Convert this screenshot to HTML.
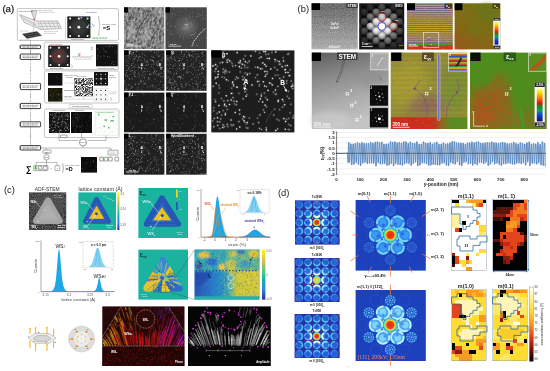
<!DOCTYPE html>
<html lang="en"><head><meta charset="utf-8"><title>Figure: 4D-STEM strain and symmetry mapping</title>
<style>
html,body{margin:0;padding:0;background:#fff;}
#fig{position:relative;width:550px;height:371px;overflow:hidden;background:#fff;}
svg{position:absolute;left:0;top:0;display:block;font-family:"Liberation Sans",sans-serif;filter:blur(0.3px);}
</style></head><body><div id="fig">
<svg width="550" height="371" viewBox="0 0 550 371">
<defs>
<filter id="nzA" x="0" y="0" width="100%" height="100%"><feTurbulence type="fractalNoise" baseFrequency="0.42 0.3" numOctaves="4" seed="3" result="t"/><feColorMatrix in="t" type="matrix" values="0 0 0 0 0  0 0 0 0 0  0 0 0 0 0  1.7 0 0 0 -0.5" result="n"/><feComposite in="SourceGraphic" in2="n" operator="in"/></filter>
<filter id="nzB" x="0" y="0" width="100%" height="100%"><feTurbulence type="fractalNoise" baseFrequency="0.9" numOctaves="2" seed="8" result="t"/><feColorMatrix in="t" type="matrix" values="0 0 0 0 0  0 0 0 0 0  0 0 0 0 0  0 3.4 0 0 -1.2" result="n"/><feComposite in="SourceGraphic" in2="n" operator="in"/></filter>
<filter id="bl1" x="-30%" y="-30%" width="160%" height="160%"><feGaussianBlur stdDeviation="1"/></filter>
<filter id="bl2" x="-30%" y="-30%" width="160%" height="160%"><feGaussianBlur stdDeviation="2.2"/></filter>
<filter id="bl4" x="-40%" y="-40%" width="180%" height="180%"><feGaussianBlur stdDeviation="4"/></filter>
<filter id="bl05" x="-30%" y="-30%" width="160%" height="160%"><feGaussianBlur stdDeviation="0.45"/></filter>
<linearGradient id="rainbow" x1="0" y1="0" x2="0" y2="1"><stop offset="0" stop-color="#fff8a0"/><stop offset="0.12" stop-color="#ffe000"/><stop offset="0.3" stop-color="#ff7000"/><stop offset="0.45" stop-color="#e01010"/><stop offset="0.55" stop-color="#109020"/><stop offset="0.68" stop-color="#10a060"/><stop offset="0.8" stop-color="#1040e0"/><stop offset="1" stop-color="#101060"/></linearGradient>
<linearGradient id="parula" x1="0" y1="0" x2="0" y2="1"><stop offset="0" stop-color="#f9fb0e"/><stop offset="0.25" stop-color="#d1ba58"/><stop offset="0.45" stop-color="#48cb86"/><stop offset="0.6" stop-color="#12b1b4"/><stop offset="0.8" stop-color="#2a88e0"/><stop offset="1" stop-color="#352a87"/></linearGradient>
<linearGradient id="hot" x1="0" y1="0" x2="0" y2="1"><stop offset="0" stop-color="#ffffff"/><stop offset="0.12" stop-color="#fff4a8"/><stop offset="0.3" stop-color="#ffe030"/><stop offset="0.5" stop-color="#f89820"/><stop offset="0.68" stop-color="#e03818"/><stop offset="0.85" stop-color="#701008"/><stop offset="1" stop-color="#000000"/></linearGradient>
<linearGradient id="stemG" x1="0" y1="0" x2="0.25" y2="1"><stop offset="0" stop-color="#5c5c5c"/><stop offset="0.35" stop-color="#8a8a8a"/><stop offset="0.7" stop-color="#adadad"/><stop offset="1" stop-color="#c4c4c4"/></linearGradient>
<linearGradient id="stem1G" x1="0" y1="0" x2="0" y2="1"><stop offset="0" stop-color="#565656"/><stop offset="0.5" stop-color="#868686"/><stop offset="1" stop-color="#b4b4b4"/></linearGradient>
<linearGradient id="map2G" x1="0.7" y1="0" x2="0.2" y2="1"><stop offset="0" stop-color="#737416"/><stop offset="0.5" stop-color="#806c16"/><stop offset="1" stop-color="#905e18"/></linearGradient>
<radialGradient id="dgray" cx="0.5" cy="0.5" r="0.5"><stop offset="0" stop-color="#8a8a8a"/><stop offset="0.35" stop-color="#626262"/><stop offset="1" stop-color="#626262" stop-opacity="0"/></radialGradient>
<radialGradient id="discA" cx="0.5" cy="0.35" r="0.7"><stop offset="0" stop-color="#ffffff"/><stop offset="0.55" stop-color="#b0b0b0"/><stop offset="1" stop-color="#303030"/></radialGradient>
<radialGradient id="ctr" cx="0.5" cy="0.5" r="0.5"><stop offset="0" stop-color="#e8281c"/><stop offset="0.45" stop-color="#f03c18"/><stop offset="0.6" stop-color="#f8d020"/><stop offset="0.74" stop-color="#70e090"/><stop offset="0.86" stop-color="#30c0f0"/><stop offset="1" stop-color="#2060e0" stop-opacity="0"/></radialGradient>
<radialGradient id="ctrY" cx="0.5" cy="0.5" r="0.5"><stop offset="0" stop-color="#d8e860"/><stop offset="0.4" stop-color="#b8e070"/><stop offset="0.6" stop-color="#f8d020"/><stop offset="0.74" stop-color="#70e090"/><stop offset="0.86" stop-color="#30c0f0"/><stop offset="1" stop-color="#2060e0" stop-opacity="0"/></radialGradient>
<radialGradient id="dsk" cx="0.5" cy="0.5" r="0.5"><stop offset="0" stop-color="#2a6cf0"/><stop offset="0.55" stop-color="#38a8f8"/><stop offset="0.85" stop-color="#70e0f0"/><stop offset="1" stop-color="#40b0f0" stop-opacity="0.2"/></radialGradient>
<radialGradient id="glow" cx="0.5" cy="0.5" r="0.5"><stop offset="0" stop-color="#fff" stop-opacity="0.75"/><stop offset="0.55" stop-color="#fff" stop-opacity="0.4"/><stop offset="1" stop-color="#fff" stop-opacity="0"/></radialGradient>
<linearGradient id="rg" x1="0" y1="0" x2="1" y2="0"><stop offset="0" stop-color="#cc281c"/><stop offset="0.55" stop-color="#c8301c"/><stop offset="0.68" stop-color="#8a6a20"/><stop offset="0.78" stop-color="#5c8a22"/><stop offset="1" stop-color="#5a8c22"/></linearGradient>
<linearGradient id="rotG" x1="0" y1="0" x2="1" y2="0"><stop offset="0" stop-color="#2a52b4"/><stop offset="0.25" stop-color="#2a78c8"/><stop offset="0.45" stop-color="#2e98c4"/><stop offset="0.55" stop-color="#58b89a"/><stop offset="0.64" stop-color="#d4c83c"/><stop offset="1" stop-color="#e6cc30"/></linearGradient>
</defs>

<text x="2.4" y="11.6" font-size="9.6" fill="#1a1a1a" font-weight="normal" text-anchor="start" stroke="#1a1a1a" stroke-width="0.25">(a)</text>
<rect x="17.3" y="8.6" width="101.2" height="31.8" rx="1.5" fill="none" stroke="#8a8a8a" stroke-width="0.5"/>
<g stroke="#555" stroke-width="0.35" fill="none">
<path d="M31 10.4 L37 10.4 L34.4 20.6 Z" fill="#ddd"/>
<path d="M19.6 14.6 L37 21 L58 21 L61.4 28.6 L41 29.6 L24 22.4 Z" fill="#ececec"/>
<path d="M37 21 L41 29.6 M34.4 20.6 L33 33 M21 16 L36 24.6 M23 19 L38.6 27 M40 21 L43.6 29.4 M44 21 L47.6 29.2 M48 21 L51.6 29 M52 21 L55.6 28.8 M56 21 L59 28.6 M38 23.4 H59.4 M39.4 26.4 H60.4" stroke="#777" stroke-width="0.3"/>
<path d="M22.4 34 L37 31.4 L41.6 35.6 L27 38.6 Z" fill="#2a2a2a"/>
<path d="M25 35.4 L38 33 M27 37 L40 34.6" stroke="#bbb" stroke-width="0.3"/>
<path d="M38 10.6 L52 10.6 M39 12.4 L55 12.4 M44 31.6 L58 31.6 M44 33.4 L56 33.4 M20 31 H28 M20 40 H30" stroke="#888" stroke-width="0.4" stroke-dasharray="3 0.5 2 0.4"/>
</g>
<circle cx="34.2" cy="19.3" r="0.9" fill="#e55" />
<text x="18.6" y="11.6" font-size="1.9" fill="#444" font-weight="normal" text-anchor="start" >Converging beam</text>
<rect x="67.3" y="16.4" width="23.1" height="21.8" fill="#1c1c1c" />
<circle cx="78.85" cy="27.3" r="9" fill="#555" opacity="0.5" filter="url(#bl2)"/>
<circle cx="70.15" cy="18.6" r="1.06" fill="#fff" opacity="0.95" filter="url(#bl05)"/>
<circle cx="70.15" cy="27.3" r="1.06" fill="#fff" opacity="0.95" filter="url(#bl05)"/>
<circle cx="70.15" cy="36" r="1.06" fill="#fff" opacity="0.95" filter="url(#bl05)"/>
<circle cx="78.85" cy="18.6" r="1.06" fill="#fff" opacity="0.95" filter="url(#bl05)"/>
<circle cx="78.85" cy="27.3" r="1.44" fill="#fff" opacity="0.95" filter="url(#bl05)"/>
<circle cx="78.85" cy="36" r="1.06" fill="#fff" opacity="0.95" filter="url(#bl05)"/>
<circle cx="87.55" cy="18.6" r="1.06" fill="#fff" opacity="0.95" filter="url(#bl05)"/>
<circle cx="87.55" cy="27.3" r="1.06" fill="#fff" opacity="0.95" filter="url(#bl05)"/>
<circle cx="87.55" cy="36" r="1.06" fill="#fff" opacity="0.95" filter="url(#bl05)"/>
<path d="M65.5 18 L67.3 16.4 M65.5 18 L65.5 38.8" stroke="#c55" stroke-width="0.3" fill="none"/>
<g stroke="#2a9a2a" stroke-width="0.45" stroke-dasharray="0.9 0.6" fill="none"><path d="M81 19.5 L90 30"/><path d="M83.5 18 L92 28"/><path d="M86 17 L93.5 26"/><path d="M88 34 L92 37.5 L108 37.5"/></g>
<text x="86" y="12.7" font-size="2" fill="#33d" font-weight="normal" text-anchor="start" >SI collection</text>
<circle cx="81.3" cy="17.8" r="1" fill="#99f" />
<circle cx="88.6" cy="25.3" r="0.9" fill="#99f" />
<text x="92" y="38.9" font-size="1.8" fill="#2a9a2a" font-weight="normal" text-anchor="start" >Intensity reference</text>
<text x="71" y="40" font-size="1.7" fill="#555" font-weight="normal" text-anchor="start" >Diffraction pattern</text>
<path d="M98.5 16 q2.5 10 0 20" stroke="#666" stroke-width="0.4" fill="none"/>
<text x="102" y="24.6" font-size="1.9" fill="#555" font-weight="normal" text-anchor="start" >SI feature vector</text>
<text x="102.8" y="30" font-size="5.8" fill="#000" font-weight="bold" text-anchor="start" >=S</text>
<path d="M92 24 l2.4 1.6 l-1.2 1.8" stroke="#555" stroke-width="0.35" fill="none"/>
<rect x="20.4" y="45.2" width="20.2" height="3.4" rx="0.6" fill="none" stroke="#1a1a1a" stroke-width="0.85"/>
<text x="19.3" y="47.7" font-size="3.4" fill="#444" font-weight="normal" text-anchor="start" >[</text>
<path d="M22.6 46.3 H38.6 M22.6 47.7 H37" stroke="#555" stroke-width="0.55" stroke-dasharray="2.2 0.5 1.4 0.4"/>
<rect x="20.4" y="54" width="20.2" height="5.4" rx="0.6" fill="none" stroke="#1a1a1a" stroke-width="0.85"/>
<text x="19.3" y="57.5" font-size="3.4" fill="#444" font-weight="normal" text-anchor="start" >[</text>
<path d="M22.6 56.1 H38.6 M22.6 57.5 H37" stroke="#555" stroke-width="0.55" stroke-dasharray="2.2 0.5 1.4 0.4"/>
<rect x="20.4" y="83.4" width="20.2" height="6.2" rx="0.6" fill="none" stroke="#1a1a1a" stroke-width="0.85"/>
<text x="19.3" y="87.3" font-size="3.4" fill="#444" font-weight="normal" text-anchor="start" >[</text>
<path d="M22.6 85.9 H38.6 M22.6 87.3 H37" stroke="#555" stroke-width="0.55" stroke-dasharray="2.2 0.5 1.4 0.4"/>
<rect x="20.4" y="103.4" width="20.2" height="5.2" rx="0.6" fill="none" stroke="#1a1a1a" stroke-width="0.85"/>
<text x="19.3" y="106.8" font-size="3.4" fill="#444" font-weight="normal" text-anchor="start" >[</text>
<path d="M22.6 105.4 H38.6 M22.6 106.8 H37" stroke="#555" stroke-width="0.55" stroke-dasharray="2.2 0.5 1.4 0.4"/>
<rect x="20.4" y="121.8" width="20.2" height="5" rx="0.6" fill="none" stroke="#1a1a1a" stroke-width="0.85"/>
<text x="19.3" y="125.1" font-size="3.4" fill="#444" font-weight="normal" text-anchor="start" >[</text>
<path d="M22.6 123.7 H38.6 M22.6 125.1 H37" stroke="#555" stroke-width="0.55" stroke-dasharray="2.2 0.5 1.4 0.4"/>
<rect x="20.4" y="145.6" width="20.2" height="4.4" rx="0.6" fill="none" stroke="#1a1a1a" stroke-width="0.85"/>
<text x="19.3" y="148.6" font-size="3.4" fill="#444" font-weight="normal" text-anchor="start" >[</text>
<path d="M22.6 147.2 H38.6 M22.6 148.6 H37" stroke="#555" stroke-width="0.55" stroke-dasharray="2.2 0.5 1.4 0.4"/>
<line x1="30.5" y1="40.4" x2="30.5" y2="45.2" stroke="#666" stroke-width="0.4" />
<line x1="30.5" y1="48.6" x2="30.5" y2="54" stroke="#666" stroke-width="0.4" />
<line x1="30.5" y1="59.4" x2="30.5" y2="83.4" stroke="#666" stroke-width="0.4" stroke-dasharray="2.2 1.2"/>
<line x1="30.5" y1="89.6" x2="30.5" y2="103.4" stroke="#666" stroke-width="0.4" stroke-dasharray="2.2 1.2"/>
<line x1="30.5" y1="108.6" x2="30.5" y2="121.8" stroke="#666" stroke-width="0.4" stroke-dasharray="2.2 1.2"/>
<line x1="30.5" y1="126.8" x2="30.5" y2="145.6" stroke="#666" stroke-width="0.4" />
<circle cx="30.5" cy="51.3" r="0.45" fill="#444" />
<circle cx="30.5" cy="70" r="0.45" fill="#444" />
<circle cx="30.5" cy="96" r="0.45" fill="#444" />
<circle cx="30.5" cy="115" r="0.45" fill="#444" />
<circle cx="30.5" cy="136" r="0.45" fill="#444" />
<rect x="44.2" y="42.2" width="74.3" height="27.4" rx="1.5" fill="none" stroke="#8a8a8a" stroke-width="0.5"/>
<rect x="48.2" y="45.6" width="21.8" height="21.4" fill="#1c1c1c" />
<circle cx="59.1" cy="56.3" r="9" fill="#555" opacity="0.5" filter="url(#bl2)"/>
<circle cx="50.5" cy="47.7" r="1" fill="#fff" opacity="0.95" filter="url(#bl05)"/>
<circle cx="50.5" cy="56.3" r="1" fill="#fff" opacity="0.95" filter="url(#bl05)"/>
<circle cx="50.5" cy="64.9" r="1" fill="#fff" opacity="0.95" filter="url(#bl05)"/>
<circle cx="59.1" cy="47.7" r="1" fill="#fff" opacity="0.95" filter="url(#bl05)"/>
<circle cx="59.1" cy="56.3" r="1.36" fill="#fff" opacity="0.95" filter="url(#bl05)"/>
<circle cx="59.1" cy="64.9" r="1" fill="#fff" opacity="0.95" filter="url(#bl05)"/>
<circle cx="67.7" cy="47.7" r="1" fill="#fff" opacity="0.95" filter="url(#bl05)"/>
<circle cx="67.7" cy="56.3" r="1" fill="#fff" opacity="0.95" filter="url(#bl05)"/>
<circle cx="67.7" cy="64.9" r="1" fill="#fff" opacity="0.95" filter="url(#bl05)"/>
<circle cx="59.1" cy="56.3" r="2.6" fill="none" stroke="#e03030" stroke-width="0.45" opacity="1"/>
<circle cx="59.1" cy="56.3" r="4.6" fill="none" stroke="#e03030" stroke-width="0.45" opacity="0.85"/>
<circle cx="59.1" cy="56.3" r="6.6" fill="none" stroke="#e03030" stroke-width="0.45" opacity="0.65"/>
<text x="49" y="44.9" font-size="1.9" fill="#e03030" font-weight="normal" text-anchor="start" >Virtual aperture</text>
<text x="50" y="69" font-size="1.7" fill="#555" font-weight="normal" text-anchor="start" >Diffraction pattern</text>
<path d="M72 57.2 l1.5 -0.6 l1 0.9 l1.4 -1.2 l1 1 l1.2 -0.4 l0.8 -3.2 l0.7 3.4 l1.3 0.2 l1.2 -0.8 l1 0.9 l1.4 -0.7 l1.1 0.8 l1.5 -1 l1.1 0.9 l1.4 -0.6 l1.2 0.5 l1.6 -2.4" stroke="#444" stroke-width="0.35" fill="none"/>
<line x1="79.9" y1="52.8" x2="79.9" y2="55.8" stroke="#e03030" stroke-width="0.5" />
<path d="M74 59.2 H92" stroke="#777" stroke-width="0.3"/>
<text x="90.8" y="49.4" font-size="3" fill="#555" font-weight="normal" text-anchor="start" >∑</text>
<path d="M70.5 64.5 l2 1.6 l-1 1.8" stroke="#555" stroke-width="0.35" fill="none"/>
<rect x="96" y="44.3" width="21.8" height="22" fill="#121212" />
<path d="M103.2 48h0M100.3 57h0M116.1 52.3h0" stroke="#fff" stroke-width="0.58" stroke-linecap="round" fill="none" opacity="0.48"/>
<path d="M98 56.1h0M112.7 46.5h0M112.9 62h0M114 64.6h0" stroke="#fff" stroke-width="0.47" stroke-linecap="round" fill="none" opacity="0.82"/>
<path d="M97.7 55.5h0M105.3 62.2h0M108.7 45.8h0" stroke="#fff" stroke-width="0.36" stroke-linecap="round" fill="none" opacity="0.48"/>
<path d="M105.5 46.3h0M109.6 57h0M104.2 56.3h0M104 50h0" stroke="#fff" stroke-width="0.36" stroke-linecap="round" fill="none" opacity="0.82"/>
<path d="M108.1 47.6h0M103.8 55.2h0M111.4 63.4h0" stroke="#fff" stroke-width="0.47" stroke-linecap="round" fill="none" opacity="0.48"/>
<path d="M107.7 56.8h0M97.7 49.1h0M97.3 58.8h0" stroke="#fff" stroke-width="0.58" stroke-linecap="round" fill="none" opacity="0.82"/>
<path d="M105.4 51.4h0M109.2 46.3h0M110.3 46.1h0" stroke="#fff" stroke-width="0.58" stroke-linecap="round" fill="none" opacity="0.65"/>
<path d="M106.8 52h0M99.9 52h0M110 65.7h0" stroke="#fff" stroke-width="0.47" stroke-linecap="round" fill="none" opacity="0.65"/>
<text x="97.5" y="69" font-size="1.7" fill="#555" font-weight="normal" text-anchor="start" >Virtual dark field image</text>
<rect x="44.4" y="71" width="74.6" height="32" rx="1.5" fill="none" stroke="#8a8a8a" stroke-width="0.5"/>
<rect x="48" y="73" width="14.4" height="12.6" fill="#0e0e0e" />
<rect x="48" y="88" width="14.4" height="13.6" fill="#17170c" />
<path d="M55.1 91.2h0M58.4 93.5h0M50.7 93.6h0M54.1 93h0" stroke="#c8c850" stroke-width="0.45" stroke-linecap="round" fill="none" opacity="0.48"/>
<path d="M59.5 99.4h0M52 88.6h0M49.7 89.8h0" stroke="#c8c850" stroke-width="0.45" stroke-linecap="round" fill="none" opacity="0.82"/>
<path d="M50.5 90.7h0M53.4 95.6h0M52 98.9h0M50.5 95.3h0M52.5 96.6h0" stroke="#c8c850" stroke-width="0.35" stroke-linecap="round" fill="none" opacity="0.82"/>
<path d="M51.6 94.6h0M54.4 89.9h0M49.9 95.6h0" stroke="#c8c850" stroke-width="0.55" stroke-linecap="round" fill="none" opacity="0.48"/>
<path d="M60 100.5h0M58.4 94.3h0" stroke="#c8c850" stroke-width="0.55" stroke-linecap="round" fill="none" opacity="0.82"/>
<path d="M53.8 93.5h0M56.6 94.5h0M59.8 95h0" stroke="#c8c850" stroke-width="0.35" stroke-linecap="round" fill="none" opacity="0.65"/>
<path d="M57 89.3h0M61.2 96.2h0" stroke="#c8c850" stroke-width="0.35" stroke-linecap="round" fill="none" opacity="0.48"/>
<path d="M56.7 90.4h0M61.8 94.4h0" stroke="#c8c850" stroke-width="0.45" stroke-linecap="round" fill="none" opacity="0.65"/>
<path d="M48.8 100.5h0M58.8 95.2h0" stroke="#c8c850" stroke-width="0.55" stroke-linecap="round" fill="none" opacity="0.65"/>
<path d="M57 80.6h0M59.5 82.1h0M55.4 77.6h0M61.3 77.7h0" stroke="#ddd" stroke-width="0.28" stroke-linecap="round" fill="none" opacity="0.35"/>
<path d="M59.1 79h0" stroke="#ddd" stroke-width="0.28" stroke-linecap="round" fill="none" opacity="0.55"/>
<path d="M56.6 77.5h0" stroke="#ddd" stroke-width="0.46" stroke-linecap="round" fill="none" opacity="0.45"/>
<path d="M51.5 75.8h0M56.9 83.9h0" stroke="#ddd" stroke-width="0.28" stroke-linecap="round" fill="none" opacity="0.45"/>
<rect x="74.4" y="78" width="18.6" height="18.2" fill="#1a1a1a" />
<g filter="url(#nzB)"><rect x="74.4" y="78" width="18.6" height="18.2" fill="#ffffff"/></g>
<rect x="94" y="72" width="14" height="13.6" fill="#161616" />
<circle cx="96.4" cy="74.2" r="0.55" fill="#fff" />
<circle cx="96.4" cy="78.8" r="0.55" fill="#fff" />
<circle cx="96.4" cy="83.4" r="0.55" fill="#fff" />
<circle cx="101" cy="74.2" r="0.55" fill="#fff" />
<circle cx="101" cy="78.8" r="0.95" fill="#fff" />
<circle cx="101" cy="83.4" r="0.55" fill="#fff" />
<circle cx="105.6" cy="74.2" r="0.55" fill="#fff" />
<circle cx="105.6" cy="78.8" r="0.55" fill="#fff" />
<circle cx="105.6" cy="83.4" r="0.55" fill="#fff" />
<line x1="95" y1="78.8" x2="107" y2="78.8" stroke="#aaa" stroke-width="0.25" />
<line x1="101" y1="73" x2="101" y2="85" stroke="#aaa" stroke-width="0.25" />
<rect x="94" y="88.6" width="14" height="12.4" fill="#fafafa" stroke="#bbb" stroke-width="0.3"/>
<circle cx="96.4" cy="90.4" r="0.6" fill="#111" />
<circle cx="96.4" cy="94.8" r="0.6" fill="#111" />
<circle cx="96.4" cy="99.2" r="0.6" fill="#111" />
<circle cx="101" cy="90.4" r="0.6" fill="#111" />
<circle cx="101" cy="94.8" r="0.6" fill="#111" />
<circle cx="101" cy="99.2" r="0.6" fill="#111" />
<circle cx="105.6" cy="90.4" r="0.6" fill="#111" />
<circle cx="105.6" cy="94.8" r="0.6" fill="#111" />
<circle cx="105.6" cy="99.2" r="0.6" fill="#111" />
<text x="64.5" y="75.5" font-size="1.7" fill="#555" font-weight="normal" text-anchor="start" >Cross-correlation</text>
<text x="66" y="77.5" font-size="1.7" fill="#555" font-weight="normal" text-anchor="start" >template</text>
<text x="77" y="76.6" font-size="1.7" fill="#555" font-weight="normal" text-anchor="start" >Convolution</text>
<text x="109.5" y="76" font-size="1.7" fill="#555" font-weight="normal" text-anchor="start" >Bragg</text>
<text x="109" y="78" font-size="1.7" fill="#555" font-weight="normal" text-anchor="start" >detection</text>
<text x="64.5" y="91" font-size="1.7" fill="#555" font-weight="normal" text-anchor="start" >Noise template</text>
<text x="64.5" y="97" font-size="1.7" fill="#555" font-weight="normal" text-anchor="start" >Edge filter</text>
<path d="M64 83 H73.6" stroke="#777" stroke-width="0.3" stroke-dasharray="1 0.6"/>
<path d="M64 90.5 H73.6" stroke="#777" stroke-width="0.3" stroke-dasharray="1 0.6"/>
<path d="M64 97.5 H73.6" stroke="#777" stroke-width="0.3" stroke-dasharray="1 0.6"/>
<line x1="83.7" y1="96.2" x2="83.7" y2="99.2" stroke="#666" stroke-width="0.35" />
<line x1="64" y1="99.2" x2="93" y2="99.2" stroke="#888" stroke-width="0.3" />
<path d="M110 97.5 l2 1.6 l-1 1.8" stroke="#555" stroke-width="0.35" fill="none"/>
<path d="M109 92 H117 M109 93.6 H116" stroke="#999" stroke-width="0.35"/>
<rect x="69" y="104.4" width="23" height="3.6" rx="0.8" fill="none" stroke="#999" stroke-width="0.4"/>
<text x="80.5" y="107.1" font-size="1.8" fill="#444" font-weight="normal" text-anchor="middle" >FFT dark-field images</text>
<rect x="44.4" y="109" width="74.6" height="28.6" rx="1.5" fill="none" stroke="#8a8a8a" stroke-width="0.5"/>
<rect x="49" y="112" width="21" height="21" fill="#141414" />
<path d="M67.7 119.4h0M61.3 121.8h0M68.2 115.6h0M52.1 115.5h0M67 128h0M67.2 115.8h0M58.1 126.5h0M67.7 127.6h0M66.2 123.7h0M67.5 114.3h0M62.2 116.5h0" stroke="#fff" stroke-width="0.76" stroke-linecap="round" fill="none" opacity="0.58"/>
<path d="M66.2 114.9h0M61.7 124.4h0M67.7 119.6h0M61.2 130.6h0M50.3 114.5h0M60 130h0M58.3 112.9h0M54.7 116.1h0M58.1 122.4h0M52.8 114.2h0M58.4 117.8h0" stroke="#fff" stroke-width="0.6" stroke-linecap="round" fill="none" opacity="0.92"/>
<path d="M64.5 122.1h0M51.6 127.5h0M65 115.5h0M61.9 114.9h0M67.2 113.6h0M50.1 130.4h0M68.9 116.9h0M54.8 113.3h0M65.5 116.2h0M55.7 116.8h0M55.4 121.7h0M50.3 125.2h0M64.4 122h0" stroke="#fff" stroke-width="0.44" stroke-linecap="round" fill="none" opacity="0.75"/>
<path d="M65.3 119.2h0M52.7 121.1h0M63.9 112.9h0M64.6 128.9h0M58.6 119.3h0M59.6 132.1h0M67.4 128.2h0M56.1 125.5h0" stroke="#fff" stroke-width="0.76" stroke-linecap="round" fill="none" opacity="0.75"/>
<path d="M58.8 127.4h0M54.5 118.4h0M65.6 122.7h0M62.9 121.1h0M55.6 114.9h0M69.4 113.2h0M62.9 118.1h0M55.5 125.1h0M68.7 129.6h0M54.2 127.6h0M59.1 126.2h0M59.2 132h0" stroke="#fff" stroke-width="0.44" stroke-linecap="round" fill="none" opacity="0.92"/>
<path d="M52.7 132.4h0M69.2 116.4h0M56 123.4h0M62 122.7h0M69.2 128.3h0M68 117.9h0M60 117.3h0M52.3 132.3h0M59 122.6h0M55.2 124.9h0M68.6 125.4h0" stroke="#fff" stroke-width="0.44" stroke-linecap="round" fill="none" opacity="0.58"/>
<path d="M49.9 128.5h0M56 132h0M53.5 118h0M57.6 123.2h0M54.4 121.4h0M53.5 130.1h0M66 126.8h0M66 124.2h0M49.6 128.5h0M53.9 122.3h0" stroke="#fff" stroke-width="0.76" stroke-linecap="round" fill="none" opacity="0.92"/>
<path d="M63.1 123.1h0M67.4 116.6h0M57.8 120.3h0M62.4 119.8h0M56.3 116.4h0M59.4 119h0M68.3 125.2h0M61.7 116.9h0M59.5 116.1h0M56 113.2h0M56.6 112.5h0M59.6 112.6h0M52.4 124.2h0M64.8 126.9h0M62.5 121.7h0M61.9 115.2h0" stroke="#fff" stroke-width="0.6" stroke-linecap="round" fill="none" opacity="0.58"/>
<path d="M55.6 127.7h0M49.8 125h0M62 126.1h0" stroke="#fff" stroke-width="0.6" stroke-linecap="round" fill="none" opacity="0.75"/>
<rect x="71" y="112" width="21" height="21" fill="#0c0c0c" />
<path d="M77.2 121.8h0M90.3 116.4h0M76.7 123.9h0M77.1 131.9h0M81.2 130.7h0M91 115.3h0M78 120.4h0M82 125.5h0" stroke="#ddd" stroke-width="0.24" stroke-linecap="round" fill="none" opacity="0.63"/>
<path d="M75.5 132.1h0M77.1 114.8h0M81.5 130h0M79 114.9h0M78 119.3h0M86.6 129.6h0M75.3 120h0M81.5 126h0M76.6 125.8h0M80.8 117.8h0M88.3 132.2h0M76.5 125h0M82.4 115.7h0" stroke="#ddd" stroke-width="0.32" stroke-linecap="round" fill="none" opacity="0.37"/>
<path d="M77.3 114h0M83.1 115.3h0M74.7 131.5h0M76.5 117.8h0M75.6 114.1h0M80.5 127.6h0M76.6 127.3h0M81.3 114h0M90.3 126.9h0M81.4 126.4h0M72.7 120.4h0M80.9 118.7h0M86.2 122h0M75.4 113.8h0M75.2 128.6h0M73.4 122.5h0M73.6 124.4h0" stroke="#ddd" stroke-width="0.4" stroke-linecap="round" fill="none" opacity="0.5"/>
<path d="M91.4 120.2h0M74.3 116.3h0M81.6 125.1h0M80.4 131.6h0M90.9 117.5h0M73.2 128h0M84.2 126.5h0M85.6 118.6h0M90.9 118.7h0M90.5 122.4h0M74.4 120.4h0M90.4 113.8h0M73.1 116.4h0M91.3 117.8h0M76.7 121.3h0M72.3 118.4h0M75.9 119.9h0" stroke="#ddd" stroke-width="0.24" stroke-linecap="round" fill="none" opacity="0.37"/>
<path d="M90.6 115.2h0M87.7 125.1h0M88.9 120.2h0M76.2 130.9h0M75.3 125.5h0M77.4 126.9h0M89.3 117.2h0M75.6 117.6h0" stroke="#ddd" stroke-width="0.4" stroke-linecap="round" fill="none" opacity="0.63"/>
<path d="M79.6 127h0M77.3 119.9h0M91.5 124.3h0M74.9 120.8h0M75.9 130.6h0M71.7 118.5h0M79.1 127.9h0M82.3 121.4h0M76.7 126.8h0M81 131.6h0M86.7 128.1h0M89.2 117.1h0" stroke="#ddd" stroke-width="0.32" stroke-linecap="round" fill="none" opacity="0.5"/>
<path d="M72.5 125.7h0M81.2 130.7h0M84.9 114.9h0M74.6 122.9h0M72.9 123h0M79.3 117h0M79.9 130.2h0M78.8 119.2h0M88 128h0M76.2 118.1h0M75.3 132h0M83.6 128h0" stroke="#ddd" stroke-width="0.4" stroke-linecap="round" fill="none" opacity="0.37"/>
<path d="M79.6 117.3h0M73 122.5h0M76.9 117.5h0M72.1 126.7h0M77.6 115.1h0M78.1 118.9h0M79.7 125.5h0M75 115.2h0M77.1 117.9h0" stroke="#ddd" stroke-width="0.32" stroke-linecap="round" fill="none" opacity="0.63"/>
<path d="M78.3 114.3h0M75.7 117.9h0M90.7 125.4h0M82 123.4h0M78.7 120.4h0M86.3 122.6h0M86.2 132.5h0M73.7 114.1h0M73.3 126.6h0M79 121.8h0M89.8 128.8h0M80.8 113.2h0M90.1 119.9h0M84.5 116.6h0" stroke="#ddd" stroke-width="0.24" stroke-linecap="round" fill="none" opacity="0.5"/>
<rect x="95" y="111" width="23.4" height="24.4" fill="#fcfcfc" stroke="#9c9" stroke-width="0.4" stroke-dasharray="0.8 0.5"/>
<rect x="104.5" y="119.5" width="2.6" height="1" fill="#1a9a3a" />
<rect x="110.5" y="120.3" width="3" height="1" fill="#1a9a3a" />
<rect x="112.5" y="116.2" width="1.6" height="1" fill="#1a9a3a" />
<rect x="103.5" y="125.8" width="1.6" height="1" fill="#1a9a3a" />
<rect x="108" y="127.3" width="1.6" height="1" fill="#1a9a3a" />
<rect x="98" y="114.3" width="1.4" height="1" fill="#1a9a3a" />
<path d="M105.1 120.5h0" stroke="#3a3" stroke-width="0.46" stroke-linecap="round" fill="none" opacity="0.7"/>
<path d="M98.1 113.2h0M106.7 121.3h0M96.9 129h0" stroke="#3a3" stroke-width="0.37" stroke-linecap="round" fill="none" opacity="0.83"/>
<path d="M108.1 126.2h0M99.2 113.6h0" stroke="#3a3" stroke-width="0.28" stroke-linecap="round" fill="none" opacity="0.83"/>
<path d="M99.9 127.5h0M112.2 131.5h0" stroke="#3a3" stroke-width="0.37" stroke-linecap="round" fill="none" opacity="0.7"/>
<path d="M110.5 121.5h0" stroke="#3a3" stroke-width="0.28" stroke-linecap="round" fill="none" opacity="0.7"/>
<path d="M100.6 128.2h0M105.6 115.9h0M116 128.4h0" stroke="#3a3" stroke-width="0.28" stroke-linecap="round" fill="none" opacity="0.57"/>
<path d="M105 131.5h0" stroke="#3a3" stroke-width="0.37" stroke-linecap="round" fill="none" opacity="0.57"/>
<path d="M113.4 121h0" stroke="#3a3" stroke-width="0.46" stroke-linecap="round" fill="none" opacity="0.83"/>
<text x="52" y="111.2" font-size="1.6" fill="#555" font-weight="normal" text-anchor="start" >Average dark-field</text>
<text x="75" y="111.2" font-size="1.6" fill="#555" font-weight="normal" text-anchor="start" >Filtered map</text>
<text x="96.5" y="113.2" font-size="1.6" fill="#3a3" font-weight="normal" text-anchor="start" >Precipitate identification</text>
<text x="52" y="130.5" font-size="1.8" fill="#fff" font-weight="normal" text-anchor="start" >β″</text>
<text x="59.5" y="130.5" font-size="1.8" fill="#fff" font-weight="normal" text-anchor="start" >β′</text>
<text x="65" y="130.5" font-size="1.8" fill="#fff" font-weight="normal" text-anchor="start" >Q′</text>
<rect x="60.5" y="135" width="6.5" height="2.6" rx="0.4" fill="#fff" stroke="#3a3a3a" stroke-width="0.45"/>
<path d="M59 133 V140.5 H78.5 M106 135.4 V140.5 H87.5 M81.5 133 V138" stroke="#3a3a3a" stroke-width="0.35" fill="none"/>
<circle cx="83" cy="142.4" r="3.6" fill="#fff" stroke="#2a2a2a" stroke-width="0.45"/>
<text x="83" y="143.1" font-size="1.6" fill="#555" font-weight="normal" text-anchor="middle" >Phase ID</text>
<path d="M83 146 V148 H46 M40 148 H46 V150 M111 148 H83 M111 148 V150" stroke="#3a3a3a" stroke-width="0.35" fill="none"/>
<rect x="43" y="150" width="8" height="3.2" rx="0.5" fill="none" stroke="#2a2a2a" stroke-width="0.4"/>
<text x="47" y="152.5" font-size="1.8" fill="#444" font-weight="normal" text-anchor="middle" >NMF</text>
<circle cx="46.5" cy="157.3" r="2.7" fill="#fff" stroke="#2a2a2a" stroke-width="0.4"/>
<line x1="46.5" y1="153.2" x2="46.5" y2="154.6" stroke="#3a3a3a" stroke-width="0.35" />
<text x="46.5" y="158" font-size="1.5" fill="#555" font-weight="normal" text-anchor="middle" >Comp.</text>
<rect x="108" y="150.2" width="10" height="4.8" rx="0.5" fill="none" stroke="#2a2a2a" stroke-width="0.4"/>
<path d="M109.5 152 H116.5 M109.5 153.4 H115" stroke="#888" stroke-width="0.35"/>
<rect x="99.8" y="157.2" width="3.6" height="3.8" rx="0.3" fill="#e8ffe8" stroke="#2a2a2a" stroke-width="0.45"/>
<rect x="104.2" y="157.2" width="3.6" height="3.8" rx="0.3" fill="#fff" stroke="#2a2a2a" stroke-width="0.45"/>
<rect x="108.6" y="157.2" width="3.6" height="3.8" rx="0.3" fill="#fff" stroke="#2a2a2a" stroke-width="0.45"/>
<rect x="115" y="157.2" width="3.6" height="3.8" rx="0.3" fill="#fff" stroke="#2a2a2a" stroke-width="0.45"/>
<text x="112.5" y="160.3" font-size="2.2" fill="#555" font-weight="normal" text-anchor="start" >···</text>
<path d="M46.5 160 V162.4 H36 V165.6 M46.5 162.4 H57 V165.6 M46.5 162.4 V165.6" stroke="#3a3a3a" stroke-width="0.35" fill="none"/>
<text x="26" y="172" font-size="8" fill="#000" font-weight="bold" text-anchor="start" >∑</text>
<rect x="33.6" y="165.6" width="14.4" height="5" rx="0.5" fill="none" stroke="#3a3a3a" stroke-width="0.4"/>
<rect x="34.3" y="166.3" width="3.1" height="3.6" fill="#9fe89f" />
<text x="35.8" y="169.4" font-size="2.8" fill="#111" font-weight="bold" text-anchor="middle" >1</text>
<rect x="38.4" y="166.3" width="3.6" height="3.6" rx="0.3" fill="none" stroke="#3a3a3a" stroke-width="0.45"/>
<rect x="43.4" y="166.3" width="3.6" height="3.6" rx="0.3" fill="none" stroke="#3a3a3a" stroke-width="0.45"/>
<text x="39" y="169.2" font-size="2" fill="#555" font-weight="normal" text-anchor="start" >▪▪</text>
<text x="50.2" y="169.4" font-size="3" fill="#333" font-weight="normal" text-anchor="start" >–</text>
<rect x="55" y="165.6" width="4.8" height="5" rx="0.5" fill="none" stroke="#3a3a3a" stroke-width="0.4"/>
<text x="57.4" y="169.3" font-size="2.4" fill="#555" font-weight="normal" text-anchor="middle" >n</text>
<path d="M62.6 163.5 q1.6 4.6 0 9.2" stroke="#2a2a2a" stroke-width="0.4" fill="none"/>
<text x="65" y="165.6" font-size="1.7" fill="#555" font-weight="normal" text-anchor="start" >NMF feature vector</text>
<text x="65.6" y="170.8" font-size="5.4" fill="#000" font-weight="bold" text-anchor="start" >=D</text>
<rect x="81" y="157" width="16" height="15.6" fill="#0b0b0b" />
<path d="M86.7 159.9h0M93.7 163.3h0M92.5 169.4h0" stroke="#ccc" stroke-width="0.23" stroke-linecap="round" fill="none" opacity="0.37"/>
<path d="M83.1 164.7h0M82.1 169.7h0M91.2 162h0M93.3 171.1h0M85.6 169.4h0M89.3 167.6h0M83.7 162.3h0M85 166.5h0" stroke="#ccc" stroke-width="0.23" stroke-linecap="round" fill="none" opacity="0.5"/>
<path d="M83.4 171.3h0M84.2 157.6h0M85.4 164.9h0" stroke="#ccc" stroke-width="0.3" stroke-linecap="round" fill="none" opacity="0.5"/>
<path d="M82.3 171h0M85 168.6h0M95.5 167.4h0" stroke="#ccc" stroke-width="0.3" stroke-linecap="round" fill="none" opacity="0.37"/>
<path d="M95.1 166.6h0M94.2 169.6h0M87.3 159.3h0M95.8 159.5h0M96.2 164.7h0M89 170.9h0M82.1 160.2h0" stroke="#ccc" stroke-width="0.23" stroke-linecap="round" fill="none" opacity="0.63"/>
<path d="M93.3 160.7h0M86.9 162.8h0M82.7 168.5h0M90.7 161.2h0M91 162.8h0M96.4 166.7h0M93.5 161.4h0" stroke="#ccc" stroke-width="0.3" stroke-linecap="round" fill="none" opacity="0.63"/>
<path d="M84.8 163.3h0M89.2 158.1h0M93.4 161.4h0M95.4 170.6h0" stroke="#ccc" stroke-width="0.37" stroke-linecap="round" fill="none" opacity="0.37"/>
<path d="M93.7 160.3h0M82.7 168.2h0M93.8 161.2h0" stroke="#ccc" stroke-width="0.37" stroke-linecap="round" fill="none" opacity="0.63"/>
<path d="M90.5 165.5h0M87.3 162.9h0" stroke="#ccc" stroke-width="0.37" stroke-linecap="round" fill="none" opacity="0.5"/>
<circle cx="96.6" cy="157.3" r="0.5" fill="#e33" />
<rect x="124" y="7.3" width="40.2" height="41.7" fill="#a8a8a8" />
<g filter="url(#nzA)"><rect x="124" y="7.3" width="40.2" height="41.7" fill="#3a3a3a"/></g>
<g filter="url(#bl05)" stroke="#444" stroke-width="1.3" fill="none" opacity="0.7"><path d="M149 13.6 L144 20 L141 24 L138 31 L136 37"/><path d="M159 28.5 L155 33 L152.6 37 L150 44 L149.4 47"/><path d="M131.6 13.8 L129.8 20"/><path d="M157 17 L153 22"/></g>
<g filter="url(#bl2)" fill="#d0d0d0" opacity="0.4"><ellipse cx="131" cy="32" rx="4" ry="8"/><ellipse cx="146" cy="36" rx="4" ry="7"/><ellipse cx="160" cy="12" rx="4" ry="4"/></g>
<rect x="124" y="7.3" width="4.2" height="5.3" fill="#000" />
<rect x="126" y="45.6" width="15" height="0.7" fill="#fff" />
<text x="127" y="45" font-size="2" fill="#fff" font-weight="bold" text-anchor="start" >200 nm</text>
<rect x="165.5" y="7.3" width="41.3" height="41.7" fill="#464646" />
<circle cx="186.5" cy="27" r="13" fill="url(#dgray)"/>
<path d="M196.1 16.8h0M192 30.7h0M206.1 37.3h0M187.7 23.1h0M201.9 38.1h0M202.3 28.2h0M172.1 13.8h0M167.4 24h0M166.2 17.7h0M171 25.4h0M185.5 8.6h0M194.4 35.8h0M197.6 16.3h0" stroke="#fff" stroke-width="0.42" stroke-linecap="round" fill="none" opacity="0.72"/>
<path d="M191.2 24.8h0M173.1 48.4h0M201.5 8.4h0M177.9 21.5h0M189.1 38.3h0M179.2 8.2h0M187 24.5h0M206.1 46.9h0M168.3 41.5h0" stroke="#fff" stroke-width="0.42" stroke-linecap="round" fill="none" opacity="0.38"/>
<path d="M171.3 17h0M192.1 24.7h0M186.5 10.4h0M197.8 23.7h0M167.4 42.3h0M170 11.8h0M185.2 19.5h0M197.8 9.1h0M180 11.7h0M175.3 14.5h0M185.8 48.1h0M196.4 38.4h0M183.7 39.3h0M171.1 26.6h0M179.2 15.5h0M170.1 31.2h0M205.9 15.3h0M195.4 32.8h0M178.2 24.1h0M173.8 33.9h0M206.1 38.7h0M187.4 21.8h0M177.8 32.6h0" stroke="#fff" stroke-width="0.54" stroke-linecap="round" fill="none" opacity="0.38"/>
<path d="M166.9 7.9h0M202.9 15.6h0M199.2 33.5h0M191.3 22.3h0M167 16.2h0M202.7 19.2h0M175 47.7h0M194.7 33.4h0M199.5 40.2h0M180.4 34.4h0M202.1 14h0M200.4 15.4h0" stroke="#fff" stroke-width="0.42" stroke-linecap="round" fill="none" opacity="0.55"/>
<path d="M170.3 22.3h0M189.5 31.8h0M203.7 17.7h0M204 18.5h0M170.5 33.1h0M180 21.1h0M192.7 38h0M172.6 34.6h0M194.2 44.2h0M197.4 26.9h0" stroke="#fff" stroke-width="0.3" stroke-linecap="round" fill="none" opacity="0.55"/>
<path d="M191.1 27.1h0M182.2 18.6h0M185.9 14.5h0M168.5 8.8h0M172.4 44.9h0M190.7 34.5h0M205.2 19.8h0M185 29.4h0M188.8 14.8h0M205.4 36.3h0M170.3 16.2h0M174.1 38.8h0M179.2 29.1h0M176.2 23.3h0M193.2 31.4h0" stroke="#fff" stroke-width="0.3" stroke-linecap="round" fill="none" opacity="0.38"/>
<path d="M169.9 33.8h0M202.8 11.1h0M205.6 42h0M183.6 37.3h0M168.7 9.7h0M168.7 43.1h0M205 31.9h0M166.9 18.3h0M197.5 46.1h0M194.9 28.6h0M173.5 7.9h0" stroke="#fff" stroke-width="0.54" stroke-linecap="round" fill="none" opacity="0.55"/>
<path d="M192 25.9h0M182.7 28.9h0M192 12.8h0M191.6 35.4h0M190.2 23.2h0M174 46.7h0M196.6 44.9h0M180 36.5h0M175.4 26.6h0M186.5 18.7h0M192.9 34.4h0M169 45.1h0M198.8 13.8h0" stroke="#fff" stroke-width="0.54" stroke-linecap="round" fill="none" opacity="0.72"/>
<path d="M199.9 16.1h0M171.6 34h0M180.1 45.7h0M174.7 42.9h0M199 14.7h0M189.3 14.3h0M172.2 14.1h0M178 18.9h0M189.5 17.1h0M193.2 45.7h0M167.5 29.9h0M172.6 45.6h0M185.5 33.2h0M192.5 16.3h0" stroke="#fff" stroke-width="0.3" stroke-linecap="round" fill="none" opacity="0.72"/>
<path d="M192 46 L193.6 41.6 L198.6 35 L205.6 28" stroke="#fff" stroke-width="0.8" stroke-dasharray="1.1 1.5" stroke-linecap="round" fill="none" opacity="0.9"/>
<rect x="165.5" y="7.3" width="4.5" height="5.3" fill="#000" />
<rect x="168.5" y="45.8" width="12.5" height="0.6" fill="#fff" />
<text x="170" y="45.1" font-size="1.9" fill="#fff" font-weight="bold" text-anchor="start" >100 nm</text>
<text x="184.5" y="25" font-size="1.8" fill="#ddd" font-weight="normal" text-anchor="start" >[001]</text>
<rect x="124" y="50.4" width="40.4" height="40.4" fill="#222222" />
<path d="M131.1 86h0M132.3 78.2h0M141.6 67.5h0M126.1 75.9h0M155 86.9h0M151.3 74.3h0M139.3 77.9h0M134.9 67.5h0M135.9 56.4h0M155.1 70.6h0M149.7 87.2h0M134.6 73.1h0M133.9 56.5h0M145 68.5h0M144.7 71.8h0M128.6 85.2h0M140.5 56.3h0M157.9 53h0M155.1 87.8h0M147.2 61.7h0M126.7 51.8h0M148.4 64.6h0M129.1 66.6h0M156.9 63.9h0M144.2 76.5h0M149.4 71.5h0M157.7 74h0M129.3 57.1h0M135 54.8h0M126.7 86h0M158.8 64.1h0M133.8 52.3h0M138 57h0M158.9 55.7h0M151.2 66.8h0M159 74h0M132.8 86.9h0M142.3 53h0M134.8 72.4h0M152 56.2h0M147.6 60.4h0M146.9 62.3h0" stroke="#fff" stroke-width="0.65" stroke-linecap="round" fill="none" opacity="0.41"/>
<path d="M150.8 86.1h0M142.9 73.1h0M137.6 89.7h0M138.8 76.3h0M132.9 54.5h0M126.5 72.9h0M161.1 59.6h0M133.2 53.1h0M130 51h0M156.4 64.1h0M147.2 71.5h0M158.4 56.7h0M146.1 65.4h0M161.3 67.3h0M130 58.9h0M128.9 84.5h0M145.2 74.4h0M141.8 75.5h0M138 87.8h0M125.6 53.9h0M133.2 63.1h0M146.6 65.1h0M136.7 56.3h0M144.8 68.4h0" stroke="#fff" stroke-width="0.65" stroke-linecap="round" fill="none" opacity="0.62"/>
<path d="M153.7 68.2h0M152.1 60.6h0M161.2 63.9h0M132.1 79h0M149.9 59.3h0M161.2 60.9h0M143.7 84.2h0M142.2 57.2h0M137 51.1h0M161 66.1h0M157.3 89.5h0M135.4 58h0M154.9 78.9h0M148.6 78.8h0M145 84h0M158.9 61.4h0M157.3 65.4h0M125.3 89h0M156.7 52.1h0M153.9 57.4h0M150.6 51.4h0M131.9 63.7h0M135.3 72.3h0M138.2 57.5h0M147.9 64.7h0M163.7 76h0M156.9 75.1h0M128.1 61.5h0M135.2 74.9h0M161.6 73.1h0M138.6 67.1h0M146.1 80.9h0" stroke="#fff" stroke-width="0.37" stroke-linecap="round" fill="none" opacity="0.84"/>
<path d="M129.2 67.4h0M148.1 79.8h0M132.9 67.3h0M155.2 72.7h0M162.9 76.7h0M162.8 54.4h0M128.5 58h0M152.5 84.9h0M158.8 56h0M151.9 56.6h0M156.3 62.1h0M155.5 79.4h0M132.6 60.9h0M162.5 60.9h0M129.4 69.9h0M143.3 75.7h0M146.3 56.6h0M141 60.6h0M147 62.6h0M139.1 74.3h0M158.7 73.6h0M125.9 89.1h0M162.2 87.7h0M128.5 55.7h0M133.8 52.5h0M142.9 71.9h0M139.6 74h0M137.3 61.5h0M152.4 86.9h0M138.8 65.3h0M126.2 87.6h0M131.2 65.8h0M159.3 84.8h0M141.5 80.7h0M162.9 77.7h0M157.2 62h0M141.4 71.1h0M138.7 59h0M132 72.3h0" stroke="#fff" stroke-width="0.37" stroke-linecap="round" fill="none" opacity="0.62"/>
<path d="M143.9 53.2h0M148.2 63.1h0M145.8 70h0M142.6 54.4h0M158.6 65.5h0M162.2 77.3h0M159.5 56.4h0M127.5 89.2h0M143.8 63.4h0M161 73h0M131.8 68h0M128.1 67h0M162.3 87.2h0M151.9 59.6h0M148.6 69.4h0M142 58.2h0M162.3 58.9h0M151.5 66.2h0M125 81.3h0M138.2 68.6h0M141 60.8h0M145.9 61.6h0M150.4 73.3h0M160.2 54.7h0M157.4 81.5h0M157.2 55.4h0M126.3 69.4h0" stroke="#fff" stroke-width="0.51" stroke-linecap="round" fill="none" opacity="0.41"/>
<path d="M157.6 65.7h0M139 83.3h0M147.3 86.9h0M145.1 83.4h0M149.3 78.8h0M153.2 57.4h0M148.4 77.6h0M133.7 73.7h0M138.8 73.1h0M163.5 85h0M154 74.1h0M125.1 82.7h0M129.3 79.1h0M131.7 54.9h0M126.3 55.7h0M137.8 60.4h0M153.7 62.2h0M130.9 88.4h0M144.9 83.8h0M160.8 90.1h0M144.7 55.3h0M149.3 74.7h0M140.7 81.9h0M163.8 73.5h0M140.1 65.2h0M162.4 67.5h0M144.4 59.9h0M129.7 78.7h0M159.9 74.1h0M138.5 84.2h0M144.1 71.4h0M161.8 67.6h0" stroke="#fff" stroke-width="0.51" stroke-linecap="round" fill="none" opacity="0.84"/>
<path d="M127.5 76h0M125.6 74.9h0M153 85.8h0M132 87.2h0M126.9 70.6h0M139.3 56.7h0M125.8 51.7h0M125.1 51.1h0M152.8 60.4h0M131.9 52.9h0M125.8 53.3h0M126.9 65.4h0M126.9 89.3h0M135.3 84.4h0M128.3 68.5h0M134.7 71.1h0M130.5 71.1h0M127.6 54.3h0M136.6 51.3h0M153.6 61.2h0M139.8 67.5h0M158.6 75.4h0M134 59.6h0M154.6 71.4h0M156.9 71.3h0M158.8 51.1h0M141 81.8h0M160.8 81.4h0M163.8 71.3h0M132.2 70.5h0M135 76.4h0M134.1 66.3h0M131.4 65.3h0M138.3 67.2h0M153.6 72.7h0M140.9 80.2h0M144.3 78h0M154.5 52.6h0M153.9 64h0M160.7 76.3h0" stroke="#fff" stroke-width="0.65" stroke-linecap="round" fill="none" opacity="0.84"/>
<path d="M143.6 80.7h0M126.5 62.7h0M151.7 85.4h0M151.9 66.8h0M143.2 67.1h0M129.3 89h0M141.8 77.6h0M137.6 74.8h0M137.1 70.8h0M145 51.7h0M132.4 58h0M126.8 72.7h0M154.5 69.9h0M142.9 86.9h0M163.5 90.2h0M139.9 67.3h0M144 61.7h0M144.2 61.9h0M156.4 85.7h0M141.7 65.8h0M151.7 80.3h0M144.4 58.3h0M152.7 64.8h0M141.8 75.3h0M125.4 85.1h0M142 83.9h0M134.2 74.9h0M139.9 54.3h0M137.1 77h0M132.1 79.2h0M151.5 64.7h0M145.9 60.7h0M150.9 60.3h0" stroke="#fff" stroke-width="0.37" stroke-linecap="round" fill="none" opacity="0.41"/>
<path d="M128.2 76.9h0M157.1 62.4h0M156.7 54h0M143.3 81.6h0M155.4 73.2h0M158.3 60.6h0M130.7 74.4h0M146.8 61.2h0M133.2 52.4h0M128.7 63.7h0M134.7 58.8h0M158.9 88.5h0M141.7 89.6h0M150.9 59.8h0M129.4 56.1h0M135.8 64.8h0M124.8 80.3h0M125.5 61h0M127.2 59.9h0M159.2 88.9h0M151.7 51.1h0M124.7 85.1h0M134.2 58.4h0M139 59.4h0M149.3 73.8h0M135.9 83.1h0M152.1 60.7h0M150.8 74.5h0M136.5 55.3h0M162.4 57.3h0M134.9 76.3h0" stroke="#fff" stroke-width="0.51" stroke-linecap="round" fill="none" opacity="0.62"/>
<rect x="124" y="50.4" width="4.2" height="4.6" fill="#000" />
<text x="128.8" y="53.8" font-size="2.6" fill="#fff" font-weight="bold" text-anchor="start" >β′</text>
<text x="141.8" y="66" font-size="3.1" fill="#fff" font-weight="bold" text-anchor="middle" >A</text>
<path d="M141.8 66.5 l-0.2 2.6" stroke="#fff" stroke-width="0.55" fill="none"/>
<circle cx="141.6" cy="68.8" r="0.5" fill="#fff" />
<text x="159.8" y="66" font-size="3.1" fill="#fff" font-weight="bold" text-anchor="middle" >B</text>
<path d="M159.8 66.5 l1.4 2.8" stroke="#fff" stroke-width="0.55" fill="none"/>
<circle cx="161.2" cy="69" r="0.5" fill="#fff" />
<rect x="166.2" y="50.4" width="40.4" height="40.4" fill="#222222" />
<path d="M203.5 76.6h0M170.7 79.2h0M186.4 57.1h0M196.2 59.6h0M170.4 71.8h0M186.9 71.6h0M199.6 74.1h0M193.5 62.9h0M194.4 77.4h0M195 51.1h0M191.4 64.1h0M196.8 81.5h0M197.1 89.4h0M174.8 81.5h0M181.5 86.6h0M183.8 56.4h0M176.1 70.6h0M197.9 85.2h0M169.2 89.4h0M169.3 80.7h0M187.2 60.3h0M171.8 88.7h0M169.8 68.5h0M170.9 73.1h0M179 60.9h0M203.4 64.4h0M201.3 53.2h0M167.3 88.1h0M168.7 77h0M201.3 69.6h0" stroke="#fff" stroke-width="0.51" stroke-linecap="round" fill="none" opacity="0.84"/>
<path d="M176.4 56.4h0M199.7 60.9h0M199.4 66.3h0M197.3 53.2h0M186.5 85.3h0M201.9 74.1h0M168 73h0M181 62h0M177.3 78.7h0M200.7 76.4h0M173.6 84.9h0M182.4 87.9h0M175.7 80.7h0M175.1 82h0M167.7 55.3h0M183.7 55h0M205.7 63.4h0M190.8 65.8h0M187.3 69.7h0M187.4 70.3h0M198.9 54.9h0M179.3 58.4h0M200.5 61h0M187 69.2h0M200.9 87.3h0M196.3 70.5h0M172.6 54.6h0M182.6 58.9h0M195.3 72h0M189.2 78h0M166.9 70.2h0" stroke="#fff" stroke-width="0.37" stroke-linecap="round" fill="none" opacity="0.41"/>
<path d="M197.2 84h0M202.4 88.1h0M181.4 73.8h0M187.6 73.2h0M206 80.9h0M173.4 65.1h0M189.4 66.2h0M181.8 53.4h0M173.7 73.8h0M196.9 54.4h0M180.5 78.9h0M175.1 86.8h0M168.6 82h0M182.4 63.4h0M205 66.2h0M178.6 77h0M172.6 77.7h0M173.7 79.2h0M181.5 52.5h0M183.7 74.8h0M178.3 63.9h0M178.8 60.7h0M168.8 72.1h0M168.1 59.6h0M178.5 57.7h0M166.9 76.3h0M197.2 57.8h0M167.1 87.9h0M193.6 88h0M192.8 86.5h0" stroke="#fff" stroke-width="0.51" stroke-linecap="round" fill="none" opacity="0.62"/>
<path d="M174 76h0M189.6 54.1h0M192.9 83.4h0M189 84.5h0M181.4 51.5h0M180.7 63.8h0M167.5 69h0M197.2 75.8h0M204.9 78.1h0M195.6 88.8h0M175.1 63.8h0M180.3 77.7h0M200.4 81.6h0M175.9 82.1h0M166.8 59.7h0M198.4 86.3h0M192.8 54.3h0M173.7 88.2h0M183 87.8h0M186.9 83.4h0M188.9 53.1h0M193.9 67.4h0M206 83.1h0M182.3 85.8h0M199.7 56.6h0M198.1 78.8h0M178.9 61.1h0M178.2 76.7h0M203.1 52.2h0M188.7 54.7h0M169.7 79.6h0M172.7 61.6h0M170 80.8h0M192.3 89.2h0M176.2 74.1h0" stroke="#fff" stroke-width="0.65" stroke-linecap="round" fill="none" opacity="0.41"/>
<path d="M191 65.8h0M179.3 65.4h0M170.9 82.5h0M203.4 85.3h0M172.6 59h0M189.8 56.6h0M176.6 73.4h0M182.4 58.8h0M169.8 82.8h0M192.3 66.9h0M195.9 61.1h0M192.7 51.5h0M174.7 80.8h0M202.6 56.8h0M170.5 57.5h0M204.4 89.1h0M167.1 78h0M188.1 72.5h0M205.4 85.3h0M196.1 84.5h0M198.1 77.1h0M177 84h0M193.2 56.9h0M197.5 87.2h0M187.7 67h0M204.2 67.2h0M192.2 56.1h0M174.7 87.3h0M198.4 70.3h0M204.1 59.9h0" stroke="#fff" stroke-width="0.65" stroke-linecap="round" fill="none" opacity="0.62"/>
<path d="M173.1 68.4h0M205.3 84.4h0M200.4 81.9h0M183.3 64.2h0M171.2 79.6h0M186 83.1h0M184 82.1h0M166.9 73.7h0M201.1 79.1h0M182.7 66.5h0M192 51.5h0M203.2 73.1h0M183.1 78.9h0M192.6 74.6h0M177.7 71.5h0M191.4 59.7h0M197.9 69.7h0M199.1 62h0M193.6 74.4h0M180.9 81.6h0M174.8 57.6h0M179.4 65.2h0M182.9 78.6h0M176.8 61.4h0M181.4 77.1h0M199.8 67.2h0M201.8 68.2h0M205.7 61.7h0M188.6 52.9h0M184.6 87.7h0M194.5 68.3h0M187.4 62.4h0M185.7 63.9h0M197.7 74.4h0M196.3 57h0M186.8 57.5h0M168.2 71.6h0M168.7 65.3h0M172 83.5h0M204 55.5h0" stroke="#fff" stroke-width="0.51" stroke-linecap="round" fill="none" opacity="0.41"/>
<path d="M175.3 65.6h0M180.4 58.6h0M171.2 58h0M186 72.7h0M186.7 83.9h0M202.5 54.4h0M180.7 78.2h0M169.6 61.1h0M182.2 69.6h0M189.1 71.7h0M169.6 58.4h0M202.1 72.4h0M170.4 57.1h0M176.7 72.9h0M198.6 89.4h0M181.1 56.8h0M193.3 64.7h0M178.5 90.1h0M189.5 85.7h0M182.3 64.1h0M168.2 70.8h0M191.6 72.4h0M204.9 84.5h0M177.3 89h0M190 90.1h0M192.7 83.5h0M191.7 79.7h0M180.1 65.9h0M174.6 73.4h0M176.1 84.4h0M195.9 66.7h0M171.4 59.6h0M194.7 69.9h0M171.6 56.3h0M195.7 57.4h0M195.1 80.4h0M173 68.5h0M205.1 63.8h0M177.4 86.1h0M204.8 64.5h0M171 83.7h0M199 83.3h0M180 54.8h0M168 82h0M196.3 76h0" stroke="#fff" stroke-width="0.37" stroke-linecap="round" fill="none" opacity="0.84"/>
<path d="M177.9 77h0M181.6 51.1h0M179.5 69h0M200.8 89.3h0M169.9 82.8h0M179.8 76.8h0M183.3 65.4h0M172.1 85h0M167.8 58.3h0M184.3 54.3h0M189.3 55.4h0M198.2 56.2h0M181.2 84.1h0M173.9 83.1h0M200 66.4h0M191.3 55.7h0M170.3 64.3h0M202.5 52.9h0M179.5 76.4h0M181.1 77h0M174.2 89.2h0M174.6 59.1h0M186.3 51.5h0M171.5 87.3h0M185.8 84.9h0M179.5 60.6h0M189.2 55.7h0M175.3 60.5h0M196.1 83.7h0M173.2 66.1h0M178.5 88.8h0M201.3 73.6h0" stroke="#fff" stroke-width="0.65" stroke-linecap="round" fill="none" opacity="0.84"/>
<path d="M205.7 79.3h0M188.9 81.4h0M184.8 55.6h0M167.2 61h0M168 86.8h0M167.2 64.4h0M169.7 63.9h0M191.6 79.5h0M181 84.5h0M181.2 60.5h0M199.7 63.5h0M177 68h0M185.8 86h0M180.6 70.5h0M169.6 78.6h0M179.1 89.2h0M178.1 68.5h0M192.6 78.9h0M172.7 82.4h0M174.5 56.8h0M179.8 66.7h0M188 54.4h0M168 71.1h0M180.9 77h0M168.4 61h0M183.4 75.5h0M194.6 53.5h0" stroke="#fff" stroke-width="0.37" stroke-linecap="round" fill="none" opacity="0.62"/>
<rect x="166.2" y="50.4" width="4.2" height="4.6" fill="#000" />
<text x="171" y="53.8" font-size="2.6" fill="#fff" font-weight="bold" text-anchor="start" >Q1</text>
<text x="184" y="66" font-size="3.1" fill="#fff" font-weight="bold" text-anchor="middle" >A</text>
<path d="M184 66.5 l-0.2 2.6" stroke="#fff" stroke-width="0.55" fill="none"/>
<circle cx="183.8" cy="68.8" r="0.5" fill="#fff" />
<text x="202" y="66" font-size="3.1" fill="#fff" font-weight="bold" text-anchor="middle" >B</text>
<path d="M202 66.5 l1.4 2.8" stroke="#fff" stroke-width="0.55" fill="none"/>
<circle cx="203.4" cy="69" r="0.5" fill="#fff" />
<rect x="124" y="92.6" width="40.4" height="39.7" fill="#1b1b1b" />
<path d="M136.3 98.7h0M151.7 93.8h0M146.5 110.4h0M131.9 128.6h0M163.1 127.4h0M128.9 105h0M162.6 117.6h0M144.3 126.1h0M148.3 112.8h0" stroke="#fff" stroke-width="0.55" stroke-linecap="round" fill="none" opacity="0.35"/>
<path d="M127.8 108.3h0M132.5 128.3h0M130.5 122.4h0M139.9 120.9h0M154.2 119.3h0M160.1 105.1h0M135.3 95.4h0" stroke="#fff" stroke-width="0.45" stroke-linecap="round" fill="none" opacity="0.55"/>
<path d="M125.8 106.1h0M135.2 130.2h0M158.5 113h0M143.5 93.4h0M139.7 130.4h0M157.5 117.8h0M153.5 109.1h0M132.9 119.5h0" stroke="#fff" stroke-width="0.45" stroke-linecap="round" fill="none" opacity="0.35"/>
<path d="M152.1 110.2h0M156.3 97.8h0M136.7 105.4h0M153.5 119.3h0M162.2 107.1h0M149.4 107.6h0M163.8 99.8h0M150.1 124.2h0M142.2 93.6h0M147.3 108.7h0" stroke="#fff" stroke-width="0.55" stroke-linecap="round" fill="none" opacity="0.55"/>
<path d="M126.1 124.9h0M132 125.2h0M153.2 122.1h0M163.2 117.4h0M146.5 119.1h0M156.5 126h0M146.9 127.5h0M125.4 113.1h0M133.1 110.8h0" stroke="#fff" stroke-width="0.35" stroke-linecap="round" fill="none" opacity="0.45"/>
<path d="M133.3 127.5h0M161.7 110.7h0M161.1 127.7h0M155 94.1h0M139.5 130.4h0M144 95h0M136.6 113.2h0M155 108.4h0M129.7 120.3h0" stroke="#fff" stroke-width="0.55" stroke-linecap="round" fill="none" opacity="0.45"/>
<path d="M145.3 93.1h0M159.7 100.9h0M135.3 125.8h0" stroke="#fff" stroke-width="0.35" stroke-linecap="round" fill="none" opacity="0.35"/>
<path d="M127.5 117.2h0M126.9 118.4h0M160.3 115.8h0M162.4 100.3h0M132.3 105.5h0M128.8 103.2h0M146.8 106.8h0M140.3 112.4h0M162.7 129.1h0" stroke="#fff" stroke-width="0.45" stroke-linecap="round" fill="none" opacity="0.45"/>
<path d="M151.7 103.8h0M158.6 120.7h0M133.3 126h0M129.4 104h0M148.6 103.7h0M146.4 124.3h0" stroke="#fff" stroke-width="0.35" stroke-linecap="round" fill="none" opacity="0.55"/>
<rect x="124" y="92.6" width="4.2" height="4.6" fill="#000" />
<text x="128.8" y="96" font-size="2.6" fill="#fff" font-weight="bold" text-anchor="start" >β′-2</text>
<text x="141.8" y="108.2" font-size="3.1" fill="#fff" font-weight="bold" text-anchor="middle" >A</text>
<path d="M141.8 108.7 l-0.2 2.6" stroke="#fff" stroke-width="0.55" fill="none"/>
<circle cx="141.6" cy="111" r="0.5" fill="#fff" />
<text x="159.8" y="108.2" font-size="3.1" fill="#fff" font-weight="bold" text-anchor="middle" >B</text>
<path d="M159.8 108.7 l1.4 2.8" stroke="#fff" stroke-width="0.55" fill="none"/>
<circle cx="161.2" cy="111.2" r="0.5" fill="#fff" />
<rect x="166.2" y="92.6" width="40.4" height="39.7" fill="#1b1b1b" />
<path d="M199.3 97.4h0M189.1 101.5h0M201.4 117h0M191 97.4h0M195.2 120.9h0M197.1 106.4h0M197.3 111.3h0M197.2 121.2h0M177.1 99h0" stroke="#fff" stroke-width="0.35" stroke-linecap="round" fill="none" opacity="0.45"/>
<path d="M191.5 106.3h0M200.9 131.6h0M185.5 98.3h0M202.7 126.3h0M194.9 111.3h0" stroke="#fff" stroke-width="0.45" stroke-linecap="round" fill="none" opacity="0.55"/>
<path d="M199.8 124.4h0M184 100.8h0M174.5 103.4h0M174.8 93.6h0M185 94.8h0M184 115.2h0M186.5 117.1h0M169.8 95.2h0M184.7 108.9h0M202.7 125.5h0" stroke="#fff" stroke-width="0.55" stroke-linecap="round" fill="none" opacity="0.55"/>
<path d="M167.9 123.2h0M186.9 115.9h0M179.7 131.3h0M199.7 104.6h0M178.7 94.8h0M180.6 118.5h0M172 93.6h0M194.6 110.1h0M182.2 123.6h0M185.1 108.7h0M174.1 124.3h0M178.2 108.5h0M167 96h0" stroke="#fff" stroke-width="0.35" stroke-linecap="round" fill="none" opacity="0.55"/>
<path d="M177.3 107.6h0M196.1 113.9h0M180.7 127.9h0M177.7 124.6h0M172.3 128.3h0M168.4 114.6h0M196.1 94h0M194 116.3h0" stroke="#fff" stroke-width="0.55" stroke-linecap="round" fill="none" opacity="0.45"/>
<path d="M195.2 115.7h0M191.4 115h0M167 101h0" stroke="#fff" stroke-width="0.45" stroke-linecap="round" fill="none" opacity="0.45"/>
<path d="M196.6 96.1h0M188.7 111h0M182.5 119.1h0M196.5 97.1h0M169.5 94.2h0M174.9 120.5h0M193.2 131.2h0M192.3 128.6h0" stroke="#fff" stroke-width="0.55" stroke-linecap="round" fill="none" opacity="0.35"/>
<path d="M198 111.5h0M189.8 107.8h0M201.4 96.9h0M169.2 102.3h0M195.8 118.2h0M202.5 100.8h0M188.2 106.7h0M195.5 126h0" stroke="#fff" stroke-width="0.35" stroke-linecap="round" fill="none" opacity="0.35"/>
<path d="M187.5 102.8h0M195.2 95.2h0M186.9 97.2h0M181.2 104.8h0M186.2 115.4h0M167.9 119.4h0" stroke="#fff" stroke-width="0.45" stroke-linecap="round" fill="none" opacity="0.35"/>
<rect x="166.2" y="92.6" width="4.2" height="4.6" fill="#000" />
<text x="171" y="96" font-size="2.6" fill="#fff" font-weight="bold" text-anchor="start" >Q′</text>
<text x="184" y="108.2" font-size="3.1" fill="#fff" font-weight="bold" text-anchor="middle" >A</text>
<path d="M184 108.7 l-0.2 2.6" stroke="#fff" stroke-width="0.55" fill="none"/>
<circle cx="183.8" cy="111" r="0.5" fill="#fff" />
<text x="202" y="108.2" font-size="3.1" fill="#fff" font-weight="bold" text-anchor="middle" >B</text>
<path d="M202 108.7 l1.4 2.8" stroke="#fff" stroke-width="0.55" fill="none"/>
<circle cx="203.4" cy="111.2" r="0.5" fill="#fff" />
<rect x="124" y="133.8" width="40.4" height="40.9" fill="#202020" />
<path d="M131.6 171.9h0M152.3 144.4h0M154.5 167.7h0M137.9 156h0M135.7 149.9h0M162.7 161.7h0M131.5 138.3h0M159.1 168.7h0M150.1 169.7h0M128.5 153.3h0M127.2 162.4h0M125.5 140.9h0M132.1 153.1h0M156 134.7h0M145.9 148.1h0M137.1 151h0M152.7 172.6h0M150.5 159.2h0M157.9 167h0M136.4 159h0M131.3 140.3h0M144.4 147.3h0M158.8 142.8h0M158.4 159.8h0M140.4 148.4h0M130.2 148.9h0M137.2 153.4h0M125 169.9h0M136.8 143h0" stroke="#fff" stroke-width="0.51" stroke-linecap="round" fill="none" opacity="0.62"/>
<path d="M125.6 149.6h0M124.6 165.1h0M130.2 138.2h0M158.9 170.6h0M135 152h0M146.4 137.2h0M135.7 173.2h0M154 157.6h0M141.7 167h0M150.2 154.8h0M142.8 147.2h0M125.2 146.7h0M128.8 159.6h0M161.3 159h0M127 161.6h0M156.8 148.1h0M130.7 159.7h0M143 138h0M134.2 142.2h0M146.1 150.4h0M146.8 168.5h0" stroke="#fff" stroke-width="0.37" stroke-linecap="round" fill="none" opacity="0.62"/>
<path d="M130.9 172.1h0M157 146.8h0M131.4 149h0M137 142.5h0M156.5 170.3h0M131.7 143.4h0M157.1 134.3h0M133.7 141h0M133.3 140.3h0M133.8 148.9h0M149.1 153.1h0M128 173h0M139 168.2h0M148 150.7h0M130.4 147.7h0M162.9 139.6h0M128.2 160.8h0M142.2 168.3h0M150.4 168.3h0M139.7 166.5h0M160.6 153.9h0M156.1 135.4h0M156.6 162h0M145.9 170.7h0M143 170.2h0M136 154.9h0M133.1 169.5h0M124.9 169.1h0M141 167.8h0M124.8 168.2h0M138.5 159.4h0M145.5 171.4h0M141.6 142h0" stroke="#fff" stroke-width="0.65" stroke-linecap="round" fill="none" opacity="0.62"/>
<path d="M156.2 134.8h0M155.1 159.5h0M147.8 160.5h0M134.5 137.8h0M139.1 140.9h0M151.6 135.6h0M143.9 173.9h0M139.7 144.7h0M156.1 170.2h0M151.2 137.2h0M151.2 162.6h0M140.3 139.6h0M132.5 144.2h0M129.9 142h0M133.8 141.3h0M127.1 166.4h0M158.3 171.9h0M132.5 165.7h0M140.7 159.7h0M147.6 167.4h0M143.6 150.9h0M151.9 139.3h0M128.5 166h0M143.1 145.4h0M143.1 154.6h0M158.9 164.4h0M131.6 158.6h0" stroke="#fff" stroke-width="0.65" stroke-linecap="round" fill="none" opacity="0.41"/>
<path d="M155.8 155.5h0M137.7 159.2h0M147.6 160.7h0M154.5 171.5h0M140.4 153.6h0M141.3 136.7h0M126.9 151.5h0M160 137.6h0M125.4 149.2h0M129.8 147.1h0M162.6 162.7h0M127.3 164.4h0M159 157.8h0M125.6 166.2h0M151.9 134.5h0M134.9 162.7h0M125.4 137.6h0M161.1 156.7h0M126.7 143.4h0M142.4 142h0M143.3 146.7h0M128 171.1h0M128.2 172.7h0M148.3 150.5h0M131.9 151h0M148.7 154.2h0M163.9 156.7h0M134.6 154.9h0M149.5 152.1h0M130.8 161.8h0M132.1 136.7h0M129.3 173.1h0M146.2 171.1h0M163 135.8h0M149.3 138.8h0" stroke="#fff" stroke-width="0.37" stroke-linecap="round" fill="none" opacity="0.41"/>
<path d="M139 155.7h0M127.1 134.9h0M137.2 142.5h0M126.9 146.1h0M134 169.9h0M126.5 160.8h0M135.6 153.2h0M128.8 156.5h0M153.8 156.8h0M145 154.7h0M135.2 173.2h0M151.1 140.7h0M137.6 171.3h0M163.4 174h0M126.1 135.8h0M134.3 138.3h0M160.1 135.3h0M132.9 140.4h0M126.6 172h0M138.5 151.7h0M147.7 139.3h0M133.7 148.3h0M147.7 161.3h0" stroke="#fff" stroke-width="0.51" stroke-linecap="round" fill="none" opacity="0.41"/>
<path d="M132.8 136.4h0M134.2 170.9h0M141.8 161.7h0M134.7 172.8h0M160.2 140.6h0M161.4 148.5h0M134.6 154.6h0M126.1 168.5h0M133.7 153.3h0M140.5 148h0M148.4 153.3h0M155.6 144.4h0M134.1 160.6h0M162.4 164.9h0M144.7 142.7h0M152.8 169h0M129.1 144.7h0M159.1 139.8h0M162.1 146.7h0M153.3 141.8h0M125.4 154.3h0M135.4 151.1h0M158.7 170.1h0M130.5 168.8h0M129.1 144.5h0M156 137h0M129.4 135.2h0" stroke="#fff" stroke-width="0.65" stroke-linecap="round" fill="none" opacity="0.84"/>
<path d="M133.1 164.4h0M134.8 162.9h0M162.3 138h0M151.9 146.4h0M154.9 160.8h0M135.3 150.9h0M144 148.9h0M133 144.9h0M131.4 153.5h0M135 136.8h0M138 153.9h0M128.2 157.7h0M142.3 153h0M136.9 163.1h0M142.7 142.2h0M135.8 164.9h0M128.7 137.1h0M160.1 153.2h0M135.7 171.9h0M156.7 160h0M153.6 148.4h0M142.7 157h0M129.7 174.1h0M125.2 160.2h0M138.8 171.2h0M162.1 154.7h0M160.1 140.9h0M148.3 170.4h0M140.9 147.1h0M162 159h0M150.2 164.1h0M129 170.1h0M158.3 149.7h0" stroke="#fff" stroke-width="0.37" stroke-linecap="round" fill="none" opacity="0.84"/>
<path d="M130.1 138.8h0M140.6 161.8h0M128.7 142.6h0M155.4 139.6h0M138.9 149.8h0M141.1 155.4h0M141.7 157.9h0M139.6 168.6h0M139.1 162.6h0M129.9 150.5h0M127.6 157.5h0M130.9 136.9h0M157.6 151.2h0M144.3 155.1h0M130.7 143.3h0M136.9 146h0M154.9 149.1h0M141.7 137.7h0M138.8 169.9h0M156.4 164.6h0M136.8 163.4h0M147.2 134.7h0M129.8 155.8h0M161.8 153.1h0M132.7 148.8h0M132.4 146.3h0M141.2 158.3h0M152.9 138.7h0M147.9 142.9h0M133 156h0M138.4 161.9h0M138.8 170h0" stroke="#fff" stroke-width="0.51" stroke-linecap="round" fill="none" opacity="0.84"/>
<rect x="124" y="133.8" width="4.2" height="4.6" fill="#000" />
<text x="128.8" y="137.2" font-size="2.6" fill="#fff" font-weight="bold" text-anchor="start" >L</text>
<text x="141.8" y="149.4" font-size="3.1" fill="#fff" font-weight="bold" text-anchor="middle" >A</text>
<path d="M141.8 149.9 l-0.2 2.6" stroke="#fff" stroke-width="0.55" fill="none"/>
<circle cx="141.6" cy="152.2" r="0.5" fill="#fff" />
<text x="159.8" y="149.4" font-size="3.1" fill="#fff" font-weight="bold" text-anchor="middle" >B</text>
<path d="M159.8 149.9 l1.4 2.8" stroke="#fff" stroke-width="0.55" fill="none"/>
<circle cx="161.2" cy="152.4" r="0.5" fill="#fff" />
<rect x="166.2" y="133.8" width="40.4" height="40.9" fill="#202020" />
<path d="M180.9 173.4h0M197.9 157.3h0M187 134.5h0M203.3 158.8h0M189.9 139.6h0M201.2 158.5h0M194 160.1h0M173.1 169.7h0M174.8 139.2h0M180.9 158.4h0M168.6 151.3h0M188.4 148.6h0M199.6 157.8h0M173.3 161h0M182.8 155.7h0M186.5 154.4h0M167.4 156.2h0M202 168.2h0M192.9 152.1h0M171.7 168.3h0M177.6 159.7h0M183.9 134.4h0M175.4 168.9h0M203.4 150h0" stroke="#fff" stroke-width="0.51" stroke-linecap="round" fill="none" opacity="0.62"/>
<path d="M182.1 144.4h0M186 145.3h0M203.4 164.5h0M184.4 149h0M185.6 155.4h0M182.7 141h0M204.5 173.5h0M188.3 146.8h0M193.4 162.8h0M195.9 167h0M184.1 173.9h0M170.6 155.4h0M178.1 155.9h0M204.3 149h0M188.5 158.7h0M195.2 148.4h0M181.5 157.4h0M182.9 154.6h0M173.1 157.7h0M177.1 141.6h0M197.4 174h0M199.9 153.1h0" stroke="#fff" stroke-width="0.37" stroke-linecap="round" fill="none" opacity="0.62"/>
<path d="M205.1 174h0M185.3 139h0M185 153h0M195.4 148h0M181 172.2h0M188.1 168.7h0M204.9 144h0M180.5 162.6h0M204.8 150.5h0M199.4 169.9h0M185.5 136h0M197.4 152.1h0M186.9 171.3h0M174.3 144.8h0M178.1 150.3h0M177.3 153.7h0M183.3 146.8h0M167.5 161.2h0M180.4 149h0M182.5 140.8h0M199.5 149.3h0M172 153.6h0M172 146.6h0M188.2 158.9h0M203.6 137.5h0M179.1 159.6h0M178.2 145.4h0M188.9 170.1h0M172.6 141.6h0M195.3 143.4h0M202.3 174h0M167.2 159.3h0" stroke="#fff" stroke-width="0.65" stroke-linecap="round" fill="none" opacity="0.41"/>
<path d="M173.2 169.9h0M193.5 135.6h0M201.4 158.3h0M194.5 141.8h0M192.8 147.6h0M196.7 157.2h0M203.9 174.1h0M195.7 171.7h0M200.2 168.5h0M170.6 170.8h0M189.6 172.9h0M170.7 171.5h0M201.4 154.9h0M197.2 164.4h0M202.4 160.6h0M201.2 174.1h0M174.4 155h0M189.9 143.2h0M203.2 154.7h0M175.1 152.3h0M178.8 148.6h0M192.5 167.3h0M195.7 144.5h0M183.5 142h0M171.4 170.3h0M192.5 151.2h0M198.2 138.5h0M183.7 154.6h0M167.8 143.1h0M193.2 163.9h0M201 173.8h0M203.7 143.1h0M184 165.9h0M183.9 168.2h0M168.1 164.5h0M192.7 156.6h0" stroke="#fff" stroke-width="0.51" stroke-linecap="round" fill="none" opacity="0.84"/>
<path d="M195.7 136.7h0M172.9 160.1h0M197.8 167.1h0M198.3 147.7h0M192 147h0M198.7 146.1h0M191.5 156.8h0M205.9 173.9h0M186.3 173.8h0M193.7 162.1h0M204.9 160h0M180 149.2h0M199 153.6h0M182.8 151.8h0M180.1 153.1h0M168.1 147.3h0M176.2 159.6h0M180.8 147.7h0M173.6 141.7h0M186.8 146.8h0M190 161.8h0M180.4 153.6h0M197.9 139.8h0M198.8 151.7h0M169.6 172.1h0" stroke="#fff" stroke-width="0.65" stroke-linecap="round" fill="none" opacity="0.84"/>
<path d="M182.3 171.9h0M174.2 173.9h0M201.5 166.6h0M199.6 146.2h0M176.9 165.5h0M204.4 160h0M202.4 158.8h0M187 160.7h0M178.9 156.9h0M186.3 152.8h0M184.5 154.4h0M169.8 164.4h0M173.5 151.5h0M186.7 147.7h0M169.4 137.7h0M172.3 153.6h0M198.3 143.9h0M204.1 145h0M170.3 163.3h0M171.3 166.5h0M197.5 154.9h0M194.8 148.4h0M182.1 141.7h0M184.9 158.2h0M188.9 145.6h0M198.3 155.9h0M172.1 158.8h0M188.4 140.8h0M191.1 143.5h0M191.3 139.1h0M195.5 143.4h0M204.3 154.7h0M185.3 154.5h0M201.7 160.1h0M202.9 143.2h0" stroke="#fff" stroke-width="0.37" stroke-linecap="round" fill="none" opacity="0.84"/>
<path d="M187.1 154.1h0M179.6 159.9h0M169.1 149.6h0M173 161.6h0M185.2 171.5h0M170.6 154.1h0M202 162h0M192.4 140.7h0M196 162.9h0M179.9 144.9h0M175.5 150.3h0M170.6 171.2h0M197.7 168.8h0M192.9 141.7h0M177.6 165h0M198.6 145h0M185.1 134.8h0M182.5 136h0M173 154.1h0M178.2 168.7h0M179.7 138.6h0M184.1 151.7h0" stroke="#fff" stroke-width="0.65" stroke-linecap="round" fill="none" opacity="0.62"/>
<path d="M186.7 162.4h0M168 153.4h0M200.2 169.9h0M176.6 170.7h0M183.3 142.7h0M171 145.7h0M167.2 142.4h0M183.6 169h0M188.1 140.8h0M171 166.1h0M169 151.2h0M176.2 167.2h0M194.3 160.7h0M168.5 162.8h0M205.2 151.8h0M200.3 147.5h0M193.5 159.2h0M178.3 142.3h0M170.2 152.7h0M184.9 142.8h0M172.5 166.5h0M202.4 172.2h0M184.6 143.8h0M171.9 149.2h0M198.1 145.5h0M178.7 136.1h0M204.2 141.8h0M192.1 153.7h0M176.6 166.7h0M199.8 169h0M183 164.4h0M183.8 159.7h0" stroke="#fff" stroke-width="0.37" stroke-linecap="round" fill="none" opacity="0.41"/>
<path d="M174 154.3h0M173.2 171.4h0M181.8 159.2h0M169.4 167.4h0M203.1 142.2h0M192.8 137.9h0M181.8 161.4h0M178.2 171.6h0M199.4 150.5h0M175.4 140.4h0M201.8 168.9h0M195.7 153.8h0M182.4 158.1h0M181.3 164.7h0M185.3 165.1h0M184.1 173.9h0M202.3 138.9h0M199.9 156.2h0M170.4 137.9h0M192.6 155.5h0M179.6 168h0M183.1 172.5h0M175.9 165.8h0M194.3 152.8h0M198.1 162.5h0M172.9 164.8h0M205.3 169.1h0M192.2 149.1h0M205.3 140.6h0M176.5 137.7h0M177.5 167.3h0M169.8 149h0" stroke="#fff" stroke-width="0.51" stroke-linecap="round" fill="none" opacity="0.41"/>
<rect x="166.2" y="133.8" width="4.2" height="4.6" fill="#000" />
<text x="171" y="137.2" font-size="2.6" fill="#fff" font-weight="bold" text-anchor="start" >Hybrid/Disordered</text>
<text x="184" y="149.4" font-size="3.1" fill="#fff" font-weight="bold" text-anchor="middle" >A</text>
<path d="M184 149.9 l-0.2 2.6" stroke="#fff" stroke-width="0.55" fill="none"/>
<circle cx="183.8" cy="152.2" r="0.5" fill="#fff" />
<text x="202" y="149.4" font-size="3.1" fill="#fff" font-weight="bold" text-anchor="middle" >B</text>
<path d="M202 149.9 l1.4 2.8" stroke="#fff" stroke-width="0.55" fill="none"/>
<circle cx="203.4" cy="152.4" r="0.5" fill="#fff" />
<path d="M145 172 L150 164 L156 157" stroke="#ddd" stroke-width="0.5" stroke-dasharray="0.8 1" fill="none" opacity="0.8"/>
<path d="M193 130 L196 124" stroke="#ccc" stroke-width="0.5" stroke-dasharray="0.8 1" fill="none" opacity="0.7"/>
<path d="M189 172 L195 164 L200 158" stroke="#ccc" stroke-width="0.45" stroke-dasharray="0.8 1" fill="none" opacity="0.6"/>
<rect x="126" y="171.6" width="12.6" height="0.7" fill="#fff" />
<text x="132.3" y="170.8" font-size="2.2" fill="#fff" font-weight="bold" text-anchor="middle" >100 nm</text>
<rect x="211.3" y="50.4" width="83.1" height="82" fill="#1d1d1d" />
<path d="M245.1 67.4h0M231 62.1h0M232.7 82h0M269.1 58.6h0M252 85.1h0M260 114.8h0M279 120.3h0M224.6 104.2h0M239.8 127.1h0M267.2 58.4h0M245 73h0M246.8 80.4h0M218.9 92.9h0M261.4 129.5h0M222.8 127.6h0M225.3 114.7h0M287.3 65.6h0M265.9 54.4h0M226.2 106.1h0M218.9 85.4h0M223.9 100.8h0M239 93.3h0M285.3 129.3h0M229.4 72h0M279.2 61.5h0M250.9 55.9h0M282.4 99.4h0M224.5 126.7h0M220.1 62.9h0M292.7 84.2h0M283.7 76.9h0M277 119.1h0M281.9 80.3h0M218.2 74.4h0M279.8 78.4h0M244.7 117.2h0M243.6 116.5h0M219.8 121.8h0M270.8 83.3h0M231 119.7h0M265.3 76.3h0M270.8 68.9h0M267 71.4h0M247.8 128.1h0M246.5 124h0M253.1 124h0M276.2 94.1h0M247.2 74.7h0M279.3 64.2h0M267.3 99.7h0M266.4 86.6h0M239.6 67.2h0M266.4 106.9h0M284.6 104.8h0M233.5 84.7h0M231.1 120.2h0M265.5 51.7h0M255.4 51.5h0M289.3 129.7h0M288 72.5h0M246.1 96.2h0M262.6 101.9h0M274.7 67.4h0M293.4 115.9h0M259.4 128.3h0M236.6 129.1h0M289.2 98.4h0M228 59.4h0M244.6 65.2h0M239 121.6h0M282.7 107h0M246.2 127.7h0M241.5 68h0M258.7 122.6h0M227.2 124.4h0M258.8 101.5h0M266.2 129.8h0M231.7 88.2h0M221.6 115.1h0M239.5 110.1h0M267.5 73.4h0M259.6 84.5h0M223.3 125h0M215.2 78.8h0M257.3 74.8h0M217 113.4h0M277.6 60.8h0M234.4 103.9h0M257.7 67.3h0M226.4 79.7h0M218.9 105.6h0M222.5 62.4h0M219.3 112.1h0M243.1 79.7h0M231.1 100.1h0M225.4 113.3h0M277.9 86.3h0M226.9 60.3h0M264.4 93.1h0M231 124.7h0M275.8 130.6h0M283.2 57.8h0M283.3 118.5h0M242.6 76.5h0M259.7 53h0M223.1 52.3h0M278 75.1h0M215.6 64.5h0M238 78.2h0M277.6 128.9h0M278.3 100.2h0M224.5 105.4h0M272.2 84.9h0M285.4 69.6h0M245.2 55.8h0M264.8 64.5h0M288.8 118.4h0M285.3 65.8h0M217.3 121.8h0M259.3 85.9h0M287.9 54.2h0M288.3 129.5h0M225.7 70.1h0M223 124.8h0M242.3 64.2h0M258.8 68.1h0M247.7 67.5h0M223.2 110.5h0M226.3 106.3h0M265.1 105.2h0M286.7 119.4h0M231.3 93.4h0M269.5 83h0M218.2 71.4h0M239.4 66.5h0M217.3 66.6h0M266.1 66.2h0M233 97.6h0M228.2 80.6h0M240.2 62.8h0M255.4 67.2h0M288.8 53.6h0M223.7 57.7h0M213.8 126.7h0M232.2 63.7h0M214 65.5h0M240.2 71.9h0M264.6 86.1h0M291.2 81h0M257.6 81.5h0M285.6 72.4h0M240.3 60.7h0M232 125.8h0M234 101.1h0M283.4 101.1h0M229.5 104.6h0M213.7 110.9h0M275.3 61.2h0M235.2 112.6h0M273.5 92.2h0M261.4 94.2h0M286.6 83.3h0M217.8 125.4h0M272.5 78.5h0M282.2 66.8h0M265.6 97.7h0M222.1 77h0M266.5 130.9h0M293.2 117.8h0M227.2 62.2h0M235.6 65.6h0M220.8 118.8h0M243.6 59.1h0M289.2 75.7h0M225.1 73.3h0M215.1 99.8h0M232.6 82.7h0M260.8 68.8h0M237.2 87.2h0M232.8 66.1h0M224.4 77.7h0M277.3 69.8h0M261.1 57h0M247.6 63h0M239.7 114.2h0M259.4 58h0M219.5 88h0M212.7 120.9h0M275.3 75.3h0M224.2 72h0M226.3 95.8h0M227.7 100.7h0M214.3 118.4h0M245.1 91.7h0M264.9 71.4h0M262.3 68.9h0M215.8 77.4h0M288.8 124.5h0M278.1 101.6h0M246.7 89.5h0M261.3 96h0M237.2 52.7h0M240.2 61.7h0M217.8 77h0M257.6 118.1h0M275 59.4h0M236.3 104.8h0M215.6 101.7h0M244 120.8h0M243.1 98.8h0M233.3 124.9h0M223.2 72.3h0M286.8 80.8h0M260.4 98.9h0M266.2 74.5h0M245.4 61.7h0M284.2 118.7h0M291 104.3h0M256.8 94.2h0M232.3 93.3h0M233.8 86.1h0M219.8 128.6h0M285 69.7h0M217.7 121.8h0M275.5 130.5h0M287.2 96.3h0M290.6 125.6h0M275.2 94.2h0M217.5 117.7h0M271.9 52.6h0M264.5 112.4h0M263.8 51.6h0M215.9 69h0M247.3 122.5h0M249.4 118.1h0M274.8 109.2h0M236.8 101.4h0M232.5 82.9h0M288.4 91.3h0M235.4 79.3h0M268.4 54h0M259 81.2h0M266.3 127.9h0M226.7 71.7h0M243.9 84.4h0M290 75.7h0M214.8 71.4h0M285.6 121.6h0M280.5 64.2h0M236.6 77.1h0M244.8 122.1h0M275.8 51.9h0M249.9 73.6h0M263.4 109.9h0M238.9 62.7h0M216.2 83.3h0M259.9 115h0M229.5 60.8h0M244.5 77.8h0M255.4 77.7h0M269.4 58.6h0M273.8 115h0M225 71h0M290.1 69.8h0M227.3 109.4h0M263.4 81.8h0M291.4 86.4h0M212.9 66h0M292.8 85.7h0M247.5 73.6h0M262.8 62.9h0M242.7 118.8h0M292.7 88.5h0M268 90.4h0M236.6 87.1h0M275.5 90.1h0M249.2 61.1h0M213.2 86.3h0M279.5 109.7h0M283.5 61.1h0M247.1 94.7h0M221.5 98.5h0M223.2 69.1h0M213.9 107.8h0M290 112.8h0M227.9 126.6h0" stroke="#aaa" stroke-width="2.7" stroke-linecap="round" fill="none" opacity="0.24"/>
<path d="M245.1 67.4h0M231 62.1h0M279 120.3h0M245 73h0M218.9 92.9h0M265.9 54.4h0M218.9 85.4h0M239 93.3h0M224.5 126.7h0M220.1 62.9h0M292.7 84.2h0M277 119.1h0M231 119.7h0M246.5 124h0M239.6 67.2h0M266.4 106.9h0M289.3 129.7h0M274.7 67.4h0M293.4 115.9h0M246.2 127.7h0M231.7 88.2h0M221.6 115.1h0M267.5 73.4h0M259.6 84.5h0M215.2 78.8h0M217 113.4h0M277.6 60.8h0M234.4 103.9h0M264.4 93.1h0M231 124.7h0M283.2 57.8h0M242.6 76.5h0M259.7 53h0M278 75.1h0M245.2 55.8h0M288.8 118.4h0M217.3 121.8h0M259.3 85.9h0M288.3 129.5h0M223 124.8h0M258.8 68.1h0M247.7 67.5h0M223.2 110.5h0M226.3 106.3h0M286.7 119.4h0M217.3 66.6h0M228.2 80.6h0M255.4 67.2h0M288.8 53.6h0M232.2 63.7h0M214 65.5h0M240.2 71.9h0M232 125.8h0M283.4 101.1h0M213.7 110.9h0M275.3 61.2h0M273.5 92.2h0M261.4 94.2h0M286.6 83.3h0M265.6 97.7h0M222.1 77h0M266.5 130.9h0M225.1 73.3h0M215.1 99.8h0M224.4 77.7h0M247.6 63h0M219.5 88h0M212.7 120.9h0M275.3 75.3h0M262.3 68.9h0M288.8 124.5h0M246.7 89.5h0M240.2 61.7h0M257.6 118.1h0M223.2 72.3h0M291 104.3h0M256.8 94.2h0M232.3 93.3h0M219.8 128.6h0M217.7 121.8h0M275.5 130.5h0M287.2 96.3h0M275.2 94.2h0M271.9 52.6h0M249.4 118.1h0M274.8 109.2h0M288.4 91.3h0M235.4 79.3h0M259 81.2h0M226.7 71.7h0M290 75.7h0M214.8 71.4h0M280.5 64.2h0M263.4 109.9h0M255.4 77.7h0M290.1 69.8h0M227.3 109.4h0M247.5 73.6h0M279.5 109.7h0M247.1 94.7h0M221.5 98.5h0M213.9 107.8h0M290 112.8h0M227.9 126.6h0" stroke="#fff" stroke-width="1.0" stroke-linecap="round" fill="none" opacity="0.45"/>
<path d="M260 114.8h0M267.2 58.4h0M261.4 129.5h0M226.2 106.1h0M223.9 100.8h0M229.4 72h0M283.7 76.9h0M279.8 78.4h0M244.7 117.2h0M219.8 121.8h0M270.8 83.3h0M267 71.4h0M247.8 128.1h0M253.1 124h0M276.2 94.1h0M279.3 64.2h0M266.4 86.6h0M231.1 120.2h0M255.4 51.5h0M259.4 128.3h0M289.2 98.4h0M228 59.4h0M244.6 65.2h0M239 121.6h0M282.7 107h0M241.5 68h0M258.7 122.6h0M227.2 124.4h0M258.8 101.5h0M223.3 125h0M257.3 74.8h0M225.4 113.3h0M277.9 86.3h0M226.9 60.3h0M283.3 118.5h0M223.1 52.3h0M238 78.2h0M277.6 128.9h0M224.5 105.4h0M285.3 65.8h0M287.9 54.2h0M225.7 70.1h0M233 97.6h0M240.2 62.8h0M223.7 57.7h0M213.8 126.7h0M291.2 81h0M234 101.1h0M217.8 125.4h0M293.2 117.8h0M235.6 65.6h0M220.8 118.8h0M243.6 59.1h0M232.6 82.7h0M232.8 66.1h0M277.3 69.8h0M239.7 114.2h0M259.4 58h0M224.2 72h0M227.7 100.7h0M214.3 118.4h0M245.1 91.7h0M236.3 104.8h0M215.6 101.7h0M243.1 98.8h0M233.3 124.9h0M286.8 80.8h0M266.2 74.5h0M284.2 118.7h0M233.8 86.1h0M290.6 125.6h0M264.5 112.4h0M232.5 82.9h0M268.4 54h0M266.3 127.9h0M243.9 84.4h0M236.6 77.1h0M244.8 122.1h0M249.9 73.6h0M259.9 115h0M244.5 77.8h0M273.8 115h0M225 71h0M242.7 118.8h0M292.7 88.5h0M236.6 87.1h0M249.2 61.1h0M213.2 86.3h0M223.2 69.1h0" stroke="#fff" stroke-width="1.2" stroke-linecap="round" fill="none" opacity="0.65"/>
<path d="M232.7 82h0M269.1 58.6h0M252 85.1h0M224.6 104.2h0M239.8 127.1h0M246.8 80.4h0M222.8 127.6h0M225.3 114.7h0M287.3 65.6h0M285.3 129.3h0M279.2 61.5h0M250.9 55.9h0M282.4 99.4h0M281.9 80.3h0M218.2 74.4h0M243.6 116.5h0M265.3 76.3h0M270.8 68.9h0M247.2 74.7h0M267.3 99.7h0M284.6 104.8h0M233.5 84.7h0M265.5 51.7h0M288 72.5h0M246.1 96.2h0M262.6 101.9h0M236.6 129.1h0M266.2 129.8h0M239.5 110.1h0M257.7 67.3h0M226.4 79.7h0M218.9 105.6h0M222.5 62.4h0M219.3 112.1h0M243.1 79.7h0M231.1 100.1h0M275.8 130.6h0M215.6 64.5h0M278.3 100.2h0M272.2 84.9h0M285.4 69.6h0M264.8 64.5h0M242.3 64.2h0M265.1 105.2h0M231.3 93.4h0M269.5 83h0M218.2 71.4h0M239.4 66.5h0M266.1 66.2h0M264.6 86.1h0M257.6 81.5h0M285.6 72.4h0M240.3 60.7h0M229.5 104.6h0M235.2 112.6h0M272.5 78.5h0M282.2 66.8h0M227.2 62.2h0M289.2 75.7h0M260.8 68.8h0M237.2 87.2h0M261.1 57h0M226.3 95.8h0M264.9 71.4h0M215.8 77.4h0M278.1 101.6h0M261.3 96h0M237.2 52.7h0M217.8 77h0M275 59.4h0M244 120.8h0M260.4 98.9h0M245.4 61.7h0M285 69.7h0M217.5 117.7h0M263.8 51.6h0M215.9 69h0M247.3 122.5h0M236.8 101.4h0M285.6 121.6h0M275.8 51.9h0M238.9 62.7h0M216.2 83.3h0M229.5 60.8h0M269.4 58.6h0M263.4 81.8h0M291.4 86.4h0M212.9 66h0M292.8 85.7h0M262.8 62.9h0M268 90.4h0M275.5 90.1h0M283.5 61.1h0" stroke="#fff" stroke-width="1.5" stroke-linecap="round" fill="none" opacity="0.85"/>
<rect x="211.3" y="50.4" width="10" height="7.2" fill="#000" />
<text x="222" y="56.8" font-size="5.6" fill="#fff" font-weight="bold" text-anchor="start" >β″</text>
<text x="245.8" y="84" font-size="6.6" fill="#fff" font-weight="bold" text-anchor="middle" >A</text>
<path d="M245.6 84.6 l-1 4.2" stroke="#fff" stroke-width="0.8"/><path d="M243 87.6 l1.5 2.6 l1.9 -2.2z" fill="#fff"/>
<text x="282.6" y="85" font-size="6.6" fill="#fff" font-weight="bold" text-anchor="middle" >B</text>
<path d="M283.6 85.6 l2.4 5" stroke="#fff" stroke-width="0.8"/><path d="M284.3 90.3 l2.6 1.6 l0 -3z" fill="#fff"/>
<path d="M266 122 L270 115 L273 110" stroke="#bbb" stroke-width="0.6" stroke-dasharray="1 1" fill="none" opacity="0.7"/>
<text x="297.6" y="12" font-size="9.4" fill="#222" font-weight="normal" text-anchor="start" >(b)</text>
<rect x="311.6" y="3.3" width="46" height="46.1" fill="url(#stem1G)" />
<g opacity="0.3">
<line x1="311.6" y1="4" x2="357.6" y2="4" stroke="#1a1a1a" stroke-width="0.55" />
<line x1="311.6" y1="4.58" x2="357.6" y2="4.58" stroke="#e8e8e8" stroke-width="0.4" />
<line x1="311.6" y1="5.16" x2="357.6" y2="5.16" stroke="#1a1a1a" stroke-width="0.55" />
<line x1="311.6" y1="5.74" x2="357.6" y2="5.74" stroke="#e8e8e8" stroke-width="0.4" />
<line x1="311.6" y1="6.32" x2="357.6" y2="6.32" stroke="#1a1a1a" stroke-width="0.55" />
<line x1="311.6" y1="6.9" x2="357.6" y2="6.9" stroke="#e8e8e8" stroke-width="0.4" />
<line x1="311.6" y1="7.48" x2="357.6" y2="7.48" stroke="#1a1a1a" stroke-width="0.55" />
<line x1="311.6" y1="8.06" x2="357.6" y2="8.06" stroke="#e8e8e8" stroke-width="0.4" />
<line x1="311.6" y1="8.64" x2="357.6" y2="8.64" stroke="#1a1a1a" stroke-width="0.55" />
<line x1="311.6" y1="9.22" x2="357.6" y2="9.22" stroke="#e8e8e8" stroke-width="0.4" />
<line x1="311.6" y1="9.8" x2="357.6" y2="9.8" stroke="#1a1a1a" stroke-width="0.55" />
<line x1="311.6" y1="10.38" x2="357.6" y2="10.38" stroke="#e8e8e8" stroke-width="0.4" />
<line x1="311.6" y1="10.96" x2="357.6" y2="10.96" stroke="#1a1a1a" stroke-width="0.55" />
<line x1="311.6" y1="11.54" x2="357.6" y2="11.54" stroke="#e8e8e8" stroke-width="0.4" />
<line x1="311.6" y1="12.12" x2="357.6" y2="12.12" stroke="#1a1a1a" stroke-width="0.55" />
<line x1="311.6" y1="12.7" x2="357.6" y2="12.7" stroke="#e8e8e8" stroke-width="0.4" />
<line x1="311.6" y1="13.28" x2="357.6" y2="13.28" stroke="#1a1a1a" stroke-width="0.55" />
<line x1="311.6" y1="13.86" x2="357.6" y2="13.86" stroke="#e8e8e8" stroke-width="0.4" />
<line x1="311.6" y1="14.44" x2="357.6" y2="14.44" stroke="#1a1a1a" stroke-width="0.55" />
<line x1="311.6" y1="15.02" x2="357.6" y2="15.02" stroke="#e8e8e8" stroke-width="0.4" />
<line x1="311.6" y1="15.6" x2="357.6" y2="15.6" stroke="#1a1a1a" stroke-width="0.55" />
<line x1="311.6" y1="16.18" x2="357.6" y2="16.18" stroke="#e8e8e8" stroke-width="0.4" />
<line x1="311.6" y1="16.76" x2="357.6" y2="16.76" stroke="#1a1a1a" stroke-width="0.55" />
<line x1="311.6" y1="17.34" x2="357.6" y2="17.34" stroke="#e8e8e8" stroke-width="0.4" />
<line x1="311.6" y1="17.92" x2="357.6" y2="17.92" stroke="#1a1a1a" stroke-width="0.55" />
<line x1="311.6" y1="18.5" x2="357.6" y2="18.5" stroke="#e8e8e8" stroke-width="0.4" />
<line x1="311.6" y1="19.08" x2="357.6" y2="19.08" stroke="#1a1a1a" stroke-width="0.55" />
<line x1="311.6" y1="19.66" x2="357.6" y2="19.66" stroke="#e8e8e8" stroke-width="0.4" />
<line x1="311.6" y1="20.24" x2="357.6" y2="20.24" stroke="#1a1a1a" stroke-width="0.55" />
<line x1="311.6" y1="20.82" x2="357.6" y2="20.82" stroke="#e8e8e8" stroke-width="0.4" />
<line x1="311.6" y1="21.4" x2="357.6" y2="21.4" stroke="#1a1a1a" stroke-width="0.55" />
<line x1="311.6" y1="21.98" x2="357.6" y2="21.98" stroke="#e8e8e8" stroke-width="0.4" />
<line x1="311.6" y1="22.56" x2="357.6" y2="22.56" stroke="#1a1a1a" stroke-width="0.55" />
<line x1="311.6" y1="23.14" x2="357.6" y2="23.14" stroke="#e8e8e8" stroke-width="0.4" />
<line x1="311.6" y1="23.72" x2="357.6" y2="23.72" stroke="#1a1a1a" stroke-width="0.55" />
<line x1="311.6" y1="24.3" x2="357.6" y2="24.3" stroke="#e8e8e8" stroke-width="0.4" />
<line x1="311.6" y1="24.88" x2="357.6" y2="24.88" stroke="#1a1a1a" stroke-width="0.55" />
<line x1="311.6" y1="25.46" x2="357.6" y2="25.46" stroke="#e8e8e8" stroke-width="0.4" />
<line x1="311.6" y1="26.04" x2="357.6" y2="26.04" stroke="#1a1a1a" stroke-width="0.55" />
<line x1="311.6" y1="26.62" x2="357.6" y2="26.62" stroke="#e8e8e8" stroke-width="0.4" />
<line x1="311.6" y1="27.2" x2="357.6" y2="27.2" stroke="#1a1a1a" stroke-width="0.55" />
<line x1="311.6" y1="27.78" x2="357.6" y2="27.78" stroke="#e8e8e8" stroke-width="0.4" />
<line x1="311.6" y1="28.36" x2="357.6" y2="28.36" stroke="#1a1a1a" stroke-width="0.55" />
<line x1="311.6" y1="28.94" x2="357.6" y2="28.94" stroke="#e8e8e8" stroke-width="0.4" />
<line x1="311.6" y1="29.52" x2="357.6" y2="29.52" stroke="#1a1a1a" stroke-width="0.55" />
<line x1="311.6" y1="30.1" x2="357.6" y2="30.1" stroke="#e8e8e8" stroke-width="0.4" />
<line x1="311.6" y1="30.68" x2="357.6" y2="30.68" stroke="#1a1a1a" stroke-width="0.55" />
<line x1="311.6" y1="31.26" x2="357.6" y2="31.26" stroke="#e8e8e8" stroke-width="0.4" />
<line x1="311.6" y1="31.84" x2="357.6" y2="31.84" stroke="#1a1a1a" stroke-width="0.55" />
<line x1="311.6" y1="32.42" x2="357.6" y2="32.42" stroke="#e8e8e8" stroke-width="0.4" />
<line x1="311.6" y1="33" x2="357.6" y2="33" stroke="#1a1a1a" stroke-width="0.55" />
<line x1="311.6" y1="33.58" x2="357.6" y2="33.58" stroke="#e8e8e8" stroke-width="0.4" />
<line x1="311.6" y1="34.16" x2="357.6" y2="34.16" stroke="#1a1a1a" stroke-width="0.55" />
<line x1="311.6" y1="34.74" x2="357.6" y2="34.74" stroke="#e8e8e8" stroke-width="0.4" />
<line x1="311.6" y1="35.32" x2="357.6" y2="35.32" stroke="#1a1a1a" stroke-width="0.55" />
<line x1="311.6" y1="35.9" x2="357.6" y2="35.9" stroke="#e8e8e8" stroke-width="0.4" />
<line x1="311.6" y1="36.48" x2="357.6" y2="36.48" stroke="#1a1a1a" stroke-width="0.55" />
<line x1="311.6" y1="37.06" x2="357.6" y2="37.06" stroke="#e8e8e8" stroke-width="0.4" />
<line x1="311.6" y1="37.64" x2="357.6" y2="37.64" stroke="#1a1a1a" stroke-width="0.55" />
<line x1="311.6" y1="38.22" x2="357.6" y2="38.22" stroke="#e8e8e8" stroke-width="0.4" />
<line x1="311.6" y1="38.8" x2="357.6" y2="38.8" stroke="#1a1a1a" stroke-width="0.55" />
<line x1="311.6" y1="39.38" x2="357.6" y2="39.38" stroke="#e8e8e8" stroke-width="0.4" />
<line x1="311.6" y1="39.96" x2="357.6" y2="39.96" stroke="#1a1a1a" stroke-width="0.55" />
<line x1="311.6" y1="40.54" x2="357.6" y2="40.54" stroke="#e8e8e8" stroke-width="0.4" />
<line x1="311.6" y1="41.12" x2="357.6" y2="41.12" stroke="#1a1a1a" stroke-width="0.55" />
<line x1="311.6" y1="41.7" x2="357.6" y2="41.7" stroke="#e8e8e8" stroke-width="0.4" />
<line x1="311.6" y1="42.28" x2="357.6" y2="42.28" stroke="#1a1a1a" stroke-width="0.55" />
<line x1="311.6" y1="42.86" x2="357.6" y2="42.86" stroke="#e8e8e8" stroke-width="0.4" />
<line x1="311.6" y1="43.44" x2="357.6" y2="43.44" stroke="#1a1a1a" stroke-width="0.55" />
<line x1="311.6" y1="44.02" x2="357.6" y2="44.02" stroke="#e8e8e8" stroke-width="0.4" />
<line x1="311.6" y1="44.6" x2="357.6" y2="44.6" stroke="#1a1a1a" stroke-width="0.55" />
<line x1="311.6" y1="45.18" x2="357.6" y2="45.18" stroke="#e8e8e8" stroke-width="0.4" />
<line x1="311.6" y1="45.76" x2="357.6" y2="45.76" stroke="#1a1a1a" stroke-width="0.55" />
<line x1="311.6" y1="46.34" x2="357.6" y2="46.34" stroke="#e8e8e8" stroke-width="0.4" />
<line x1="311.6" y1="46.92" x2="357.6" y2="46.92" stroke="#1a1a1a" stroke-width="0.55" />
<line x1="311.6" y1="47.5" x2="357.6" y2="47.5" stroke="#e8e8e8" stroke-width="0.4" />
<line x1="311.6" y1="48.08" x2="357.6" y2="48.08" stroke="#1a1a1a" stroke-width="0.55" />
<line x1="311.6" y1="48.66" x2="357.6" y2="48.66" stroke="#e8e8e8" stroke-width="0.4" />
</g>
<g filter="url(#nzB)" opacity="0.18"><rect x="311.6" y="3.3" width="46" height="46.1" fill="#fff"/></g>
<rect x="311.6" y="3.3" width="8.4" height="6.7" fill="#000" />
<rect x="346.4" y="3.3" width="11.2" height="4.6" fill="#333" />
<text x="352" y="7" font-size="3.2" fill="#fff" font-weight="bold" text-anchor="middle" >STEM</text>
<text x="334.6" y="25" font-size="2.7" fill="#eee" font-weight="bold" text-anchor="middle" >GaPα/</text>
<text x="334.6" y="28.6" font-size="2.7" fill="#eee" font-weight="bold" text-anchor="middle" >GaAsP</text>
<text x="334.6" y="47.6" font-size="2.7" fill="#eee" font-weight="bold" text-anchor="middle" >AlGaAsP</text>
<rect x="359.2" y="3.3" width="45" height="46.1" fill="#0a0a0a" />
<clipPath id="cpN"><rect x="359.2" y="3.3" width="45" height="46.1"/></clipPath><g clip-path="url(#cpN)">
<circle cx="405.3" cy="54.9" r="3.75" fill="url(#discA)" opacity="0.08"/>
<circle cx="358.5" cy="54.9" r="3.75" fill="url(#discA)" opacity="0.08"/>
<circle cx="393.6" cy="54.9" r="3.75" fill="url(#discA)" opacity="0.08"/>
<circle cx="370.2" cy="54.9" r="3.75" fill="url(#discA)" opacity="0.08"/>
<circle cx="405.3" cy="45.4" r="3.75" fill="url(#discA)" opacity="0.08"/>
<circle cx="405.3" cy="7.4" r="3.75" fill="url(#discA)" opacity="0.08"/>
<circle cx="358.5" cy="45.4" r="3.75" fill="url(#discA)" opacity="0.08"/>
<circle cx="358.5" cy="7.4" r="3.75" fill="url(#discA)" opacity="0.08"/>
<circle cx="399.45" cy="50.15" r="3.75" fill="url(#discA)" opacity="0.08"/>
<circle cx="399.45" cy="2.65" r="3.75" fill="url(#discA)" opacity="0.08"/>
<circle cx="364.35" cy="50.15" r="3.75" fill="url(#discA)" opacity="0.08"/>
<circle cx="364.35" cy="2.65" r="3.75" fill="url(#discA)" opacity="0.08"/>
<circle cx="381.9" cy="54.9" r="3.75" fill="url(#discA)" opacity="0.08"/>
<circle cx="405.3" cy="35.9" r="3.75" fill="url(#discA)" opacity="0.08"/>
<circle cx="405.3" cy="16.9" r="3.75" fill="url(#discA)" opacity="0.08"/>
<circle cx="358.5" cy="35.9" r="3.75" fill="url(#discA)" opacity="0.08"/>
<circle cx="358.5" cy="16.9" r="3.75" fill="url(#discA)" opacity="0.08"/>
<circle cx="387.75" cy="50.15" r="3.75" fill="url(#discA)" opacity="0.08"/>
<circle cx="387.75" cy="2.65" r="3.75" fill="url(#discA)" opacity="0.08"/>
<circle cx="376.05" cy="50.15" r="3.75" fill="url(#discA)" opacity="0.08"/>
<circle cx="376.05" cy="2.65" r="3.75" fill="url(#discA)" opacity="0.08"/>
<circle cx="405.3" cy="26.4" r="3.75" fill="url(#discA)" opacity="0.16"/>
<circle cx="358.5" cy="26.4" r="3.75" fill="url(#discA)" opacity="0.16"/>
<circle cx="399.45" cy="40.65" r="3.75" fill="url(#discA)" opacity="0.16"/>
<circle cx="399.45" cy="12.15" r="3.75" fill="url(#discA)" opacity="0.16"/>
<circle cx="364.35" cy="40.65" r="3.75" fill="url(#discA)" opacity="0.16"/>
<circle cx="364.35" cy="12.15" r="3.75" fill="url(#discA)" opacity="0.16"/>
<circle cx="393.6" cy="45.4" r="3.75" fill="url(#discA)" opacity="0.16"/>
<circle cx="393.6" cy="7.4" r="3.75" fill="url(#discA)" opacity="0.16"/>
<circle cx="370.2" cy="45.4" r="3.75" fill="url(#discA)" opacity="0.16"/>
<circle cx="370.2" cy="7.4" r="3.75" fill="url(#discA)" opacity="0.16"/>
<circle cx="381.9" cy="45.4" r="3.75" fill="url(#discA)" opacity="0.3"/>
<circle cx="381.9" cy="7.4" r="3.75" fill="url(#discA)" opacity="0.3"/>
<circle cx="399.45" cy="31.15" r="3.75" fill="url(#discA)" opacity="0.3"/>
<circle cx="399.45" cy="21.65" r="3.75" fill="url(#discA)" opacity="0.3"/>
<circle cx="364.35" cy="31.15" r="3.75" fill="url(#discA)" opacity="0.3"/>
<circle cx="364.35" cy="21.65" r="3.75" fill="url(#discA)" opacity="0.3"/>
<circle cx="387.75" cy="40.65" r="3.75" fill="url(#discA)" opacity="0.5"/>
<circle cx="387.75" cy="12.15" r="3.75" fill="url(#discA)" opacity="0.5"/>
<circle cx="376.05" cy="40.65" r="3.75" fill="url(#discA)" opacity="0.5"/>
<circle cx="376.05" cy="12.15" r="3.75" fill="url(#discA)" opacity="0.5"/>
<circle cx="393.6" cy="35.9" r="3.75" fill="url(#discA)" opacity="0.5"/>
<circle cx="393.6" cy="16.9" r="3.75" fill="url(#discA)" opacity="0.5"/>
<circle cx="370.2" cy="35.9" r="3.75" fill="url(#discA)" opacity="0.5"/>
<circle cx="370.2" cy="16.9" r="3.75" fill="url(#discA)" opacity="0.5"/>
<circle cx="393.6" cy="26.4" r="3.75" fill="url(#discA)" opacity="0.85"/>
<circle cx="370.2" cy="26.4" r="3.75" fill="url(#discA)" opacity="0.85"/>
<circle cx="381.9" cy="35.9" r="3.75" fill="url(#discA)" opacity="0.85"/>
<circle cx="381.9" cy="16.9" r="3.75" fill="url(#discA)" opacity="0.85"/>
<circle cx="387.75" cy="31.15" r="3.75" fill="url(#discA)" opacity="0.97"/>
<circle cx="387.75" cy="21.65" r="3.75" fill="url(#discA)" opacity="0.97"/>
<circle cx="376.05" cy="31.15" r="3.75" fill="url(#discA)" opacity="0.97"/>
<circle cx="376.05" cy="21.65" r="3.75" fill="url(#discA)" opacity="0.97"/>
<circle cx="381.9" cy="26.4" r="14" fill="url(#glow)"/>
<circle cx="381.9" cy="26.4" r="3.9" fill="#fff" stroke="#2a2ae0" stroke-width="0.8"/>
<circle cx="381.9" cy="16.9" r="4.3" fill="none" stroke="#e02020" stroke-width="0.7"/>
<circle cx="393.6" cy="26.4" r="4.2" fill="none" stroke="#e02020" stroke-width="0.7"/>
</g>
<text x="399" y="7" font-size="2.6" fill="#eee" font-weight="bold" text-anchor="middle" >NBED</text>
<text x="382.4" y="12.2" font-size="2.3" fill="#eee" font-weight="bold" text-anchor="middle" >(400)</text>
<text x="396.6" y="20.6" font-size="2.3" fill="#eee" font-weight="bold" text-anchor="middle" >220</text>
<rect x="361.5" y="46.3" width="11" height="0.7" fill="#fff" />
<text x="362" y="45.3" font-size="2.6" fill="#fff" font-weight="bold" text-anchor="start" >5 nm⁻¹</text>
<rect x="398" y="42.5" width="6" height="4" fill="#222" />
<text x="401" y="45.6" font-size="1.8" fill="#ddd" font-weight="normal" text-anchor="middle" >[001]</text>
<rect x="407" y="3.3" width="45.6" height="46.1" fill="#a07850" />
<g>
<rect x="407" y="3.3" width="45.6" height="1.08" fill="#c4a82c" />
<rect x="407" y="4.38" width="45.6" height="0.82" fill="#6c54a0" />
<rect x="407" y="5.2" width="45.6" height="1.08" fill="#c4a82c" />
<rect x="407" y="6.28" width="45.6" height="0.82" fill="#6c54a0" />
<rect x="407" y="7.1" width="45.6" height="1.08" fill="#c4a82c" />
<rect x="407" y="8.18" width="45.6" height="0.82" fill="#6c54a0" />
<rect x="407" y="9" width="45.6" height="1.08" fill="#c4a82c" />
<rect x="407" y="10.08" width="45.6" height="0.82" fill="#6c54a0" />
<rect x="407" y="10.9" width="45.6" height="1.08" fill="#c4a82c" />
<rect x="407" y="11.98" width="45.6" height="0.82" fill="#6c54a0" />
<rect x="407" y="12.8" width="45.6" height="1.08" fill="#c4a82c" />
<rect x="407" y="13.88" width="45.6" height="0.82" fill="#6c54a0" />
<rect x="407" y="14.7" width="45.6" height="1.08" fill="#c4a82c" />
<rect x="407" y="15.78" width="45.6" height="0.82" fill="#6c54a0" />
<rect x="407" y="16.6" width="45.6" height="1.08" fill="#c4a82c" />
<rect x="407" y="17.68" width="45.6" height="0.82" fill="#6c54a0" />
<rect x="407" y="18.5" width="45.6" height="1.08" fill="#c4a82c" />
<rect x="407" y="19.58" width="45.6" height="0.82" fill="#6c54a0" />
<rect x="407" y="20.4" width="45.6" height="1.08" fill="#c4a82c" />
<rect x="407" y="21.48" width="45.6" height="0.82" fill="#6c54a0" />
<rect x="407" y="22.3" width="45.6" height="1.08" fill="#c4a82c" />
<rect x="407" y="23.38" width="45.6" height="0.82" fill="#6c54a0" />
<rect x="407" y="24.2" width="45.6" height="1.08" fill="#c4a82c" />
<rect x="407" y="25.28" width="45.6" height="0.82" fill="#6c54a0" />
<rect x="407" y="26.1" width="45.6" height="1.08" fill="#c4a82c" />
<rect x="407" y="27.18" width="45.6" height="0.82" fill="#6c54a0" />
<rect x="407" y="28" width="45.6" height="1.08" fill="#c4a82c" />
<rect x="407" y="29.08" width="45.6" height="0.82" fill="#6c54a0" />
<rect x="407" y="29.9" width="45.6" height="1.08" fill="#c4a82c" />
<rect x="407" y="30.98" width="45.6" height="0.82" fill="#6c54a0" />
<rect x="407" y="31.8" width="45.6" height="1.08" fill="#c4a82c" />
<rect x="407" y="32.88" width="45.6" height="0.82" fill="#6c54a0" />
<rect x="407" y="33.7" width="45.6" height="1.08" fill="#c4a82c" />
<rect x="407" y="34.78" width="45.6" height="0.82" fill="#6c54a0" />
<rect x="407" y="35.6" width="45.6" height="1.08" fill="#c4a82c" />
<rect x="407" y="36.68" width="45.6" height="0.82" fill="#6c54a0" />
<rect x="407" y="37.5" width="45.6" height="1.08" fill="#c4a82c" />
<rect x="407" y="38.58" width="45.6" height="0.82" fill="#6c54a0" />
<rect x="407" y="39.4" width="45.6" height="1.08" fill="#c4a82c" />
<rect x="407" y="40.48" width="45.6" height="0.82" fill="#6c54a0" />
<rect x="407" y="41.3" width="45.6" height="1.08" fill="#c4a82c" />
<rect x="407" y="42.38" width="45.6" height="0.82" fill="#6c54a0" />
<rect x="407" y="43.2" width="45.6" height="0.1" fill="#c4a82c" />
</g>
<path d="M436.2 29.2h0M435 28.4h0M440.6 7.6h0M444.9 37.2h0M427.9 16.4h0M430.2 23.3h0M424.2 19.8h0M450.2 19h0M450.5 33.9h0M424.4 4.3h0M408.4 31.3h0M432.8 16.4h0M419.7 20.4h0M427.5 21.9h0M416.8 11.9h0M415.9 16.7h0M425.5 7.8h0M434.5 20.1h0M421.2 12.9h0M433.4 9.5h0M443.3 10.6h0M448.6 15.9h0M438 36.6h0M411.9 14.7h0M418.3 34.3h0M427.3 11.1h0M438.8 28.6h0M427.4 21.9h0M451.7 4.8h0M447.2 40.4h0M414.3 24.2h0M416 41.5h0M423.1 33.2h0M431.8 18.8h0M437.3 11.8h0M441.6 30.1h0" stroke="#c8b030" stroke-width="1.27" stroke-linecap="round" fill="none" opacity="0.42"/>
<path d="M408.5 20.9h0M427.3 39.2h0M437 7.8h0M430.1 5.3h0M440.7 40.3h0M408.3 22.4h0M433.6 13h0M445.1 36.8h0M424.4 16h0M439.5 41.7h0M446.7 36.8h0M447.6 10.8h0M427.7 5.8h0M436.1 37.6h0M441.1 21.9h0M418 34h0M423.6 9.3h0M422 37.1h0M415.8 10.8h0M407.9 30.5h0M426 14.8h0M414.1 7.5h0" stroke="#c8b030" stroke-width="1" stroke-linecap="round" fill="none" opacity="0.54"/>
<path d="M434.1 16.8h0M443 30.4h0M409.4 21.2h0M449.4 38.5h0M427.1 33.3h0M423.7 34.7h0M421.1 6.1h0M436.5 30.4h0M428.1 17.2h0M448.5 30.5h0M429 5.6h0M450.1 19.8h0M417.4 42h0M439.2 30.9h0M433.7 40.7h0M441 22.7h0M413.5 37.1h0M438.5 4.6h0M411.6 19.4h0M416.7 39.9h0M448 19.3h0M421 27.9h0M432.6 11.8h0M410 15.3h0M448.3 11.3h0" stroke="#c8b030" stroke-width="0.73" stroke-linecap="round" fill="none" opacity="0.31"/>
<path d="M437.4 14.9h0M447.4 8.4h0M428.9 31.4h0M427.1 33.3h0M410.6 15h0M446.7 14.2h0M449.2 4.5h0M442.2 33.5h0M446.6 6.4h0M420.5 8.3h0M427.6 25.7h0M416 4h0M421.2 23.7h0M430.6 26.4h0M451.7 16.6h0M425.3 4.7h0M425.9 28.7h0" stroke="#c8b030" stroke-width="1" stroke-linecap="round" fill="none" opacity="0.42"/>
<path d="M411.6 28.7h0M414.3 23.9h0M425.3 19.1h0M416.7 39.4h0M415.3 6.7h0M407.9 5.2h0M431.7 18.3h0M434.2 37.5h0M437.3 3.9h0M448.1 10.2h0M427.1 38.1h0M422.1 6.6h0M447.1 9.8h0M447.7 5.9h0M430.8 35h0M443.5 24.7h0M427.6 5h0M422.4 12.7h0M443.9 41.9h0M441.9 12.2h0" stroke="#c8b030" stroke-width="1" stroke-linecap="round" fill="none" opacity="0.31"/>
<path d="M442.3 39.3h0M408.7 23.3h0M449.6 13.8h0M408.2 13.8h0M439.2 26.3h0M418.6 30.3h0M448.2 25.7h0M444.8 30.2h0M419.8 13.5h0M442.5 24.4h0M440.5 39.5h0M416.3 34.8h0M437 25.9h0M425.8 6.8h0M439.4 35.2h0M438.5 15.1h0" stroke="#c8b030" stroke-width="1.27" stroke-linecap="round" fill="none" opacity="0.31"/>
<path d="M429.2 21h0M448.8 18.5h0M425.6 23.4h0M420.4 26h0M429.6 12.7h0M434 27h0M423.6 30.5h0M428.1 31.4h0M410.9 25.4h0M414.4 31.5h0M450.8 15h0M442.6 7.4h0M418.8 4.7h0M418.5 14.9h0M422.5 20.6h0M419.2 27.8h0M423.2 21.9h0M435.5 27.1h0M420.4 29.6h0M409.8 8.5h0M434.8 27.8h0M424.2 35.9h0M411.5 41.6h0M423.8 8h0M452.1 32.1h0M415.2 11.8h0M426.6 8.6h0M439.9 18.2h0M434.2 11.9h0M434.2 32h0" stroke="#c8b030" stroke-width="0.73" stroke-linecap="round" fill="none" opacity="0.42"/>
<path d="M430.7 25.3h0M432.5 19.9h0M418.7 13.1h0M426.6 25.9h0M436 23.5h0M413.5 25h0M422.3 27.1h0M437.4 10.4h0M431.1 22.3h0M433.1 5h0M432 35.3h0M429.5 18.3h0M443.2 26.9h0M421.1 38.7h0M449 24.8h0M429.6 19.1h0M447.7 33.2h0M431.2 28.5h0M439.6 15.5h0M451.5 4.2h0" stroke="#c8b030" stroke-width="0.73" stroke-linecap="round" fill="none" opacity="0.54"/>
<path d="M443.9 25.2h0M416.2 29.6h0M451 14.9h0M409.1 7h0M411.5 41.9h0M429.4 19.1h0M426.7 38h0M440.2 36.2h0M424.3 8.6h0M424.2 19.8h0M418.2 28.1h0M438.9 15.4h0M429.7 20.6h0M435.9 21h0" stroke="#c8b030" stroke-width="1.27" stroke-linecap="round" fill="none" opacity="0.54"/>
<path d="M418.9 40.5h0M431 33.8h0M437.2 11.2h0M412.8 9.6h0M445.4 33.8h0M411.2 31h0M450 36.4h0M432.6 39.4h0M426.5 18.2h0M433.4 34.3h0M418.6 39.7h0M447.3 7.3h0M440 23.8h0M440.7 25.7h0M421.1 35.5h0M422.2 39.9h0M446.2 25.8h0M414 33.3h0M415.6 39.2h0M413.4 13.4h0M443.4 24.3h0" stroke="#50a050" stroke-width="1.1" stroke-linecap="round" fill="none" opacity="0.25"/>
<path d="M417.4 12.7h0M433.5 16.7h0M413.4 19.8h0M426.2 6h0M409.4 25.3h0M451.1 8.4h0M441.3 26h0M427.2 16.3h0M429.6 10.6h0M427.3 8.3h0M442.5 39.2h0M422.1 27.3h0M422.8 5.1h0M445.5 41.8h0M441.1 17h0M418.9 36.6h0M447.4 21.9h0M424.1 17.1h0M439.8 33h0M432.1 25.1h0" stroke="#50a050" stroke-width="0.7" stroke-linecap="round" fill="none" opacity="0.35"/>
<path d="M419.2 17h0M438.7 13h0M450 28.2h0M432.9 38.2h0M448.6 22.5h0M436.4 34h0M412.6 26.8h0M425.8 27.9h0M446.1 6.8h0M439.1 32.7h0M414.8 28.2h0M415.3 13.2h0M441.6 24.5h0M446.9 17.5h0M425.5 37.1h0M443.6 24.3h0M450 20.9h0M438 21.2h0" stroke="#50a050" stroke-width="1.1" stroke-linecap="round" fill="none" opacity="0.45"/>
<path d="M421.3 4.3h0M412.8 10.8h0M414.1 18.4h0M422.6 19.2h0M431.1 14.3h0M425.6 9.1h0M446.6 20.1h0M408.2 16.5h0M437.9 21.7h0M426.5 20.1h0M432.5 17.8h0M407.6 31.3h0M444.6 4.5h0M414.4 29.3h0M413.5 10.2h0M414.3 16.5h0M443 37.9h0M448.7 5.1h0M432.8 4.9h0" stroke="#50a050" stroke-width="0.9" stroke-linecap="round" fill="none" opacity="0.25"/>
<path d="M417 8.3h0M433.3 21.1h0M444.7 17.4h0M439.2 5.4h0M409.4 39.9h0M434.5 4.4h0M449.5 29.4h0M446.6 12h0M411.9 26.6h0M418.9 26.5h0M422.3 19.1h0M418.6 15.1h0M439.2 16.3h0M428 35.2h0M428.8 35.8h0" stroke="#50a050" stroke-width="0.9" stroke-linecap="round" fill="none" opacity="0.35"/>
<path d="M422.8 39.3h0M428.5 35.2h0M436.8 26.6h0M449.4 14.9h0M440.1 6.5h0M432.5 10.4h0M442.4 9.8h0M415.4 39.3h0M444.2 25.1h0M446.1 11.3h0M430.1 9.9h0" stroke="#50a050" stroke-width="0.9" stroke-linecap="round" fill="none" opacity="0.45"/>
<path d="M415.6 23.1h0M447 27.3h0M448.8 38.1h0M426.5 41.8h0M450.6 38.3h0M434.3 7.7h0M444.6 11.1h0M440.5 11.9h0M430.4 42.1h0M413 20h0M409.1 25.7h0M416.7 41.8h0M430.4 26.9h0M410.6 13.9h0M434.7 12.9h0M408.6 6.1h0M433.8 21.2h0M416.2 41.1h0M407.6 13h0M450.7 35.1h0" stroke="#50a050" stroke-width="0.7" stroke-linecap="round" fill="none" opacity="0.25"/>
<path d="M431.8 40.2h0M423.6 6.8h0M415.9 31.9h0M414 23.6h0M441 28.3h0M421.9 6.1h0M433.7 20.8h0M427.1 38.9h0M416.1 8.9h0M437.7 30.8h0M434.8 17.3h0M426.9 39.8h0M430.3 10.8h0M432.1 19.4h0M443.2 15.6h0M431.2 33.6h0" stroke="#50a050" stroke-width="0.7" stroke-linecap="round" fill="none" opacity="0.45"/>
<path d="M416 25.4h0M416.6 17.1h0M448.4 19.7h0M447.5 29.5h0M418.2 21.6h0M412.3 31.8h0M418.3 13.7h0M435.1 38.7h0M447.8 20.3h0M447 17.7h0M436.2 41.9h0M433 4.7h0M436.6 17.6h0M428.7 25.2h0M413.2 18.7h0M431.5 7.7h0M421.8 23.7h0M445.8 33.2h0M437.8 15.6h0M439.2 41.3h0" stroke="#50a050" stroke-width="1.1" stroke-linecap="round" fill="none" opacity="0.35"/>
<rect x="407" y="43.2" width="45.6" height="2.2" fill="#3f9a2c" />
<rect x="407" y="45.2" width="45.6" height="4.2" fill="#d2301e" />
<path d="M448.3 46.1h0M444.3 44.1h0M415.8 48.2h0M438.6 47h0M423.9 46.7h0M439.1 47.1h0M423 44.4h0M426.6 43.7h0M445.9 48.3h0" stroke="#90a020" stroke-width="0.7" stroke-linecap="round" fill="none" opacity="0.55"/>
<path d="M425.4 44.9h0M442.6 45.7h0M409.3 46.1h0M431.4 44.1h0M448.5 44.1h0M415.8 45.8h0M407.7 47.6h0M437.8 44.2h0M412.2 47.6h0M445.5 44.1h0" stroke="#90a020" stroke-width="1.1" stroke-linecap="round" fill="none" opacity="0.45"/>
<path d="M436.4 46h0M449.1 46.7h0M441.4 46.7h0M442.9 48.7h0M445.8 43.8h0M420.3 44.2h0M414.6 45.6h0" stroke="#90a020" stroke-width="1.1" stroke-linecap="round" fill="none" opacity="0.55"/>
<path d="M431.6 46.2h0M419.6 47.5h0M415.3 48.7h0M417.8 44.2h0M424.5 46h0M428.6 46.2h0" stroke="#90a020" stroke-width="1.1" stroke-linecap="round" fill="none" opacity="0.35"/>
<path d="M422.9 44.4h0M410 46.4h0M432.3 47.4h0M443.6 48.6h0M431.8 44.4h0M443.8 44.9h0" stroke="#90a020" stroke-width="0.9" stroke-linecap="round" fill="none" opacity="0.55"/>
<path d="M444.7 48.7h0M443.9 46.2h0M435.1 46.7h0M449.1 47h0" stroke="#90a020" stroke-width="0.7" stroke-linecap="round" fill="none" opacity="0.35"/>
<path d="M417.4 43.8h0M415.1 46.1h0M422.2 46.7h0M434.2 44.3h0M452 46.5h0M452 47.9h0M428.7 47.8h0M410.1 47.8h0" stroke="#90a020" stroke-width="0.9" stroke-linecap="round" fill="none" opacity="0.45"/>
<path d="M448 45.4h0M428.1 48.8h0M449.3 44.2h0M426.1 48.6h0M421.8 44h0M418.3 44.3h0M422 45.3h0" stroke="#90a020" stroke-width="0.9" stroke-linecap="round" fill="none" opacity="0.35"/>
<path d="M419 48h0M443 46.1h0M434.7 45.9h0" stroke="#90a020" stroke-width="0.7" stroke-linecap="round" fill="none" opacity="0.45"/>
<rect x="407" y="3.3" width="8" height="6.7" fill="#000" />
<rect x="444.4" y="3.6" width="7.8" height="5" fill="#4a3a28" />
<text x="448.2" y="7.4" font-size="3.6" fill="#fff" font-weight="bold" text-anchor="middle" >ε<tspan font-size="2" dy="0.6">yy</tspan></text>
<rect x="423.6" y="32.4" width="15.2" height="15.2" fill="none" stroke="#f4f4f4" stroke-width="0.55"/>
<rect x="428" y="37.6" width="2.4" height="0.8" fill="#fff" />
<rect x="428" y="38.6" width="2.4" height="0.8" fill="#22c" />
<rect x="408.6" y="45.6" width="9.4" height="0.8" fill="#fff" />
<text x="409" y="44.8" font-size="2.5" fill="#fff" font-weight="bold" text-anchor="start" >50 nm</text>
<text x="424.5" y="47" font-size="2.2" fill="#fff" font-weight="bold" text-anchor="start" >1</text>
<text x="430.4" y="45" font-size="2.2" fill="#fff" font-weight="bold" text-anchor="start" >2</text>
<rect x="454.6" y="3.3" width="45.7" height="46.1" fill="url(#map2G)" />
<g filter="url(#bl2)" opacity="0.5"><ellipse cx="461" cy="41" rx="8" ry="9" fill="#a0521a" opacity="0.6"/><ellipse cx="487" cy="12" rx="12" ry="9" fill="#62781a"/><ellipse cx="476" cy="30" rx="8" ry="6" fill="#6a7a18"/></g>
<path d="M491.6 42.5h0M475.8 47.4h0M498.6 41.5h0M478.5 42.4h0M470.6 33.8h0M470.1 22.4h0M461.7 42.8h0M483.6 30.2h0M477.7 17.7h0M458.2 4.5h0M477 23.1h0M456.3 25h0M473 21.2h0M499.8 29.3h0M455.5 13.2h0M497.8 22h0M477.8 25.2h0M488.2 16.8h0M471.6 23.4h0M487 4.7h0M471.4 39.3h0M496.2 24.9h0M498.5 15.8h0M457.2 35.5h0M497.5 33.4h0M463.5 36.3h0M497.4 36.1h0" stroke="#b04818" stroke-width="1.1" stroke-linecap="round" fill="none" opacity="0.33"/>
<path d="M474.6 33.2h0M463.7 45.8h0M478.2 14.4h0M498.2 7.5h0M464 17.5h0M473.3 29.4h0M484.5 9.7h0M466.9 18.5h0M459.6 39.7h0M477.2 46.8h0M498.5 38.1h0M468.5 25.9h0M476.9 48h0M490.1 35.9h0M465.1 43.4h0M480.7 13.2h0M473.9 26.7h0M459.6 11.8h0M499.2 32.6h0M458.3 32.3h0M455.2 19.8h0M476.6 28.1h0" stroke="#b04818" stroke-width="0.7" stroke-linecap="round" fill="none" opacity="0.24"/>
<path d="M465.3 41.4h0M476 16.8h0M458.1 47.9h0M462.9 48.8h0M486.5 43.8h0M475.5 13.1h0M488.8 8.5h0M461.8 47.4h0M495.1 13.8h0M489.3 8.3h0M466.6 10.6h0M459.3 37.6h0M458.9 21.9h0M490.5 38.2h0M495.8 7h0M481.1 18.3h0M479.4 46h0M474.6 26.8h0M487.7 30h0M478.3 9.7h0" stroke="#b04818" stroke-width="0.9" stroke-linecap="round" fill="none" opacity="0.24"/>
<path d="M458.3 9.1h0M455.2 7h0M457.7 33.8h0M471 41.6h0M488 35.4h0M492 31.7h0M475.9 42.4h0M460.8 8.8h0M479.2 41.7h0M481.2 27.2h0M485.9 36.3h0M457.3 11.2h0M487.4 36.6h0M498.2 27.3h0M486.3 40.8h0M498.4 42.8h0M481.9 9.1h0M492.1 12h0M479.5 19.9h0M459.2 9h0M481.3 8.5h0M457.1 9.4h0M495.5 38.4h0M463.3 35.2h0M474.7 8.9h0M457.5 7.1h0M457.9 34.1h0M459.8 20h0M497.8 42.4h0M492.9 42.4h0" stroke="#b04818" stroke-width="0.7" stroke-linecap="round" fill="none" opacity="0.41"/>
<path d="M474.4 5h0M469.6 13.2h0M497.2 46.9h0M456.7 41.3h0M455.7 8h0M485.8 31.2h0M473.7 38.6h0M462.5 27.7h0M457.3 36.1h0M465.3 17.4h0M484.1 36.9h0M455.3 12.1h0M461.2 16.3h0M456.3 8h0M495.9 32.9h0M460.9 31.3h0M490.5 44.2h0M466.6 5.2h0M480.7 45.5h0M485.2 12h0M471.2 9.1h0M474.8 46.2h0M469.5 44.7h0M467.4 22.8h0M476.7 33.8h0M469 42.2h0M457.8 4.8h0M469.7 4.2h0M499.7 4.4h0M464.4 18.2h0M491.9 40.2h0" stroke="#b04818" stroke-width="1.1" stroke-linecap="round" fill="none" opacity="0.41"/>
<path d="M460.7 37.9h0M480.3 21.6h0M477.2 4.1h0M470.6 12.8h0M485.2 14.3h0M463.4 21.4h0M496.9 22.8h0M494.5 23.6h0M498.5 16.5h0M471.8 32.8h0M476.2 44h0M467 4.1h0M499.1 6.9h0M456.4 42.9h0M467.7 24.7h0M483 26.8h0M467.1 47.1h0M495.4 26h0M465.3 10.9h0M484.5 6.8h0M489.2 29.6h0M497.6 32.9h0" stroke="#b04818" stroke-width="0.9" stroke-linecap="round" fill="none" opacity="0.33"/>
<path d="M486.7 46.7h0M491.3 39.4h0M459.4 17.8h0M472.2 13.1h0M485.7 42.4h0M484.7 33.1h0M458.5 38.5h0M480.5 23.6h0M481.6 41.5h0M477.3 31h0M493 16.6h0M496 46.8h0M468.9 41.4h0M461.3 26.6h0M472 12h0M457.2 7.7h0M455.6 4.2h0M465.8 18.7h0M495.4 46.1h0M474.8 34.6h0M496.5 38.2h0M484.3 26.4h0M469.8 37.8h0M459.8 8.1h0M492.4 24.8h0M484.3 10.9h0M492.4 41.9h0M477.5 47h0M480 42.9h0M476.6 37.3h0" stroke="#b04818" stroke-width="0.7" stroke-linecap="round" fill="none" opacity="0.33"/>
<path d="M483.3 17.9h0M496.8 11.6h0M463.6 31h0M497.4 21.6h0M487.5 48.4h0M466.9 34h0M497.1 24h0M477.5 27.7h0M496.1 20.4h0M476.1 42.8h0M462.6 18h0M492.5 8h0M469.1 30.8h0M493.4 34.4h0M484.7 35.8h0M499.1 33.3h0M469 20.5h0" stroke="#b04818" stroke-width="0.9" stroke-linecap="round" fill="none" opacity="0.41"/>
<path d="M493 37h0M482.6 13.1h0M460.6 26.4h0M496.9 15.5h0M483.6 27.5h0M486.1 18.2h0M498.8 6.7h0M479.2 36.1h0M490 13.8h0M461.1 4.6h0M469.4 22.4h0M481.7 6.1h0M475.2 15.4h0M465.6 30.6h0M456.5 35.4h0M475.3 41.5h0M489.8 12.5h0M486.9 44.2h0M472.2 15.4h0M455.6 20.5h0M498.5 16.3h0" stroke="#b04818" stroke-width="1.1" stroke-linecap="round" fill="none" opacity="0.24"/>
<path d="M475.8 36.7h0M457.8 27h0M497.4 20.6h0M462.1 45.9h0M496.7 6.2h0M462.9 34.9h0M479.2 43.5h0M475 28.6h0M463.8 15.7h0M483.3 28.4h0M488.6 7.1h0M492.3 39.3h0M480 9.1h0M467.7 44.4h0" stroke="#58801a" stroke-width="1.1" stroke-linecap="round" fill="none" opacity="0.24"/>
<path d="M471.1 21.3h0M457 22.2h0M490 45.4h0M488.9 7.6h0M467.5 41.3h0M465.5 32.4h0M479.2 9.9h0M458.8 9.3h0M470.9 8.2h0M465.5 30.8h0M478.3 33h0M477.2 6.7h0M477.8 32.3h0M485.5 8.8h0M466.9 8.6h0M497.9 34.4h0M486.9 41.4h0" stroke="#58801a" stroke-width="0.7" stroke-linecap="round" fill="none" opacity="0.41"/>
<path d="M464.5 43.8h0M487 18.5h0M498.7 43.2h0M457 43.6h0M457.1 46.2h0M481.1 13.7h0M463.3 35.9h0M496.6 38.1h0M480.1 37.4h0M487.7 36.4h0M464.6 18h0M497.2 30.5h0M464.3 14.2h0M475.2 46.7h0M486.6 4.5h0M464.8 48.3h0" stroke="#58801a" stroke-width="1.1" stroke-linecap="round" fill="none" opacity="0.33"/>
<path d="M491.7 28.7h0M475.8 35.4h0M477.1 42.9h0M464.5 9.6h0M460.5 43.1h0M494.3 17.1h0M480 22.8h0M484.3 31.4h0M485.6 21.7h0M490.7 33.3h0M456.3 20h0M486.7 20.1h0M479.9 4.2h0M485.1 16.8h0M467.4 7.3h0M488.3 42.3h0M473.9 18h0M460.5 34.8h0" stroke="#58801a" stroke-width="1.1" stroke-linecap="round" fill="none" opacity="0.41"/>
<path d="M486 48.9h0M495.7 14.4h0M492.6 4.9h0M462.1 38.5h0M471.9 26.9h0M477.7 21.3h0M494.2 5.2h0M475.9 8.2h0M456.7 30.4h0M490.3 16.8h0M496.5 7.9h0M463.4 35.5h0M458.5 35.7h0M495.9 29.1h0M458.4 35.2h0M490 26.9h0M461.4 17.4h0M458.2 41.5h0M458.6 15.3h0M491.1 23.6h0M459.2 45.1h0M479.2 5.1h0M499.5 17.5h0M492.7 29.3h0M477.8 45.4h0" stroke="#58801a" stroke-width="0.7" stroke-linecap="round" fill="none" opacity="0.24"/>
<path d="M478.8 7.6h0M477.6 8.7h0M477.1 32.5h0M474.8 7.9h0M459.1 38.7h0M458.8 35.7h0M474.6 11.8h0M486.9 46.7h0M489.2 30.9h0M491 24.3h0M473.6 41.2h0M455.7 21.8h0M477.2 4.3h0M458.2 40.2h0M497 20.1h0M466.7 30.4h0M488.5 4h0M492.5 35.5h0M490.9 34.8h0M463.2 27.2h0M479.1 30.3h0" stroke="#58801a" stroke-width="0.9" stroke-linecap="round" fill="none" opacity="0.33"/>
<path d="M457.1 33.1h0M494 48.1h0M495.7 47.5h0M460 22.6h0M471.3 24.9h0M461.6 25h0M482.4 48h0M495.8 31.2h0M476.4 39.9h0M460.9 23.8h0M484.9 10.9h0M477.4 26.7h0M486 19.1h0M477.7 42.1h0" stroke="#58801a" stroke-width="0.7" stroke-linecap="round" fill="none" opacity="0.33"/>
<path d="M470.6 19.4h0M496.5 17.3h0M482.6 47.7h0M468.3 25.5h0M482.5 43.8h0M471.7 26.9h0M465.7 20.7h0M461.6 28.5h0M496.7 7.9h0M484.9 45.2h0M475 11.5h0M468.7 35.9h0M498.4 13.1h0M468.4 30.7h0M482.3 21.7h0" stroke="#58801a" stroke-width="0.9" stroke-linecap="round" fill="none" opacity="0.24"/>
<path d="M469.3 27.9h0M465.1 30.1h0M482.8 23.5h0M460.1 25.1h0M478.8 4.5h0M471.8 38.2h0M484.8 12.3h0M478.8 5.5h0M460.6 36.3h0M456.2 6.9h0M469.8 25.3h0M495.4 40h0M462.6 27.5h0M477.2 10.9h0M466.6 45.8h0M467 37.6h0M499.4 31.6h0M498.7 15.5h0M481.8 39.2h0M489.5 8.6h0" stroke="#58801a" stroke-width="0.9" stroke-linecap="round" fill="none" opacity="0.41"/>
<rect x="454.6" y="3.3" width="7.8" height="6.9" fill="#000" />
<rect x="492.6" y="3.6" width="7.4" height="5" fill="#4a4018" />
<text x="496.2" y="7.4" font-size="3.6" fill="#fff" font-weight="bold" text-anchor="middle" >ε<tspan font-size="2" dy="0.6">xx</tspan></text>
<rect x="493.2" y="17.6" width="7.1" height="31.2" fill="#f4f4f4" />
<rect x="494.6" y="21.6" width="3.8" height="23" fill="url(#rainbow)" />
<rect x="493.2" y="17.6" width="7.1" height="3" fill="#333" />
<text x="496.8" y="20" font-size="1.9" fill="#fff" font-weight="bold" text-anchor="middle" >2.5%</text>
<rect x="493.2" y="45.6" width="7.1" height="3.2" fill="#333" />
<text x="496.8" y="48" font-size="1.9" fill="#fff" font-weight="bold" text-anchor="middle" >-2.5%</text>
<rect x="311.8" y="52.6" width="76.8" height="76.4" fill="url(#stemG)" />
<g filter="url(#bl2)" opacity="0.5"><ellipse cx="330" cy="120" rx="20" ry="9" fill="#d0d0d0"/><ellipse cx="372" cy="78" rx="12" ry="10" fill="#909090"/></g>
<rect x="311.8" y="52.6" width="9.2" height="8.4" fill="#000" />
<rect x="337" y="52.6" width="20.6" height="7.4" fill="#3a3a3a" />
<text x="347.3" y="58.8" font-size="6.4" fill="#fff" font-weight="bold" text-anchor="middle" >STEM</text>
<path d="M343.5 60 Q341 72 336.5 81.5 M345 60 Q343 71 339 79" stroke="#3c3c3c" stroke-width="0.4" fill="none"/>
<path d="M336 82.5 l1.6 -2 l0.6 1.6z" fill="#7a2a2a"/>
<path d="M379 77 l2 1.5 l0.5 2" stroke="#555" stroke-width="0.5" fill="none"/>
<rect x="370.6" y="53" width="17.6" height="17" fill="#b8b8b8" stroke="#eee" stroke-width="0.5"/>
<line x1="371" y1="54" x2="388" y2="54" stroke="#8a8a8a" stroke-width="0.4" />
<line x1="371" y1="55.3" x2="388" y2="55.3" stroke="#8a8a8a" stroke-width="0.4" />
<line x1="371" y1="56.6" x2="388" y2="56.6" stroke="#8a8a8a" stroke-width="0.4" />
<line x1="371" y1="57.9" x2="388" y2="57.9" stroke="#8a8a8a" stroke-width="0.4" />
<line x1="371" y1="59.2" x2="388" y2="59.2" stroke="#8a8a8a" stroke-width="0.4" />
<line x1="371" y1="60.5" x2="388" y2="60.5" stroke="#8a8a8a" stroke-width="0.4" />
<line x1="371" y1="61.8" x2="388" y2="61.8" stroke="#8a8a8a" stroke-width="0.4" />
<line x1="371" y1="63.1" x2="388" y2="63.1" stroke="#8a8a8a" stroke-width="0.4" />
<line x1="371" y1="64.4" x2="388" y2="64.4" stroke="#8a8a8a" stroke-width="0.4" />
<line x1="371" y1="65.7" x2="388" y2="65.7" stroke="#8a8a8a" stroke-width="0.4" />
<line x1="371" y1="67" x2="388" y2="67" stroke="#8a8a8a" stroke-width="0.4" />
<line x1="371" y1="68.3" x2="388" y2="68.3" stroke="#8a8a8a" stroke-width="0.4" />
<path d="M377 66 L383 57" stroke="#e8e8e8" stroke-width="0.8"/>
<text x="371.6" y="56.6" font-size="2.8" fill="#fff" font-weight="bold" text-anchor="start" >3</text>
<rect x="369.6" y="85" width="18.6" height="21" fill="#0c0c0c" stroke="#ddd" stroke-width="0.5"/>
<circle cx="379.4" cy="96.5" r="1" fill="#fff" />
<g filter="url(#bl05)">
<circle cx="383.03" cy="97.62" r="0.6" fill="#eee" opacity="0.85"/>
<circle cx="384.28" cy="101.52" r="0.4" fill="#ccc" opacity="0.5"/>
<circle cx="380.24" cy="100.21" r="0.6" fill="#eee" opacity="0.85"/>
<circle cx="377.49" cy="103.23" r="0.4" fill="#ccc" opacity="0.5"/>
<circle cx="376.61" cy="99.08" r="0.6" fill="#eee" opacity="0.85"/>
<circle cx="372.61" cy="98.21" r="0.4" fill="#ccc" opacity="0.5"/>
<circle cx="375.77" cy="95.38" r="0.6" fill="#eee" opacity="0.85"/>
<circle cx="374.52" cy="91.48" r="0.4" fill="#ccc" opacity="0.5"/>
<circle cx="378.56" cy="92.79" r="0.6" fill="#eee" opacity="0.85"/>
<circle cx="381.31" cy="89.77" r="0.4" fill="#ccc" opacity="0.5"/>
<circle cx="382.19" cy="93.92" r="0.6" fill="#eee" opacity="0.85"/>
<circle cx="386.19" cy="94.79" r="0.4" fill="#ccc" opacity="0.5"/>
</g>
<text x="370.6" y="88.6" font-size="2.8" fill="#fff" font-weight="bold" text-anchor="start" >2</text>
<rect x="369.6" y="107.8" width="18.6" height="20" fill="#0c0c0c" stroke="#ddd" stroke-width="0.5"/>
<circle cx="379.4" cy="118.8" r="1.5" fill="#fff" />
<g filter="url(#bl05)">
<circle cx="383.03" cy="119.92" r="0.6" fill="#eee" opacity="0.85"/>
<circle cx="384.28" cy="123.82" r="0.4" fill="#ccc" opacity="0.5"/>
<circle cx="380.24" cy="122.51" r="0.6" fill="#eee" opacity="0.85"/>
<circle cx="377.49" cy="125.53" r="0.4" fill="#ccc" opacity="0.5"/>
<circle cx="376.61" cy="121.38" r="0.6" fill="#eee" opacity="0.85"/>
<circle cx="372.61" cy="120.51" r="0.4" fill="#ccc" opacity="0.5"/>
<circle cx="375.77" cy="117.68" r="0.6" fill="#eee" opacity="0.85"/>
<circle cx="374.52" cy="113.78" r="0.4" fill="#ccc" opacity="0.5"/>
<circle cx="378.56" cy="115.09" r="0.6" fill="#eee" opacity="0.85"/>
<circle cx="381.31" cy="112.07" r="0.4" fill="#ccc" opacity="0.5"/>
<circle cx="382.19" cy="116.22" r="0.6" fill="#eee" opacity="0.85"/>
<circle cx="386.19" cy="117.09" r="0.4" fill="#ccc" opacity="0.5"/>
</g>
<text x="370.6" y="111.4" font-size="2.8" fill="#fff" font-weight="bold" text-anchor="start" >1</text>
<rect x="345.7" y="92.1" width="1.4" height="1.4" fill="#fff" opacity="0.92"/>
<rect x="345.7" y="94.1" width="1.4" height="1.4" fill="#fff" opacity="0.92"/>
<rect x="347.7" y="92.1" width="1.4" height="1.4" fill="#fff" opacity="0.92"/>
<rect x="347.7" y="94.1" width="1.4" height="1.4" fill="#fff" opacity="0.92"/>
<text x="350.2" y="92.4" font-size="3.6" fill="#fff" font-weight="bold" text-anchor="start" >3</text>
<rect x="350.1" y="103.7" width="1.4" height="1.4" fill="#fff" opacity="0.92"/>
<rect x="350.1" y="105.7" width="1.4" height="1.4" fill="#fff" opacity="0.92"/>
<rect x="352.1" y="103.7" width="1.4" height="1.4" fill="#fff" opacity="0.92"/>
<rect x="352.1" y="105.7" width="1.4" height="1.4" fill="#fff" opacity="0.92"/>
<text x="354.6" y="104" font-size="3.6" fill="#fff" font-weight="bold" text-anchor="start" >2</text>
<rect x="355.3" y="118.1" width="1.4" height="1.4" fill="#fff" opacity="0.92"/>
<rect x="355.3" y="120.1" width="1.4" height="1.4" fill="#fff" opacity="0.92"/>
<rect x="357.3" y="118.1" width="1.4" height="1.4" fill="#fff" opacity="0.92"/>
<rect x="357.3" y="120.1" width="1.4" height="1.4" fill="#fff" opacity="0.92"/>
<text x="359.8" y="118.4" font-size="3.6" fill="#fff" font-weight="bold" text-anchor="start" >1</text>
<rect x="313.4" y="126.6" width="17.6" height="0.9" fill="#f0f0f0" />
<text x="313.4" y="125.6" font-size="4.8" fill="#f2f2f2" font-weight="bold" text-anchor="start" >200 nm</text>
<rect x="390.8" y="52.6" width="76.6" height="76.4" fill="#93922e" />
<clipPath id="cpY"><rect x="390.8" y="52.6" width="76.6" height="76.4"/></clipPath><g clip-path="url(#cpY)">
<g filter="url(#bl4)">
<ellipse cx="406" cy="82" rx="20" ry="24" fill="#a8a42a" opacity="0.9"/>
<ellipse cx="455" cy="85" rx="14" ry="28" fill="#6f9428" opacity="0.9"/>
<ellipse cx="428" cy="105" rx="18" ry="11" fill="#865468" opacity="0.72"/>
<ellipse cx="412" cy="111" rx="10" ry="6" fill="#8c6450" opacity="0.5"/>
<ellipse cx="441" cy="74" rx="8" ry="8" fill="#90784a" opacity="0.45"/>
<ellipse cx="398" cy="60" rx="10" ry="8" fill="#8a7a3a" opacity="0.5"/>
</g>
<g opacity="0.42">
<line x1="390.8" y1="53.2" x2="467.4" y2="53.2" stroke="#5a3a7a" stroke-width="0.55" />
<line x1="390.8" y1="53.82" x2="467.4" y2="53.82" stroke="#d8d428" stroke-width="0.5" />
<line x1="390.8" y1="54.45" x2="467.4" y2="54.45" stroke="#5a3a7a" stroke-width="0.55" />
<line x1="390.8" y1="55.07" x2="467.4" y2="55.07" stroke="#d8d428" stroke-width="0.5" />
<line x1="390.8" y1="55.7" x2="467.4" y2="55.7" stroke="#5a3a7a" stroke-width="0.55" />
<line x1="390.8" y1="56.32" x2="467.4" y2="56.32" stroke="#d8d428" stroke-width="0.5" />
<line x1="390.8" y1="56.95" x2="467.4" y2="56.95" stroke="#5a3a7a" stroke-width="0.55" />
<line x1="390.8" y1="57.57" x2="467.4" y2="57.57" stroke="#d8d428" stroke-width="0.5" />
<line x1="390.8" y1="58.2" x2="467.4" y2="58.2" stroke="#5a3a7a" stroke-width="0.55" />
<line x1="390.8" y1="58.82" x2="467.4" y2="58.82" stroke="#d8d428" stroke-width="0.5" />
<line x1="390.8" y1="59.45" x2="467.4" y2="59.45" stroke="#5a3a7a" stroke-width="0.55" />
<line x1="390.8" y1="60.07" x2="467.4" y2="60.07" stroke="#d8d428" stroke-width="0.5" />
<line x1="390.8" y1="60.7" x2="467.4" y2="60.7" stroke="#5a3a7a" stroke-width="0.55" />
<line x1="390.8" y1="61.32" x2="467.4" y2="61.32" stroke="#d8d428" stroke-width="0.5" />
<line x1="390.8" y1="61.95" x2="467.4" y2="61.95" stroke="#5a3a7a" stroke-width="0.55" />
<line x1="390.8" y1="62.57" x2="467.4" y2="62.57" stroke="#d8d428" stroke-width="0.5" />
<line x1="390.8" y1="63.2" x2="467.4" y2="63.2" stroke="#5a3a7a" stroke-width="0.55" />
<line x1="390.8" y1="63.82" x2="467.4" y2="63.82" stroke="#d8d428" stroke-width="0.5" />
<line x1="390.8" y1="64.45" x2="467.4" y2="64.45" stroke="#5a3a7a" stroke-width="0.55" />
<line x1="390.8" y1="65.07" x2="467.4" y2="65.07" stroke="#d8d428" stroke-width="0.5" />
<line x1="390.8" y1="65.7" x2="467.4" y2="65.7" stroke="#5a3a7a" stroke-width="0.55" />
<line x1="390.8" y1="66.32" x2="467.4" y2="66.32" stroke="#d8d428" stroke-width="0.5" />
<line x1="390.8" y1="66.95" x2="467.4" y2="66.95" stroke="#5a3a7a" stroke-width="0.55" />
<line x1="390.8" y1="67.57" x2="467.4" y2="67.57" stroke="#d8d428" stroke-width="0.5" />
<line x1="390.8" y1="68.2" x2="467.4" y2="68.2" stroke="#5a3a7a" stroke-width="0.55" />
<line x1="390.8" y1="68.82" x2="467.4" y2="68.82" stroke="#d8d428" stroke-width="0.5" />
<line x1="390.8" y1="69.45" x2="467.4" y2="69.45" stroke="#5a3a7a" stroke-width="0.55" />
<line x1="390.8" y1="70.07" x2="467.4" y2="70.07" stroke="#d8d428" stroke-width="0.5" />
<line x1="390.8" y1="70.7" x2="467.4" y2="70.7" stroke="#5a3a7a" stroke-width="0.55" />
<line x1="390.8" y1="71.32" x2="467.4" y2="71.32" stroke="#d8d428" stroke-width="0.5" />
<line x1="390.8" y1="71.95" x2="467.4" y2="71.95" stroke="#5a3a7a" stroke-width="0.55" />
<line x1="390.8" y1="72.57" x2="467.4" y2="72.57" stroke="#d8d428" stroke-width="0.5" />
<line x1="390.8" y1="73.2" x2="467.4" y2="73.2" stroke="#5a3a7a" stroke-width="0.55" />
<line x1="390.8" y1="73.82" x2="467.4" y2="73.82" stroke="#d8d428" stroke-width="0.5" />
<line x1="390.8" y1="74.45" x2="467.4" y2="74.45" stroke="#5a3a7a" stroke-width="0.55" />
<line x1="390.8" y1="75.07" x2="467.4" y2="75.07" stroke="#d8d428" stroke-width="0.5" />
<line x1="390.8" y1="75.7" x2="467.4" y2="75.7" stroke="#5a3a7a" stroke-width="0.55" />
<line x1="390.8" y1="76.32" x2="467.4" y2="76.32" stroke="#d8d428" stroke-width="0.5" />
<line x1="390.8" y1="76.95" x2="467.4" y2="76.95" stroke="#5a3a7a" stroke-width="0.55" />
<line x1="390.8" y1="77.57" x2="467.4" y2="77.57" stroke="#d8d428" stroke-width="0.5" />
<line x1="390.8" y1="78.2" x2="467.4" y2="78.2" stroke="#5a3a7a" stroke-width="0.55" />
<line x1="390.8" y1="78.82" x2="467.4" y2="78.82" stroke="#d8d428" stroke-width="0.5" />
<line x1="390.8" y1="79.45" x2="467.4" y2="79.45" stroke="#5a3a7a" stroke-width="0.55" />
<line x1="390.8" y1="80.07" x2="467.4" y2="80.07" stroke="#d8d428" stroke-width="0.5" />
<line x1="390.8" y1="80.7" x2="467.4" y2="80.7" stroke="#5a3a7a" stroke-width="0.55" />
<line x1="390.8" y1="81.32" x2="467.4" y2="81.32" stroke="#d8d428" stroke-width="0.5" />
<line x1="390.8" y1="81.95" x2="467.4" y2="81.95" stroke="#5a3a7a" stroke-width="0.55" />
<line x1="390.8" y1="82.57" x2="467.4" y2="82.57" stroke="#d8d428" stroke-width="0.5" />
<line x1="390.8" y1="83.2" x2="467.4" y2="83.2" stroke="#5a3a7a" stroke-width="0.55" />
<line x1="390.8" y1="83.82" x2="467.4" y2="83.82" stroke="#d8d428" stroke-width="0.5" />
<line x1="390.8" y1="84.45" x2="467.4" y2="84.45" stroke="#5a3a7a" stroke-width="0.55" />
<line x1="390.8" y1="85.07" x2="467.4" y2="85.07" stroke="#d8d428" stroke-width="0.5" />
<line x1="390.8" y1="85.7" x2="467.4" y2="85.7" stroke="#5a3a7a" stroke-width="0.55" />
<line x1="390.8" y1="86.32" x2="467.4" y2="86.32" stroke="#d8d428" stroke-width="0.5" />
<line x1="390.8" y1="86.95" x2="467.4" y2="86.95" stroke="#5a3a7a" stroke-width="0.55" />
<line x1="390.8" y1="87.57" x2="467.4" y2="87.57" stroke="#d8d428" stroke-width="0.5" />
<line x1="390.8" y1="88.2" x2="467.4" y2="88.2" stroke="#5a3a7a" stroke-width="0.55" />
<line x1="390.8" y1="88.82" x2="467.4" y2="88.82" stroke="#d8d428" stroke-width="0.5" />
<line x1="390.8" y1="89.45" x2="467.4" y2="89.45" stroke="#5a3a7a" stroke-width="0.55" />
<line x1="390.8" y1="90.07" x2="467.4" y2="90.07" stroke="#d8d428" stroke-width="0.5" />
<line x1="390.8" y1="90.7" x2="467.4" y2="90.7" stroke="#5a3a7a" stroke-width="0.55" />
<line x1="390.8" y1="91.32" x2="467.4" y2="91.32" stroke="#d8d428" stroke-width="0.5" />
<line x1="390.8" y1="91.95" x2="467.4" y2="91.95" stroke="#5a3a7a" stroke-width="0.55" />
<line x1="390.8" y1="92.57" x2="467.4" y2="92.57" stroke="#d8d428" stroke-width="0.5" />
<line x1="390.8" y1="93.2" x2="467.4" y2="93.2" stroke="#5a3a7a" stroke-width="0.55" />
<line x1="390.8" y1="93.82" x2="467.4" y2="93.82" stroke="#d8d428" stroke-width="0.5" />
<line x1="390.8" y1="94.45" x2="467.4" y2="94.45" stroke="#5a3a7a" stroke-width="0.55" />
<line x1="390.8" y1="95.07" x2="467.4" y2="95.07" stroke="#d8d428" stroke-width="0.5" />
<line x1="390.8" y1="95.7" x2="467.4" y2="95.7" stroke="#5a3a7a" stroke-width="0.55" />
<line x1="390.8" y1="96.32" x2="467.4" y2="96.32" stroke="#d8d428" stroke-width="0.5" />
<line x1="390.8" y1="96.95" x2="467.4" y2="96.95" stroke="#5a3a7a" stroke-width="0.55" />
<line x1="390.8" y1="97.57" x2="467.4" y2="97.57" stroke="#d8d428" stroke-width="0.5" />
<line x1="390.8" y1="98.2" x2="467.4" y2="98.2" stroke="#5a3a7a" stroke-width="0.55" />
<line x1="390.8" y1="98.82" x2="467.4" y2="98.82" stroke="#d8d428" stroke-width="0.5" />
<line x1="390.8" y1="99.45" x2="467.4" y2="99.45" stroke="#5a3a7a" stroke-width="0.55" />
<line x1="390.8" y1="100.07" x2="467.4" y2="100.07" stroke="#d8d428" stroke-width="0.5" />
<line x1="390.8" y1="100.7" x2="467.4" y2="100.7" stroke="#5a3a7a" stroke-width="0.55" />
<line x1="390.8" y1="101.32" x2="467.4" y2="101.32" stroke="#d8d428" stroke-width="0.5" />
<line x1="390.8" y1="101.95" x2="467.4" y2="101.95" stroke="#5a3a7a" stroke-width="0.55" />
<line x1="390.8" y1="102.57" x2="467.4" y2="102.57" stroke="#d8d428" stroke-width="0.5" />
<line x1="390.8" y1="103.2" x2="467.4" y2="103.2" stroke="#5a3a7a" stroke-width="0.55" />
<line x1="390.8" y1="103.82" x2="467.4" y2="103.82" stroke="#d8d428" stroke-width="0.5" />
<line x1="390.8" y1="104.45" x2="467.4" y2="104.45" stroke="#5a3a7a" stroke-width="0.55" />
<line x1="390.8" y1="105.07" x2="467.4" y2="105.07" stroke="#d8d428" stroke-width="0.5" />
<line x1="390.8" y1="105.7" x2="467.4" y2="105.7" stroke="#5a3a7a" stroke-width="0.55" />
<line x1="390.8" y1="106.32" x2="467.4" y2="106.32" stroke="#d8d428" stroke-width="0.5" />
<line x1="390.8" y1="106.95" x2="467.4" y2="106.95" stroke="#5a3a7a" stroke-width="0.55" />
<line x1="390.8" y1="107.57" x2="467.4" y2="107.57" stroke="#d8d428" stroke-width="0.5" />
<line x1="390.8" y1="108.2" x2="467.4" y2="108.2" stroke="#5a3a7a" stroke-width="0.55" />
<line x1="390.8" y1="108.82" x2="467.4" y2="108.82" stroke="#d8d428" stroke-width="0.5" />
<line x1="390.8" y1="109.45" x2="467.4" y2="109.45" stroke="#5a3a7a" stroke-width="0.55" />
<line x1="390.8" y1="110.07" x2="467.4" y2="110.07" stroke="#d8d428" stroke-width="0.5" />
<line x1="390.8" y1="110.7" x2="467.4" y2="110.7" stroke="#5a3a7a" stroke-width="0.55" />
<line x1="390.8" y1="111.32" x2="467.4" y2="111.32" stroke="#d8d428" stroke-width="0.5" />
<line x1="390.8" y1="111.95" x2="467.4" y2="111.95" stroke="#5a3a7a" stroke-width="0.55" />
<line x1="390.8" y1="112.57" x2="467.4" y2="112.57" stroke="#d8d428" stroke-width="0.5" />
<line x1="390.8" y1="113.2" x2="467.4" y2="113.2" stroke="#5a3a7a" stroke-width="0.55" />
<line x1="390.8" y1="113.82" x2="467.4" y2="113.82" stroke="#d8d428" stroke-width="0.5" />
<line x1="390.8" y1="114.45" x2="467.4" y2="114.45" stroke="#5a3a7a" stroke-width="0.55" />
<line x1="390.8" y1="115.07" x2="467.4" y2="115.07" stroke="#d8d428" stroke-width="0.5" />
<line x1="390.8" y1="115.7" x2="467.4" y2="115.7" stroke="#5a3a7a" stroke-width="0.55" />
<line x1="390.8" y1="116.32" x2="467.4" y2="116.32" stroke="#d8d428" stroke-width="0.5" />
<line x1="390.8" y1="116.95" x2="467.4" y2="116.95" stroke="#5a3a7a" stroke-width="0.55" />
<line x1="390.8" y1="117.57" x2="467.4" y2="117.57" stroke="#d8d428" stroke-width="0.5" />
</g>
<g filter="url(#bl05)" fill="none" stroke="#7a4a7a" stroke-width="0.8" opacity="0.8"><path d="M420 80 Q416 86 414.5 88.5 Q419 91 423 96 Q428 104 427 116"/><path d="M456 79 Q461 86 457.5 92 Q450 99 447 108 Q446 113 447 117"/></g>
<circle cx="414.6" cy="88.6" r="1.2" fill="#703a80" opacity="0.9"/>
<circle cx="457" cy="92.4" r="1.2" fill="#703a80" opacity="0.8"/>
<rect x="390.8" y="117.2" width="76.6" height="11.8" fill="url(#rg)"/>
</g>
<path d="M429.2 127.1h0M398.2 126.5h0M439.3 126.2h0M391.6 123.5h0M429 119.5h0M393.6 119h0M398.1 123.4h0M392 124.6h0" stroke="#e06030" stroke-width="1.1" stroke-linecap="round" fill="none" opacity="0.37"/>
<path d="M423.7 123.2h0M423 122.5h0M406.3 126.7h0M426.2 126.1h0M397.5 119.3h0M403 125.1h0M433.6 122.1h0M440 124.2h0" stroke="#e06030" stroke-width="0.7" stroke-linecap="round" fill="none" opacity="0.63"/>
<path d="M424.4 119.2h0M416.9 119.3h0M420.3 123.3h0M439.8 127.6h0M438.9 121.1h0M441.2 126.3h0M441.6 118.3h0M417 121.8h0M431.6 122.8h0M424.3 124.9h0M413 128.1h0" stroke="#e06030" stroke-width="0.9" stroke-linecap="round" fill="none" opacity="0.37"/>
<path d="M407.3 123.1h0M428.2 119.3h0M408.3 121.7h0M416.4 120.6h0M399.1 126.5h0M421 118.5h0" stroke="#e06030" stroke-width="0.9" stroke-linecap="round" fill="none" opacity="0.5"/>
<path d="M443.6 122.1h0M423.3 123.2h0M402.6 123.3h0M422.7 122.8h0M425.6 125.7h0M404.8 118.8h0M406.4 120.2h0M416.6 120.7h0M399.2 123.8h0M398.6 128.5h0M429.5 125.6h0" stroke="#e06030" stroke-width="1.1" stroke-linecap="round" fill="none" opacity="0.63"/>
<path d="M428.8 124.5h0M405.7 120.3h0M403.5 121.3h0M418.8 126h0M401.5 123.2h0M423.7 120h0M402.6 119.5h0" stroke="#e06030" stroke-width="0.7" stroke-linecap="round" fill="none" opacity="0.5"/>
<path d="M416.1 118.1h0M440 119.5h0M434 128.3h0M395.7 120h0M443.9 119.7h0M412 126.5h0M406.6 125.6h0" stroke="#e06030" stroke-width="0.7" stroke-linecap="round" fill="none" opacity="0.37"/>
<path d="M433 121.1h0M438.9 126.4h0M420.8 126.4h0M439 119.4h0M435 118.3h0M392.9 119.9h0M405.1 123.1h0M439.7 127.9h0" stroke="#e06030" stroke-width="0.9" stroke-linecap="round" fill="none" opacity="0.63"/>
<path d="M410.3 122.9h0M408.5 127.6h0M418 125.5h0M400.2 126.4h0" stroke="#e06030" stroke-width="1.1" stroke-linecap="round" fill="none" opacity="0.5"/>
<path d="M402.1 75.6h0M463.4 80.4h0M463.1 113.3h0M453.3 69.7h0M463 91.8h0M429.7 87.4h0M448.4 78.1h0M409.9 74.7h0M454.8 90.3h0M426.3 98.1h0M460.6 63.1h0M436.1 83.1h0M448.8 83.6h0M461.5 57.5h0M466.7 99h0M455.9 108.8h0M391.7 109.9h0M440 65.9h0M436.4 54.1h0M394.6 90h0M396.3 111.8h0M405.5 94.2h0M436.5 56.6h0M457.7 58.1h0M415.2 74.9h0M430.2 116.1h0M461 85.2h0M438.9 72.2h0M393.1 95.4h0M463.3 88.1h0M399.4 93.3h0M464.7 111.4h0M459.6 73.3h0M398.8 105.6h0M421.8 79.7h0M394 61h0M463.6 65.7h0M446.6 60h0M406.5 59h0M453.6 89.2h0M394.5 71.7h0" stroke="#b8a030" stroke-width="1.1" stroke-linecap="round" fill="none" opacity="0.24"/>
<path d="M397.3 57.3h0M421.1 105.5h0M400.3 108.8h0M462.4 81.7h0M463.1 92.8h0M405.9 83.6h0M436.6 74.2h0M414.7 106.9h0M442.2 109.4h0M448.8 80h0M395.1 112.5h0M447.5 81.9h0M449.3 95.6h0M392.6 61.6h0M442.8 111.2h0M435.7 82.4h0M414.7 102.4h0M448.2 80h0M409.3 98.8h0M403.4 79.3h0M416.7 108.3h0M432.5 107.8h0M431 110.3h0M433.3 91.1h0M433.9 100.5h0M402.2 57.5h0M431.6 56.9h0M424.7 105.8h0M464.9 60.2h0M450 83.7h0M439.1 80.2h0M412.1 100.4h0M462.2 86.1h0" stroke="#b8a030" stroke-width="0.7" stroke-linecap="round" fill="none" opacity="0.24"/>
<path d="M461.9 65.3h0M409.5 86h0M405.9 64.5h0M439.4 74.9h0M416.5 97.5h0M428.3 65.6h0M460.2 80.9h0M427.2 84.2h0M453.5 73.6h0M434.2 98.7h0M404.5 84.1h0M439.9 54.8h0M463.8 64.9h0M452.1 84.6h0M416.6 102.4h0M452.1 80.5h0M406 106.2h0M428.2 78.1h0M455.7 94h0M449.8 60.8h0M433.3 60.8h0M403.3 54.3h0M441.1 65.9h0M443 87.3h0M440.6 85.4h0M416.5 56h0M446.8 63h0M401.2 65h0M399.5 62.8h0M429.4 57h0M394.9 107h0M448.3 78h0M465.6 53.7h0M432.2 57.7h0M443.1 60.6h0M416.6 82.9h0M416.1 54.5h0M419.2 66.5h0M427.1 115h0M459 56.5h0M441.7 56.9h0" stroke="#b8a030" stroke-width="0.9" stroke-linecap="round" fill="none" opacity="0.41"/>
<path d="M431.1 86.6h0M413.9 88.3h0M406.4 92.4h0M437.1 96.8h0M456.8 84.5h0M423 86.8h0M443.8 88.1h0M409 74h0M401.2 71.5h0M464 115.1h0M436.3 86.2h0M404.7 55h0M399.1 111.6h0M436.4 67.5h0M433.2 86.5h0M417.2 68h0M414.5 112.2h0M417 104h0M455.4 57.3h0M444.5 71.2h0M465.9 112.9h0M457.1 108.8h0M418.1 103.2h0M421.1 82.3h0M430.9 90h0M428.6 76.3h0M457.2 112.1h0M452.8 59.2h0M436.8 60.8h0M448.5 59.8h0M466.8 104.3h0M461.2 113.6h0M454.6 96.2h0M407.1 94.9h0M440.2 104.1h0M441.7 59.5h0M434.3 113.1h0M397.1 85.4h0M461.3 91.8h0M459.5 56.4h0M428.2 78.2h0M419.1 90.5h0M427.9 109.8h0M453.1 67.9h0M396.3 110.6h0M426.6 103.1h0M456.2 112.8h0M440.3 72.6h0M427.1 89.6h0M392.6 97.9h0M456.3 87.7h0" stroke="#b8a030" stroke-width="0.7" stroke-linecap="round" fill="none" opacity="0.41"/>
<path d="M399.7 96.1h0M398.3 83.7h0M433 55.2h0M445.3 107.3h0M408.3 54.3h0M461.3 101h0M424.3 81.9h0M442.8 110.4h0M421.1 92.4h0M439.4 105h0M435.7 99h0M435.8 63.4h0M437.5 109.2h0M439.9 116.3h0M419 75.1h0M459.6 103.1h0M455.1 73.1h0M460.8 96.7h0M456.3 101.1h0M453.4 53.8h0M395.1 59.8h0M436.3 71.4h0M460.1 106.8h0M407.3 102.2h0M456.4 109.7h0M422.1 91h0M421.8 84.6h0M458.7 78.5h0M395.5 116.2h0M443 58.9h0M449.8 88.4h0M463.2 74.7h0M443.5 89.3h0M447.7 106.9h0M442.5 91.2h0M440.1 93.8h0M443 87.2h0M429.4 55.7h0M398.4 67.9h0" stroke="#b8a030" stroke-width="0.9" stroke-linecap="round" fill="none" opacity="0.24"/>
<path d="M436.9 58.4h0M447 77.5h0M432.9 84h0M424.8 79.9h0M458.1 60.2h0M461.1 112.3h0M457.5 92.5h0M419.9 86.8h0M413.6 57.3h0M458.3 57.9h0M450.5 57.2h0M438.4 58.8h0M391.5 99.7h0M444.6 105.6h0M418.5 102.9h0M442.2 77.3h0M449.6 77.5h0M440.5 74.1h0M395.2 98.9h0M433 90h0M425.6 73.4h0M427.4 71.4h0M410.4 85.3h0M405.1 80.4h0M461.2 71h0M399.7 62.3h0M417.6 116.5h0M406 73.8h0M451.3 90.7h0M422.7 63.1h0M421.2 103.8h0M412.3 74.2h0M455.2 59.7h0M412.8 75.9h0M409.2 80.5h0M406.4 108.8h0M421.5 95.8h0M428.5 80h0M421.9 73h0M456.8 76.6h0M401.9 105.9h0M444.8 76.8h0" stroke="#b8a030" stroke-width="1.1" stroke-linecap="round" fill="none" opacity="0.41"/>
<path d="M393.2 83h0M402.6 58.7h0M432.3 115.4h0M448.9 111.6h0M425.6 113.7h0M433.3 58h0M410.5 65.6h0M410.4 65.8h0M426.1 57.4h0M408.7 97.1h0M395.4 70.5h0M418.9 77.3h0M448.9 57.7h0M418.9 67.4h0M427.9 99.9h0M458.8 89.4h0M440.1 105.8h0M442.3 80.2h0M413.2 77h0M401.4 56.5h0M431.2 101.7h0M439.3 78.6h0M465.6 59.9h0M397.7 86.1h0M398.2 110.2h0M414.3 109.7h0M440.5 60.9h0M401.1 58.4h0M406.3 93h0M420.7 107.7h0M438.1 102.7h0M416.7 76.7h0M461 115.5h0M415.3 101.1h0M464.8 109.2h0M392.3 104.1h0M399.5 54.1h0M465.6 63h0M399.2 109.4h0M398.9 89.7h0M456 70h0M417.3 111.8h0M438 72.2h0M408.9 105.9h0M449.2 61.8h0" stroke="#b8a030" stroke-width="1.1" stroke-linecap="round" fill="none" opacity="0.33"/>
<path d="M421.5 85.4h0M405.6 94.5h0M463.9 95.9h0M434.4 102.7h0M454.8 76.1h0M445.4 90.2h0M455.2 104.6h0M451.1 102.7h0M465 104.1h0M433.6 70.2h0M418.3 102.6h0M445.5 97.3h0M437.1 99.9h0M431.1 84h0M402.8 112.7h0M427.9 101.3h0M442.5 54.7h0M393 99.9h0M411.2 98.8h0M450.1 77.5h0M437.2 82.6h0M462.4 68.9h0M394.1 60.2h0M462.1 115.9h0M433.9 87.2h0M427.8 88.8h0M447.6 70.1h0M464 113.7h0M445.8 110.6h0M432.4 60.2h0M445.7 106.8h0M437.8 65.2h0M451 62.4h0M410.9 74.3h0M464.3 78.6h0M437.9 114.2h0M407.5 110.2h0M421.5 83.7h0M442 81.1h0M412.6 76.5h0M418.4 105h0M417.4 88.3h0M404.7 87.7h0M429.8 63.9h0M454.5 83h0M466.7 100.3h0M431.6 75.7h0M440.7 54.2h0" stroke="#b8a030" stroke-width="0.9" stroke-linecap="round" fill="none" opacity="0.33"/>
<path d="M417.7 67.1h0M458.9 66.4h0M426 57.4h0M418.6 115h0M430.5 64.1h0M404.5 70.9h0M440.4 99h0M415.7 73.6h0M437.7 84.8h0M427.2 57.9h0M427.9 62.4h0M423.1 94h0M413.6 90.5h0M465.6 83.1h0M429.7 88.5h0M439.7 65.2h0M437.9 79.2h0M422.5 89.7h0M431.3 112.7h0M418 95.7h0M426.1 113.4h0M406.9 107.7h0M435.4 54.5h0M445.4 90.8h0M393.8 84.3h0M430.1 112.6h0M412.7 101.2h0M465.7 88.7h0M405.9 59.5h0M454.5 92.4h0M450.4 97.3h0M451.4 69.6h0M456.2 116.2h0M458.1 73.6h0M446.9 83.4h0M442.8 75.1h0M400.5 102.3h0M422.3 60.7h0M393.6 60h0M436.5 110.5h0" stroke="#b8a030" stroke-width="0.7" stroke-linecap="round" fill="none" opacity="0.33"/>
<path d="M426.6 98.6h0M465.8 81h0M461.2 63.5h0M448.1 73.4h0M426.7 113.8h0M444.6 57.7h0M426.2 98.9h0M424.7 71.6h0M419.2 98.4h0M437.3 79.8h0M449.9 65.1h0M424.3 82.1h0M433.6 70.6h0M394.3 96.4h0M451.5 79.3h0M445.9 65.5h0M434.4 72.5h0M445.4 75.7h0M396.7 57h0M418.4 94.5h0M395.6 64.2h0M429.3 54.8h0M417.3 56.2h0M419.7 65.1h0M410.6 65.7h0M464.8 99.5h0M444.3 107.5h0M413.9 100.2h0M449.8 68h0M423.6 78.3h0M429.4 69.9h0M399.6 104.5h0" stroke="#a04848" stroke-width="0.7" stroke-linecap="round" fill="none" opacity="0.41"/>
<path d="M459 74.4h0M443.8 101.5h0M417.4 114.6h0M410.2 114.6h0M431.3 101.2h0M461 95.6h0M460.5 68h0M436.1 70.9h0M412.9 60.2h0M428.5 82.3h0M432.4 79.6h0M405.3 66.9h0M451.1 88.9h0M466.5 103.1h0M409.4 70h0M413.9 83.1h0M418.5 97h0M461.8 102.6h0M428.2 106h0M415.4 67.9h0M400.5 79.7h0M450.3 114.5h0M418.6 82.8h0M421.5 80.9h0" stroke="#a04848" stroke-width="0.7" stroke-linecap="round" fill="none" opacity="0.24"/>
<path d="M411.4 102.7h0M401.9 70.3h0M449.4 86.6h0M423.1 86.9h0M405.2 85.4h0M446.7 92.2h0M401.8 97.4h0M458.1 79.5h0M454.3 73h0M400.2 105.7h0M415.9 54.4h0M461.8 114.7h0M442.7 96h0M430.8 85.8h0M412.8 56.1h0M438.3 109.2h0M441.6 57.1h0M428.3 95.1h0M401.3 108.8h0M435.9 89.2h0M428.7 110.1h0M437.5 79h0M433.1 78.3h0" stroke="#a04848" stroke-width="0.9" stroke-linecap="round" fill="none" opacity="0.24"/>
<path d="M405.7 60.5h0M413.3 57.4h0M424.6 100.1h0M433.4 99.3h0M440.9 86.4h0M443.7 101.4h0M401.1 94.5h0M450.1 55.5h0M412.8 110.3h0M409.8 54.8h0M423.1 61.7h0M413.6 60.1h0M418.9 60.9h0M416.8 88.2h0M459.6 53.9h0M422.8 114.9h0M435.9 104.4h0M462.7 62.2h0M410.9 61.8h0M397.3 78h0M440.4 106.8h0M396.4 108h0M417.9 113.6h0M409.7 100.2h0M462.5 82h0M436.4 69.2h0M466.2 60.5h0M397.3 95.6h0" stroke="#a04848" stroke-width="1.1" stroke-linecap="round" fill="none" opacity="0.41"/>
<path d="M408 61.2h0M453.2 94.8h0M435.9 62.7h0M440.2 68.4h0M401.8 114.7h0M416.4 64.2h0M416 73.5h0M404.9 103.1h0M393.6 81.4h0M391.5 54.1h0M442.9 73.6h0M451.3 97.6h0M391.7 70.5h0M426.1 112h0M403.7 80.4h0M454.6 111.2h0M456.6 94.6h0M457.7 67.5h0M426.2 67.3h0M407.3 92.7h0M392.2 78.4h0M407.2 100.4h0" stroke="#a04848" stroke-width="1.1" stroke-linecap="round" fill="none" opacity="0.24"/>
<path d="M448.1 96.6h0M412.8 105.8h0M430.4 101.4h0M464.2 115.3h0M444 78.1h0M418.8 74h0M423.7 73.4h0M442.4 109.1h0M428.5 87h0M444.2 80.7h0M427.8 62.5h0M421.5 67.4h0M402.8 108.5h0M449.7 68.2h0M410.2 90.9h0M401.4 92.3h0M405.1 79.9h0M466.2 74.7h0M398.9 88.4h0M447.7 76.8h0M393.9 115.6h0M424 96.4h0M415.4 58.8h0M455.7 103.6h0M461.4 64.4h0M449.1 78.2h0M412.2 98.1h0M435.3 79.7h0M438.9 68.2h0M430.6 61.5h0M414.4 103.8h0M412.5 93.2h0M407 60.6h0M426.4 71.6h0M421.9 77.6h0M396.3 75h0" stroke="#a04848" stroke-width="0.7" stroke-linecap="round" fill="none" opacity="0.33"/>
<path d="M450.6 115.2h0M426.8 69h0M423.9 67.9h0M430.8 55.7h0M418.7 76h0M399.4 68h0M408.6 63.4h0M432.8 81h0M414.3 102.7h0M392.7 80.3h0M417.4 103.1h0M419.1 110.8h0M411.2 65.6h0M437.2 113.5h0M416.9 94.5h0M434.6 60.7h0M437.4 99.9h0M424.1 74.8h0M462.6 72.2h0M425.1 89.5h0M411.9 104.5h0M437 101.8h0M447.5 101.3h0M408.8 91.7h0M410.4 78.6h0M423.4 95.2h0M466.3 83.6h0M445.7 114.2h0" stroke="#a04848" stroke-width="1.1" stroke-linecap="round" fill="none" opacity="0.33"/>
<path d="M428.6 84.4h0M446.1 70.8h0M421.7 57.6h0M404.6 106.4h0M407.8 114.3h0M465.9 78.9h0M419 72.1h0M452 97.1h0M433.8 76.7h0M401.9 80.1h0M410.4 57h0M445.5 115.6h0M435.9 112.8h0M435.1 90.6h0M460.5 84.4h0M397.9 67.6h0M464.8 99h0M426.1 103.3h0M417.1 70.5h0M441.6 77.8h0M458.9 59.8h0M435.6 95.5h0M408.6 78.9h0M420.2 85.5h0M404.3 93.6h0M408 55.9h0M446.6 74.8h0M465.8 97.3h0M432.5 102.6h0M441.2 80.9h0M436.1 79.2h0M441.9 113.8h0M431.9 92.9h0M460.1 110.4h0" stroke="#a04848" stroke-width="0.9" stroke-linecap="round" fill="none" opacity="0.33"/>
<path d="M466 96.5h0M401.4 76h0M445.5 56.1h0M462.9 68.1h0M440.9 108.5h0M430.9 68.9h0M398 72.1h0M403.6 101.5h0M432.9 66.8h0M446 111.3h0M435.6 67.4h0M455.5 98.7h0M460.1 71.9h0M461.6 90.8h0M399.6 111.9h0M430.5 113h0M409.9 101h0M391.4 56.4h0M412.5 112.5h0M415.1 67.1h0M436.6 106.4h0M412.6 72.2h0M433.9 54.2h0M413.3 54.9h0M458.5 90.5h0M391.5 71.6h0M461.2 98h0M460.8 103.7h0M460 116.3h0M424.2 102h0M443.2 85.3h0M439.2 108.6h0M429.6 59.7h0" stroke="#a04848" stroke-width="0.9" stroke-linecap="round" fill="none" opacity="0.41"/>
<rect x="391.2" y="52.6" width="10.2" height="8.4" fill="#000" />
<rect x="422" y="52.6" width="11.8" height="8.6" fill="#5a4a24" />
<text x="427.6" y="59" font-size="7" fill="#fff" font-weight="bold" text-anchor="middle" >ε<tspan font-size="3.8" dy="1.2">yy</tspan></text>
<rect x="437.6" y="54" width="2.6" height="66.4" fill="#e8e8f8" />
<rect x="438.2" y="54.2" width="1.4" height="66" fill="#5050c8" />
<clipPath id="cpI"><rect x="448.4" y="53" width="18.8" height="18"/></clipPath><g clip-path="url(#cpI)">
<rect x="448.4" y="53" width="18.8" height="1.37" fill="#e8c020" />
<rect x="448.4" y="54.32" width="18.8" height="1.37" fill="#e05020" />
<rect x="448.4" y="55.64" width="18.8" height="1.37" fill="#3050c0" />
<rect x="448.4" y="56.96" width="18.8" height="1.37" fill="#30a040" />
<rect x="448.4" y="58.28" width="18.8" height="1.37" fill="#e8c020" />
<rect x="448.4" y="59.6" width="18.8" height="1.37" fill="#d03030" />
<rect x="448.4" y="60.92" width="18.8" height="1.37" fill="#3058c8" />
<rect x="448.4" y="62.24" width="18.8" height="1.37" fill="#e0b020" />
<rect x="448.4" y="63.56" width="18.8" height="1.37" fill="#e04820" />
<rect x="448.4" y="64.88" width="18.8" height="1.37" fill="#2848b8" />
<rect x="448.4" y="66.2" width="18.8" height="1.37" fill="#38a848" />
<rect x="448.4" y="67.52" width="18.8" height="1.37" fill="#e8c828" />
<rect x="448.4" y="68.84" width="18.8" height="1.37" fill="#d83828" />
<rect x="448.4" y="70.16" width="18.8" height="1.37" fill="#3050c0" />
<path d="M461 56.5 L457.5 63 L455 66.5 L458 66 L462 59Z" fill="#23233a"/>
</g>
<rect x="448.4" y="53" width="18.8" height="18" fill="none" stroke="#f0f0f0" stroke-width="0.6"/>
<text x="449.2" y="56.4" font-size="2.6" fill="#fff" font-weight="bold" text-anchor="start" >3</text>
<text x="429.4" y="89.6" font-size="3.6" fill="#fff" font-weight="bold" text-anchor="start" >3</text>
<rect x="424.9" y="91.9" width="1.4" height="1.4" fill="#fff" opacity="0.92"/>
<rect x="424.9" y="93.9" width="1.4" height="1.4" fill="#fff" opacity="0.92"/>
<rect x="426.9" y="91.9" width="1.4" height="1.4" fill="#fff" opacity="0.92"/>
<rect x="426.9" y="93.9" width="1.4" height="1.4" fill="#fff" opacity="0.92"/>
<rect x="392.8" y="126.8" width="16.8" height="0.9" fill="#f6e0e0" />
<text x="392.4" y="125.9" font-size="4.5" fill="#fff" font-weight="bold" text-anchor="start" >200 nm</text>
<rect x="470" y="52.6" width="76.6" height="76.4" fill="#4e8c1e" />
<clipPath id="cpX"><rect x="470" y="52.6" width="76.6" height="76.4"/></clipPath><g clip-path="url(#cpX)">
<g filter="url(#bl4)">
<path d="M470 92 L500 82 L512 100 L506 129 L470 129Z" fill="#a2581e" opacity="0.7"/>
<ellipse cx="482" cy="118" rx="13" ry="10" fill="#a85a1e" opacity="0.7"/>
<ellipse cx="500" cy="84" rx="9" ry="12" fill="#8a6a20" opacity="0.7"/>
<ellipse cx="530" cy="120" rx="22" ry="10" fill="#7a7420" opacity="0.85"/>
<ellipse cx="508" cy="120" rx="16" ry="8" fill="#80701e" opacity="0.8"/>
<ellipse cx="540" cy="96" rx="8" ry="14" fill="#6a7e20" opacity="0.6"/>
</g>
<path d="M521 108 Q524 114 523.4 120 L525.6 129 H521.6 L521 121 Q519.6 114 520 108Z" fill="#3c9c22" opacity="0.9"/>
<path d="M497 78 L494.4 84.4 L492 87.4" stroke="#c83a1c" stroke-width="0.7" fill="none" opacity="0.85"/>
</g>
<path d="M476.2 89.8h0M506.3 91h0M481.2 107.3h0M505.8 85.6h0M498.7 102.8h0M491 128.2h0M489.6 121.8h0M499.2 95.7h0M490.8 116.7h0M475.9 93.4h0M501.1 95.5h0M505.2 113.4h0M480.3 121.6h0M471.6 124.7h0M511 105.7h0M477.8 85.4h0M478.4 110.4h0M473.5 85.5h0M500.9 122.7h0M504.1 97.8h0M495.3 95.9h0M509.7 117.1h0M492.2 109.4h0M503.4 115.8h0M502.3 99.6h0M493.8 128.2h0M486 126.1h0M500.8 115.9h0M470.7 100.1h0M491.9 89.2h0M503.6 89.4h0M483.6 105.5h0M482.4 114.7h0M503.8 120.1h0M501.8 115.5h0M498.9 89.5h0M478.9 112.5h0M508.7 124.9h0M486.1 122.1h0" stroke="#d8401c" stroke-width="0.7" stroke-linecap="round" fill="none" opacity="0.57"/>
<path d="M491.9 118.1h0M484.9 125.5h0M482.4 120.4h0M498.8 126.7h0M490.6 85.2h0M495.9 100.5h0M475 106.3h0M479.1 103.9h0M502.9 118h0M501.9 93.1h0M501.2 96.3h0M502.9 118.8h0M499.2 101.7h0M506 125.4h0M481.7 98.8h0M475.9 107.2h0M508 107.9h0M470.7 84.9h0M471.8 117.9h0M477.3 92.1h0M508.8 125.4h0M489 114.5h0M490.5 118.7h0M476.9 105.6h0M476.4 93.6h0M500.9 118.8h0M495 125.7h0M509.8 94.9h0M509 100h0M491.8 120.1h0M494.5 111.5h0M470.9 87.3h0M490.5 100.9h0M493.2 91.8h0M494.6 126.2h0M476.5 95.6h0M486.1 92.7h0M495.9 105h0M474.3 110.3h0M497 111.7h0M484.2 128.4h0M479 86.2h0M481.4 115.5h0M508.5 112.3h0M493.6 118.2h0M504.1 114.4h0M503 101.4h0M488.7 91.6h0M496.5 127.6h0M511.1 102.9h0" stroke="#d8401c" stroke-width="0.9" stroke-linecap="round" fill="none" opacity="0.57"/>
<path d="M486 109.2h0M484 121h0M484.5 120.1h0M488 92h0M483.5 115.5h0M498.1 90h0M497.7 91.7h0M498 126.6h0M484.1 92h0M506.3 124.5h0M499.1 121.4h0M508.9 125.4h0M502.2 94.8h0M490.8 100.5h0M506.9 87.7h0M499.4 124.5h0M492.6 120.2h0M505 111.8h0M471.1 99h0M509.3 85.8h0M488.7 84.6h0M481 123.9h0M495 128.1h0M483.2 93.3h0M487.9 126.6h0M485.6 114.3h0M503.8 101.3h0M481.8 123.9h0M501 109.4h0M472.4 104.5h0M510.2 113.1h0M477.8 124.8h0M480.6 101.5h0M499.6 101.6h0M509.9 89.6h0M473.7 124.7h0M494.3 105h0M510.1 127.4h0M497.1 111h0M507.4 85.4h0M497.9 91.2h0M505.9 100h0M508.2 113.4h0M501 94.6h0" stroke="#d8401c" stroke-width="1.1" stroke-linecap="round" fill="none" opacity="0.73"/>
<path d="M476.9 126.4h0M511.1 113.7h0M482.4 104.3h0M473.2 100.9h0M510.4 104.5h0M484.9 97.2h0M510.4 86.9h0M501 104.7h0M492 99.9h0M507 98.6h0M487.4 110.5h0M501.5 87.5h0M471.7 124.1h0M507.6 117.2h0M493.7 124.6h0M498.4 122.5h0M493.5 109.5h0M504.5 96.3h0M484.7 125.3h0M504.2 109.8h0M508.9 93.3h0M486.9 115.3h0M479 125.5h0M481.2 101.1h0M500.1 107.5h0M506 120.6h0M479.2 86.4h0M504.3 119.9h0M491.3 124.9h0M474.9 90.7h0M508.8 110.5h0M482.3 114.5h0M498.7 125.3h0M493.3 123h0M508 86.3h0M471.1 106.4h0M495.1 123.6h0M490.6 119.1h0M480.3 99.5h0M497.9 92.1h0M475.1 106.2h0M507.9 128.2h0" stroke="#d8401c" stroke-width="1.1" stroke-linecap="round" fill="none" opacity="0.57"/>
<path d="M471.8 101.1h0M510.7 99.6h0M476.3 86.4h0M479 103.2h0M472.7 110.7h0M493.3 114.4h0M511.2 84.9h0M485.7 123.2h0M504.6 108.3h0M505 119.6h0M474.9 100.1h0M487.4 100.1h0M501.1 88.4h0M471.3 98.2h0M476.7 117.3h0M482 122.8h0M491.6 104h0M479.1 126.5h0M472.5 126.2h0M484.1 127.7h0M479.2 103.9h0M504.9 110.7h0M483.8 111h0M488.6 125.8h0M474.7 126.8h0M508.1 123.4h0M497.2 87h0M479 108.1h0M501.5 117.2h0M470.8 104.4h0M471.1 113.3h0M500.7 88.8h0M472 99.9h0M470.6 117.2h0M484.8 89.1h0M479.5 107.9h0M498.8 121.4h0M498.3 122.7h0M506.6 86.6h0M483.7 110.3h0M487.2 84.6h0M507 86h0M478.1 101.4h0M495 119.3h0M508.3 87.1h0M483.7 89.6h0M497.2 122.5h0M511.2 103.2h0M471.7 126.4h0M500.3 104.8h0" stroke="#d8401c" stroke-width="1.1" stroke-linecap="round" fill="none" opacity="0.42"/>
<path d="M492.8 126.2h0M482.2 92h0M488.9 84.7h0M502.6 87h0M500 105.1h0M480.9 99.6h0M503.3 110h0M505.4 116.1h0M481.1 107.7h0M480.2 101.5h0M501.1 112.4h0M494.1 127.2h0M505.9 97h0M492.3 92.7h0M502.6 124.7h0M502.6 111.1h0M498.1 116.1h0M502.6 90.7h0M511 95.3h0M479.8 116.8h0M496.4 92h0M496.7 107.1h0M488.4 102.7h0M504.2 98.5h0M502.2 88.3h0M498.5 119.4h0M477.2 112.7h0M511.4 108h0M498.9 107.8h0M492.8 112.4h0M483.7 86.9h0M474.7 111.6h0M485.6 97.3h0M505.2 121.7h0M479.8 123.5h0M501.5 97.4h0M472.5 86h0M474.5 104h0M499.3 119.4h0M488 93.4h0M506.7 91h0M477.3 113.9h0M487 98.6h0M493.4 106.9h0M476.1 116.5h0M499.6 118.3h0M504.5 85.8h0M505 128.1h0M487.4 127.5h0M476 123.3h0M492.8 101.6h0" stroke="#d8401c" stroke-width="0.7" stroke-linecap="round" fill="none" opacity="0.42"/>
<path d="M502.8 94.3h0M502.1 107.8h0M486.3 113.8h0M508.3 94.6h0M499.8 92.2h0M503 117.7h0M494.9 97.5h0M476.2 93.6h0M509.7 88h0M483 105.4h0M488.1 92.1h0M509.4 93h0M477.2 124.7h0M509.5 101.7h0M504.4 92.8h0M502 127.7h0M477.2 111.7h0M475.2 104.3h0M495.2 127.3h0M485 113.6h0M482 107.6h0M508.3 113.3h0M473.2 94.2h0M501.6 88h0M475.3 102.9h0M489.1 107.4h0M509.7 92h0M470.5 120.9h0M474.3 123.4h0M502.6 111.2h0M503.2 110.8h0M495.6 122.9h0M481.6 99.8h0M472 119.1h0M480.4 89.7h0M483.2 125.3h0M485 120.7h0M473.2 93.6h0M491.3 128.1h0M482.3 104.5h0M481.7 104.9h0M483.2 126.4h0M486.9 121.5h0M494.2 96.2h0M490.3 99.7h0M488.1 107.6h0M497.9 108.5h0M483.9 120.1h0M489.3 100.3h0M479.5 92.7h0M472.7 117.7h0M475.1 107h0" stroke="#d8401c" stroke-width="0.7" stroke-linecap="round" fill="none" opacity="0.73"/>
<path d="M483.1 126h0M500 106.3h0M507.9 88.8h0M495.4 109.3h0M508 120.5h0M488 114.5h0M499 105.5h0M498.8 111h0M491.9 112.9h0M474.2 108.7h0M485.1 110.3h0M511.1 122.3h0M507.3 117.7h0M477.9 112.7h0M509.3 86.4h0M475.6 110.1h0M478.1 123.8h0M471.6 93.9h0M505.4 108.4h0M479.6 113.7h0M474.2 86.2h0M479.7 107.6h0M479.7 106.6h0M507 103h0M505.2 85.3h0M480.7 89.9h0M490.6 87h0M505.8 105.3h0M487.6 101.4h0M485.4 119.2h0M506.9 96.5h0M507.1 107.8h0M479.5 99.8h0M490 93.8h0M477.9 123.7h0M482 114.9h0M480.4 105h0M484.5 126.1h0M473.7 127.6h0M493.1 111.1h0M499.6 107.2h0M493.2 118h0M493.4 115.3h0M471 104.8h0M482.9 86.9h0M500.3 100.5h0M479.7 114.9h0M503.5 95.7h0M491.6 87.8h0M497 102.1h0M491.9 106.3h0M488.5 126.6h0M495.8 88.9h0M483.5 114.1h0M471.5 85.1h0" stroke="#d8401c" stroke-width="0.9" stroke-linecap="round" fill="none" opacity="0.42"/>
<path d="M505.9 109.5h0M503.4 122.6h0M483.7 110.8h0M507.7 88.1h0M509.3 89.1h0M492.6 127.1h0M474 106.6h0M473.9 125h0M473.2 89.2h0M472.7 104.3h0M505.3 97.1h0M481 127.3h0M470.8 85.6h0M490.6 106.6h0M482.8 105.8h0M488.4 119.4h0M488.6 114.4h0M510.7 108.4h0M507.5 86.1h0M483.1 102.2h0M491.4 115h0M503 120h0M498.8 114.9h0M493 94.6h0M471.1 126.3h0M480.4 122.3h0M477.3 101.3h0M509.6 90.5h0M479.2 91.6h0M502.9 102.5h0M509.1 119.7h0M471.4 121.7h0M475.6 122.6h0M489.6 104.2h0M507.7 104.1h0M509.1 115.4h0M498.1 100.8h0" stroke="#d8401c" stroke-width="0.9" stroke-linecap="round" fill="none" opacity="0.73"/>
<path d="M474.8 113.1h0M485.2 114.9h0M484.5 92.8h0M480.3 116.8h0M494 114h0M492.3 107.3h0M487.3 110h0M479.6 105h0M494.7 99.3h0M480.2 104.4h0M475 106.3h0M479.5 107h0M492.3 93.5h0M490.4 117.3h0M482.1 105.2h0M499.4 113.1h0M481.9 115.4h0M494 99h0M478.8 94.4h0M479.4 107.9h0M477.1 103.4h0M475.5 103.6h0M480.2 110.5h0M483.3 114.2h0M475.4 96.9h0M486.3 98.3h0" stroke="#d8401c" stroke-width="0.9" stroke-linecap="round" fill="none" opacity="0.73"/>
<path d="M489.4 95h0M492.2 102.6h0M487.8 109.7h0M496.7 95.1h0M494.7 111.8h0M498.9 108.3h0M480.9 114.1h0M493.7 104h0M474.9 118h0M499.2 97.2h0M483.7 114.5h0M492.9 115h0M496.2 103.1h0M497.7 118.1h0M481 93.1h0M497.8 108.5h0M492.9 95.1h0M474.9 93h0M491.6 113.6h0M487.3 97.5h0M492 116h0M477.3 110.5h0M479.3 107.6h0" stroke="#d8401c" stroke-width="1.1" stroke-linecap="round" fill="none" opacity="0.73"/>
<path d="M485.1 107.3h0M496.7 113.6h0M487.1 99.5h0M478.4 105.7h0M491.6 93.2h0M484.3 112.8h0M495.6 100.2h0M487.3 105.9h0M491.7 101.1h0M478.5 119.3h0M487 106h0M495.7 94h0M492 107.1h0M486.5 96h0M491.9 102.5h0M488.2 106.8h0M497.8 104h0M486.8 94h0M482 100.7h0M490.4 101.1h0M485.7 96.3h0M485.3 105.1h0M495.5 104.1h0" stroke="#d8401c" stroke-width="0.7" stroke-linecap="round" fill="none" opacity="0.6"/>
<path d="M480.6 108.3h0M481.4 100.6h0M497.4 95.6h0M477.8 93.9h0M496.5 97.8h0M478.9 97.5h0M498.9 103.3h0M478.6 94.7h0M478.3 102.3h0M493.8 112.1h0M499.2 96.5h0M492.2 118.7h0M497.6 98.6h0M477 98.4h0M482.6 111.7h0M498.3 98.7h0M488.7 106.8h0M479.2 100.4h0M478.5 117.6h0M475.3 108.2h0M495.1 111.7h0M493.3 101.9h0M493.6 111.8h0M482.2 96.2h0M489.4 119.1h0" stroke="#d8401c" stroke-width="1.1" stroke-linecap="round" fill="none" opacity="0.6"/>
<path d="M493 101.4h0M497.2 100h0M487.5 109.5h0M490.8 102h0M486.9 99.5h0M493.6 97.8h0M478.4 101.1h0M494.7 97.9h0M478.6 117.9h0M483.7 113.2h0M485.6 118.2h0M479.9 112.6h0M479.5 111.2h0M485 109.5h0M494.7 117.4h0M479.7 105.6h0M477.3 97.9h0M483.6 104.5h0M478.5 100.3h0M490.8 103.8h0M486.2 99.8h0" stroke="#d8401c" stroke-width="1.1" stroke-linecap="round" fill="none" opacity="0.47"/>
<path d="M485.1 107.9h0M494.8 104h0M480.8 96.1h0M474.7 108.1h0M495.2 111.8h0M478.1 110.3h0M487.3 112.7h0M479 103.2h0M476.1 115.1h0M488.5 119.2h0M485.4 93h0M477.2 101.7h0M482.1 118.2h0M486.6 107.3h0M482.5 94h0M487.6 110.9h0M493.2 96.4h0M478.9 108.9h0M499.4 96.4h0M489.4 102.8h0M497.9 116.7h0M487.7 112.2h0" stroke="#d8401c" stroke-width="0.7" stroke-linecap="round" fill="none" opacity="0.73"/>
<path d="M496 103.8h0M493.3 103.6h0M496.5 98.5h0M492.1 95.8h0M497.1 117h0M486.9 101.6h0M487.7 111.7h0M497.5 96.5h0M486.4 100.6h0M486.7 99.8h0M495 110.7h0M480.7 109.4h0M488.2 113.4h0M475.7 103.5h0M485.3 118.8h0M480.5 108.3h0M489.9 109.9h0M486.5 111.9h0M481 110.8h0" stroke="#d8401c" stroke-width="0.9" stroke-linecap="round" fill="none" opacity="0.47"/>
<path d="M492.1 117.6h0M479.1 99.7h0M476.7 116h0M486 98h0M486.2 107.3h0M492.8 117.2h0M496.2 101.9h0M492.7 111.8h0M482.6 108.2h0M488.4 107.3h0M498.1 118.6h0M481.2 101.9h0M481.9 115.8h0M490.2 110.9h0M484.6 93.4h0M479.4 95h0" stroke="#d8401c" stroke-width="0.9" stroke-linecap="round" fill="none" opacity="0.6"/>
<path d="M491.1 105.4h0M483 99.3h0M479.5 99.7h0M479.3 98h0M474.9 114.6h0M474.6 96.6h0M491.3 116.6h0M486.1 117.8h0M493 107.4h0M477.4 116.3h0M492.4 95.1h0M494.8 113.5h0M487.9 105h0M495.1 108.4h0M479.1 109h0M480.6 115.8h0M497.2 92.9h0M483.6 111.7h0M499.3 104.8h0M492.2 110.9h0M492.7 95.4h0M486.2 112.6h0M479.2 102.9h0M494.4 94.1h0M497.4 105.6h0" stroke="#d8401c" stroke-width="0.7" stroke-linecap="round" fill="none" opacity="0.47"/>
<path d="M482.4 79h0M497.8 67.6h0M506.9 56.9h0M528.8 60.7h0M537.9 67.7h0M488.1 126.9h0M539.2 117.2h0M523.8 81h0M505.6 119.1h0M519.2 57.7h0M497 92.2h0M515.3 74.2h0M483.1 71.3h0M485.7 115.4h0M507.2 106.9h0M508.8 127.7h0M541.7 100.7h0M497.7 69.9h0M491.9 118.1h0M526.5 53.9h0M475.3 67.1h0M529.8 81.2h0M514.2 124.8h0M476.6 113.3h0M536.9 58.9h0M532.2 86.1h0M474.6 71.9h0M536.6 73h0M501.3 106.5h0M482 78.3h0M534.9 74.6h0M531.4 89.2h0M501.2 123.6h0M525.6 93.7h0M503.6 84.3h0M472.8 54h0M487.5 74.8h0M499.7 118.9h0M528.7 71.7h0" stroke="#5a9a20" stroke-width="0.9" stroke-linecap="round" fill="none" opacity="0.24"/>
<path d="M537.8 123.8h0M479.4 84.9h0M518.1 68.4h0M500.1 125.2h0M538 54.5h0M523 125.7h0M522.5 68.7h0M494.7 109.1h0M538.6 87.7h0M472.4 71.7h0M498.2 62.9h0M495.9 88.4h0M480.1 93.1h0M483.8 105.5h0M528.8 86h0M517.6 83.5h0M526.2 84h0M501.2 80.7h0M511.3 103.5h0M476.2 116.7h0M523.9 102.4h0M477.2 83.5h0M500.6 113.6h0M520 104.3h0M507.1 115h0M494.6 125.1h0M538.6 83.6h0" stroke="#5a9a20" stroke-width="0.7" stroke-linecap="round" fill="none" opacity="0.41"/>
<path d="M515.5 124.9h0M530.1 105h0M474.6 85.6h0M536.8 86.4h0M477.2 92.8h0M513.4 71h0M531.7 66.7h0M509.7 66.7h0M522.8 102.1h0M505 85.6h0M505 127.4h0M508.7 85.6h0M475.4 88h0M521.1 70.1h0M519.1 99.7h0M474 107.6h0M544 66.5h0M495.6 108.5h0M499.9 120.4h0M486.8 104h0M477 127.1h0M483.5 58.4h0M528.8 126.1h0M517.1 120.1h0M484 92.6h0M480.5 93.9h0M489.9 87.4h0M499.7 105.9h0M497.8 66.7h0M529 60.1h0M544.1 88.1h0M471.9 77.8h0M496.4 86.3h0" stroke="#5a9a20" stroke-width="0.9" stroke-linecap="round" fill="none" opacity="0.33"/>
<path d="M513.6 115.5h0M514 116.1h0M527.1 55.4h0M498.6 102h0M500.9 118.7h0M475.5 98.3h0M494.3 126.5h0M510.1 91h0M471.6 93.7h0M532.1 67h0M484.2 98.1h0M532.6 78.5h0M539.1 67h0M519.8 100.7h0M491.3 125.1h0M507.5 111.9h0M505.4 80.1h0M488.2 123.7h0M493.2 63.2h0M493.8 92.9h0M540.4 57.3h0M513.4 116.7h0M536.4 65.1h0M528.4 69h0M506.8 127.7h0M516 55.2h0M521.9 58.4h0M516.5 82.4h0M470.5 70.4h0M535.7 93.9h0M518.2 66.4h0M524.1 73.2h0M487 84.5h0M477.6 99.7h0" stroke="#5a9a20" stroke-width="1.1" stroke-linecap="round" fill="none" opacity="0.24"/>
<path d="M516.5 92.3h0M533.3 126h0M520.8 71.7h0M537.9 76h0M499 107.6h0M540.9 96.2h0M544.4 70.9h0M471 118h0M506.2 81.5h0M504.5 66.4h0M479.1 105.3h0M489.4 97.4h0M518.1 86.9h0M529.4 123.3h0M524.4 124.5h0M539.4 107.2h0M472.5 82.9h0M487.2 81.1h0M483.8 65.2h0M477.2 106.1h0M512 85.7h0M489.9 60.2h0M523.1 105.7h0M511.4 66h0M486.1 90.6h0M514.3 120.3h0M524.7 102.3h0M499.3 87.4h0M519.6 111.7h0M485.2 82h0M513.5 120h0M480 65.4h0M492.7 63.6h0M506.9 93.8h0M544 109.7h0M491.7 65.1h0M536.5 126.6h0" stroke="#5a9a20" stroke-width="0.7" stroke-linecap="round" fill="none" opacity="0.33"/>
<path d="M472.4 72.6h0M492.7 109.8h0M541.3 82.2h0M471.8 102.8h0M530.2 61.1h0M522.1 100h0M493 85.7h0M476.6 84.9h0M516.6 119.8h0M530.7 76.1h0M487.2 126.3h0M471.9 67.6h0M542 82.1h0M476.9 117.8h0M476.9 60.4h0M531.7 99.7h0M487.4 82.8h0M474.8 65.9h0M477.9 92.5h0M505.2 79.9h0M528.9 83.3h0M502.5 59.6h0M516.9 114.4h0M472.4 74.3h0M476 57.2h0M522.4 82.3h0M515.6 103.9h0M501.5 97.2h0M505.8 118.9h0M536.9 110.5h0M474.9 75.3h0" stroke="#5a9a20" stroke-width="1.1" stroke-linecap="round" fill="none" opacity="0.41"/>
<path d="M516.6 76h0M533.7 126.3h0M470.6 65.4h0M544.5 91.9h0M500.5 124.3h0M515.7 99.3h0M522 127.5h0M484.9 104.9h0M513.7 75.9h0M493.5 101h0M496 89.1h0M527 112.9h0M485.6 99.3h0M508 98.1h0M478.7 97.2h0M493.2 56.9h0M484.5 64.1h0M520.6 82.4h0M543.2 87.2h0M539.6 71.2h0M471.2 92h0M484.7 114.6h0M509.7 96.6h0M501.4 107.1h0M493.6 97.1h0M478.8 83.6h0M478.2 84.9h0M477.3 83.5h0M519 81.2h0M495.2 81.4h0" stroke="#5a9a20" stroke-width="0.7" stroke-linecap="round" fill="none" opacity="0.24"/>
<path d="M529.2 111.8h0M530.5 101.9h0M484.8 95.1h0M485.1 112.6h0M474.1 65.6h0M494.6 77.5h0M474.9 71h0M513.1 125h0M530.2 90h0M506.5 104h0M523.4 116.1h0M534.3 81.5h0M529.8 105.7h0M503.8 86.4h0M482.2 113.2h0M497.6 64.8h0M527.7 69.9h0M474.1 70.8h0M521.8 64.1h0M493 121.8h0M472.7 83h0M530.5 68.5h0M542.6 65.7h0M473 70.2h0M540.1 118.4h0M493.2 127.1h0M539.6 109.8h0M511.8 59.4h0M507.8 69.2h0M535.5 70.1h0M478.8 101h0M528.6 54.7h0M487.2 96.2h0M525.9 83.4h0M527.6 105.7h0" stroke="#5a9a20" stroke-width="0.9" stroke-linecap="round" fill="none" opacity="0.41"/>
<path d="M522.6 86.9h0M545 85.2h0M537 93.6h0M530.5 88.4h0M495.2 114.2h0M472 86.7h0M484.9 74.9h0M493.5 103.4h0M485.1 121.7h0M514.8 113.1h0M521.9 113.2h0M532 78.8h0M523.2 85.7h0M491.9 60h0M539.1 99.7h0M499.5 108.3h0M510.6 56h0M480.6 77.8h0M502.5 69.1h0M533.4 94.7h0M483.8 67.9h0M544.9 114.3h0M500.9 100h0M531.5 105.6h0M492.1 96.1h0M502.1 58.1h0M514.1 84.1h0M500.8 81.6h0M505.9 114.1h0M471.6 57.4h0M512.7 126.9h0M541.2 93.5h0M522 59h0M505.3 107.1h0" stroke="#5a9a20" stroke-width="1.1" stroke-linecap="round" fill="none" opacity="0.33"/>
<rect x="470.4" y="52.6" width="10.2" height="8.4" fill="#061004" />
<rect x="503.6" y="52.6" width="12.4" height="8.6" fill="#2c5a18" />
<text x="509.8" y="59" font-size="7" fill="#fff" font-weight="bold" text-anchor="middle" >ε<tspan font-size="3.8" dy="1.2">xx</tspan></text>
<rect x="528.4" y="53" width="18" height="18.2" fill="#5a9020" stroke="#f0f0f0" stroke-width="0.6"/>
<path d="M529 70.6 L546 53.6 L546 60 L535 70.6Z" fill="#c0501c" opacity="0.8" filter="url(#bl05)"/>
<text x="529.2" y="56.4" font-size="2.6" fill="#fff" font-weight="bold" text-anchor="start" >3</text>
<text x="509.6" y="90" font-size="3.6" fill="#fff" font-weight="bold" text-anchor="start" >3</text>
<rect x="504.9" y="92.3" width="1.4" height="1.4" fill="#fff" opacity="0.92"/>
<rect x="504.9" y="94.3" width="1.4" height="1.4" fill="#fff" opacity="0.92"/>
<rect x="506.9" y="92.3" width="1.4" height="1.4" fill="#fff" opacity="0.92"/>
<rect x="506.9" y="94.3" width="1.4" height="1.4" fill="#fff" opacity="0.92"/>
<path d="M473.6 113.6 V126.2 H485" stroke="#f4f4f4" stroke-width="0.7" fill="none"/>
<text x="472.6" y="112.8" font-size="3.2" fill="#fff" font-weight="bold" text-anchor="start" >y</text>
<text x="486" y="127.4" font-size="3.2" fill="#fff" font-weight="bold" text-anchor="start" >x</text>
<rect x="534.6" y="82.4" width="10.2" height="44.4" fill="#f6f6f6" />
<rect x="536.8" y="88.4" width="5.8" height="33" fill="url(#rainbow)" />
<rect x="534.6" y="82.4" width="10.2" height="4.6" fill="#2a2a2a" />
<text x="539.7" y="86.1" font-size="3.1" fill="#fff" font-weight="bold" text-anchor="middle" >2.5%</text>
<rect x="534.6" y="122.4" width="10.2" height="4.4" fill="#2a2a2a" />
<text x="539.7" y="126.1" font-size="3.1" fill="#fff" font-weight="bold" text-anchor="middle" >-2.5%</text>
<line x1="336.6" y1="174.2" x2="546" y2="174.2" stroke="#d4d4d4" stroke-width="0.35" />
<line x1="336.6" y1="168.98" x2="546" y2="168.98" stroke="#d4d4d4" stroke-width="0.35" />
<line x1="336.6" y1="163.75" x2="546" y2="163.75" stroke="#d4d4d4" stroke-width="0.35" />
<line x1="336.6" y1="158.53" x2="546" y2="158.53" stroke="#d4d4d4" stroke-width="0.35" />
<line x1="336.6" y1="148.08" x2="546" y2="148.08" stroke="#d4d4d4" stroke-width="0.35" />
<line x1="336.6" y1="142.85" x2="546" y2="142.85" stroke="#d4d4d4" stroke-width="0.35" />
<line x1="336.6" y1="137.62" x2="546" y2="137.62" stroke="#d4d4d4" stroke-width="0.35" />
<line x1="336.6" y1="132.4" x2="546" y2="132.4" stroke="#d4d4d4" stroke-width="0.35" />
<line x1="336.6" y1="131.6" x2="336.6" y2="175" stroke="#222" stroke-width="0.6" />
<line x1="335.6" y1="132.4" x2="336.6" y2="132.4" stroke="#222" stroke-width="0.4" />
<text x="334.6" y="134" font-size="4.4" fill="#222" font-weight="bold" text-anchor="end" >2</text>
<line x1="335.6" y1="137.62" x2="336.6" y2="137.62" stroke="#222" stroke-width="0.4" />
<text x="334.6" y="139.22" font-size="4.4" fill="#222" font-weight="bold" text-anchor="end" >1.5</text>
<line x1="335.6" y1="142.85" x2="336.6" y2="142.85" stroke="#222" stroke-width="0.4" />
<text x="334.6" y="144.45" font-size="4.4" fill="#222" font-weight="bold" text-anchor="end" >1</text>
<line x1="335.6" y1="148.08" x2="336.6" y2="148.08" stroke="#222" stroke-width="0.4" />
<text x="334.6" y="149.68" font-size="4.4" fill="#222" font-weight="bold" text-anchor="end" >0.5</text>
<line x1="335.6" y1="153.3" x2="336.6" y2="153.3" stroke="#222" stroke-width="0.4" />
<text x="334.6" y="154.9" font-size="4.4" fill="#222" font-weight="bold" text-anchor="end" >0</text>
<line x1="335.6" y1="158.53" x2="336.6" y2="158.53" stroke="#222" stroke-width="0.4" />
<text x="334.6" y="160.12" font-size="4.4" fill="#222" font-weight="bold" text-anchor="end" >-0.5</text>
<line x1="335.6" y1="163.75" x2="336.6" y2="163.75" stroke="#222" stroke-width="0.4" />
<text x="334.6" y="165.35" font-size="4.4" fill="#222" font-weight="bold" text-anchor="end" >-1</text>
<line x1="335.6" y1="168.98" x2="336.6" y2="168.98" stroke="#222" stroke-width="0.4" />
<text x="334.6" y="170.58" font-size="4.4" fill="#222" font-weight="bold" text-anchor="end" >-1.5</text>
<line x1="335.6" y1="174.2" x2="336.6" y2="174.2" stroke="#222" stroke-width="0.4" />
<text x="334.6" y="175.8" font-size="4.4" fill="#222" font-weight="bold" text-anchor="end" >-2</text>
<text x="0" y="0" font-size="5" fill="#222" font-weight="bold" text-anchor="middle" transform="translate(323.6 153.5) rotate(-90)">ε<tspan font-size="3" dy="0.8">yy</tspan><tspan dy="-0.8">(%)</tspan></text>
<polyline points="336.6,153.45 345.5,153.4 346.6,152.8 347.6,153 348.1,162.71 348.5,142.66 349.1,142.77 349.4,162.59 349.8,161.64 350.7,143.61 351.3,144.15 351.6,164.92 352,163.92 352.9,143.78 353.5,144.09 353.8,164.62 354.2,163.98 355.1,143.28 355.7,143.75 356,162.75 356.4,162.03 357.3,142.16 357.9,142.73 358.2,164.52 358.6,163.67 359.5,143.35 360.1,143.6 360.4,165.88 360.8,165.51 361.7,142.41 362.3,142.47 362.6,163.23 363,162.33 363.9,143.16 364.5,143.4 364.8,162.59 365.2,161.71 366.1,143.46 366.7,143.58 367,163.6 367.4,163.58 368.3,143.36 368.9,143.64 369.2,163.34 369.6,163.05 370.5,142.05 371.1,142.54 371.4,163.25 371.8,162.87 372.7,142.89 373.3,143.45 373.6,163.48 374,163.25 374.9,141.86 375.5,142.44 375.8,166.09 376.2,166.02 377.1,141.73 377.7,141.88 378,162.89 378.4,162.64 379.3,142.27 379.9,142.86 380.2,164.26 380.6,164.06 381.5,141.99 382.1,141.99 382.4,164.11 382.8,163.51 383.7,144.04 384.3,144.21 384.6,163.68 385,163.48 385.9,143.76 386.5,144.25 386.8,165.68 387.2,165.47 388.1,143.75 388.7,143.78 389,165.24 389.4,164.76 390.3,141.62 390.9,141.83 391.2,163.67 391.6,163.22 392.5,142.04 393.1,142.6 393.4,166.22 393.8,165.63 394.7,141.4 395.3,141.93 395.6,163.7 396,162.99 396.9,142.7 397.5,142.9 397.8,164.73 398.2,164.01 399.1,142.13 399.7,142.45 400,164.99 400.4,164.3 401.3,143.05 401.9,143.11 402.2,165.61 402.6,165.54 403.5,141.6 404.1,141.61 404.4,163.89 404.8,163.66 405.7,141.42 406.3,142.01 406.6,163.22 407,162.68 407.9,143.29 408.5,143.57 408.8,163.72 409.2,163.37 410.1,141.6 410.7,142.05 411,165.72 411.4,165.49 412.3,143.11 412.9,143.31 413.2,163.6 413.6,162.94 414.5,143.27 415.1,143.33 415.4,162.37 415.8,161.85 416.7,141.46 417.3,142.03 417.6,166.04 418,165.27 418.9,144.01 419.5,144.23 419.8,165.42 420.2,164.88 421.1,143.91 421.7,144 422,163.2 422.4,162.44 423.3,141.56 423.9,141.91 424.2,163.25 424.6,162.41 425.5,143.07 426.1,143.33 426.4,164 426.8,163.7 427.7,143.11 428.3,143.19 428.6,165.67 429,165.04 429.9,142.24 430.5,142.73 430.8,165.43 431.2,164.43 432.1,143.86 432.7,144.01 433,164.65 433.4,164.23 434.3,142.83 434.9,143.04 435.2,164.89 435.6,164.03 436.5,141.83 437.1,142.3 437.4,165.35 437.8,164.62 438.7,143.85 439.3,144.33 439.6,165.28 440,164.37 440.9,143.96 441.5,144.36 441.8,163.37 442.2,163 443.1,142.72 443.7,142.96 444,163.31 444.4,162.94 445.3,143.83 445.9,144.1 446.2,165.5 446.6,165.05 447.5,143.29 448.1,143.86 448.4,165.88 448.8,165.76 449.7,142.64 450.3,142.88 450.6,162.75 451,162.37 451.9,141.4 452.5,141.64 452.8,163.8 453.2,163.39 454.1,141.56 454.7,141.56 455,164.42 455.4,163.81 456.3,142.57 456.9,143.07 457.2,162.26 457.6,161.43 458.5,142.79 459.1,143.31 459.4,165.35 459.8,164.7 460.7,142.7 461.3,143.28 461.6,165.94 462,165.9 462.9,142.92 463.5,143.25 463.8,162.7 464.2,161.87 465.1,144.02 465.7,144.15 466,162.28 466.4,161.48 467.3,142.59 467.9,143.06 468.2,164.23 468.6,163.8 469.5,142.83 470.1,143.15 470.4,163.49 470.8,163.45 471.7,141.58 472.3,142.17 472.6,165.55 473,164.88 473.9,142.65 474.5,142.83 474.8,163.97 475.2,163.44 476.1,141.95 476.7,141.96 477,165.2 477.4,164.69 478.3,141.75 478.9,142.07 479.2,162.75 479.6,162.18 480.5,143.01 481.1,143.42 481.4,162.91 481.8,162.22 482.7,143.16 483.3,143.25 483.6,163.97 484,163.02 484.9,142.68 485.5,142.99 485.8,162.58 486.2,161.88 487.1,142.36 487.7,142.47 488,165.73 488.4,165.62 489.3,142.62 489.9,143.05 490.2,164.49 490.6,163.7 491.5,141.65 492.1,142.16 492.4,162.27 492.8,161.4 493.7,142.62 494.3,142.79 494.6,164.15 495,163.82 495.9,142.54 496.5,143.12 496.8,163.34 497.2,162.79 498.1,143.14 498.7,143.43 499,164.58 499.4,164.41 500.3,142.6 500.9,142.63 501.2,165.67 501.6,165.46 502.5,142.08 503.1,142.56 503.4,163.85 503.8,163.81 504.7,142.51 505.3,142.88 505.6,163.77 506,163.68 506.9,143.43 507.5,143.68 507.8,163.25 508.2,162.61 509.1,143.6 509.7,143.63 510,163.32 510.4,163.19 511.3,143.18 511.9,143.58 512.2,164.37 512.6,164.12 513.5,142 514.1,142.54 514.4,164.38 514.8,164.18 515.7,143.38 516.3,143.41 516.6,163.34 517,162.9 517.9,143.89 518.5,144.09 518.8,163.15 519.2,162.95 520.1,142.55 520.7,142.76 521,163.87 521.4,163.87 522.3,143.2 522.9,143.72 523.2,162.99 523.6,162.29 524.5,144.01 525.1,144.15 525.4,165.42 525.8,165.07 526.7,142.63 527.3,142.93 527.6,162.21 528,161.56 528.9,141.64 529.5,142 529.8,165.99 530.2,165.3 531.1,144.07 531.7,144.12 532,163.4 532.4,163.21 533.3,143.53 533.9,143.59 534.2,163.3 534.6,162.66 535.5,143.92 536.1,144.42 536.4,164.4 536.8,164.03 537.7,142.34 538.3,142.72 538.6,163.18 539,162.43 539.9,144.01 540.5,144.37 540.8,165.09 541.2,164.69 542.1,141.46 542.7,141.99 543,165.76 543.4,164.82 544.3,143 544.9,143.59 545.2,166.22 545.6,166.12" fill="none" stroke="#4a7cba" stroke-width="0.85" stroke-linejoin="round"/>
<line x1="336.6" y1="153.3" x2="546" y2="153.3" stroke="#333" stroke-width="0.55" />
<line x1="336.6" y1="152.5" x2="336.6" y2="154.1" stroke="#333" stroke-width="0.4" />
<text x="336.6" y="180.6" font-size="4.4" fill="#222" font-weight="bold" text-anchor="middle" >0</text>
<line x1="360.05" y1="152.5" x2="360.05" y2="154.1" stroke="#333" stroke-width="0.4" />
<text x="360.05" y="180.6" font-size="4.4" fill="#222" font-weight="bold" text-anchor="middle" >100</text>
<line x1="383.5" y1="152.5" x2="383.5" y2="154.1" stroke="#333" stroke-width="0.4" />
<text x="383.5" y="180.6" font-size="4.4" fill="#222" font-weight="bold" text-anchor="middle" >200</text>
<line x1="406.95" y1="152.5" x2="406.95" y2="154.1" stroke="#333" stroke-width="0.4" />
<text x="406.95" y="180.6" font-size="4.4" fill="#222" font-weight="bold" text-anchor="middle" >300</text>
<line x1="430.4" y1="152.5" x2="430.4" y2="154.1" stroke="#333" stroke-width="0.4" />
<text x="430.4" y="180.6" font-size="4.4" fill="#222" font-weight="bold" text-anchor="middle" >400</text>
<line x1="453.85" y1="152.5" x2="453.85" y2="154.1" stroke="#333" stroke-width="0.4" />
<text x="453.85" y="180.6" font-size="4.4" fill="#222" font-weight="bold" text-anchor="middle" >500</text>
<line x1="477.3" y1="152.5" x2="477.3" y2="154.1" stroke="#333" stroke-width="0.4" />
<text x="477.3" y="180.6" font-size="4.4" fill="#222" font-weight="bold" text-anchor="middle" >600</text>
<line x1="500.75" y1="152.5" x2="500.75" y2="154.1" stroke="#333" stroke-width="0.4" />
<text x="500.75" y="180.6" font-size="4.4" fill="#222" font-weight="bold" text-anchor="middle" >700</text>
<line x1="524.2" y1="152.5" x2="524.2" y2="154.1" stroke="#333" stroke-width="0.4" />
<text x="524.2" y="180.6" font-size="4.4" fill="#222" font-weight="bold" text-anchor="middle" >800</text>
<text x="441" y="186.3" font-size="4.8" fill="#222" font-weight="bold" text-anchor="middle" >y-position (nm)</text>
<text x="4" y="192.8" font-size="9.4" fill="#222" font-weight="normal" text-anchor="start" >(c)</text>
<text x="47.2" y="190.5" font-size="4.9" fill="#333" font-weight="normal" text-anchor="middle" >ADF-STEM</text>
<text x="78.6" y="190.5" font-size="5.3" fill="#333" font-weight="normal" text-anchor="start" >lattice constant (Å)</text>
<rect x="29" y="192.4" width="37.2" height="37.6" fill="#2e2e2e" />
<g filter="url(#nzB)" opacity="0.25"><rect x="29" y="192.4" width="37.2" height="37.6" fill="#fff"/></g>
<ellipse cx="48" cy="203" rx="17" ry="9" fill="#555" opacity="0.6" filter="url(#bl2)"/>
<path d="M48 200.6 L59.6 220.8 L36.2 220.8Z" fill="#a4a4a4" stroke="#a4a4a4" stroke-width="6.4" stroke-linejoin="round"/>
<path d="M48 203 L58.4 220.6 L37.4 220.6Z" fill="#b4b4b4" opacity="0.7" filter="url(#bl1)"/>
<circle cx="44.4" cy="209.8" r="0.5" fill="#fff" />
<circle cx="38" cy="221.4" r="0.6" fill="#fff" />
<text x="30.6" y="203.4" font-size="2.8" fill="#fff" font-weight="bold" text-anchor="start" >WSe<tspan font-size="1.6" dy="0.5">2</tspan></text>
<line x1="37" y1="203.6" x2="40.6" y2="207.4" stroke="#fff" stroke-width="0.35" />
<text x="31.6" y="228.4" font-size="2.8" fill="#fff" font-weight="bold" text-anchor="start" >WS<tspan font-size="1.6" dy="0.5">2</tspan></text>
<text x="54" y="195.6" font-size="1.9" fill="#ccc" font-weight="normal" text-anchor="start" >20 mrad</text>
<text x="54" y="198" font-size="1.9" fill="#ccc" font-weight="normal" text-anchor="start" >ADF-STEM</text>
<text x="57.4" y="226.2" font-size="2.4" fill="#fff" font-weight="bold" text-anchor="start" >200 nm</text>
<rect x="57.4" y="227" width="7.4" height="0.6" fill="#fff" />
<rect x="78.4" y="192.4" width="37.6" height="37.6" fill="#19b3a0" />
<path d="M96.6 199.6 L108.4 221.2 L85.6 221.2Z" fill="#2a56b4" stroke="#2a56b4" stroke-width="5" stroke-linejoin="round"/>
<path d="M96.6 202.4 L105.8 219.8 L87.4 219.8Z" fill="#2d62be" stroke="#2d62be" stroke-width="0.8" stroke-linejoin="round"/>
<path d="M96.6 206.2 L103.6 218.4 L89.6 218.4Z" fill="#e9c122" stroke="#e9c122" stroke-width="0.8" stroke-linejoin="round"/>
<circle cx="96.4" cy="213.8" r="1.4" fill="#1f4aa8" />
<circle cx="95" cy="215.8" r="0.55" fill="#fff" />
<circle cx="87.2" cy="221.6" r="0.6" fill="#fff" />
<path d="M86 221.4 H108" stroke="#5aa0d8" stroke-width="0.5" stroke-dasharray="0.7 0.9" opacity="0.8"/>
<text x="80.6" y="203.6" font-size="3" fill="#fff" font-weight="normal" text-anchor="start" >WSe<tspan font-size="1.7" dy="0.5">2</tspan></text>
<line x1="88" y1="204" x2="93.6" y2="210.6" stroke="#fff" stroke-width="0.4" />
<text x="83" y="228" font-size="3" fill="#fff" font-weight="normal" text-anchor="start" >WS<tspan font-size="1.7" dy="0.5">2</tspan></text>
<line x1="88" y1="225.4" x2="95" y2="216" stroke="#fff" stroke-width="0.4" />
<path d="M103 196.4 q2 -1.2 3 0.6 q1 2.4 3 1.8 q2.4 -0.4 3 1.8 l2.6 0.4" stroke="#e8f8f4" stroke-width="0.4" fill="none"/>
<text x="106.2" y="225.6" font-size="2" fill="#e8fff8" font-weight="bold" text-anchor="start" >500 nm</text>
<text x="107" y="227.8" font-size="1.7" fill="#d0f4ec" font-weight="normal" text-anchor="start" >lattice</text>
<rect x="117.4" y="192.4" width="2" height="37.6" fill="url(#parula)" />
<text x="120.2" y="194.6" font-size="2.9" fill="#666" font-weight="normal" text-anchor="start" >3.3</text>
<text x="120.2" y="210" font-size="2.9" fill="#666" font-weight="normal" text-anchor="start" >3.24</text>
<text x="120.2" y="226.4" font-size="2.9" fill="#666" font-weight="normal" text-anchor="start" >3.18</text>
<rect x="138.4" y="188" width="49.6" height="50" fill="#19b3a0" />
<path d="M162 198 L178.4 224 L146.4 224Z" fill="#2757b5" stroke="#2757b5" stroke-width="5.4" stroke-linejoin="round"/>
<path d="M162 203.4 L173 221.6 L151.4 221.6Z" fill="#2e6ac4" stroke="#2e6ac4" stroke-width="0.8" stroke-linejoin="round"/>
<path d="M162 207.8 L170.6 220 L153.6 220Z" fill="#e9c122" stroke="#e9c122" stroke-width="0.8" stroke-linejoin="round"/>
<path d="M148 224.8 H177" stroke="#5aa0d8" stroke-width="0.6" stroke-dasharray="0.8 1" opacity="0.8"/>
<circle cx="162.2" cy="215.6" r="1.5" fill="#1f4aa8" />
<circle cx="160.6" cy="217.2" r="0.6" fill="#fff" />
<circle cx="150.8" cy="226.4" r="0.7" fill="#fff" />
<text x="139.6" y="195.2" font-size="7" fill="#111" font-weight="normal" text-anchor="start" >ε<tspan font-size="3.2" dy="1">xx</tspan></text>
<text x="142.6" y="203.2" font-size="4" fill="#fff" font-weight="normal" text-anchor="start" >WSe<tspan font-size="2.2" dy="0.6">2</tspan></text>
<line x1="151.6" y1="204.4" x2="159.6" y2="213.6" stroke="#fff" stroke-width="0.45" />
<text x="147.6" y="235" font-size="4" fill="#fff" font-weight="normal" text-anchor="start" >WS<tspan font-size="2.2" dy="0.6">2</tspan></text>
<line x1="152" y1="230.6" x2="160" y2="218.4" stroke="#fff" stroke-width="0.45" />
<rect x="176" y="189.6" width="1.8" height="8.2" fill="#f0d020" />
<rect x="176" y="197.8" width="1.8" height="4.2" fill="#2ab0a0" />
<rect x="176" y="202" width="1.8" height="8" fill="#2a5cc0" />
<text x="179" y="191.6" font-size="1.9" fill="#d8f4ee" font-weight="normal" text-anchor="start" >2%</text>
<text x="179" y="200.2" font-size="1.9" fill="#d8f4ee" font-weight="normal" text-anchor="start" >0</text>
<text x="179" y="209.6" font-size="1.9" fill="#d8f4ee" font-weight="normal" text-anchor="start" >-2%</text>
<text x="176.6" y="233" font-size="1.9" fill="#d8f8f0" font-weight="normal" text-anchor="start" >500 nm</text>
<text x="178" y="235" font-size="1.7" fill="#d0f4ec" font-weight="normal" text-anchor="start" >strain</text>
<path d="M207 237.2L207 237.19L207.5 237.19L208 237.17L208.5 237.15L209 237.11L209.5 237.04L210 236.91L210.5 236.68L211 236.29L211.5 235.64L212 234.58L212.5 232.96L213 230.6L213.5 227.36L214 223.21L214.5 218.27L215 212.86L215.5 207.44L216 202.61L216.5 198.92L217 196.76L217.5 196.28L218 197.35L218.5 199.65L219 202.72L219.5 206.16L220 209.64L220.5 212.97L221 216.06L221.5 218.93L222 221.58L222.5 224.03L223 226.3L223.5 228.35L224 230.18L224.5 231.76L225 233.09L225.5 234.17L226 235.02L226.5 235.68L227 236.16L227.5 236.51L228 236.75L228.5 236.92L229 237.03L229.5 237.1L230 237.14L230.5 237.17L231 237.18L231.5 237.19L232 237.19L232.5 237.2L233 237.2L233 237.2Z" fill="#1fa8e6" />
<path d="M239 237.2L239 237.16L239.78 237.13L240.57 237.09L241.35 237.03L242.14 236.94L242.93 236.81L243.71 236.64L244.5 236.41L245.28 236.11L246.06 235.74L246.85 235.29L247.63 234.77L248.42 234.17L249.2 233.52L249.99 232.84L250.77 232.16L251.56 231.52L252.34 230.95L253.13 230.49L253.91 230.17L254.7 230.01L255.48 230.03L256.27 230.23L257.06 230.58L257.84 231.07L258.62 231.66L259.41 232.32L260.19 233L260.98 233.68L261.76 234.32L262.55 234.9L263.33 235.41L264.12 235.84L264.9 236.19L265.69 236.47L266.47 236.68L267.26 236.84L268.04 236.96L268.83 237.04L269.61 237.1L270.4 237.14L270.4 237.2Z" fill="#1fa8e6" />
<path d="M207 237.2L207.5 237.2L208 237.2L208.5 237.2L209 237.19L209.5 237.17L210 237.12L210.5 237L211 236.74L211.5 236.21L212 235.23L212.5 233.57L213 231.02L213.5 227.46L214 222.99L214.5 217.99L215 213.18L215.5 209.38L216 207.38L216.5 207.61L217 210.02L217.5 214.09L218 219L218.5 223.94L219 228.25L219.5 231.61L220 233.97L220.5 235.47L221 236.34L221.5 236.81L222 237.03L222.5 237.13L223 237.18L223.5 237.19L224 237.2L224.5 237.2L225 237.2L225.5 237.2L226 237.2L226.5 237.2L227 237.2" fill="none" stroke="#e8742a" stroke-width="0.55"/>
<path d="M208 237.18L208.62 237.16L209.25 237.11L209.88 237.03L210.5 236.89L211.12 236.65L211.75 236.27L212.38 235.68L213 234.82L213.62 233.61L214.25 232.01L214.88 230L215.5 227.61L216.12 224.93L216.75 222.13L217.38 219.42L218 217.07L218.62 215.31L219.25 214.35L219.88 214.29L220.5 215.15L221.12 216.82L221.75 219.12L222.38 221.79L223 224.6L223.62 227.3L224.25 229.73L224.88 231.79L225.5 233.44L226.12 234.69L226.75 235.59L227.38 236.21L228 236.61L228.62 236.87L229.25 237.02L229.88 237.11L230.5 237.15L231.12 237.18L231.75 237.19L232.38 237.2L233 237.2" fill="none" stroke="#f0a030" stroke-width="0.55"/>
<path d="M239 237.16L239.78 237.13L240.57 237.09L241.35 237.03L242.14 236.94L242.93 236.81L243.71 236.64L244.5 236.41L245.28 236.11L246.06 235.74L246.85 235.29L247.63 234.77L248.42 234.17L249.2 233.52L249.99 232.84L250.77 232.16L251.56 231.52L252.34 230.95L253.13 230.49L253.91 230.17L254.7 230.01L255.48 230.03L256.27 230.23L257.06 230.58L257.84 231.07L258.62 231.66L259.41 232.32L260.19 233L260.98 233.68L261.76 234.32L262.55 234.9L263.33 235.41L264.12 235.84L264.9 236.19L265.69 236.47L266.47 236.68L267.26 236.84L268.04 236.96L268.83 237.04L269.61 237.1L270.4 237.14" fill="none" stroke="#3a3ab0" stroke-width="0.45"/>
<path d="M201 189 V237.2 H270.4" stroke="#444" stroke-width="0.45" fill="none"/>
<line x1="201" y1="237.2" x2="270.4" y2="237.2" stroke="#e8742a" stroke-width="0.4" />
<text x="199.6" y="190.6" font-size="1.9" fill="#555" font-weight="normal" text-anchor="end" >400</text>
<text x="199.6" y="238" font-size="1.9" fill="#555" font-weight="normal" text-anchor="end" >0</text>
<text x="0" y="0" font-size="4.3" fill="#444" font-weight="normal" text-anchor="middle" transform="translate(198.6 214) rotate(-90)">Counts</text>
<text x="204.4" y="241.2" font-size="3.3" fill="#555" font-weight="normal" text-anchor="middle" >-1</text>
<text x="215" y="241.2" font-size="3.3" fill="#555" font-weight="normal" text-anchor="middle" >0</text>
<text x="225.6" y="241.2" font-size="3.3" fill="#555" font-weight="normal" text-anchor="middle" >1</text>
<text x="236.2" y="241.2" font-size="3.3" fill="#555" font-weight="normal" text-anchor="middle" >2</text>
<text x="246.8" y="241.2" font-size="3.3" fill="#555" font-weight="normal" text-anchor="middle" >3</text>
<text x="237" y="245.6" font-size="4.2" fill="#444" font-weight="normal" text-anchor="middle" >strain (%)</text>
<text x="204.6" y="204.8" font-size="3.5" fill="#e85a20" font-weight="bold" text-anchor="start" >WS<tspan font-size="1.8" dy="0.5">2</tspan></text>
<line x1="211" y1="205.6" x2="214.6" y2="210.4" stroke="#e85a20" stroke-width="0.4" />
<text x="220.4" y="206.2" font-size="3" fill="#f08a20" font-weight="bold" text-anchor="start" >strained WS<tspan font-size="1.6" dy="0.5">2</tspan></text>
<line x1="226" y1="207.4" x2="221.6" y2="214.6" stroke="#f08a20" stroke-width="0.4" />
<text x="244.4" y="222.2" font-size="3" fill="#3a3ab0" font-weight="bold" text-anchor="start" >strained WSe<tspan font-size="1.6" dy="0.5">2</tspan></text>
<circle cx="254.2" cy="227.2" r="0.6" fill="#22227a" />
<rect x="240" y="189.6" width="29.2" height="23.4" fill="#fff" stroke="#888" stroke-width="0.35" stroke-dasharray="0.8 0.6"/>
<path d="M242 212.4L242 212.38L242.62 212.36L243.25 212.32L243.88 212.26L244.5 212.15L245.12 211.97L245.75 211.7L246.38 211.29L247 210.71L247.62 209.92L248.25 208.89L248.88 207.61L249.5 206.09L250.12 204.37L250.75 202.55L251.38 200.74L252 199.08L252.62 197.73L253.25 196.81L253.88 196.41L254.5 196.58L255.12 197.3L255.75 198.5L256.38 200.05L257 201.82L257.62 203.65L258.25 205.42L258.88 207.03L259.5 208.41L260.12 209.54L260.75 210.42L261.38 211.08L262 211.55L262.62 211.87L263.25 212.09L263.88 212.22L264.5 212.3L265.12 212.35L265.75 212.37L266.38 212.39L267 212.39L267 212.4Z" fill="#86d2f2" />
<path d="M251 211.7L251.16 211.43L251.32 211.08L251.48 210.64L251.64 210.09L251.8 209.42L251.96 208.63L252.12 207.71L252.28 206.67L252.44 205.53L252.6 204.3L252.76 203.02L252.92 201.73L253.08 200.47L253.24 199.31L253.4 198.28L253.56 197.44L253.72 196.83L253.88 196.48L254.04 196.41L254.2 196.62L254.36 197.1L254.52 197.83L254.68 198.77L254.84 199.88L255 201.09L255.16 202.37L255.32 203.66L255.48 204.92L255.64 206.11L255.8 207.21L255.96 208.18L256.12 209.04L256.28 209.77L256.44 210.38L256.6 210.87L256.76 211.26L256.92 211.57L257.08 211.81L257.24 211.98L257.4 212.11" fill="none" stroke="#4ab8ea" stroke-width="0.8"/>
<text x="254.6" y="194" font-size="3.2" fill="#222" font-weight="bold" text-anchor="middle" >σ= 0.18%</text>
<text x="239.4" y="191.4" font-size="1.6" fill="#666" font-weight="normal" text-anchor="end" >100</text>
<text x="242" y="215.4" font-size="1.7" fill="#666" font-weight="normal" text-anchor="start" >1.4</text>
<text x="264" y="215.4" font-size="1.7" fill="#666" font-weight="normal" text-anchor="start" >2</text>
<path d="M50 291.6L50 291.46L50.4 291.39L50.79 291.31L51.19 291.19L51.58 291.03L51.98 290.82L52.38 290.56L52.77 290.21L53.17 289.77L53.56 289.19L53.96 288.44L54.35 287.44L54.75 286.1L55.15 284.29L55.54 281.9L55.94 278.81L56.33 274.98L56.73 270.45L57.12 265.45L57.52 260.35L57.92 255.65L58.31 251.9L58.71 249.6L59.1 249.06L59.5 250.37L59.9 253.31L60.29 257.47L60.69 262.32L61.08 267.32L61.48 272.04L61.88 276.19L62.27 279.63L62.67 282.36L63.06 284.48L63.46 286.09L63.85 287.32L64.25 288.26L64.65 289L65.04 289.58L65.44 290.04L65.83 290.41L66.23 290.71L66.62 290.94L67.02 291.12L67.42 291.25L67.81 291.36L68.21 291.43L68.6 291.48L69 291.52L69 291.6Z" fill="#1fa8e6" />
<path d="M92 291.6L92 291.51L92.38 291.47L92.75 291.42L93.12 291.34L93.5 291.24L93.88 291.11L94.25 290.94L94.62 290.73L95 290.46L95.38 290.12L95.75 289.66L96.12 289.03L96.5 288.16L96.88 286.98L97.25 285.46L97.62 283.66L98 281.73L98.38 279.95L98.75 278.62L99.12 278.02L99.5 278.28L99.88 279.34L100.25 280.99L100.62 282.89L101 284.77L101.38 286.41L101.75 287.73L102.12 288.71L102.5 289.43L102.88 289.95L103.25 290.34L103.62 290.63L104 290.86L104.38 291.04L104.75 291.19L105.12 291.3L105.5 291.39L105.88 291.45L106.25 291.5L106.62 291.53L107 291.56L107 291.6Z" fill="#1fa8e6" />
<path d="M41 240.4 V291.6 H114.4" stroke="#444" stroke-width="0.45" fill="none"/>
<line x1="41" y1="291.6" x2="114.4" y2="291.6" stroke="#6a6ad0" stroke-width="0.5" />
<text x="39.6" y="242" font-size="1.9" fill="#555" font-weight="normal" text-anchor="end" >8000</text>
<text x="39.6" y="292.6" font-size="1.9" fill="#555" font-weight="normal" text-anchor="end" >0</text>
<text x="0" y="0" font-size="4.3" fill="#444" font-weight="normal" text-anchor="middle" transform="translate(37 266) rotate(-90)">Counts</text>
<text x="45.6" y="296" font-size="3.2" fill="#555" font-weight="normal" text-anchor="middle" >3.15</text>
<text x="69" y="296" font-size="3.2" fill="#555" font-weight="normal" text-anchor="middle" >3.2</text>
<text x="90" y="296" font-size="3.2" fill="#555" font-weight="normal" text-anchor="middle" >3.25</text>
<text x="107.6" y="296" font-size="3.2" fill="#555" font-weight="normal" text-anchor="middle" >3.3</text>
<text x="78.4" y="300.6" font-size="4.1" fill="#444" font-weight="normal" text-anchor="middle" >lattice constant (Å)</text>
<text x="55.4" y="247.6" font-size="5" fill="#222" font-weight="normal" text-anchor="start" >WS<tspan font-size="2.6" dy="0.8">2</tspan></text>
<text x="93.6" y="277.6" font-size="5" fill="#222" font-weight="normal" text-anchor="start" >WSe<tspan font-size="2.6" dy="0.8">2</tspan></text>
<rect x="83" y="241.6" width="30.2" height="26" fill="#fff" stroke="#888" stroke-width="0.35" stroke-dasharray="0.8 0.6"/>
<path d="M85 267L85 267L85.65 266.99L86.3 266.98L86.95 266.95L87.6 266.9L88.25 266.8L88.9 266.63L89.55 266.35L90.2 265.9L90.85 265.22L91.5 264.26L92.15 262.95L92.8 261.27L93.45 259.24L94.1 256.95L94.75 254.55L95.4 252.23L96.05 250.23L96.7 248.78L97.35 248.06L98 248.16L98.65 249.06L99.3 250.65L99.95 252.74L100.6 255.1L101.25 257.5L101.9 259.74L102.55 261.69L103.2 263.28L103.85 264.51L104.5 265.4L105.15 266.02L105.8 266.43L106.45 266.68L107.1 266.83L107.75 266.91L108.4 266.96L109.05 266.98L109.7 266.99L110.35 267L111 267L111 267Z" fill="#86d2f2" />
<path d="M95 265.84L95.14 265.46L95.27 264.98L95.41 264.41L95.54 263.71L95.67 262.89L95.81 261.94L95.95 260.87L96.08 259.69L96.22 258.4L96.35 257.04L96.48 255.63L96.62 254.22L96.75 252.85L96.89 251.57L97.03 250.43L97.16 249.46L97.3 248.72L97.43 248.23L97.56 248.01L97.7 248.08L97.84 248.43L97.97 249.04L98.11 249.9L98.24 250.96L98.38 252.18L98.51 253.51L98.65 254.9L98.78 256.31L98.92 257.7L99.05 259.03L99.19 260.27L99.32 261.4L99.45 262.42L99.59 263.3L99.73 264.06L99.86 264.7L100 265.22L100.13 265.65L100.27 265.99L100.4 266.26" fill="none" stroke="#5ac0ee" stroke-width="0.8"/>
<text x="98.6" y="245.8" font-size="3.1" fill="#222" font-weight="bold" text-anchor="middle" >σ = 0.3 pm</text>
<text x="82.4" y="243.2" font-size="1.5" fill="#666" font-weight="normal" text-anchor="end" >1000</text>
<text x="83.4" y="269.8" font-size="1.6" fill="#666" font-weight="normal" text-anchor="start" >3.17</text>
<text x="110.6" y="269.8" font-size="1.6" fill="#666" font-weight="normal" text-anchor="start" >3.2</text>
<rect x="138.4" y="249.6" width="49.6" height="50" fill="#19b3a0" />
<clipPath id="cpR"><path d="M160.6 257.2 Q162.6 255.8 164.6 257.2 L183 286.6 Q184 290.6 180.4 292 L146 292 Q142 290.6 143.2 286.6Z"/></clipPath>
<g clip-path="url(#cpR)"><rect x="140" y="255" width="46" height="40" fill="#2a9fc0"/>
<g filter="url(#bl05)">
<path d="M162.6 278L157.4 248.5L161.6 248L165.7 248.2L169.9 248.9L173.8 250.2L177.6 252Z" fill="#e8c628"/>
<path d="M162.6 278L177.6 252L181.1 254.4L184.2 257.2L186.9 260.4L189.1 263.9L190.8 267.7Z" fill="#ecc828"/>
<path d="M162.6 278L190.8 267.7L192 272.3L192.6 277L192.4 281.7L191.4 286.3L189.8 290.7Z" fill="#3a8ad8"/>
<path d="M162.6 278L189.8 290.7L188 293.9L185.9 296.9L183.4 299.6L180.7 302L177.6 304Z" fill="#2f6cc8"/>
<path d="M162.6 278L177.6 304L174.3 305.6L170.9 306.8L167.3 307.6L163.6 308L160 307.9Z" fill="#e8c628"/>
<path d="M162.6 278L160 307.9L156.4 307.3L152.8 306.4L149.4 305L146.3 303.2L143.3 301Z" fill="#2a62c0"/>
<path d="M162.6 278L143.3 301L140.7 298.5L138.3 295.6L136.4 292.5L134.8 289.2L133.6 285.8Z" fill="#e8c030"/>
<path d="M162.6 278L133.6 285.8L132.7 280.6L132.7 275.4L133.6 270.2L135.4 265.3L138 260.8Z" fill="#e0a828"/>
<path d="M162.6 278L138 260.8L141 257.2L144.5 254L148.5 251.5L152.8 249.6L157.4 248.5Z" fill="#2f9cc4"/>
<path d="M162.6 278L157.4 248.5L161.6 248L165.7 248.2L169.9 248.9L173.8 250.2L177.6 252Z" fill="#3a86d4"/>
<path d="M164.4 272.3L166.2 266.7" stroke="#e8c628" stroke-width="0.9" opacity="0.8"/>
<path d="M154.7 279.2L145.9 280.5" stroke="#2a62c0" stroke-width="1.3" opacity="0.8"/>
<path d="M157.5 272.5L150.1 264.6" stroke="#e8c628" stroke-width="0.9" opacity="0.8"/>
<path d="M167.4 287.1L171.2 294.3" stroke="#f0d030" stroke-width="0.6" opacity="0.8"/>
<path d="M160.6 281.5L156.5 288.9" stroke="#2f9cc4" stroke-width="1.3" opacity="0.8"/>
<path d="M157.7 279L153.2 279.8" stroke="#2a62c0" stroke-width="1.3" opacity="0.8"/>
<path d="M156.2 275.4L147.2 271.9" stroke="#e8c628" stroke-width="0.6" opacity="0.8"/>
<path d="M168.9 268L174.2 259.6" stroke="#8cc080" stroke-width="0.9" opacity="0.8"/>
<path d="M164.9 274.9L169.4 268.6" stroke="#e8c628" stroke-width="1.3" opacity="0.8"/>
<path d="M168 277.1L176.9 275.6" stroke="#3a8ad8" stroke-width="0.6" opacity="0.8"/>
<path d="M158 284.2L151.7 292.8" stroke="#f0d030" stroke-width="1.3" opacity="0.8"/>
<path d="M169.9 275.4L175.4 273.5" stroke="#f0d030" stroke-width="0.9" opacity="0.8"/>
<path d="M161.9 268.1L161.3 261.1" stroke="#e8c628" stroke-width="0.6" opacity="0.8"/>
<path d="M159.2 278.1L152.4 278.3" stroke="#f0d030" stroke-width="0.6" opacity="0.8"/>
<path d="M162.3 285.5L162 294" stroke="#f0d030" stroke-width="0.6" opacity="0.8"/>
<path d="M156.5 269.6L151.1 262.1" stroke="#2a62c0" stroke-width="0.9" opacity="0.8"/>
<path d="M159.5 277.4L151.8 275.9" stroke="#2f9cc4" stroke-width="0.9" opacity="0.8"/>
<path d="M159.4 276.4L152.5 272.8" stroke="#e8c628" stroke-width="1.3" opacity="0.8"/>
<path d="M166.4 278.2L177.8 278.8" stroke="#e8c628" stroke-width="0.9" opacity="0.8"/>
<path d="M166.5 277.4L177.2 275.6" stroke="#2a62c0" stroke-width="0.9" opacity="0.8"/>
<path d="M165.2 288.2L166.5 293.3" stroke="#2a62c0" stroke-width="0.6" opacity="0.8"/>
<path d="M172.9 281.4L181.8 284.3" stroke="#f0d030" stroke-width="1.3" opacity="0.8"/>
<path d="M160.6 269.8L158.7 262.1" stroke="#2f9cc4" stroke-width="1.3" opacity="0.8"/>
<path d="M164.7 274.7L169.5 267.1" stroke="#2f9cc4" stroke-width="1.3" opacity="0.8"/>
<path d="M161.4 285L160.5 290.4" stroke="#3a8ad8" stroke-width="0.9" opacity="0.8"/>
<path d="M165.5 279.4L170.1 281.6" stroke="#e8c628" stroke-width="1.3" opacity="0.8"/>
<path d="M168.1 272.7L174.9 266.2" stroke="#f0d030" stroke-width="0.6" opacity="0.8"/>
<path d="M169.6 283.7L174.4 287.6" stroke="#f0d030" stroke-width="1.3" opacity="0.8"/>
<path d="M159.3 268.7L157.4 263.4" stroke="#8cc080" stroke-width="0.9" opacity="0.8"/>
<path d="M165.7 273.4L172.1 264.2" stroke="#e8c628" stroke-width="1.3" opacity="0.8"/>
<path d="M157.6 288L153.1 297.2" stroke="#2f9cc4" stroke-width="1.3" opacity="0.8"/>
<path d="M169.9 278L179.9 278" stroke="#8cc080" stroke-width="1.3" opacity="0.8"/>
<path d="M156.5 282.8L147.2 290.1" stroke="#2f9cc4" stroke-width="0.9" opacity="0.8"/>
<path d="M173.3 276L183.9 274" stroke="#8cc080" stroke-width="0.9" opacity="0.8"/>
<path d="M167.5 275.5L171.8 273.3" stroke="#2a62c0" stroke-width="0.9" opacity="0.8"/>
<path d="M171 274L176.1 271.6" stroke="#3a8ad8" stroke-width="1.3" opacity="0.8"/>
<path d="M154.2 274.6L150 272.9" stroke="#e8c628" stroke-width="1.3" opacity="0.8"/>
<path d="M166.6 277L175.8 274.7" stroke="#2a62c0" stroke-width="0.9" opacity="0.8"/>
<path d="M165 269.5L166.9 263" stroke="#8cc080" stroke-width="1.3" opacity="0.8"/>
<path d="M161.7 269.8L160.9 262.8" stroke="#8cc080" stroke-width="0.9" opacity="0.8"/>
<circle cx="165" cy="279.29" r="1.94" fill="#e8c628" />
<circle cx="166.9" cy="279.31" r="1.38" fill="#9cc078" />
<circle cx="163.36" cy="274.89" r="2.18" fill="#9cc078" />
<circle cx="162.79" cy="278.01" r="2.14" fill="#e8c628" />
<circle cx="165.96" cy="276.18" r="1.51" fill="#44b0a8" />
<circle cx="159.28" cy="274.32" r="1.85" fill="#e8c628" />
<circle cx="165.59" cy="279.4" r="2.39" fill="#9cc078" />
<circle cx="162.17" cy="277.97" r="2.09" fill="#2a62c0" />
<circle cx="158.14" cy="276.81" r="1.59" fill="#9cc078" />
</g></g>
<path d="M160.6 257.2 Q162.6 255.8 164.6 257.2 L183 286.6 Q184 290.6 180.4 292 L146 292 Q142 290.6 143.2 286.6Z" fill="none" stroke="#19b3a0" stroke-width="0.8"/>
<path d="M161.4 275.4h0M164.1 287.4h0M155.2 279.4h0M154.6 275.6h0M172.4 272.7h0" stroke="#1b3a90" stroke-width="0.58" stroke-linecap="round" fill="none" opacity="0.7"/>
<path d="M159.3 270.6h0M172.6 286.4h0M174.9 284h0M175.4 285.9h0M166.3 285.6h0M157.4 276.7h0" stroke="#1b3a90" stroke-width="0.58" stroke-linecap="round" fill="none" opacity="0.83"/>
<path d="M174.2 273.6h0M172.4 286.4h0M174.9 277.8h0" stroke="#1b3a90" stroke-width="0.92" stroke-linecap="round" fill="none" opacity="0.57"/>
<path d="M172.6 270.5h0M168.4 273.6h0M174.6 281.7h0M157.6 275h0M153.7 291.2h0M165.7 282.2h0" stroke="#1b3a90" stroke-width="0.58" stroke-linecap="round" fill="none" opacity="0.57"/>
<path d="M158.2 278.6h0M165.7 287.4h0M171.1 276.9h0M170 280.6h0" stroke="#1b3a90" stroke-width="0.75" stroke-linecap="round" fill="none" opacity="0.7"/>
<path d="M162.5 273.4h0M156.7 275.2h0" stroke="#1b3a90" stroke-width="0.75" stroke-linecap="round" fill="none" opacity="0.57"/>
<path d="M157.6 287.5h0M165.1 273.6h0M158.9 271.1h0M169.7 272.2h0M168.8 288.4h0" stroke="#1b3a90" stroke-width="0.92" stroke-linecap="round" fill="none" opacity="0.83"/>
<path d="M160.6 290.8h0M159.7 274.9h0M165 285.2h0M154.6 291.4h0" stroke="#1b3a90" stroke-width="0.75" stroke-linecap="round" fill="none" opacity="0.83"/>
<path d="M170.5 271.4h0M166.1 282.3h0M170.2 280.4h0M159.4 271.6h0M170.2 273.2h0" stroke="#1b3a90" stroke-width="0.92" stroke-linecap="round" fill="none" opacity="0.7"/>
<text x="139.8" y="256.8" font-size="7" fill="#111" font-weight="normal" text-anchor="start" >ε<tspan font-size="3.2" dy="1">rot</tspan></text>
<rect x="153.4" y="285" width="17.2" height="7.4" fill="none" stroke="#555" stroke-width="0.4"/>
<path d="M170.6 285 L194.4 249.8 M170.6 292.4 L194.4 299.4" stroke="#444" stroke-width="0.35" fill="none"/>
<text x="140.6" y="294.6" font-size="1.9" fill="#d8f8f0" font-weight="normal" text-anchor="start" >500 nm</text>
<text x="142" y="296.8" font-size="1.7" fill="#d0f4ec" font-weight="normal" text-anchor="start" >rotation</text>
<rect x="194.6" y="249.6" width="64.8" height="50" fill="#2b93c4" />
<clipPath id="cpZ"><rect x="194.6" y="249.6" width="64.8" height="50"/></clipPath><g clip-path="url(#cpZ)">
<g filter="url(#bl1)">
<rect x="194" y="249" width="66" height="22" fill="#32a8b4"/><rect x="226" y="249" width="34" height="22" fill="#7cbc78" opacity="0.6"/>
<rect x="194" y="271" width="66" height="26" fill="url(#rotG)"/>
<path d="M194 272 H212 Q210 280 200 286 L194 288Z" fill="#2848ac" opacity="0.8"/>
<path d="M226 262 Q232 258 236 262 L234 274 H229Z" fill="#c8c44a"/>
<ellipse cx="204" cy="255" rx="6" ry="3" fill="#e8c628"/><ellipse cx="222" cy="267" rx="3.2" ry="3" fill="#f0cc20"/><ellipse cx="254" cy="254" rx="5" ry="4" fill="#e8c628"/><ellipse cx="241" cy="252" rx="4" ry="2" fill="#2a62c0"/><ellipse cx="212" cy="262" rx="6" ry="4" fill="#2a6cc8"/><ellipse cx="246" cy="264" rx="7" ry="4" fill="#3a9ac0"/><ellipse cx="199" cy="266" rx="4" ry="3.4" fill="#2a58b4"/><ellipse cx="233" cy="254" rx="3" ry="2.4" fill="#e0c430"/>
</g>
<rect x="194" y="296.4" width="66" height="4" fill="#27b0a4"/>
<path d="M196 270.6 H258" stroke="#20389a" stroke-width="1.3" stroke-dasharray="1.2 2.1"/>
<path d="M197.6 270.8 H258" stroke="#f0d020" stroke-width="1.1" stroke-dasharray="0.9 5.7"/>
</g>
<path d="M210.1 265.6h0M249.3 255.9h0M234.1 263h0M215.3 255.7h0M254.9 253.5h0M200.5 262.4h0M208.7 266.5h0M227.8 267.8h0M201 255.5h0M228.7 252.4h0M200.5 258h0M241.5 251.9h0M225.3 263.7h0M236.8 251.2h0M212.4 250.6h0M231.5 260h0M215.2 262.6h0M217.3 266.1h0M255.9 255.8h0M239.9 268.5h0M195.7 268.6h0M251.4 261.9h0" stroke="#e8d040" stroke-width="0.8" stroke-linecap="round" fill="none" opacity="0.5"/>
<path d="M211.8 265.2h0M196.4 263.6h0M207.8 261.4h0M231.6 254.2h0M250.7 268.1h0M226 262.8h0M258 251.9h0M220.7 252.7h0M227.5 261.5h0M229.9 265.7h0M246.9 267.6h0M219.9 259.9h0M252.1 269.5h0M221.8 269h0M220.9 253.2h0M256 256.8h0M245 269.2h0M202.5 264.4h0M209.3 265.5h0M228.1 259.7h0" stroke="#e8d040" stroke-width="0.6" stroke-linecap="round" fill="none" opacity="0.37"/>
<path d="M226.6 250.8h0M241.6 254.4h0M253.6 264.1h0M199.2 262.2h0M206.9 254.7h0M233 255.9h0M210.9 268.1h0M196.1 258.8h0M246.6 268.8h0M208.4 269h0M244.2 257.1h0M249.7 256.8h0M215.6 268h0M256.1 261.1h0M202.8 268.4h0M257.2 257.1h0M239.2 253.6h0M200.8 267.9h0M197.3 253.2h0M202.8 255.7h0M235.1 256.9h0M205.1 255.7h0" stroke="#e8d040" stroke-width="0.6" stroke-linecap="round" fill="none" opacity="0.63"/>
<path d="M227 265.6h0M203.1 261.8h0M222.7 253.8h0M196.3 266.5h0M243 258.7h0M230.8 254.4h0M222 251.2h0M240.3 257.2h0M202.4 252.9h0M242.9 268.8h0M252.6 268.1h0M221.9 258.9h0M204.2 253.1h0M215.8 251.4h0M198.1 264.2h0M226.4 261.9h0M247.1 260.1h0M238 255.4h0M218.3 266.9h0M209.9 257.6h0M251.3 267.5h0M195.4 258.9h0M225.9 261h0M224.9 251.8h0" stroke="#e8d040" stroke-width="0.6" stroke-linecap="round" fill="none" opacity="0.5"/>
<path d="M258.8 259.5h0M256.2 264.5h0M198.2 264.1h0M235.4 264.3h0M223 264.5h0M253.5 258.5h0M241.4 264.5h0M221.7 261.1h0M239.7 260h0M235.6 265.4h0M195.2 258.9h0M203.8 261.5h0M205.6 266.9h0M252.5 262h0M242.4 257.4h0M214.7 258h0M231 269.4h0M239.1 260.8h0M246.8 263h0M217.2 256.3h0M216.2 262.8h0M218.2 265.2h0M256.7 254h0M247.5 265h0M229.4 256.1h0M251.4 252.8h0M202.5 252.3h0M246 254.5h0M253.6 262.6h0" stroke="#e8d040" stroke-width="1" stroke-linecap="round" fill="none" opacity="0.5"/>
<path d="M208.1 253.9h0M219.8 254.8h0M207.9 256.6h0M217.7 262.5h0M202.1 252.5h0M251 269h0M215.5 260h0M202.5 267.4h0M205 250.6h0M235.2 251.1h0M231.4 256.6h0M207.8 257.4h0M258.9 252.5h0M220.3 250.6h0M240 254.1h0M218.2 256.9h0M251 258h0M241.2 257.5h0M225.5 260.3h0M230.6 255.7h0M204.1 258h0M223.6 265.9h0" stroke="#e8d040" stroke-width="0.8" stroke-linecap="round" fill="none" opacity="0.63"/>
<path d="M208.9 257.4h0M251.8 254.3h0M241.5 259.5h0M214.7 257.6h0M219 258.8h0M217.9 260.2h0M222.9 262.6h0M209.6 251.1h0M217.7 262.8h0M247.4 258.8h0M243.5 267h0M207.3 265.2h0M232.8 265h0M206.9 267h0M237.2 254.7h0M208.7 262.4h0M200.3 260h0M242 260.3h0M230.1 265.9h0M227.2 266.3h0M246.3 251.4h0M196.5 264.1h0M252.5 251.7h0" stroke="#e8d040" stroke-width="1" stroke-linecap="round" fill="none" opacity="0.63"/>
<path d="M199.9 257.6h0M206.7 263.4h0M221.6 256.5h0M240.5 257.6h0M221.1 257h0M206 254h0M227.9 257.7h0M211.8 261.9h0M218.8 260.2h0M231.2 268.1h0M257.2 251.8h0M236.3 261.6h0M199 263.4h0M219.4 264.1h0" stroke="#e8d040" stroke-width="0.8" stroke-linecap="round" fill="none" opacity="0.37"/>
<path d="M252.2 251h0M211.2 258.2h0M238.8 253.9h0M212.1 251.9h0M206.2 256.1h0M243 255.2h0M251.4 263h0M211.8 260.9h0M234 253.9h0M198.7 266.6h0M219.1 257.5h0M248.4 265.2h0M218.6 266.2h0M216.1 262.6h0M228.2 255.8h0M237.6 257.2h0M221 267.6h0M233.8 255.5h0M243.1 264.2h0M247.4 261.2h0M258.2 258.4h0M249.5 251.8h0M221.8 268.5h0M210.8 253.4h0" stroke="#e8d040" stroke-width="1" stroke-linecap="round" fill="none" opacity="0.37"/>
<path d="M231.5 258.6h0M258.3 263.8h0M227.6 252.1h0M232 263.4h0M246.7 261.4h0M228.9 264h0M253.1 269.1h0M251.1 256.2h0M228.2 260.2h0M257.8 258.9h0M233.4 250.9h0M243.5 256.5h0M235.1 258.3h0M234.6 254.3h0" stroke="#c8cc50" stroke-width="0.6" stroke-linecap="round" fill="none" opacity="0.37"/>
<path d="M242.3 256.1h0M247.6 250.6h0M258.1 254.4h0M237.5 257h0M255.8 254.4h0M239.2 264.5h0M247.9 258.3h0M243.8 261h0M242.6 261.5h0M243.2 250.6h0" stroke="#c8cc50" stroke-width="0.8" stroke-linecap="round" fill="none" opacity="0.37"/>
<path d="M235.3 257.1h0M241 261.7h0M231.6 257.2h0M247.3 264.5h0M239.6 254.4h0M255.7 251.3h0M239.9 260h0M255.7 254.1h0M228.7 267.3h0M230.3 254.9h0M246.2 266.6h0M248.5 262.3h0M252.8 263.8h0" stroke="#c8cc50" stroke-width="0.8" stroke-linecap="round" fill="none" opacity="0.63"/>
<path d="M231 260.6h0M247.8 257h0M235.3 260.1h0M253.3 268.5h0M242.2 255.1h0M230.9 259.8h0M236.8 268.6h0M256 265.2h0M256.2 256.7h0M233.9 263h0M244.9 258.4h0M252.1 268h0M227.8 260.7h0M250.7 265.5h0M244.8 265.4h0M258.7 269.2h0M245 258.2h0M236.7 253.1h0M230.6 252.6h0M231 266.8h0M240.6 268.2h0M244.1 259.5h0M240.1 268.4h0M257.3 257.8h0M248.9 261.3h0" stroke="#c8cc50" stroke-width="1" stroke-linecap="round" fill="none" opacity="0.63"/>
<path d="M235.4 253.1h0M253.9 261.8h0M232.9 251h0M240.8 257.6h0M255.2 259.1h0M230.3 266.2h0M244.2 254h0M253.8 267.5h0M257.8 259.5h0M237.2 256.2h0M237.4 252.7h0M252.4 253.6h0M230.9 261.9h0M248.8 269.3h0M248.9 261.7h0" stroke="#c8cc50" stroke-width="1" stroke-linecap="round" fill="none" opacity="0.5"/>
<path d="M237.4 268.2h0M253.5 259.2h0M257.7 251.9h0M231.8 262.5h0M246.6 259.2h0M253.8 258.8h0M239.5 256.4h0M241.1 264.6h0M251.9 268.2h0M235.2 253h0M248.4 253.4h0M247 251.9h0M249.3 250.6h0M227.4 260.6h0" stroke="#c8cc50" stroke-width="1" stroke-linecap="round" fill="none" opacity="0.37"/>
<path d="M251.7 255.2h0M248.7 258.9h0M248.3 257.3h0M236.4 255.2h0M232.5 268.7h0M227.4 261.4h0M258.2 266.2h0M229.7 266.2h0M256 251.4h0M253.8 268.4h0M255.8 267.3h0M230 259.5h0M245.1 253.3h0M243.2 258.4h0M251.4 256.6h0M248 265.9h0M256.4 255.9h0M240.7 252.2h0M244.5 257.9h0" stroke="#c8cc50" stroke-width="0.6" stroke-linecap="round" fill="none" opacity="0.63"/>
<path d="M226.7 268.2h0M256.1 265.8h0M248.7 253h0M240.3 262.5h0M245 260h0M230.4 257.8h0M240.8 265.6h0M236.5 258.7h0M238.5 266.5h0M250.2 264.6h0M250 253.6h0M256.6 258h0M241.3 266.5h0M231 264.6h0M234.1 262.2h0" stroke="#c8cc50" stroke-width="0.6" stroke-linecap="round" fill="none" opacity="0.5"/>
<path d="M234.1 252.9h0M248 263.9h0M250.5 255.8h0M250.5 254.6h0M229.9 267.2h0M244.6 256.6h0M245.4 266.5h0M242.5 263.8h0M250.6 254.4h0M254.9 255.5h0M248.4 251h0M248.4 260h0M253.5 254.8h0M245.5 254.5h0M241.5 258.7h0" stroke="#c8cc50" stroke-width="0.8" stroke-linecap="round" fill="none" opacity="0.5"/>
<path d="M233.6 294.1h0M230.9 286.2h0M233.6 274.6h0M222.9 270.8h0M223.9 294.9h0" stroke="#d8cc40" stroke-width="0.92" stroke-linecap="round" fill="none" opacity="0.35"/>
<path d="M231.7 279.6h0M228.1 275.4h0M224.1 290.7h0M228.7 293.5h0M235.1 285.9h0M228 282.7h0M234.3 278.7h0M223.2 292.9h0" stroke="#d8cc40" stroke-width="0.75" stroke-linecap="round" fill="none" opacity="0.45"/>
<path d="M232.2 294h0M231.6 276.8h0M223.9 278.4h0M228.9 283.9h0M228.9 292.8h0M225.4 293.4h0M233.6 276.8h0M225 275h0" stroke="#d8cc40" stroke-width="0.58" stroke-linecap="round" fill="none" opacity="0.55"/>
<path d="M227.9 293.4h0M230.1 275.4h0M224.1 279.8h0M224.5 294.7h0M235.1 282.2h0M224.5 284.9h0M227.8 284.8h0" stroke="#d8cc40" stroke-width="0.75" stroke-linecap="round" fill="none" opacity="0.55"/>
<path d="M231.2 287.4h0M229.6 283.3h0M230.5 288.8h0M223.2 294.3h0M224.7 277.4h0M232.6 285.1h0M224.8 282h0" stroke="#d8cc40" stroke-width="0.92" stroke-linecap="round" fill="none" opacity="0.45"/>
<path d="M224.4 275.7h0M225 286.3h0M233.2 278.3h0M233.7 290.9h0M228.3 283.7h0" stroke="#d8cc40" stroke-width="0.75" stroke-linecap="round" fill="none" opacity="0.35"/>
<path d="M224.5 294h0M225.1 291.5h0M222.8 282.3h0M234.2 277.8h0M224.5 285.1h0M233.3 271.8h0M232 285.2h0M224.5 270.9h0" stroke="#d8cc40" stroke-width="0.92" stroke-linecap="round" fill="none" opacity="0.55"/>
<path d="M224.1 284.2h0M234.3 287.9h0M227.6 285.6h0M227.1 292.4h0" stroke="#d8cc40" stroke-width="0.58" stroke-linecap="round" fill="none" opacity="0.45"/>
<path d="M231.3 288.7h0M228.9 294h0M231.7 290.9h0M235.3 280.2h0M223 281.3h0M235 287.1h0M224.2 273.1h0M234.7 286.3h0" stroke="#d8cc40" stroke-width="0.58" stroke-linecap="round" fill="none" opacity="0.35"/>
<path d="M214 269.2h0M237.6 286.2h0M205.2 257.3h0M196.8 261.2h0M235.8 294.6h0M195.8 293.2h0M244 250.8h0M198.5 271.8h0M215.8 292.4h0M245.4 272.9h0M224.7 290.8h0M247.6 277.3h0M253.9 279.1h0M247.5 264.2h0M249.2 270.9h0M247.3 290.1h0M217.4 269.2h0M234.6 294h0M214.1 280.3h0M253.2 273.6h0M235.8 274.2h0M229.1 279.6h0M213.7 260.1h0M206.1 264.5h0M237.4 256.6h0M209.5 273.9h0M198.8 270.9h0M223.4 261.4h0M252.7 293.5h0M225.1 254.1h0M256 254.5h0M219.6 278.4h0M229.9 278.4h0M251.8 281.1h0M210.2 260h0M227 253.9h0M206.7 271.2h0M195.4 271.3h0M221.9 256.5h0M222.6 289.5h0M242.2 285.1h0M215.1 269.8h0M237 271.5h0M230.3 270.6h0M222.2 275.1h0M224.9 268.5h0M258.8 260.2h0M221.5 265.5h0M207.1 272.2h0M253.1 292.5h0M212.9 268.4h0" stroke="#2a50b0" stroke-width="0.6" stroke-linecap="round" fill="none" opacity="0.5"/>
<path d="M220.5 290.1h0M221.5 263.9h0M205.2 266.5h0M215.5 260.3h0M229.7 292.2h0M205.9 267.2h0M250.3 280.4h0M209.6 257.1h0M208.8 281.6h0M245.9 281.2h0M243.1 264.3h0M197.9 275.3h0M249.1 270.5h0M222.1 275.4h0M198.2 268.5h0M239.5 254.3h0M203 278.9h0M242.7 294h0M219 266.3h0M196.8 287.4h0M231.4 251.9h0M222.5 286.2h0M230.9 266.1h0M223.3 252.9h0M250.4 277h0M226.8 266.9h0" stroke="#2a50b0" stroke-width="0.8" stroke-linecap="round" fill="none" opacity="0.37"/>
<path d="M250.8 263h0M219.5 293.6h0M232.8 291.1h0M252.5 256h0M231.3 253.1h0M217.7 277.2h0M230.8 290.3h0M205.7 258.3h0M214.3 260.8h0M216.1 258.3h0M257 273.2h0M248.7 290.8h0M232.4 262.3h0M199.9 283.9h0M235.6 290.2h0M232.8 286.6h0M227.4 291.4h0M209 292.8h0M254.2 253.3h0M227.6 268.9h0M213 253.4h0M210.1 273.8h0M201.2 252.3h0M206.1 264.9h0M225.3 252.2h0M224.5 256h0M215.3 261.2h0M239.3 283.9h0M211 289.6h0M255.7 287.9h0M234.7 263.9h0M205.9 266.1h0M206.1 269.1h0M195.8 291.3h0M245.4 290h0M256.5 275.1h0M240.6 283.4h0M208.7 286.7h0M236.8 264.3h0M215.5 260.5h0M237.3 266.1h0M257.3 259.1h0" stroke="#2a50b0" stroke-width="0.8" stroke-linecap="round" fill="none" opacity="0.63"/>
<path d="M228.6 285h0M211.2 261.1h0M236.1 272.6h0M200.4 291.9h0M227.7 294.8h0M232.1 272h0M235 280.3h0M217.9 264.8h0M257.2 270.4h0M250.9 274.5h0M204.3 285.4h0M232.7 264.7h0M236.6 271.2h0M220.6 285.1h0M254.3 290.5h0M202.5 263.9h0M253.4 254.9h0M209.4 292.9h0M224.4 265.6h0M222.5 270.5h0M255.3 270.4h0M251.2 256.3h0M222 291.1h0M221 270.7h0M214.2 286.2h0M204.2 258.4h0M256.8 256h0M213 276.8h0M213.5 250.8h0M229.7 275.9h0M254.4 260.4h0M203.3 278.3h0M251.3 258.1h0M213.3 253h0M216.7 257h0" stroke="#2a50b0" stroke-width="1" stroke-linecap="round" fill="none" opacity="0.37"/>
<path d="M230.2 280.5h0M233.7 276h0M217.4 295.2h0M255.4 265.9h0M215.9 291.2h0M250.5 294.9h0M222.9 277.2h0M244.4 265.3h0M258.3 258.8h0M209.1 273.4h0M221.7 292h0M217.8 268.1h0M242.3 269.3h0M221.2 258.1h0M247.9 286.2h0M253.4 266.2h0M247.3 290h0M255.8 257.5h0M206.8 254.1h0M197.3 287.7h0M228.6 287.2h0M216.5 270.7h0M201.6 262.1h0M241.9 272.5h0M235.3 286.9h0M256.1 268.7h0M240.8 266.7h0M254.2 292h0M247.8 261.9h0M217.5 284.4h0M243.2 286h0M203.9 259.8h0M255.8 287.4h0M209.4 274.2h0M234.9 275.2h0M198 276.4h0M229.3 294.1h0M244.4 260.3h0M230.6 274.3h0M198.4 252.5h0M201.9 269.7h0M207.4 289.6h0M240.7 258.1h0M206.5 287.7h0M200 260.2h0M195.9 290.7h0M246.2 253.9h0M241.6 283.7h0M211.9 271.2h0M200.1 263.8h0M216.8 263.3h0M220 263.2h0M222.2 254.3h0M248.7 258.2h0M213.3 262.8h0M256.8 266.2h0M234 288.6h0M236.7 271.2h0M247.4 275.5h0M195.8 272.2h0M210.8 277.7h0M209.1 285h0" stroke="#2a50b0" stroke-width="1" stroke-linecap="round" fill="none" opacity="0.5"/>
<path d="M258 285.1h0M231.5 290.4h0M236.3 278.9h0M244.3 281h0M211.5 274.3h0M216.4 265.1h0M238 276.9h0M245.7 281.8h0M233.1 293h0M252.9 276.8h0M225.6 292.5h0M199.8 288.8h0M197.1 271.8h0M228.1 280.5h0M196.6 292.7h0M213.4 267.9h0M245.8 288.9h0M246.7 283.3h0M216.5 285.7h0M246.4 280.8h0M244.6 268.9h0M215.1 258.4h0M245.9 294.4h0M213.7 251h0M231.7 254.7h0M216.2 275.4h0M253 268.3h0M232.4 283.1h0M198.9 260.6h0M206 256.2h0M219.8 283.5h0M214 279.9h0M241.1 270.8h0M228.1 274.5h0M241.4 261.6h0M254.3 287.1h0M248.3 255.8h0M238 250.9h0M255.1 277.7h0M205.7 290.9h0M201.6 284.9h0M253.8 285h0M235.9 266.3h0M248.2 293.6h0M221 286.3h0M258.8 268.9h0M236.5 263.9h0" stroke="#2a50b0" stroke-width="0.6" stroke-linecap="round" fill="none" opacity="0.37"/>
<path d="M256.4 283.5h0M198.1 291.3h0M215.4 257.3h0M212.1 253.9h0M254.1 254h0M232.9 289.3h0M231.6 263.3h0M209 271.8h0M255 295h0M219.6 294h0M239.3 286h0M203.7 284.2h0M212 271.6h0M245.5 262.5h0M239.9 294h0M209.7 254.3h0M201 285.9h0M219.7 273.1h0M251.2 284.2h0M204.8 287.4h0M229.6 275.1h0M205.9 289.7h0M225.6 280.8h0M217.4 271h0M201.1 288.1h0M207.5 268.2h0M205.1 289.7h0M238 273.2h0M214.8 269.3h0M227.6 293h0M201.5 267.9h0M220.9 280.4h0M226.5 274.2h0M198.2 280.4h0M239.4 258.9h0M209.8 254.6h0M227.7 260.3h0M231.7 278.1h0M232.9 282.5h0M237.4 283.3h0" stroke="#2a50b0" stroke-width="1" stroke-linecap="round" fill="none" opacity="0.63"/>
<path d="M247.7 275.6h0M197.1 263.7h0M223.6 287.5h0M195.9 284.7h0M226.2 274.4h0M221.2 287.1h0M237.4 284.4h0M204 291.3h0M197.1 263h0M228.6 272.5h0M239.6 286h0M229.1 274.5h0M247.8 270h0M239.1 254.7h0M212.6 271.8h0M223 286.2h0M200.5 275.2h0M218.2 257.6h0M257.8 261.1h0M232.7 274.9h0M247.7 277.7h0M197.4 259.4h0M226.9 283.2h0M211.6 283.2h0M255.9 282.8h0M234.4 275.5h0M246.1 274.9h0M195.7 271.4h0M209.2 292.5h0M247 284.5h0M250.7 286.2h0M254.4 269.8h0M208.4 277.9h0M205.2 262.8h0M204.3 291h0M205.7 253.7h0M199.8 259.6h0M208.5 258.7h0M238.5 259.2h0M223 288.4h0" stroke="#2a50b0" stroke-width="0.6" stroke-linecap="round" fill="none" opacity="0.63"/>
<path d="M199.1 261.7h0M205 260.6h0M207.2 281.8h0M257.8 251.7h0M222.6 255.1h0M239.9 289.3h0M258.9 283h0M230.6 289.8h0M247 264.7h0M230.4 265h0M201.2 285.3h0M211.9 260h0M208.6 263.4h0M250.1 263h0M198.9 266.8h0M237.4 265.7h0M216.9 285.3h0M211.7 254h0M254.5 259h0M224.7 258.3h0M202 251.4h0M252.3 280.7h0M237.5 289.6h0M200.6 272.1h0M249.7 265.8h0M215.3 281.6h0M195.7 267.2h0M253.5 254.8h0M242.2 288.4h0M213 255.3h0M218.1 274.1h0M236.2 260.6h0M198.2 277.7h0M205.4 262.4h0M211.4 287.7h0M234.8 271.7h0M201 289.6h0" stroke="#2a50b0" stroke-width="0.8" stroke-linecap="round" fill="none" opacity="0.5"/>
<path d="M253.1 291.5h0M248.8 292.3h0M239.9 294.1h0M244.3 282.2h0M251.2 280h0M257.9 280.3h0M256.7 288.5h0M250.7 276.6h0M251.6 275.2h0M242.9 285.3h0M246.7 282.6h0M247.1 293.2h0M242.6 283h0M253.6 285.8h0M243.7 274.1h0M258.1 275.9h0" stroke="#40b0a0" stroke-width="0.92" stroke-linecap="round" fill="none" opacity="0.63"/>
<path d="M235.4 275.5h0M232.8 276h0M241.9 275.9h0M255.1 276.2h0M241.7 288.3h0M243.3 285.1h0M256.8 291.8h0M237.9 286.2h0M258.4 275.5h0M248.6 291.5h0M236.1 291.7h0M245.8 288.1h0M245.9 285.8h0M232.7 286.8h0M242.7 289.3h0M250.7 288.9h0" stroke="#40b0a0" stroke-width="0.58" stroke-linecap="round" fill="none" opacity="0.63"/>
<path d="M233.1 285.9h0M244.4 275.1h0M232.9 277.3h0M251.9 276.8h0M255.1 280.2h0M245.7 282.4h0M241.2 276.7h0M253 294.9h0M239.9 294h0M233.5 292.8h0M234.9 279.1h0M254.3 280.4h0M236.2 274h0M244 273.6h0" stroke="#40b0a0" stroke-width="0.92" stroke-linecap="round" fill="none" opacity="0.5"/>
<path d="M254.2 288.9h0M234.4 288.1h0M257.1 280.5h0M248.7 285.9h0M248.9 291.8h0M235.1 282.6h0M245.2 295.5h0M257.8 293.7h0M252.1 276.5h0M249.2 289.2h0M258.7 294.3h0M237.1 284.6h0M252.5 278.5h0M255.6 287.1h0M242.8 273.4h0M246.6 277.5h0M234.6 294.2h0M234.2 274.2h0M237.2 286.7h0M236.5 282.1h0M233.7 294.3h0M235.1 292.1h0M250.9 279.6h0M257 283.9h0M255 293.6h0M253.7 280.6h0M244.3 286.4h0" stroke="#40b0a0" stroke-width="0.92" stroke-linecap="round" fill="none" opacity="0.37"/>
<path d="M242 293.8h0M238.9 283.6h0M234.6 278.2h0M250.2 273.9h0M250.9 280.4h0M237.4 292.8h0M254.6 287.4h0M245.4 278.1h0M256.4 293.9h0M243.3 287.6h0M256 287.5h0M256.7 287.5h0M246.8 293.9h0M258.8 276.2h0M249.1 272.6h0M252.6 290h0M249.5 288.6h0M245.3 292.9h0M236.6 284.8h0" stroke="#40b0a0" stroke-width="0.75" stroke-linecap="round" fill="none" opacity="0.63"/>
<path d="M250.6 284.4h0M242.2 273.6h0M251.2 281.9h0M252.7 275.7h0M255.9 293.8h0M256.4 282.4h0M243.4 276.6h0M247.9 293.7h0M237.2 283.6h0M249.4 275h0M247.1 284.9h0M237.8 278.1h0M251.7 288h0M244.1 288.1h0M237.3 272.5h0" stroke="#40b0a0" stroke-width="0.75" stroke-linecap="round" fill="none" opacity="0.37"/>
<path d="M258.6 277h0M254 278.6h0M246.5 283.2h0M245.7 292.4h0M256.2 285.1h0M241.8 285h0M254.5 294.9h0M244.5 291h0M233.3 273.2h0M234 294.9h0M251.4 284.7h0M258.4 289h0" stroke="#40b0a0" stroke-width="0.75" stroke-linecap="round" fill="none" opacity="0.5"/>
<path d="M243.1 279.4h0M257.1 290.8h0M252.9 280h0M239.9 279.6h0M242.8 281.5h0M256.3 274.3h0M245.7 281.4h0M243.7 294.9h0M237.1 281.2h0M251.5 286.7h0M251.8 288.3h0" stroke="#40b0a0" stroke-width="0.58" stroke-linecap="round" fill="none" opacity="0.37"/>
<path d="M240.9 277h0M251.1 285.3h0M233.1 289.1h0M256.8 275.2h0M233.2 282.3h0M240.6 286.7h0M249.9 293.8h0M236.8 284.8h0M238.4 279.4h0M257.9 276.4h0M232.9 290.9h0M245.2 285.2h0M252.9 287.7h0M235.4 280.9h0M257.1 279h0M250 288h0M254.5 292.4h0M250.9 279.9h0M252.6 282.4h0M236.4 282h0" stroke="#40b0a0" stroke-width="0.58" stroke-linecap="round" fill="none" opacity="0.5"/>
<path d="M211.8 286.3h0M222 275.6h0M219.2 275.5h0M215.9 276.7h0M200.8 283.8h0M226 279.1h0M201.5 293.1h0M228.7 294.3h0M222 288.2h0M197.8 281.8h0M226.2 291.8h0M223.9 294.7h0M228.6 275.2h0M212.5 290.2h0" stroke="#2a60c0" stroke-width="0.75" stroke-linecap="round" fill="none" opacity="0.63"/>
<path d="M226.8 292.7h0M221.5 288.3h0M228.8 294.9h0M225 277.4h0M217.1 279.7h0M222.9 288.8h0M215.3 278.4h0M210.9 286.1h0M214.3 278.2h0M207.3 287.2h0M226.3 289.3h0M224.4 277.9h0M212.3 295.4h0M207.7 283.4h0M226.6 280h0M225 276.6h0M224.2 281.9h0M216.1 275.4h0" stroke="#2a60c0" stroke-width="0.92" stroke-linecap="round" fill="none" opacity="0.63"/>
<path d="M216.3 290.2h0M210.8 274.3h0M200.2 281.9h0M208.9 294.9h0M201 277h0M208.6 292.1h0M208.2 275.3h0M200.6 289.4h0M197.7 291.5h0M209.7 292.6h0M223.4 283.5h0M215.5 282.9h0M214.1 295.3h0" stroke="#2a60c0" stroke-width="0.58" stroke-linecap="round" fill="none" opacity="0.63"/>
<path d="M196 292h0M205.7 288.1h0M211.3 273h0M228.2 281.7h0M198.6 283.2h0M202.2 283h0M216.1 274.9h0M198 279.1h0M201.3 289.8h0M203.7 276.4h0M199.5 289h0M205.2 287.4h0M222.5 288.6h0M209.1 279.1h0M207.5 291.8h0M219.7 293.5h0" stroke="#2a60c0" stroke-width="0.92" stroke-linecap="round" fill="none" opacity="0.37"/>
<path d="M223 281.5h0M208.6 278.5h0M215.5 276.1h0M210.4 281.9h0M220.6 287h0M226.7 284.9h0M199.7 283.8h0M212.9 277.3h0M204.8 281.6h0M208 295.2h0M199.7 282.4h0M219.3 275.2h0M202.1 276.9h0M229 282.4h0" stroke="#2a60c0" stroke-width="0.58" stroke-linecap="round" fill="none" opacity="0.37"/>
<path d="M220.2 281.2h0M206.3 273.7h0M210.7 291.2h0M224 292.4h0M213.7 287.6h0M226.4 293.7h0M218.2 283.8h0M211.1 276.7h0M227.5 272.8h0M195.3 288.8h0M201.4 283.3h0M220.4 294.5h0M202.3 285.8h0M196.8 284.5h0M221.3 292.6h0M198.9 286h0" stroke="#2a60c0" stroke-width="0.92" stroke-linecap="round" fill="none" opacity="0.5"/>
<path d="M198.5 294.1h0M216.2 284.9h0M228.7 280.4h0M206.6 277.6h0M224 273.4h0M211.6 281.5h0M225.5 278h0M226.2 293.1h0M205.7 293.4h0M218.4 289.8h0M211.5 281.9h0M226.9 286.7h0M200.7 279h0M223.3 278.4h0M208.2 283.2h0M202.1 276.2h0M219.2 288.6h0M223.9 282.3h0M210.5 285.7h0" stroke="#2a60c0" stroke-width="0.75" stroke-linecap="round" fill="none" opacity="0.5"/>
<path d="M213.3 280.7h0M227.3 289.7h0M211.3 286.6h0M216.3 292.2h0M219.1 275h0M216.1 293.2h0M223.1 284.4h0M202.4 290.3h0M221.7 292.4h0M208.3 294.4h0M199.6 288.3h0" stroke="#2a60c0" stroke-width="0.75" stroke-linecap="round" fill="none" opacity="0.37"/>
<path d="M200.8 284h0M214.8 288.4h0M221.6 285.9h0M217.9 278.9h0M220.9 294.8h0M203 295.3h0M228.4 276.9h0M221.1 294.2h0M196.9 280.5h0" stroke="#2a60c0" stroke-width="0.58" stroke-linecap="round" fill="none" opacity="0.5"/>
<circle cx="231" cy="277.6" r="3" fill="none" stroke="#f4f4f4" stroke-width="0.55"/><circle cx="231" cy="285.6" r="3" fill="none" stroke="#f4f4f4" stroke-width="0.55"/>
<path d="M200 263 l-2 -2.4 M209.6 277 l-1.6 -2.6 M251 259.6 l2.2 -2.4" stroke="#111" stroke-width="0.7"/>
<circle cx="200.4" cy="263.4" r="0.7" fill="#111" />
<circle cx="210" cy="277.4" r="0.7" fill="#111" />
<circle cx="250.6" cy="260" r="0.7" fill="#111" />
<rect x="262" y="249.6" width="3.4" height="50" fill="url(#parula)" />
<text x="266.4" y="252" font-size="2.7" fill="#666" font-weight="normal" text-anchor="start" >0.01</text>
<text x="266.4" y="275.6" font-size="2.7" fill="#666" font-weight="normal" text-anchor="start" >0</text>
<text x="266.2" y="299.8" font-size="2.7" fill="#666" font-weight="normal" text-anchor="start" >-0.01</text>
<path d="M28 338 L35 333.4 L49 333.4 L56 338 L49 343.4 L35 343.4Z" fill="#ececec" stroke="#999" stroke-width="0.45"/>
<path d="M33 338.6 L37 335.6 L47 335.6 L51 338.6 L47 341.4 L37 341.4Z" fill="#d6d6d6" stroke="#888" stroke-width="0.4"/>
<line x1="30" y1="328" x2="30" y2="334" stroke="#f8a400" stroke-width="0.9" />
<path d="M29.1 329.2 L30 327.4 L30.9 329.2Z" fill="#f8c000"/>
<line x1="35.6" y1="327" x2="35.6" y2="334" stroke="#f8a400" stroke-width="0.9" />
<path d="M34.7 328.2 L35.6 326.4 L36.5 328.2Z" fill="#f8c000"/>
<line x1="47" y1="327" x2="47" y2="334" stroke="#f8a400" stroke-width="0.9" />
<path d="M46.1 328.2 L47 326.4 L47.9 328.2Z" fill="#f8c000"/>
<line x1="53.6" y1="329" x2="53.6" y2="336" stroke="#f8a400" stroke-width="0.9" />
<path d="M52.7 330.2 L53.6 328.4 L54.5 330.2Z" fill="#f8c000"/>
<line x1="30" y1="341" x2="30" y2="348" stroke="#f8a400" stroke-width="0.9" />
<path d="M29.1 342.2 L30 340.4 L30.9 342.2Z" fill="#f8c000"/>
<line x1="35.6" y1="344" x2="35.6" y2="351" stroke="#f8a400" stroke-width="0.9" />
<path d="M34.7 345.2 L35.6 343.4 L36.5 345.2Z" fill="#f8c000"/>
<line x1="47" y1="344" x2="47" y2="351" stroke="#f8a400" stroke-width="0.9" />
<path d="M46.1 345.2 L47 343.4 L47.9 345.2Z" fill="#f8c000"/>
<line x1="53.6" y1="341" x2="53.6" y2="348" stroke="#f8a400" stroke-width="0.9" />
<path d="M52.7 342.2 L53.6 340.4 L54.5 342.2Z" fill="#f8c000"/>
<text x="27.6" y="337" font-size="2" fill="#444" font-weight="bold" text-anchor="start" >A</text>
<text x="33.6" y="342" font-size="2" fill="#444" font-weight="bold" text-anchor="start" >C</text>
<text x="45.6" y="343.4" font-size="2" fill="#444" font-weight="bold" text-anchor="start" >C</text>
<text x="54.6" y="342.6" font-size="2" fill="#444" font-weight="bold" text-anchor="start" >B</text>
<text x="38" y="333.4" font-size="2" fill="#444" font-weight="bold" text-anchor="start" >B</text>
<circle cx="81.6" cy="339" r="13" fill="#dedede" stroke="#c4c4c4" stroke-width="0.5"/>
<circle cx="81.6" cy="339" r="8.2" fill="#ebebeb" stroke="#d2d2d2" stroke-width="0.4"/>
<circle cx="81.6" cy="339" r="4" fill="#f2f2f2" stroke="#dcdcdc" stroke-width="0.4"/>
<ellipse cx="91.2" cy="339" rx="1.3" ry="0.95" fill="#f88a10"/>
<circle cx="85.41" cy="341.2" r="0.7" fill="#f8cc10" />
<text x="93.1" y="339.7" font-size="1.9" fill="#444" font-weight="bold" text-anchor="start" >A</text>
<ellipse cx="86.4" cy="346.27" rx="1.3" ry="0.95" fill="#f88a10"/>
<circle cx="81.6" cy="343.4" r="0.7" fill="#f8cc10" />
<text x="87" y="349.23" font-size="1.9" fill="#444" font-weight="bold" text-anchor="start" >B</text>
<ellipse cx="76.8" cy="346.27" rx="1.3" ry="0.95" fill="#f88a10"/>
<circle cx="77.79" cy="341.2" r="0.7" fill="#f8cc10" />
<text x="74.8" y="349.23" font-size="1.9" fill="#444" font-weight="bold" text-anchor="start" >C</text>
<ellipse cx="72" cy="339" rx="1.3" ry="0.95" fill="#f88a10"/>
<circle cx="77.79" cy="336.8" r="0.7" fill="#f8cc10" />
<text x="68.7" y="339.7" font-size="1.9" fill="#444" font-weight="bold" text-anchor="start" >A</text>
<ellipse cx="76.8" cy="331.73" rx="1.3" ry="0.95" fill="#f88a10"/>
<circle cx="81.6" cy="334.6" r="0.7" fill="#f8cc10" />
<text x="74.8" y="330.17" font-size="1.9" fill="#444" font-weight="bold" text-anchor="start" >B</text>
<ellipse cx="86.4" cy="331.73" rx="1.3" ry="0.95" fill="#f88a10"/>
<circle cx="85.41" cy="336.8" r="0.7" fill="#f8cc10" />
<text x="87" y="330.17" font-size="1.9" fill="#444" font-weight="bold" text-anchor="start" >C</text>
<circle cx="81.6" cy="339" r="0.6" fill="#f8cc10" />
<rect x="102.3" y="306.4" width="82.2" height="59.6" fill="#260707" />
<clipPath id="cpP"><rect x="102.3" y="306.4" width="82.2" height="59.6"/></clipPath><g clip-path="url(#cpP)">
<path d="M105.5 350.8h0M125.7 335.2h0M123.7 336.5h0M114.9 323.7h0M142 351.6h0M155.4 315h0M182.5 344.9h0M144.9 348.9h0M160.5 311.2h0M161.5 338.2h0M132.9 351.6h0M154.8 323.7h0M103 319.5h0M129.3 327.3h0M123.4 342.7h0M156.2 317.3h0M114.4 365h0M144.6 341.4h0M105.7 323.2h0M157.8 307h0M133.7 308.7h0M131.8 312.8h0M126.3 309.5h0M125.7 346.7h0M141.7 352.2h0M109.6 364.7h0M163.4 364.3h0M105 351.9h0M164.5 359.1h0M128.3 334.3h0M130.2 341.1h0M112.8 315.4h0M164.8 338.1h0M160.1 332.6h0M103 345.6h0M125.1 310.1h0M121.4 336.6h0M119.2 317.4h0M166.8 317.9h0M120.9 308.7h0M128.9 330.8h0M148.8 330.8h0M128 323.5h0M141.7 340h0M127 334.8h0M106.4 362.1h0M165.3 319.9h0M181.2 360.1h0M136.1 316.7h0M148.9 353.7h0M144.4 314.6h0M115.3 321h0M136.7 345h0M126.3 308.5h0" stroke="#c01818" stroke-width="0.92" stroke-linecap="round" fill="none" opacity="0.38"/>
<path d="M162.2 365.4h0M183.1 359.5h0M130.4 333.5h0M122.5 333.9h0M111.7 343.8h0M133.2 346.5h0M182.4 315.1h0M175.4 347h0M164.8 346.9h0M114.8 339.7h0M120 355.9h0M126.9 329.4h0M143.1 309.2h0M180.2 308.5h0M145.1 352h0M152.4 351.5h0M175.5 315.4h0M129.1 346h0M112.2 340.4h0M145.5 362.8h0M143.6 362.2h0M162.1 349.2h0M136.2 312.3h0M179.6 322.9h0M181.8 313.5h0M141.6 326.7h0M155.8 352.8h0M112.1 324.9h0M165.3 307.6h0M169.5 335.6h0M139.1 363.5h0M149.9 316.2h0M103.3 362.9h0M105.8 312.8h0M140 329h0M168.6 363.7h0M169.9 321.4h0M181.5 340.2h0M157.5 336.2h0M157.9 350.7h0M107.9 353.4h0M116.5 319.6h0" stroke="#c01818" stroke-width="0.92" stroke-linecap="round" fill="none" opacity="0.55"/>
<path d="M120.1 309.3h0M159.5 326.5h0M148.1 347.9h0M178.1 314.9h0M123.8 345.4h0M137.4 341.7h0M166.8 311.2h0M133.7 312.1h0M173.9 329.6h0M113.7 349.6h0M144.5 359.3h0M135 358h0M142.9 362.2h0M120.2 325.4h0M142.6 346h0M109.6 353.3h0M142.7 307.9h0M172.4 328.1h0M168.3 340.6h0M152 349.6h0M173.7 356h0M105.9 348.2h0M130.9 333.8h0M103.1 356.3h0M138.9 326.9h0M132.6 364.4h0M157.7 357h0M180.8 346.5h0M150.5 313.1h0M166.8 341h0M176 315h0M117.5 354.9h0M169.5 365.1h0M123 307.4h0M166.2 308h0M148.2 310.8h0M182.8 342.6h0M129.7 363.9h0M122.1 337.9h0M117.4 330.6h0M133.4 324.3h0M106 343.2h0M139.4 352h0M147.5 309.1h0M172.6 312.2h0M178.3 360h0M127.3 322.5h0M127.1 323.2h0M162.2 359.2h0M106.9 355.2h0M139.8 335h0M146.5 318.7h0M183.8 359.2h0" stroke="#c01818" stroke-width="0.58" stroke-linecap="round" fill="none" opacity="0.55"/>
<path d="M123.9 352.3h0M119.5 356h0M174.7 329h0M128 331.1h0M160.7 312.2h0M144.4 325.7h0M112.7 344h0M177.6 344.8h0M172.7 346.9h0M147.9 343.4h0M125.7 352.2h0M169.2 360.5h0M124.8 339.6h0M128.9 317.8h0M181.3 360.8h0M162.3 357.5h0M152 307.7h0M118.4 345.2h0M172 329.8h0M120.4 329.4h0M142.1 357.3h0M117 309.1h0M170.1 364.6h0M151.2 364.6h0M159.2 358.3h0M182 320.5h0M126.2 363.7h0M133.2 306.9h0M115.1 329.5h0M149.1 344.6h0M136.8 313.8h0M123.6 314h0M105.9 357.6h0M178 309.9h0M136.7 347.8h0M139.7 317.6h0M165.9 332.5h0M176.6 364.6h0M175 328.3h0M159.8 347.5h0M169.1 365.5h0M144.3 360.1h0" stroke="#c01818" stroke-width="0.58" stroke-linecap="round" fill="none" opacity="0.38"/>
<path d="M104.1 345.9h0M150.4 359.3h0M164.5 328.1h0M178.7 336.2h0M130.1 349.4h0M115.2 360.3h0M139.9 347.1h0M166.2 350.9h0M163.2 327.9h0M153.5 318.4h0M147.4 360.3h0M176.6 333.4h0M121 357.6h0M166.3 344.4h0M139.9 335.3h0M135.6 340.7h0M118.8 343.9h0M167.8 356.3h0M151.4 325h0M171 341.5h0M163.6 315.9h0M135.6 326.8h0M168.5 362.6h0M134.3 347h0M131.7 313.4h0M146.8 337.1h0M166.9 324.3h0M131.3 312h0M172.2 328.3h0M143.7 317.8h0M120.9 323.9h0M126.6 309.8h0M177.1 365.3h0M172.5 351.9h0M165.8 326.1h0M173.9 362.5h0M136.7 331.9h0M156.8 363.1h0M152.5 320.1h0M177.9 360.8h0M157.1 312h0M114.9 332.9h0M143.3 321.3h0M128.4 359.7h0M183.6 356.6h0M149.5 308.3h0M131.2 363.5h0M165.2 327h0" stroke="#c01818" stroke-width="0.92" stroke-linecap="round" fill="none" opacity="0.72"/>
<path d="M139.2 313.4h0M174.2 319.9h0M154 340.5h0M113.7 349.3h0M130.9 351.7h0M111.5 310.8h0M171.8 327.4h0M114.6 332.8h0M132.5 319.8h0M147.7 327.9h0M161.7 332.8h0M119.1 343.1h0M125.3 332.5h0M155.5 311.9h0M113.4 329h0M171.1 326.5h0M158.5 327h0M150.9 328h0M121.3 354h0M139.8 362.3h0M125.8 343.8h0M144.2 310.1h0M174.7 342.7h0M128.8 329.5h0M157 346.1h0M171.3 330.9h0M119.1 334.6h0M152.3 325.8h0M126.1 313.1h0M143.8 319.9h0M142.8 352.7h0M113.7 307.8h0M149.9 344.6h0M145.1 324.2h0M138 341.5h0M160.5 348.5h0M114.9 337.6h0M141.5 311.2h0M163.9 348.7h0M172.4 317h0M110.2 337.1h0M162.5 334.9h0M150.8 333.9h0" stroke="#c01818" stroke-width="0.75" stroke-linecap="round" fill="none" opacity="0.72"/>
<path d="M118 319.4h0M150.8 315.9h0M127.6 331.7h0M120 331h0M147.9 333.9h0M134 326.1h0M161.6 325.3h0M155 310.6h0M144.9 365.5h0M153.1 355h0M180.9 362.1h0M134.7 332.2h0M117.9 333.3h0M125.4 349.7h0M183.2 335h0M182.4 351.2h0M136.7 308.8h0M156.4 320.1h0M181.2 311.7h0M153.7 350.5h0M183.6 342.2h0M115.5 324.9h0M139.9 350h0M167.8 321h0M169.3 354h0M154.7 364.4h0M108.3 345.1h0M158.9 339.4h0M148.8 338.4h0M138.7 319.2h0M157.1 316.6h0M178.9 339.3h0M158.3 330.1h0M177.8 317.7h0M145.1 322.8h0M149.8 321.2h0M113.7 360h0M182.8 334h0M147.9 340.3h0M169.7 345.1h0M116.6 339.1h0M166 358.4h0M112.7 343.5h0M158.3 314.1h0M109.6 347.2h0M177.4 323.4h0M177.9 339h0M162.4 319.8h0M144.2 358h0M117.2 361.7h0M147.5 334.5h0M177.8 321.3h0M161.3 341.7h0M157.6 318.1h0M153.6 323.2h0M165.8 332.5h0M160.4 335.7h0" stroke="#c01818" stroke-width="0.58" stroke-linecap="round" fill="none" opacity="0.72"/>
<path d="M108.8 333.7h0M165.5 309.9h0M120.8 310.4h0M160.7 356.9h0M169.2 346.2h0M132 313.1h0M177.9 347.6h0M112.3 344h0M103.1 364.7h0M144.8 353.2h0M182.5 322.5h0M173 343.8h0M114.3 365.3h0M170.7 312.7h0M142 323.8h0M115.1 316.9h0M140.3 335.3h0M108.7 359.9h0M177.9 311.5h0M163.9 342.6h0M110.5 313.4h0M150.4 328.9h0M179.5 345.9h0M152 321.8h0M125.8 342.2h0M176.6 329.2h0M175.9 348.3h0M130.9 337.4h0M138 337.8h0M161.4 333.3h0M137.7 345.2h0M105.8 336.9h0M121.5 334.2h0M109.2 345h0M110.9 314.5h0M154.6 364.2h0M157.8 358.2h0M180.6 308.7h0M158.1 350.7h0M158.4 341.3h0" stroke="#c01818" stroke-width="0.75" stroke-linecap="round" fill="none" opacity="0.38"/>
<path d="M126.4 309.3h0M145.1 327.7h0M180.7 349.1h0M133 359h0M170.7 349.6h0M173.3 308.7h0M149 342.7h0M181.4 312.7h0M105.3 307.5h0M152.6 323.9h0M128.7 338.3h0M179.2 333h0M137.5 307.9h0M182.2 310.1h0M126.7 316.1h0M148.5 323.5h0M151.4 318.9h0M116.9 359.8h0M159.4 311.9h0M120.9 325.3h0M114.4 363.8h0M114.4 341.3h0M150.4 332.1h0M180 328.8h0M120.4 327.6h0M111.8 307.8h0M118.6 325.8h0M112.9 354.1h0M167.5 336.1h0M136.7 314.9h0M109.1 337.3h0M151.5 307.7h0M105.8 360.4h0M102.8 314.8h0M131.8 315.3h0M142.2 311.3h0M142.6 359.2h0M173 336.8h0M119.7 318.2h0M110.4 346.8h0M102.8 329.4h0" stroke="#c01818" stroke-width="0.75" stroke-linecap="round" fill="none" opacity="0.55"/>
<path d="M153.3 344.1L154.5 335.8M142.7 343.5L142.4 337.1" stroke="#e01818" stroke-width="0.6" opacity="0.7" stroke-linecap="round" fill="none"/>
<path d="M154.5 335.8L155.6 328.9" stroke="#a81010" stroke-width="0.6" opacity="0.7" stroke-linecap="round" fill="none"/>
<path d="M107 345.6L104.8 342.4M115.3 345.6L112.2 339.5" stroke="#f8b818" stroke-width="0.5" opacity="0.6" stroke-linecap="round" fill="none"/>
<path d="M104.8 342.4L103 339.8M112.2 339.5L109.6 334.5" stroke="#f8b020" stroke-width="0.5" opacity="0.6" stroke-linecap="round" fill="none"/>
<path d="M120.4 345.3L116.3 333.6M127 345.1L123.7 335.2" stroke="#e85010" stroke-width="0.4" opacity="0.8" stroke-linecap="round" fill="none"/>
<path d="M116.3 333.6L113 324" stroke="#f08010" stroke-width="0.4" opacity="0.8" stroke-linecap="round" fill="none"/>
<path d="M113.1 346L110.7 341" stroke="#f0a010" stroke-width="0.6" opacity="0.7" stroke-linecap="round" fill="none"/>
<path d="M110.7 341L108.7 337" stroke="#f8b020" stroke-width="0.6" opacity="0.7" stroke-linecap="round" fill="none"/>
<path d="M180.7 344.7L181.8 342.8" stroke="#e82090" stroke-width="0.7" opacity="1.0" stroke-linecap="round" fill="none"/>
<path d="M181.8 342.8L182.7 341.3" stroke="#d010c0" stroke-width="0.7" opacity="1.0" stroke-linecap="round" fill="none"/>
<path d="M123.7 335.2L121 327.2" stroke="#e8a018" stroke-width="0.4" opacity="0.8" stroke-linecap="round" fill="none"/>
<path d="M169.1 344.8L172.4 335.2" stroke="#e02040" stroke-width="0.3" opacity="1.0" stroke-linecap="round" fill="none"/>
<path d="M172.4 335.2L175.2 327.3" stroke="#c010a0" stroke-width="0.3" opacity="1.0" stroke-linecap="round" fill="none"/>
<path d="M166.6 345.1L169.1 337.7" stroke="#e01850" stroke-width="0.4" opacity="1.0" stroke-linecap="round" fill="none"/>
<path d="M169.1 337.7L171.1 331.7" stroke="#9020c0" stroke-width="0.4" opacity="1.0" stroke-linecap="round" fill="none"/>
<path d="M118.7 344.1L114.5 332.8" stroke="#f07010" stroke-width="0.4" opacity="0.8" stroke-linecap="round" fill="none"/>
<path d="M114.5 332.8L111.1 323.6" stroke="#d84010" stroke-width="0.4" opacity="0.8" stroke-linecap="round" fill="none"/>
<path d="M165.6 345.7L170.4 331.9" stroke="#d01080" stroke-width="0.5" opacity="1.0" stroke-linecap="round" fill="none"/>
<path d="M170.4 331.9L174.3 320.7" stroke="#c010a0" stroke-width="0.5" opacity="1.0" stroke-linecap="round" fill="none"/>
<path d="M119.7 344.7L116.8 338.1" stroke="#f07010" stroke-width="0.5" opacity="0.7" stroke-linecap="round" fill="none"/>
<path d="M116.8 338.1L114.4 332.6M116.4 333.9L112.7 324" stroke="#d84010" stroke-width="0.5" opacity="0.7" stroke-linecap="round" fill="none"/>
<path d="M128.5 345.6L125.1 335" stroke="#f02020" stroke-width="0.4" opacity="0.6" stroke-linecap="round" fill="none"/>
<path d="M125.1 335L122.3 326.4M151.3 339.2L151.6 335.4M158.7 337.2L160 331" stroke="#a81010" stroke-width="0.4" opacity="0.6" stroke-linecap="round" fill="none"/>
<path d="M150.9 343.9L151.3 339.2M133.9 343.7L132.8 335" stroke="#e01818" stroke-width="0.4" opacity="0.6" stroke-linecap="round" fill="none"/>
<path d="M182.3 344.6L183.2 343M170.8 343.6L173.7 336.7" stroke="#d020c8" stroke-width="0.4" opacity="0.7" stroke-linecap="round" fill="none"/>
<path d="M183.2 343L183.9 341.7" stroke="#d010c0" stroke-width="0.4" opacity="0.7" stroke-linecap="round" fill="none"/>
<path d="M107.6 344.9L105 341.3" stroke="#e87810" stroke-width="0.7" opacity="0.8" stroke-linecap="round" fill="none"/>
<path d="M105 341.3L102.8 338.3M112.6 338.4L110.6 334.2" stroke="#f8b020" stroke-width="0.7" opacity="0.8" stroke-linecap="round" fill="none"/>
<path d="M142.3 344.2L142.1 340.1" stroke="#c81010" stroke-width="0.5" opacity="1.0" stroke-linecap="round" fill="none"/>
<path d="M142.1 340.1L142 336.8" stroke="#d01414" stroke-width="0.5" opacity="1.0" stroke-linecap="round" fill="none"/>
<path d="M180.5 344.4L181.8 342.2M180.2 344.5L181.8 342.1" stroke="#e010b0" stroke-width="0.4" opacity="0.9" stroke-linecap="round" fill="none"/>
<path d="M181.8 342.2L182.9 340.4M183.1 342.8L183.7 341.9" stroke="#a020e0" stroke-width="0.4" opacity="0.9" stroke-linecap="round" fill="none"/>
<path d="M173.1 345.1L177.2 336.5" stroke="#e82090" stroke-width="0.6" opacity="0.7" stroke-linecap="round" fill="none"/>
<path d="M177.2 336.5L180.6 329.5M180.9 340.6L182.6 337.6" stroke="#d010c0" stroke-width="0.6" opacity="0.7" stroke-linecap="round" fill="none"/>
<path d="M159.9 345.3L161.6 337.3" stroke="#d01080" stroke-width="0.6" opacity="0.8" stroke-linecap="round" fill="none"/>
<path d="M161.6 337.3L163 330.7M164.8 334.5L166.4 326.2" stroke="#e01868" stroke-width="0.6" opacity="0.8" stroke-linecap="round" fill="none"/>
<path d="M140.3 344L139.9 337.7" stroke="#f02020" stroke-width="0.7" opacity="0.7" stroke-linecap="round" fill="none"/>
<path d="M139.9 337.7L139.6 332.5M146.8 341.7L147 338.3" stroke="#e02828" stroke-width="0.7" opacity="0.7" stroke-linecap="round" fill="none"/>
<path d="M177.5 345.6L180.1 341.1" stroke="#d020c8" stroke-width="0.5" opacity="0.8" stroke-linecap="round" fill="none"/>
<path d="M180.1 341.1L182.2 337.4" stroke="#a020e0" stroke-width="0.5" opacity="0.8" stroke-linecap="round" fill="none"/>
<path d="M116.3 343.9L113.3 336.8" stroke="#e87810" stroke-width="0.6" opacity="0.9" stroke-linecap="round" fill="none"/>
<path d="M113.3 336.8L110.9 330.9" stroke="#f8b020" stroke-width="0.6" opacity="0.9" stroke-linecap="round" fill="none"/>
<path d="M116.7 344L113.1 336.1M126.7 344.7L123.9 332.6" stroke="#f07010" stroke-width="0.5" opacity="0.9" stroke-linecap="round" fill="none"/>
<path d="M113.1 336.1L110.2 329.6" stroke="#e8a018" stroke-width="0.5" opacity="0.9" stroke-linecap="round" fill="none"/>
<path d="M154.4 344.2L154.9 337.4" stroke="#c81010" stroke-width="0.6" opacity="0.6" stroke-linecap="round" fill="none"/>
<path d="M154.9 337.4L155.3 331.8" stroke="#d01414" stroke-width="0.6" opacity="0.6" stroke-linecap="round" fill="none"/>
<path d="M161 343.5L163.1 336.4" stroke="#e01850" stroke-width="0.7" opacity="0.8" stroke-linecap="round" fill="none"/>
<path d="M163.1 336.4L164.9 330.6" stroke="#e01868" stroke-width="0.7" opacity="0.8" stroke-linecap="round" fill="none"/>
<path d="M147.2 345L147.2 340.2" stroke="#c81010" stroke-width="0.6" opacity="0.7" stroke-linecap="round" fill="none"/>
<path d="M147.2 340.2L147.3 336.2M142.4 337.1L142.2 331.9M140 340.9L139.8 337.6" stroke="#d01414" stroke-width="0.6" opacity="0.7" stroke-linecap="round" fill="none"/>
<path d="M131.2 343.6L129.8 335.6M151.1 345.4L152 338.7M137 343.6L136.5 336.9" stroke="#f02020" stroke-width="0.5" opacity="0.7" stroke-linecap="round" fill="none"/>
<path d="M129.8 335.6L128.6 329M155.5 337.6L156.1 331.5M142.6 338.5L142.5 332.8M149.7 338L149.9 332.1M136.5 336.9L136.1 331.4" stroke="#d01414" stroke-width="0.5" opacity="0.7" stroke-linecap="round" fill="none"/>
<path d="M123.9 332.6L121.5 322.7M124.1 333.2L121.3 323M118.1 336.3L115.2 329.2" stroke="#f08010" stroke-width="0.5" opacity="0.9" stroke-linecap="round" fill="none"/>
<path d="M154.8 345.1L155.5 337.6M137.1 343.6L136.2 335.1" stroke="#c81010" stroke-width="0.5" opacity="0.7" stroke-linecap="round" fill="none"/>
<path d="M175.2 346L178.3 338.7" stroke="#e82090" stroke-width="0.4" opacity="0.9" stroke-linecap="round" fill="none"/>
<path d="M178.3 338.7L180.8 332.7M181.8 342.1L183 340.2M179.3 339.3L180.9 335.8" stroke="#d010c0" stroke-width="0.4" opacity="0.9" stroke-linecap="round" fill="none"/>
<path d="M148.5 344.9L149 339.6" stroke="#b01010" stroke-width="0.7" opacity="1.0" stroke-linecap="round" fill="none"/>
<path d="M149 339.6L149.5 335.3" stroke="#a81010" stroke-width="0.7" opacity="1.0" stroke-linecap="round" fill="none"/>
<path d="M152 338.7L152.8 333.3M156.3 336.7L157.2 330.1M140.4 340.9L140.4 336.7" stroke="#a81010" stroke-width="0.5" opacity="0.7" stroke-linecap="round" fill="none"/>
<path d="M141.4 345.7L141.2 340.3M148.3 343.6L148.6 340.7" stroke="#c81010" stroke-width="0.3" opacity="0.8" stroke-linecap="round" fill="none"/>
<path d="M141.2 340.3L141 335.9M148.6 340.7L148.8 338.3M130.8 334.6L128.9 326.8" stroke="#a81010" stroke-width="0.3" opacity="0.8" stroke-linecap="round" fill="none"/>
<path d="M125 343.7L122.1 333.5" stroke="#f07010" stroke-width="0.6" opacity="0.7" stroke-linecap="round" fill="none"/>
<path d="M122.1 333.5L119.7 325.1" stroke="#f08010" stroke-width="0.6" opacity="0.7" stroke-linecap="round" fill="none"/>
<path d="M146 345.2L145.9 340" stroke="#f02020" stroke-width="0.6" opacity="0.8" stroke-linecap="round" fill="none"/>
<path d="M145.9 340L145.8 335.7" stroke="#e02828" stroke-width="0.6" opacity="0.8" stroke-linecap="round" fill="none"/>
<path d="M105.8 345.4L104.1 343" stroke="#e87810" stroke-width="0.3" opacity="0.9" stroke-linecap="round" fill="none"/>
<path d="M104.1 343L102.7 341" stroke="#f8b020" stroke-width="0.3" opacity="0.9" stroke-linecap="round" fill="none"/>
<path d="M137.4 344.6L136.8 337.5" stroke="#b01010" stroke-width="0.5" opacity="0.9" stroke-linecap="round" fill="none"/>
<path d="M136.8 337.5L136.2 331.8" stroke="#a81010" stroke-width="0.5" opacity="0.9" stroke-linecap="round" fill="none"/>
<path d="M118.7 345.3L116.3 339" stroke="#e85010" stroke-width="0.6" opacity="0.8" stroke-linecap="round" fill="none"/>
<path d="M116.3 339L114.3 333.8" stroke="#d84010" stroke-width="0.6" opacity="0.8" stroke-linecap="round" fill="none"/>
<path d="M155.3 344.8L156.3 336.7" stroke="#b01010" stroke-width="0.5" opacity="0.7" stroke-linecap="round" fill="none"/>
<path d="M146.7 345.9L146.8 341.7" stroke="#e01818" stroke-width="0.7" opacity="0.7" stroke-linecap="round" fill="none"/>
<path d="M137.6 345.8L136.9 340.8" stroke="#e01818" stroke-width="0.5" opacity="0.9" stroke-linecap="round" fill="none"/>
<path d="M136.9 340.8L136.4 336.7" stroke="#d01414" stroke-width="0.5" opacity="0.9" stroke-linecap="round" fill="none"/>
<path d="M111.8 343.8L109 338.1" stroke="#f8b818" stroke-width="0.4" opacity="0.6" stroke-linecap="round" fill="none"/>
<path d="M109 338.1L106.8 333.4" stroke="#f8b020" stroke-width="0.4" opacity="0.6" stroke-linecap="round" fill="none"/>
<path d="M167.8 345.8L171.3 334.4" stroke="#e02040" stroke-width="0.6" opacity="0.7" stroke-linecap="round" fill="none"/>
<path d="M171.3 334.4L174.2 325" stroke="#e01868" stroke-width="0.6" opacity="0.7" stroke-linecap="round" fill="none"/>
<path d="M149.1 345.7L149.2 341.3M134.3 345.7L132.6 338.3" stroke="#e01818" stroke-width="0.6" opacity="0.8" stroke-linecap="round" fill="none"/>
<path d="M149.2 341.3L149.4 337.6" stroke="#a81010" stroke-width="0.6" opacity="0.8" stroke-linecap="round" fill="none"/>
<path d="M131.4 344.4L130.4 338.4M141.9 344.5L141.5 339.7" stroke="#f02020" stroke-width="0.5" opacity="0.6" stroke-linecap="round" fill="none"/>
<path d="M130.4 338.4L129.6 333.6" stroke="#e02828" stroke-width="0.5" opacity="0.6" stroke-linecap="round" fill="none"/>
<path d="M107.9 345.4L106.1 342.4" stroke="#f0a010" stroke-width="0.6" opacity="0.8" stroke-linecap="round" fill="none"/>
<path d="M106.1 342.4L104.7 339.9" stroke="#f8b020" stroke-width="0.6" opacity="0.8" stroke-linecap="round" fill="none"/>
<path d="M132.6 338.3L131.2 332.3" stroke="#d01414" stroke-width="0.6" opacity="0.8" stroke-linecap="round" fill="none"/>
<path d="M139.5 345L139.1 340.1" stroke="#e01818" stroke-width="0.6" opacity="0.6" stroke-linecap="round" fill="none"/>
<path d="M139.1 340.1L138.7 336" stroke="#e02828" stroke-width="0.6" opacity="0.6" stroke-linecap="round" fill="none"/>
<path d="M115 343.6L112.6 338.4" stroke="#f0a010" stroke-width="0.7" opacity="0.8" stroke-linecap="round" fill="none"/>
<path d="M169.3 345.7L172.7 337" stroke="#e01850" stroke-width="0.4" opacity="0.8" stroke-linecap="round" fill="none"/>
<path d="M172.7 337L175.4 329.9M160.6 332L161.9 327.4M161.9 327.4L162.9 323.6M158.9 332.9L159.6 328.2M159.6 328.2L160.2 324.3M162.6 322.3L163.8 318.2M163.8 318.2L164.8 314.8" stroke="#e01868" stroke-width="0.4" opacity="0.8" stroke-linecap="round" fill="none"/>
<path d="M131 345L129 337.3" stroke="#b01010" stroke-width="0.5" opacity="0.8" stroke-linecap="round" fill="none"/>
<path d="M129 337.3L127.3 331.1M142.2 342.4L141.9 339.6M143.1 341.4L143 337.7" stroke="#a81010" stroke-width="0.5" opacity="0.8" stroke-linecap="round" fill="none"/>
<path d="M149.2 344.1L149.4 341" stroke="#c81010" stroke-width="0.3" opacity="1.0" stroke-linecap="round" fill="none"/>
<path d="M149.4 341L149.5 338.5" stroke="#d01414" stroke-width="0.3" opacity="1.0" stroke-linecap="round" fill="none"/>
<path d="M141.8 344.1L141.1 338.9" stroke="#b01010" stroke-width="0.5" opacity="0.6" stroke-linecap="round" fill="none"/>
<path d="M141.1 338.9L140.6 334.7" stroke="#a81010" stroke-width="0.5" opacity="0.6" stroke-linecap="round" fill="none"/>
<path d="M169.1 344.1L171.6 337.8" stroke="#e01850" stroke-width="0.7" opacity="0.7" stroke-linecap="round" fill="none"/>
<path d="M171.6 337.8L173.6 332.6" stroke="#e01868" stroke-width="0.7" opacity="0.7" stroke-linecap="round" fill="none"/>
<path d="M178.8 344.3L180.9 340.6" stroke="#e010b0" stroke-width="0.6" opacity="0.7" stroke-linecap="round" fill="none"/>
<path d="M139.6 345.4L139.5 342.1M140.5 345.6L140 340.7" stroke="#c81010" stroke-width="0.3" opacity="0.7" stroke-linecap="round" fill="none"/>
<path d="M139.5 342.1L139.4 339.4" stroke="#e02828" stroke-width="0.3" opacity="0.7" stroke-linecap="round" fill="none"/>
<path d="M181.7 345.1L182.7 343.3M178.1 345.4L179.9 341.5" stroke="#d020c8" stroke-width="0.6" opacity="0.9" stroke-linecap="round" fill="none"/>
<path d="M182.7 343.3L183.5 341.9" stroke="#d010c0" stroke-width="0.6" opacity="0.9" stroke-linecap="round" fill="none"/>
<path d="M116 345.4L111.8 336.2" stroke="#e87810" stroke-width="0.6" opacity="0.7" stroke-linecap="round" fill="none"/>
<path d="M111.8 336.2L108.4 328.6" stroke="#f09018" stroke-width="0.6" opacity="0.7" stroke-linecap="round" fill="none"/>
<path d="M140.2 344.9L140 340.9" stroke="#f02020" stroke-width="0.6" opacity="0.7" stroke-linecap="round" fill="none"/>
<path d="M167.9 345.8L171.9 334" stroke="#e02040" stroke-width="0.5" opacity="0.9" stroke-linecap="round" fill="none"/>
<path d="M171.9 334L175.3 324.3" stroke="#c010a0" stroke-width="0.5" opacity="0.9" stroke-linecap="round" fill="none"/>
<path d="M106.7 343.9L104.9 341.3M109.2 344.9L106.7 340.6" stroke="#f0a010" stroke-width="0.4" opacity="0.8" stroke-linecap="round" fill="none"/>
<path d="M104.9 341.3L103.5 339.2M106.7 340.6L104.6 337.1" stroke="#f8b020" stroke-width="0.4" opacity="0.8" stroke-linecap="round" fill="none"/>
<path d="M135.4 344.7L134.4 339.8M153.4 344.9L154.3 336.3M146 345.8L145.9 340.8" stroke="#c81010" stroke-width="0.3" opacity="0.9" stroke-linecap="round" fill="none"/>
<path d="M134.4 339.8L133.5 335.8M154.3 336.3L155 329.3" stroke="#e02828" stroke-width="0.3" opacity="0.9" stroke-linecap="round" fill="none"/>
<path d="M158.6 343.8L159.9 338.8M168.8 344.8L171.3 337.1" stroke="#d01080" stroke-width="0.6" opacity="0.7" stroke-linecap="round" fill="none"/>
<path d="M159.9 338.8L161 334.7M171.3 337.1L173.3 330.9" stroke="#c010a0" stroke-width="0.6" opacity="0.7" stroke-linecap="round" fill="none"/>
<path d="M135.4 345.7L134.2 337.5" stroke="#b01010" stroke-width="0.6" opacity="0.7" stroke-linecap="round" fill="none"/>
<path d="M134.2 337.5L133.2 330.9" stroke="#e02828" stroke-width="0.6" opacity="0.7" stroke-linecap="round" fill="none"/>
<path d="M142.7 345.4L142.6 338.5M140.5 346L140.4 340.9M149.4 345.3L149.7 338" stroke="#e01818" stroke-width="0.5" opacity="0.7" stroke-linecap="round" fill="none"/>
<path d="M163.7 344.6L168.2 331.2M160.6 343.7L163.3 334.4" stroke="#e01850" stroke-width="0.3" opacity="0.6" stroke-linecap="round" fill="none"/>
<path d="M168.2 331.2L171.8 320.3" stroke="#9020c0" stroke-width="0.3" opacity="0.6" stroke-linecap="round" fill="none"/>
<path d="M158.5 344L159.4 337.5" stroke="#e01850" stroke-width="0.5" opacity="0.7" stroke-linecap="round" fill="none"/>
<path d="M159.4 337.5L160.1 332.1" stroke="#e01868" stroke-width="0.5" opacity="0.7" stroke-linecap="round" fill="none"/>
<path d="M127.6 345.7L124.1 333.2M121.5 344.9L118.1 336.3" stroke="#e85010" stroke-width="0.5" opacity="0.9" stroke-linecap="round" fill="none"/>
<path d="M105.1 345.7L103.9 343.8" stroke="#f8b818" stroke-width="0.7" opacity="0.8" stroke-linecap="round" fill="none"/>
<path d="M103.9 343.8L102.9 342.2" stroke="#f09018" stroke-width="0.7" opacity="0.8" stroke-linecap="round" fill="none"/>
<path d="M161.7 345.8L163.6 338.1" stroke="#d01080" stroke-width="0.6" opacity="0.6" stroke-linecap="round" fill="none"/>
<path d="M163.6 338.1L165.2 331.8" stroke="#e01868" stroke-width="0.6" opacity="0.6" stroke-linecap="round" fill="none"/>
<path d="M128.5 343.7L124.8 330.2" stroke="#b01010" stroke-width="0.6" opacity="1.0" stroke-linecap="round" fill="none"/>
<path d="M124.8 330.2L121.9 319.1" stroke="#d01414" stroke-width="0.6" opacity="1.0" stroke-linecap="round" fill="none"/>
<path d="M145.9 343.6L146 340.7" stroke="#b01010" stroke-width="0.3" opacity="1.0" stroke-linecap="round" fill="none"/>
<path d="M146 340.7L146 338.4" stroke="#e02828" stroke-width="0.3" opacity="1.0" stroke-linecap="round" fill="none"/>
<path d="M105.5 344.6L104 342.4" stroke="#f8b818" stroke-width="0.4" opacity="0.7" stroke-linecap="round" fill="none"/>
<path d="M104 342.4L102.8 340.7" stroke="#f09018" stroke-width="0.4" opacity="0.7" stroke-linecap="round" fill="none"/>
<path d="M119.1 344.6L114.8 334.9" stroke="#e85010" stroke-width="0.4" opacity="0.7" stroke-linecap="round" fill="none"/>
<path d="M114.8 334.9L111.3 327M114.2 334.1L110.4 324.4" stroke="#e8a018" stroke-width="0.4" opacity="0.7" stroke-linecap="round" fill="none"/>
<path d="M182.4 343.9L183.1 342.8M177.3 343.7L179.3 339.3" stroke="#d020c8" stroke-width="0.4" opacity="0.9" stroke-linecap="round" fill="none"/>
<path d="M142.5 345.9L142.2 342.4" stroke="#c81010" stroke-width="0.5" opacity="0.8" stroke-linecap="round" fill="none"/>
<path d="M145.9 340.8L145.8 336.7" stroke="#a81010" stroke-width="0.3" opacity="0.9" stroke-linecap="round" fill="none"/>
<path d="M152.2 344.7L152.9 337.8M156.8 345.7L157.4 340.9" stroke="#b01010" stroke-width="0.7" opacity="0.9" stroke-linecap="round" fill="none"/>
<path d="M152.9 337.8L153.5 332.2" stroke="#e02828" stroke-width="0.7" opacity="0.9" stroke-linecap="round" fill="none"/>
<path d="M157.1 344.7L158.7 337.2M133.2 345.1L131.3 335.5M153.7 345.4L154.4 338.6" stroke="#c81010" stroke-width="0.4" opacity="0.6" stroke-linecap="round" fill="none"/>
<path d="M165.5 344.5L170.6 330.2" stroke="#d01080" stroke-width="0.7" opacity="0.6" stroke-linecap="round" fill="none"/>
<path d="M170.6 330.2L174.8 318.4" stroke="#e01868" stroke-width="0.7" opacity="0.6" stroke-linecap="round" fill="none"/>
<path d="M179.9 341.5L181.4 338.3" stroke="#a020e0" stroke-width="0.6" opacity="0.9" stroke-linecap="round" fill="none"/>
<path d="M162.6 344.5L165.9 330" stroke="#e01850" stroke-width="0.4" opacity="0.9" stroke-linecap="round" fill="none"/>
<path d="M165.9 330L168.6 318.2" stroke="#c010a0" stroke-width="0.4" opacity="0.9" stroke-linecap="round" fill="none"/>
<path d="M136.2 335.1L135.4 328.2" stroke="#e02828" stroke-width="0.5" opacity="0.7" stroke-linecap="round" fill="none"/>
<path d="M111.6 344.3L108.6 338.9" stroke="#f8b818" stroke-width="0.7" opacity="0.6" stroke-linecap="round" fill="none"/>
<path d="M108.6 338.9L106.2 334.5" stroke="#f8b020" stroke-width="0.7" opacity="0.6" stroke-linecap="round" fill="none"/>
<path d="M127.6 345.3L122.8 327.4" stroke="#e85010" stroke-width="0.6" opacity="0.9" stroke-linecap="round" fill="none"/>
<path d="M122.8 327.4L119 312.8" stroke="#f08010" stroke-width="0.6" opacity="0.9" stroke-linecap="round" fill="none"/>
<path d="M121 345.8L116.4 333.9" stroke="#e03010" stroke-width="0.5" opacity="0.7" stroke-linecap="round" fill="none"/>
<path d="M141.5 339.7L141.2 335.7" stroke="#d01414" stroke-width="0.5" opacity="0.6" stroke-linecap="round" fill="none"/>
<path d="M126.7 344.6L123.1 331.9" stroke="#f07010" stroke-width="0.3" opacity="0.9" stroke-linecap="round" fill="none"/>
<path d="M123.1 331.9L120.2 321.5" stroke="#d84010" stroke-width="0.3" opacity="0.9" stroke-linecap="round" fill="none"/>
<path d="M129.5 345.8L128.2 338.7" stroke="#e01818" stroke-width="0.4" opacity="0.8" stroke-linecap="round" fill="none"/>
<path d="M128.2 338.7L127.1 332.8" stroke="#a81010" stroke-width="0.4" opacity="0.8" stroke-linecap="round" fill="none"/>
<path d="M132.8 335L131.9 327.9" stroke="#d01414" stroke-width="0.4" opacity="0.6" stroke-linecap="round" fill="none"/>
<path d="M110.3 345.6L108.4 342.3" stroke="#f8b818" stroke-width="0.6" opacity="0.9" stroke-linecap="round" fill="none"/>
<path d="M108.4 342.3L106.9 339.6" stroke="#f09018" stroke-width="0.6" opacity="0.9" stroke-linecap="round" fill="none"/>
<path d="M163.3 334.4L165.5 326.7M167.6 330.9L169 326.9M169 326.9L170.1 323.7" stroke="#e01868" stroke-width="0.3" opacity="0.6" stroke-linecap="round" fill="none"/>
<path d="M119.5 345.1L115.4 335.3" stroke="#e03010" stroke-width="0.4" opacity="1.0" stroke-linecap="round" fill="none"/>
<path d="M115.4 335.3L112 327.3" stroke="#f08010" stroke-width="0.4" opacity="1.0" stroke-linecap="round" fill="none"/>
<path d="M162.9 344.8L167.7 330.2" stroke="#e01850" stroke-width="0.6" opacity="1.0" stroke-linecap="round" fill="none"/>
<path d="M167.7 330.2L171.5 318.3" stroke="#c010a0" stroke-width="0.6" opacity="1.0" stroke-linecap="round" fill="none"/>
<path d="M163.6 345.5L166.3 335.2" stroke="#d01080" stroke-width="0.6" opacity="0.9" stroke-linecap="round" fill="none"/>
<path d="M166.3 335.2L168.5 326.7" stroke="#9020c0" stroke-width="0.6" opacity="0.9" stroke-linecap="round" fill="none"/>
<path d="M156.8 345.8L157.8 338.9" stroke="#c81010" stroke-width="0.6" opacity="0.9" stroke-linecap="round" fill="none"/>
<path d="M157.8 338.9L158.6 333.2" stroke="#e02828" stroke-width="0.6" opacity="0.9" stroke-linecap="round" fill="none"/>
<path d="M122.6 344.9L119.6 337.6" stroke="#e85010" stroke-width="0.6" opacity="0.6" stroke-linecap="round" fill="none"/>
<path d="M119.6 337.6L117.2 331.6" stroke="#e8a018" stroke-width="0.6" opacity="0.6" stroke-linecap="round" fill="none"/>
<path d="M143.3 343.8L143.4 338.4" stroke="#e01818" stroke-width="0.3" opacity="0.9" stroke-linecap="round" fill="none"/>
<path d="M143.4 338.4L143.5 333.9" stroke="#d01414" stroke-width="0.3" opacity="0.9" stroke-linecap="round" fill="none"/>
<path d="M136.3 343.8L135.6 337.4" stroke="#c81010" stroke-width="0.4" opacity="0.9" stroke-linecap="round" fill="none"/>
<path d="M135.6 337.4L135.1 332.1" stroke="#a81010" stroke-width="0.4" opacity="0.9" stroke-linecap="round" fill="none"/>
<path d="M157.4 340.9L157.9 337" stroke="#d01414" stroke-width="0.7" opacity="0.9" stroke-linecap="round" fill="none"/>
<path d="M118.7 346L114.2 334.1" stroke="#e03010" stroke-width="0.4" opacity="0.7" stroke-linecap="round" fill="none"/>
<path d="M133 344.1L130.8 334.6" stroke="#e01818" stroke-width="0.3" opacity="0.8" stroke-linecap="round" fill="none"/>
<path d="M131.3 335.5L129.8 327.7M154.4 338.6L154.9 333.1" stroke="#e02828" stroke-width="0.4" opacity="0.6" stroke-linecap="round" fill="none"/>
<path d="M107.3 346L105.8 343.7" stroke="#e87810" stroke-width="0.6" opacity="0.6" stroke-linecap="round" fill="none"/>
<path d="M105.8 343.7L104.5 341.9" stroke="#f8b020" stroke-width="0.6" opacity="0.6" stroke-linecap="round" fill="none"/>
<path d="M143.3 345.9L143.1 341.4" stroke="#f02020" stroke-width="0.5" opacity="0.8" stroke-linecap="round" fill="none"/>
<path d="M177.7 345.1L180.7 339.5" stroke="#e82090" stroke-width="0.7" opacity="0.7" stroke-linecap="round" fill="none"/>
<path d="M180.7 339.5L183.1 334.9" stroke="#a020e0" stroke-width="0.7" opacity="0.7" stroke-linecap="round" fill="none"/>
<path d="M116.3 343.7L113 337.5" stroke="#e87810" stroke-width="0.5" opacity="0.7" stroke-linecap="round" fill="none"/>
<path d="M113 337.5L110.3 332.5" stroke="#f8b020" stroke-width="0.5" opacity="0.7" stroke-linecap="round" fill="none"/>
<path d="M177.7 345.3L180.9 339.3" stroke="#e010b0" stroke-width="0.4" opacity="0.8" stroke-linecap="round" fill="none"/>
<path d="M180.9 339.3L183.5 334.4M172.8 317.1L173.3 316.2M173.3 316.2L173.6 315.3M177.6 328.7L178.6 326.5M178.6 326.5L179.5 324.6" stroke="#a020e0" stroke-width="0.4" opacity="0.8" stroke-linecap="round" fill="none"/>
<path d="M148.6 345.5L148.8 342.4" stroke="#f02020" stroke-width="0.4" opacity="0.7" stroke-linecap="round" fill="none"/>
<path d="M148.8 342.4L148.9 339.8" stroke="#d01414" stroke-width="0.4" opacity="0.7" stroke-linecap="round" fill="none"/>
<path d="M162.7 344.6L164.8 334.5" stroke="#e02040" stroke-width="0.6" opacity="0.8" stroke-linecap="round" fill="none"/>
<path d="M104.9 345L104 343.8" stroke="#f8b818" stroke-width="0.5" opacity="0.9" stroke-linecap="round" fill="none"/>
<path d="M104 343.8L103.3 342.8" stroke="#f8b020" stroke-width="0.5" opacity="0.9" stroke-linecap="round" fill="none"/>
<path d="M160 344.2L161.5 337.6M158.5 344.9L159.5 339.8" stroke="#d01080" stroke-width="0.5" opacity="0.8" stroke-linecap="round" fill="none"/>
<path d="M161.5 337.6L162.7 332.2M159.5 339.8L160.4 335.6" stroke="#9020c0" stroke-width="0.5" opacity="0.8" stroke-linecap="round" fill="none"/>
<path d="M173.7 336.7L176.1 331" stroke="#a020e0" stroke-width="0.4" opacity="0.7" stroke-linecap="round" fill="none"/>
<path d="M140 340.7L139.5 336.8" stroke="#a81010" stroke-width="0.3" opacity="0.7" stroke-linecap="round" fill="none"/>
<path d="M175.7 344.6L178.6 339.1" stroke="#d020c8" stroke-width="0.4" opacity="0.6" stroke-linecap="round" fill="none"/>
<path d="M178.6 339.1L180.9 334.5" stroke="#a020e0" stroke-width="0.4" opacity="0.6" stroke-linecap="round" fill="none"/>
<path d="M127.9 317.9L127.3 314.9M127.3 314.9L126.7 312.5" stroke="#90c030" stroke-width="0.5" opacity="0.5" stroke-linecap="round" fill="none"/>
<path d="M162.7 317.4L163.5 313.2M163.5 313.2L164.3 309.8" stroke="#5030e0" stroke-width="0.3" opacity="0.8" stroke-linecap="round" fill="none"/>
<path d="M136.4 324.9L136.2 322.7M136.2 322.7L136 320.9" stroke="#901010" stroke-width="0.5" opacity="0.8" stroke-linecap="round" fill="none"/>
<path d="M131.5 316.3L130.3 311.2M130.3 311.2L129.3 307.1M131.8 313.9L130.8 310.1M130.8 310.1L130 307.1" stroke="#e08018" stroke-width="0.3" opacity="0.6" stroke-linecap="round" fill="none"/>
<path d="M122.5 332.6L121 327.7M121 327.7L119.7 323.7" stroke="#e07010" stroke-width="0.4" opacity="0.6" stroke-linecap="round" fill="none"/>
<path d="M115.2 319.5L114.7 318.5M114.7 318.5L114.4 317.7" stroke="#e07010" stroke-width="0.3" opacity="0.7" stroke-linecap="round" fill="none"/>
<path d="M173.8 332.6L174.8 330.3M174.8 330.3L175.6 328.4" stroke="#a020e0" stroke-width="0.3" opacity="0.7" stroke-linecap="round" fill="none"/>
<path d="M116 333.7L114.4 330.4M114.4 330.4L113.2 327.7M124.2 314.9L122.6 310.8M122.6 310.8L121.3 307.5" stroke="#f0a018" stroke-width="0.4" opacity="0.6" stroke-linecap="round" fill="none"/>
<path d="M166.1 310L166.7 308.4M166.7 308.4L167.2 307.2" stroke="#5030e0" stroke-width="0.4" opacity="0.7" stroke-linecap="round" fill="none"/>
<path d="M121.6 324.7L120.3 321.4M120.3 321.4L119.3 318.7M118.7 322L117 318.5M117 318.5L115.6 315.7M123.5 313.8L122.2 310.2M122.2 310.2L121.1 307.3" stroke="#e07010" stroke-width="0.4" opacity="0.5" stroke-linecap="round" fill="none"/>
<path d="M124.1 326.4L123.3 323.9M123.3 323.9L122.7 322" stroke="#e8c020" stroke-width="0.3" opacity="0.5" stroke-linecap="round" fill="none"/>
<path d="M116.4 320.2L115.6 318.4M115.6 318.4L115 317" stroke="#e8c020" stroke-width="0.5" opacity="0.6" stroke-linecap="round" fill="none"/>
<path d="M130.6 331.1L129.6 326.7M129.6 326.7L128.8 323.1M131.1 323.2L130.1 318.8M130.1 318.8L129.4 315.2" stroke="#e05010" stroke-width="0.3" opacity="0.5" stroke-linecap="round" fill="none"/>
<path d="M135.5 328.3L135 325.5M135 325.5L134.6 323.2" stroke="#e05010" stroke-width="0.3" opacity="0.8" stroke-linecap="round" fill="none"/>
<path d="M131.5 330.3L130.9 326.8M130.9 326.8L130.3 323.9M135.3 324.4L134.7 320M134.7 320L134.2 316.5" stroke="#e88018" stroke-width="0.4" opacity="0.7" stroke-linecap="round" fill="none"/>
<path d="M152.1 328.9L152.2 327.5M152.2 327.5L152.2 326.4" stroke="#c01414" stroke-width="0.4" opacity="0.6" stroke-linecap="round" fill="none"/>
<path d="M125.8 309.1L125.5 308M125.5 308L125.3 307.1" stroke="#e0c020" stroke-width="0.5" opacity="0.8" stroke-linecap="round" fill="none"/>
<path d="M126.5 329.7L125.6 326.4M125.6 326.4L124.8 323.6" stroke="#e05010" stroke-width="0.4" opacity="0.8" stroke-linecap="round" fill="none"/>
<path d="M160.3 318.3L161.4 313.7M161.4 313.7L162.3 310" stroke="#8028d8" stroke-width="0.5" opacity="0.7" stroke-linecap="round" fill="none"/>
<path d="M170.9 322.3L172.1 318.8M172.1 318.8L173 316.1" stroke="#e01868" stroke-width="0.3" opacity="0.8" stroke-linecap="round" fill="none"/>
<path d="M117.5 320.5L116.4 318M116.4 318L115.4 315.9" stroke="#f0a018" stroke-width="0.4" opacity="0.5" stroke-linecap="round" fill="none"/>
<path d="M162.6 326.5L163.6 322.9M163.6 322.9L164.4 319.9" stroke="#c010a0" stroke-width="0.3" opacity="0.8" stroke-linecap="round" fill="none"/>
<path d="M130.7 327.2L130.1 324.5M130.1 324.5L129.5 322.4" stroke="#e05010" stroke-width="0.5" opacity="0.7" stroke-linecap="round" fill="none"/>
<path d="M125.1 319.1L124 315.7M124 315.7L123 312.9M131.1 315.4L130.3 311.3M130.3 311.3L129.6 308" stroke="#90c030" stroke-width="0.4" opacity="0.7" stroke-linecap="round" fill="none"/>
<path d="M124 326.2L123.1 323.2M123.1 323.2L122.4 320.8" stroke="#e8c020" stroke-width="0.5" opacity="0.8" stroke-linecap="round" fill="none"/>
<path d="M164.2 319.4L165.5 315.2M165.5 315.2L166.6 311.8" stroke="#8028d8" stroke-width="0.4" opacity="0.5" stroke-linecap="round" fill="none"/>
<path d="M121.3 324.8L120 321.4M120 321.4L119 318.6M121.2 324.6L119.1 319.6M119.1 319.6L117.5 315.4" stroke="#e8c020" stroke-width="0.4" opacity="0.5" stroke-linecap="round" fill="none"/>
<path d="M174.8 327.6L176.4 324.4M176.4 324.4L177.7 321.8M172.8 324.2L173.9 321.7M173.9 321.7L174.8 319.6M178.1 330.2L179.3 327.8M179.3 327.8L180.2 325.7" stroke="#d010c0" stroke-width="0.4" opacity="0.8" stroke-linecap="round" fill="none"/>
<path d="M177.5 327.1L178.4 325.4M178.4 325.4L179.1 323.9" stroke="#d010c0" stroke-width="0.5" opacity="0.6" stroke-linecap="round" fill="none"/>
<path d="M117.7 321.9L116.4 318.5M116.4 318.5L115.3 315.8M116.7 327.3L115.3 324.3M115.3 324.3L114.1 321.9" stroke="#e8c020" stroke-width="0.4" opacity="0.7" stroke-linecap="round" fill="none"/>
<path d="M129.2 320.2L127.9 316M127.9 316L126.8 312.5" stroke="#e05010" stroke-width="0.5" opacity="0.8" stroke-linecap="round" fill="none"/>
<path d="M132.4 329.8L131.9 327.5M131.9 327.5L131.6 325.6" stroke="#e88018" stroke-width="0.4" opacity="0.8" stroke-linecap="round" fill="none"/>
<path d="M150.8 331.2L150.9 329M150.9 329L151 327.2" stroke="#d82020" stroke-width="0.4" opacity="0.7" stroke-linecap="round" fill="none"/>
<path d="M116.7 321.8L115.6 319.2M115.6 319.2L114.8 317.1" stroke="#e8c020" stroke-width="0.4" opacity="0.6" stroke-linecap="round" fill="none"/>
<path d="M140.2 331L139.9 328.8M139.9 328.8L139.7 327" stroke="#d82020" stroke-width="0.5" opacity="0.5" stroke-linecap="round" fill="none"/>
<path d="M154.9 309.9L155.1 308.5M155.1 308.5L155.3 307.4" stroke="#901010" stroke-width="0.4" opacity="0.8" stroke-linecap="round" fill="none"/>
<path d="M174.4 332.5L176.5 327.9M176.5 327.9L178.2 324.2" stroke="#d010c0" stroke-width="0.3" opacity="0.7" stroke-linecap="round" fill="none"/>
<path d="M159.8 320.4L160.3 317.7M160.3 317.7L160.7 315.5" stroke="#8028d8" stroke-width="0.3" opacity="0.7" stroke-linecap="round" fill="none"/>
<path d="M118 322.9L116.5 319.9M116.5 319.9L115.3 317.5" stroke="#f0a018" stroke-width="0.3" opacity="0.8" stroke-linecap="round" fill="none"/>
<path d="M117.7 326.3L115.6 322.2M115.6 322.2L113.9 318.8" stroke="#e07010" stroke-width="0.3" opacity="0.8" stroke-linecap="round" fill="none"/>
<path d="M131.1 318.8L129.8 313.6M129.8 313.6L128.7 309.3" stroke="#90c030" stroke-width="0.5" opacity="0.6" stroke-linecap="round" fill="none"/>
<path d="M126.1 310.4L125.6 308.5M125.6 308.5L125.2 307" stroke="#e0c020" stroke-width="0.4" opacity="0.7" stroke-linecap="round" fill="none"/>
<path d="M129.5 309.9L129.1 308.3M129.1 308.3L128.7 307" stroke="#90c030" stroke-width="0.4" opacity="0.8" stroke-linecap="round" fill="none"/>
<path d="M132 315L131.6 312.8M131.6 312.8L131.3 311.1" stroke="#90c030" stroke-width="0.4" opacity="0.6" stroke-linecap="round" fill="none"/>
<path d="M153.4 330.4L153.9 327.2M153.9 327.2L154.3 324.7M148.9 332.6L149.1 330.4M149.1 330.4L149.3 328.6" stroke="#c01414" stroke-width="0.4" opacity="0.7" stroke-linecap="round" fill="none"/>
<path d="M123.8 331.8L123 329.4M123 329.4L122.4 327.4" stroke="#e8c020" stroke-width="0.3" opacity="0.7" stroke-linecap="round" fill="none"/>
<path d="M160 314.2L160.7 311.7M160.7 311.7L161.2 309.6" stroke="#8028d8" stroke-width="0.3" opacity="0.6" stroke-linecap="round" fill="none"/>
<path d="M129.3 320.8L128.3 316.6M128.3 316.6L127.4 313.1" stroke="#e05010" stroke-width="0.3" opacity="0.7" stroke-linecap="round" fill="none"/>
<path d="M153.2 327.5L153.4 326.2M153.4 326.2L153.5 325.1" stroke="#901010" stroke-width="0.3" opacity="0.7" stroke-linecap="round" fill="none"/>
<path d="M123.8 326.9L122.1 322.3M122.1 322.3L120.7 318.5" stroke="#f0a018" stroke-width="0.3" opacity="0.6" stroke-linecap="round" fill="none"/>
<path d="M157.6 324.6L157.9 321.7M157.9 321.7L158.2 319.3" stroke="#e01868" stroke-width="0.5" opacity="0.6" stroke-linecap="round" fill="none"/>
<path d="M165.2 310.7L165.8 308.8M165.8 308.8L166.2 307.3M168.1 313.4L169 311.1M169 311.1L169.8 309.2" stroke="#8028d8" stroke-width="0.4" opacity="0.7" stroke-linecap="round" fill="none"/>
<path d="M162.7 332.9L163.3 330.6M163.3 330.6L163.8 328.8" stroke="#e01868" stroke-width="0.4" opacity="0.7" stroke-linecap="round" fill="none"/>
<path d="M158.2 314.8L159 310.7M159 310.7L159.7 307.4" stroke="#3038d8" stroke-width="0.4" opacity="0.8" stroke-linecap="round" fill="none"/>
<path d="M168.8 312.7L169.4 310.9M169.4 310.9L170 309.4" stroke="#5030e0" stroke-width="0.5" opacity="0.8" stroke-linecap="round" fill="none"/>
<path d="M166.6 310.6L167.2 308.8M167.2 308.8L167.7 307.3" stroke="#3038d8" stroke-width="0.5" opacity="0.6" stroke-linecap="round" fill="none"/>
<path d="M132 321.5L131.2 318.8M131.2 318.8L130.6 316.5" stroke="#e88018" stroke-width="0.4" opacity="0.6" stroke-linecap="round" fill="none"/>
<rect x="102.3" y="346.4" width="82.2" height="19.6" fill="#220606" />
<path d="M175.9 355.9h0M141.5 348.2h0M114.6 347.2h0M105.3 363.5h0M125.1 358.5h0M181.2 352.2h0M139.9 354.7h0M157.2 360.9h0M105 357.1h0M107.6 359.1h0M166.5 361.1h0M133.6 348.5h0M158.1 352.3h0M128.6 354h0M127.7 353.7h0M122.5 347.7h0M163.9 365.3h0M131.5 356.6h0M119.5 359.8h0M125.2 362.1h0M149.4 351.9h0M161.1 358.1h0M158.4 348.4h0M151.4 351.8h0M129.4 354.4h0M112.8 365.1h0M133.4 358h0M102.9 351.9h0M112 360.9h0M147.5 349.9h0M143.1 360.8h0M171.4 362.3h0M170.6 363h0M130.8 364.2h0M114.1 358.3h0M175.5 349.3h0M107.7 363.7h0M174.6 365.4h0M141.1 360.3h0M128 348.1h0M173.6 361h0M161.6 348.4h0M141 348.7h0M160.1 351.5h0M123.8 347h0M141.4 361.3h0M119.4 360.4h0M152.4 359.7h0" stroke="#b81414" stroke-width="0.75" stroke-linecap="round" fill="none" opacity="0.6"/>
<path d="M162.1 364.2h0M182.8 361.7h0M177.2 361.4h0M130.2 365.1h0M177.4 347.1h0M142.7 364.5h0M172.6 361.9h0M170 353.2h0M177.5 349.6h0M124.5 357.3h0M136.3 354.8h0M175.6 359h0M125.9 356.4h0M136.1 356.8h0M120 361.5h0M168.3 353.4h0M139.2 362.9h0M123.5 350.8h0M136.7 352.4h0M103.9 347.4h0M170.1 360h0M157.6 361.4h0M128.8 360.5h0M110.3 361.1h0M122.9 354.2h0M133.5 354.5h0M175 362.2h0M127 351.1h0M153.9 347h0M150.5 348.8h0M115 353.1h0M182.7 359.3h0M179.9 347.6h0M160 362.3h0M147.3 363.3h0M132.3 354h0M120.9 349h0M123.6 354.1h0" stroke="#b81414" stroke-width="0.92" stroke-linecap="round" fill="none" opacity="0.6"/>
<path d="M130.6 350.5h0M114.3 355.8h0M115.4 360.8h0M111 355.7h0M178.9 348.7h0M153.6 352.6h0M180.8 363.4h0M171.1 364.1h0M154 350.4h0M128.5 349.7h0M169.6 359.5h0M117.7 365h0M123.5 365.4h0M182.5 348.8h0M148.6 365.2h0M164.1 359.2h0M161.2 349.7h0M138.6 363.9h0M133.4 348.1h0M104.6 359.8h0M144 362.5h0M150.2 363.7h0M142.5 351.3h0M122.7 358.1h0M124.1 355.4h0M178.4 357.3h0M134.7 356.3h0M105.7 364.8h0M158.6 358.8h0M109.1 362.3h0M149.9 358.1h0M154.7 348h0M130.8 353.9h0M125.3 361h0M120.4 360.1h0M137.3 354.6h0M146.9 357.5h0M156.8 352.2h0M111.8 354h0M115.7 351.6h0M109.6 350.6h0M157.7 358.6h0M132.6 353.1h0M117.6 363.3h0M127 352.2h0M120.5 356.8h0" stroke="#b81414" stroke-width="0.58" stroke-linecap="round" fill="none" opacity="0.43"/>
<path d="M122.6 364.7h0M108.3 354.3h0M180 349h0M161.9 353.8h0M162.2 361.2h0M127.4 365.5h0M174.2 354.6h0M162.3 360.1h0M165.1 357.8h0M138.4 362.9h0M162.8 356.5h0M115.1 348.6h0M137 357.7h0M125 359h0M133.9 355.8h0M169.7 356.2h0M167.9 361.1h0M180.2 349.4h0M181 363.6h0M125.1 347.6h0M151.4 351.9h0M148.1 349.4h0M123.5 351.6h0M164.7 355.3h0M128.3 356.8h0M163.8 363.7h0M107.4 357.8h0M148.1 353.2h0M108.5 364.1h0M171.8 361.4h0M168.3 365.2h0M124.9 365.3h0M110.3 355.3h0" stroke="#b81414" stroke-width="0.58" stroke-linecap="round" fill="none" opacity="0.77"/>
<path d="M144 362.2h0M138.7 349.5h0M128.4 352.9h0M159.5 365h0M130.4 364.4h0M108 355.5h0M103.2 355.8h0M165.7 347.2h0M121.3 361.6h0M181.6 350.7h0M158.7 352.8h0M177.1 350.2h0M112.7 362.3h0M166.3 356.9h0M159.1 350.3h0M109.9 352.8h0M162.4 347.5h0M150.3 353.2h0M169.7 348.9h0M180.9 364.4h0M140.4 350h0M107.5 353.5h0M179.3 349.5h0M154.1 351.4h0M122 349.8h0M139.7 359.9h0M106.1 360.4h0M150.1 362.9h0M152.4 357.9h0M145.1 352.3h0M125.4 350.6h0M133.4 360h0M157 362.4h0M130.6 350.9h0" stroke="#b81414" stroke-width="0.92" stroke-linecap="round" fill="none" opacity="0.43"/>
<path d="M126 363.5h0M163 359.4h0M139.8 358h0M130 361.9h0M117.6 352.3h0M120.5 349.6h0M137.1 363.3h0M157.3 347.4h0M182.4 358.2h0M168.7 355h0M163.7 354.3h0M145 348.5h0M134.1 359.8h0M145 349h0M119.6 359.6h0M152.7 360.1h0M156.1 363.5h0M155.1 347.7h0M140 358.4h0M165.1 361.3h0M146.1 361.4h0M170.8 363.9h0M126.3 363.9h0M162.1 357.4h0M117.4 360.2h0M113 356.3h0M106.5 363.2h0M175.4 347.6h0M168.3 357.1h0M122.3 358.4h0M107.7 356.7h0M114.5 364.1h0" stroke="#b81414" stroke-width="0.58" stroke-linecap="round" fill="none" opacity="0.6"/>
<path d="M105.6 357.5h0M155 356.9h0M146.7 348.3h0M162.5 356.4h0M124.2 360.3h0M137.4 357.5h0M172.6 363.7h0M164.6 356h0M156.2 347.6h0M138.5 351.1h0M161.4 358.8h0M151.5 356.5h0M145.8 360.8h0M166.8 352.1h0M152.9 359.6h0M120.5 360.8h0M178.1 355.3h0M159.1 353.2h0M161.7 359.5h0M154.2 358.1h0M142.7 358.3h0M141.8 350.3h0M129.8 359.2h0M108 359.1h0M158.5 359.1h0M140.4 363.5h0M135.7 358h0M171.7 352.5h0M150.5 361.8h0M164.7 357.9h0M147.6 358.7h0M155.4 347.5h0" stroke="#b81414" stroke-width="0.75" stroke-linecap="round" fill="none" opacity="0.77"/>
<path d="M164.6 356.4h0M144.1 354.9h0M116.8 358.3h0M164.6 351h0M120.2 348.7h0M145.6 355.1h0M104.6 365.3h0M128.3 350.6h0M152.7 356.7h0M112.5 351.2h0M131.5 358.5h0M104.2 363h0M170.7 357.3h0M160.6 364h0M166.9 362.8h0M130.5 358.4h0M114.1 357.4h0M112.3 359.4h0M183.9 363.6h0M119 350.8h0M155 355.9h0M112.4 347.2h0M132.8 359h0M180.1 360.3h0M117.2 359.5h0M150.2 362.6h0M163.5 360.9h0M175.7 347.6h0M141.6 354h0M125.2 351.8h0M181.3 355.4h0M137.6 361.9h0M133.9 349.1h0M113.1 358.2h0M112.1 354.5h0M107.2 354.1h0" stroke="#b81414" stroke-width="0.75" stroke-linecap="round" fill="none" opacity="0.43"/>
<path d="M115 361.3h0M158.5 357h0M143.7 360.5h0M170.5 361.1h0M106 362.8h0M139.7 348.7h0M136.2 349h0M116.8 358.2h0M171.4 364h0M152.9 350.9h0M147.6 358.4h0M176.3 349.5h0M150.7 359.4h0M109.2 349.1h0M105.2 363.1h0M161.2 357.3h0M148.2 365.4h0M111.4 349.1h0M165.8 360.8h0M171.5 362.6h0M110.4 357.4h0M177.3 359.6h0M116.4 352.6h0M165.9 360.6h0M146.1 358h0M116.1 348.3h0M136.8 363.8h0M127.7 356.4h0M108.8 360.4h0M108.1 356.1h0M109.6 365.1h0" stroke="#b81414" stroke-width="0.92" stroke-linecap="round" fill="none" opacity="0.77"/>
<circle cx="145.6" cy="319" r="9.2" fill="#2a0808" stroke="#f4f4f4" stroke-width="0.5" stroke-dasharray="0.9 0.7"/>
<path d="M138.9 313h0M148.6 319.3h0M141 323.6h0" stroke="#a01414" stroke-width="0.7" stroke-linecap="round" fill="none" opacity="0.37"/>
<path d="M141.5 323.4h0M150.8 323.6h0M139.3 315.9h0M147.9 324.9h0" stroke="#a01414" stroke-width="0.7" stroke-linecap="round" fill="none" opacity="0.5"/>
<path d="M142.7 317.7h0M146.8 318.6h0M145 313.8h0M147.5 323.8h0M142.4 312.1h0" stroke="#a01414" stroke-width="0.83" stroke-linecap="round" fill="none" opacity="0.5"/>
<path d="M148.2 312.8h0M144.8 313.9h0M141.8 315.1h0M152.1 320.2h0M151.1 314.5h0M149.6 313.9h0" stroke="#a01414" stroke-width="0.83" stroke-linecap="round" fill="none" opacity="0.63"/>
<path d="M152.2 323.9h0M149.6 324.7h0M138.7 314.9h0M145.7 318.8h0M144.8 326.5h0M149.2 316.8h0M143.9 321.7h0" stroke="#a01414" stroke-width="0.57" stroke-linecap="round" fill="none" opacity="0.37"/>
<path d="M140.8 325.7h0M142.9 318.5h0M143.6 322.5h0" stroke="#a01414" stroke-width="0.57" stroke-linecap="round" fill="none" opacity="0.63"/>
<path d="M151.9 322.5h0M139.3 323.1h0M139.1 317.7h0M147.2 321.6h0" stroke="#a01414" stroke-width="0.83" stroke-linecap="round" fill="none" opacity="0.37"/>
<path d="M151.1 323h0M146.1 321h0M149.2 321.1h0" stroke="#a01414" stroke-width="0.57" stroke-linecap="round" fill="none" opacity="0.5"/>
<path d="M144.6 322.2h0" stroke="#a01414" stroke-width="0.7" stroke-linecap="round" fill="none" opacity="0.63"/>
<path d="M102.3 346 H184.5" stroke="#f4f4f4" stroke-width="0.5" stroke-dasharray="0.9 0.7"/>
<path d="M102.3 337 L121 306.6 M168.4 306.6 L184.5 332" stroke="#f4f4f4" stroke-width="0.5" stroke-dasharray="0.9 0.7"/>
</g>
<text x="145.6" y="320.6" font-size="3" fill="#fff" font-weight="bold" text-anchor="middle" >WS<tspan font-size="1.6" dy="0.5">2</tspan></text>
<text x="124.6" y="334.6" font-size="3.2" fill="#fff" font-weight="bold" text-anchor="start" >WSe<tspan font-size="1.6" dy="0.5">2</tspan></text>
<text x="111" y="352.6" font-size="3.2" fill="#fff" font-weight="bold" text-anchor="start" >WS<tspan font-size="1.6" dy="0.5">2</tspan></text>
<text x="183" y="362.8" font-size="2.7" fill="#fff" font-weight="bold" text-anchor="end" >Phase</text>
<rect x="188" y="306.4" width="82.8" height="59.6" fill="#050505" />
<clipPath id="cpQ"><rect x="188" y="306.4" width="82.8" height="59.6"/></clipPath><g clip-path="url(#cpQ)">
<path d="M225.2 344.6L225 338.9M225 338.9L224.8 334.3M219.9 344.4L218.4 336.8M218.4 336.8L217.1 330.6M217 343.8L215.1 337M215.1 337L213.6 331.5M237.5 344.3L238.1 338.1M238.1 338.1L238.5 333" stroke="#d0d0d0" stroke-width="0.3" opacity="0.8" stroke-linecap="round" fill="none"/>
<path d="M239.6 344L240 339.1M240 339.1L240.3 335.1M229.1 344.3L228.9 340.4M228.9 340.4L228.8 337.1M252.7 346L256 334.6M256 334.6L258.6 325.3M195.3 344.1L193 340.2M193 340.2L191 337" stroke="#f4f4f4" stroke-width="0.5" opacity="0.7" stroke-linecap="round" fill="none"/>
<path d="M225.3 344.2L224.8 337.6M224.8 337.6L224.4 332.3M209.5 344.1L206.1 334.7M206.1 334.7L203.3 327M233.5 344.3L233.6 339.5M233.6 339.5L233.6 335.5M208.5 344.2L204.5 334.9M204.5 334.9L201.3 327.3" stroke="#f4f4f4" stroke-width="0.3" opacity="0.6" stroke-linecap="round" fill="none"/>
<path d="M208.2 345.9L204.4 335.7M204.4 335.7L201.3 327.4M250.9 345.5L253.9 335M253.9 335L256.4 326.5M216 344.9L214.4 338.8M214.4 338.8L213.2 333.9" stroke="#d0d0d0" stroke-width="0.4" opacity="0.8" stroke-linecap="round" fill="none"/>
<path d="M207.2 345.3L202.3 334.2M202.3 334.2L198.3 325.1M233.9 344.9L233.9 339.8M233.9 339.8L233.9 335.6" stroke="#b8b8b8" stroke-width="0.3" opacity="0.7" stroke-linecap="round" fill="none"/>
<path d="M194 346L192.2 343M192.2 343L190.7 340.5M234.3 344.8L234.6 340.6M234.6 340.6L234.8 337.1" stroke="#f4f4f4" stroke-width="0.4" opacity="1.0" stroke-linecap="round" fill="none"/>
<path d="M220.8 345.8L219.9 340M219.9 340L219.2 335.2M225.4 344.2L224.9 339.8M224.9 339.8L224.6 336.3M220.1 344.7L218.8 337.8M218.8 337.8L217.6 332.2M233.2 343.9L233.3 339.6M233.3 339.6L233.4 336" stroke="#f4f4f4" stroke-width="0.4" opacity="0.6" stroke-linecap="round" fill="none"/>
<path d="M221.8 343.7L221 339.3M221 339.3L220.3 335.7M240.2 346L240.8 340.9M240.8 340.9L241.2 336.8M222.7 345.3L222 336.6M222 336.6L221.4 329.4" stroke="#b8b8b8" stroke-width="0.5" opacity="0.6" stroke-linecap="round" fill="none"/>
<path d="M205.8 345.3L201.8 333.6M201.8 333.6L198.5 324M235.9 345.6L236 342.6M236 342.6L236 340.1" stroke="#ffffff" stroke-width="0.6" opacity="0.6" stroke-linecap="round" fill="none"/>
<path d="M203.8 343.5L200.3 335.3M200.3 335.3L197.4 328.7M263.1 344.7L265.6 339.4M265.6 339.4L267.6 335" stroke="#f4f4f4" stroke-width="0.6" opacity="0.6" stroke-linecap="round" fill="none"/>
<path d="M266.6 345.4L267.7 343.6M267.7 343.6L268.6 342.2M262.9 345.8L265.2 341.6M265.2 341.6L267.2 338.1" stroke="#b8b8b8" stroke-width="0.4" opacity="0.6" stroke-linecap="round" fill="none"/>
<path d="M246.9 345.8L248.8 336.9M248.8 336.9L250.3 329.6M210.2 344.7L205.3 331.7M205.3 331.7L201.2 321.1" stroke="#f4f4f4" stroke-width="0.3" opacity="1.0" stroke-linecap="round" fill="none"/>
<path d="M205.1 346L201.4 337.6M201.4 337.6L198.3 330.8M214.6 343.7L211.6 330.1M211.6 330.1L209.2 319M193.5 345.3L191.3 342M191.3 342L189.5 339.2" stroke="#f4f4f4" stroke-width="0.3" opacity="0.7" stroke-linecap="round" fill="none"/>
<path d="M231.6 343.6L231.5 340.6M231.5 340.6L231.4 338.1M263.6 343.9L266.2 338.7M266.2 338.7L268.4 334.4M238.8 345.7L239.8 338.6M239.8 338.6L240.6 332.8M231.4 345.7L231.3 339.6M231.3 339.6L231.3 334.7M260.9 344L263.7 338.5M263.7 338.5L265.9 334M247 344.2L249.5 335.6M249.5 335.6L251.6 328.6M256.1 343.8L260.2 335M260.2 335L263.5 327.7" stroke="#ffffff" stroke-width="0.5" opacity="0.9" stroke-linecap="round" fill="none"/>
<path d="M240.1 344.8L241.7 335M241.7 335L243 327" stroke="#f4f4f4" stroke-width="0.4" opacity="0.7" stroke-linecap="round" fill="none"/>
<path d="M192.2 343.7L191 341.8M191 341.8L190.1 340.3M240.6 344.2L241.6 334.5M241.6 334.5L242.4 326.5M217.6 343.9L215.8 336.3M215.8 336.3L214.4 330M215.1 343.7L213.1 336.3M213.1 336.3L211.4 330.3" stroke="#ffffff" stroke-width="0.4" opacity="0.9" stroke-linecap="round" fill="none"/>
<path d="M261.6 343.8L265 336.7M265 336.7L267.7 330.9M216 344.8L213.6 336.3M213.6 336.3L211.6 329.4" stroke="#b8b8b8" stroke-width="0.5" opacity="0.8" stroke-linecap="round" fill="none"/>
<path d="M219.6 344.5L218.4 337.5M218.4 337.5L217.4 331.6M256 345.2L258.4 338.5M258.4 338.5L260.4 333.1" stroke="#ffffff" stroke-width="0.6" opacity="0.9" stroke-linecap="round" fill="none"/>
<path d="M220.1 344.2L218.6 335.3M218.6 335.3L217.4 328M213.7 345.8L207.8 328.2M207.8 328.2L203 313.8" stroke="#f4f4f4" stroke-width="0.4" opacity="0.8" stroke-linecap="round" fill="none"/>
<path d="M263.2 345.4L265.4 340.3M265.4 340.3L267.3 336.2M259.8 345.9L263.9 337.3M263.9 337.3L267.2 330.3M261.2 343.8L264.8 336.9M264.8 336.9L267.7 331.2" stroke="#d0d0d0" stroke-width="0.4" opacity="0.9" stroke-linecap="round" fill="none"/>
<path d="M216.3 343.7L214.8 337.2M214.8 337.2L213.6 331.9M232.3 345.3L232.3 340.7M232.3 340.7L232.3 337" stroke="#ffffff" stroke-width="0.3" opacity="0.7" stroke-linecap="round" fill="none"/>
<path d="M253.9 343.7L257.4 335.1M257.4 335.1L260.3 328M263.2 344.9L265.2 340.9M265.2 340.9L266.9 337.6" stroke="#ffffff" stroke-width="0.3" opacity="0.6" stroke-linecap="round" fill="none"/>
<path d="M239.2 345.2L240.4 337.6M240.4 337.6L241.4 331.3M251.7 345.9L254.5 335.9M254.5 335.9L256.8 327.6M260.5 345.7L264 337.6M264 337.6L266.8 331M249.8 343.7L252.4 333M252.4 333L254.5 324.2" stroke="#ffffff" stroke-width="0.4" opacity="0.7" stroke-linecap="round" fill="none"/>
<path d="M251.7 344L254.7 336.1M254.7 336.1L257.2 329.7" stroke="#f4f4f4" stroke-width="0.5" opacity="0.8" stroke-linecap="round" fill="none"/>
<path d="M254 343.6L256.9 335.9M256.9 335.9L259.3 329.6" stroke="#b8b8b8" stroke-width="0.3" opacity="0.9" stroke-linecap="round" fill="none"/>
<path d="M249.8 344.7L252.3 333.5M252.3 333.5L254.3 324.3" stroke="#ffffff" stroke-width="0.4" opacity="1.0" stroke-linecap="round" fill="none"/>
<path d="M229.1 343.5L228.7 337.2M228.7 337.2L228.3 332M254.3 343.7L257.2 335M257.2 335L259.6 327.8" stroke="#d0d0d0" stroke-width="0.3" opacity="1.0" stroke-linecap="round" fill="none"/>
<path d="M247.1 345.7L249.3 336.5M249.3 336.5L251 329" stroke="#b8b8b8" stroke-width="0.4" opacity="0.8" stroke-linecap="round" fill="none"/>
<path d="M229.3 344L229.1 339.9M229.1 339.9L228.9 336.5" stroke="#f4f4f4" stroke-width="0.5" opacity="0.9" stroke-linecap="round" fill="none"/>
<path d="M215.7 344L213.7 337.1M213.7 337.1L212.1 331.4M209.5 345.3L205.4 334M205.4 334L202 324.7" stroke="#b8b8b8" stroke-width="0.6" opacity="0.8" stroke-linecap="round" fill="none"/>
<path d="M265.5 345.8L267.3 342.3M267.3 342.3L268.8 339.4M190.6 344.3L189.6 342.9M189.6 342.9L188.8 341.7" stroke="#ffffff" stroke-width="0.5" opacity="0.8" stroke-linecap="round" fill="none"/>
<path d="M201.9 344.7L199.4 338.7M199.4 338.7L197.3 333.7M237 344.1L237.2 338.8M237.2 338.8L237.3 334.5" stroke="#b8b8b8" stroke-width="0.6" opacity="0.9" stroke-linecap="round" fill="none"/>
<path d="M238 345.2L238.3 339.3M238.3 339.3L238.6 334.5M193.3 345.6L191.9 343.6M191.9 343.6L190.8 342M198.5 344.9L195.4 338.5M195.4 338.5L192.8 333.4" stroke="#b8b8b8" stroke-width="0.3" opacity="0.8" stroke-linecap="round" fill="none"/>
<path d="M229.4 344.5L228.7 337.3M228.7 337.3L228.2 331.4M198.5 345.8L194.4 338.9M194.4 338.9L191.1 333.3" stroke="#b8b8b8" stroke-width="0.4" opacity="1.0" stroke-linecap="round" fill="none"/>
<path d="M263.4 345.3L265.4 341.5M265.4 341.5L267 338.3" stroke="#b8b8b8" stroke-width="0.6" opacity="1.0" stroke-linecap="round" fill="none"/>
<path d="M231.9 345.5L231.7 340M231.7 340L231.6 335.6M213.3 345.2L208.1 327.6M208.1 327.6L203.9 313.2" stroke="#d0d0d0" stroke-width="0.3" opacity="0.9" stroke-linecap="round" fill="none"/>
<path d="M264.8 344.6L266.5 341.8M266.5 341.8L267.9 339.5" stroke="#f4f4f4" stroke-width="0.3" opacity="0.8" stroke-linecap="round" fill="none"/>
<path d="M203.9 345.8L201.2 340.5M201.2 340.5L199 336.1" stroke="#b8b8b8" stroke-width="0.3" opacity="0.6" stroke-linecap="round" fill="none"/>
<path d="M205.1 343.9L201.1 332.4M201.1 332.4L197.8 323" stroke="#f4f4f4" stroke-width="0.5" opacity="0.6" stroke-linecap="round" fill="none"/>
<path d="M243.8 345.8L244.7 339.1M244.7 339.1L245.5 333.7" stroke="#ffffff" stroke-width="0.4" opacity="0.8" stroke-linecap="round" fill="none"/>
<path d="M256.8 343.8L261.5 333.6M261.5 333.6L265.3 325.3M200.3 344.1L197.8 339.1M197.8 339.1L195.8 334.9" stroke="#d0d0d0" stroke-width="0.4" opacity="1.0" stroke-linecap="round" fill="none"/>
<path d="M253.8 345.4L258.4 334M258.4 334L262.2 324.8" stroke="#d0d0d0" stroke-width="0.5" opacity="0.7" stroke-linecap="round" fill="none"/>
<path d="M194.3 345.1L192.8 342.7M192.8 342.7L191.5 340.7" stroke="#ffffff" stroke-width="0.6" opacity="1.0" stroke-linecap="round" fill="none"/>
<path d="M192.6 345.3L191.2 342.9M191.2 342.9L190 340.8" stroke="#d0d0d0" stroke-width="0.5" opacity="0.8" stroke-linecap="round" fill="none"/>
<path d="M231.8 345L232.2 339.3M232.2 339.3L232.5 334.6M263.1 343.7L265 340.3M265 340.3L266.6 337.5" stroke="#b8b8b8" stroke-width="0.6" opacity="0.6" stroke-linecap="round" fill="none"/>
<path d="M238.4 344.2L238.8 339.5M238.8 339.5L239.1 335.7" stroke="#d0d0d0" stroke-width="0.5" opacity="0.6" stroke-linecap="round" fill="none"/>
<path d="M232.5 344.5L232.5 339.6M232.5 339.6L232.6 335.6M268.7 343.6L269.3 342.5M269.3 342.5L269.9 341.6M222.8 344.9L221.1 335.2M221.1 335.2L219.7 327.3M197.4 345.5L195 341.6M195 341.6L193.1 338.4" stroke="#b8b8b8" stroke-width="0.5" opacity="0.7" stroke-linecap="round" fill="none"/>
<path d="M211.7 344.4L208.5 333.5M208.5 333.5L205.9 324.7" stroke="#ffffff" stroke-width="0.3" opacity="0.9" stroke-linecap="round" fill="none"/>
<path d="M236.1 344.4L236.3 339.7M236.3 339.7L236.6 335.9M256.3 344.6L260.1 333.9M260.1 333.9L263.2 325.1M192.6 343.6L191 341M191 341L189.7 338.9" stroke="#ffffff" stroke-width="0.5" opacity="0.6" stroke-linecap="round" fill="none"/>
<path d="M249.8 345.9L253.7 329.2M253.7 329.2L256.9 315.5" stroke="#b8b8b8" stroke-width="0.3" opacity="1.0" stroke-linecap="round" fill="none"/>
<path d="M218.1 344.1L217.1 338.2M217.1 338.2L216.3 333.4" stroke="#d0d0d0" stroke-width="0.3" opacity="0.6" stroke-linecap="round" fill="none"/>
<path d="M245.2 345.5L246.9 336.4M246.9 336.4L248.3 329" stroke="#d0d0d0" stroke-width="0.6" opacity="0.6" stroke-linecap="round" fill="none"/>
<path d="M252.4 345.8L256.2 332M256.2 332L259.3 320.7" stroke="#ffffff" stroke-width="0.3" opacity="0.8" stroke-linecap="round" fill="none"/>
<path d="M203.6 345.3L199.2 336.4M199.2 336.4L195.6 329.2" stroke="#ffffff" stroke-width="0.5" opacity="1.0" stroke-linecap="round" fill="none"/>
<path d="M263.5 343.8L266.8 338.1M266.8 338.1L269.5 333.5M194 345.8L191.5 342.2M191.5 342.2L189.5 339.3" stroke="#b8b8b8" stroke-width="0.5" opacity="0.9" stroke-linecap="round" fill="none"/>
<path d="M237.7 345.6L238 340.4M238 340.4L238.2 336.1" stroke="#d0d0d0" stroke-width="0.5" opacity="1.0" stroke-linecap="round" fill="none"/>
<path d="M200.7 345.7L197.1 338.8M197.1 338.8L194.1 333.2" stroke="#f4f4f4" stroke-width="0.6" opacity="0.9" stroke-linecap="round" fill="none"/>
<path d="M225.7 346L225.6 340.4M225.6 340.4L225.4 335.9" stroke="#d0d0d0" stroke-width="0.4" opacity="0.7" stroke-linecap="round" fill="none"/>
<path d="M203.6 316.7L202.8 315.3M202.8 315.3L202.3 314M218.6 319.3L217.8 315.9M217.8 315.9L217 313.1" stroke="#eeeeee" stroke-width="0.4" opacity="0.8" stroke-linecap="round" fill="none"/>
<path d="M202.5 325.9L201.4 323.4M201.4 323.4L200.5 321.3" stroke="#b0b0b0" stroke-width="0.3" opacity="0.6" stroke-linecap="round" fill="none"/>
<path d="M244 311.5L244.3 309.1M244.3 309.1L244.6 307.1M234.6 331.6L234.7 330M234.7 330L234.7 328.6M200.4 331.4L198.9 328.2M198.9 328.2L197.7 325.6" stroke="#b0b0b0" stroke-width="0.4" opacity="0.5" stroke-linecap="round" fill="none"/>
<path d="M258.7 319.7L259.5 317.9M259.5 317.9L260.1 316.5" stroke="#d8d8d8" stroke-width="0.5" opacity="0.6" stroke-linecap="round" fill="none"/>
<path d="M212.8 333.6L211.9 330.7M211.9 330.7L211.2 328.3M209.9 333.3L208.5 329.8M208.5 329.8L207.4 327.1" stroke="#d8d8d8" stroke-width="0.4" opacity="0.7" stroke-linecap="round" fill="none"/>
<path d="M203.3 318.4L202.4 316.4M202.4 316.4L201.7 314.8M209.6 332.3L208.4 328M208.4 328L207.4 324.4" stroke="#d8d8d8" stroke-width="0.4" opacity="0.5" stroke-linecap="round" fill="none"/>
<path d="M248.2 331.6L249.1 328.3M249.1 328.3L249.8 325.7M260 331L262.2 326.9M262.2 326.9L264 323.6M217.9 321.1L217.1 318M217.1 318L216.4 315.5" stroke="#eeeeee" stroke-width="0.4" opacity="0.7" stroke-linecap="round" fill="none"/>
<path d="M240.9 328.4L241.3 324.7M241.3 324.7L241.6 321.6M249.4 327L250.5 323.7M250.5 323.7L251.3 320.9M249.1 313.1L249.9 310.3M249.9 310.3L250.6 307.9" stroke="#b0b0b0" stroke-width="0.4" opacity="0.6" stroke-linecap="round" fill="none"/>
<path d="M259.3 318L259.7 317M259.7 317L260.1 316.2M239.6 311.2L240 309.1M240 309.1L240.3 307.3" stroke="#eeeeee" stroke-width="0.3" opacity="0.8" stroke-linecap="round" fill="none"/>
<path d="M257.9 333.8L259.7 330M259.7 330L261.2 326.9M208.3 327.4L206.4 322.9M206.4 322.9L204.8 319.3" stroke="#d8d8d8" stroke-width="0.5" opacity="0.5" stroke-linecap="round" fill="none"/>
<path d="M242.7 318.1L243.4 314.8M243.4 314.8L243.9 312" stroke="#d8d8d8" stroke-width="0.3" opacity="0.7" stroke-linecap="round" fill="none"/>
<path d="M208.3 333.7L207.1 329.5M207.1 329.5L206 326.1M243 328L243.7 324.2M243.7 324.2L244.4 321.2" stroke="#b0b0b0" stroke-width="0.5" opacity="0.8" stroke-linecap="round" fill="none"/>
<path d="M257.7 324.4L259.4 320.6M259.4 320.6L260.8 317.5" stroke="#d8d8d8" stroke-width="0.3" opacity="0.6" stroke-linecap="round" fill="none"/>
<path d="M205.8 318.7L204.8 316.1M204.8 316.1L204 314" stroke="#eeeeee" stroke-width="0.3" opacity="0.5" stroke-linecap="round" fill="none"/>
<path d="M257.8 316.4L258.3 315.1M258.3 315.1L258.8 314.1" stroke="#b0b0b0" stroke-width="0.4" opacity="0.8" stroke-linecap="round" fill="none"/>
<path d="M216.8 323.8L216.1 321.3M216.1 321.3L215.5 319.3" stroke="#b0b0b0" stroke-width="0.3" opacity="0.8" stroke-linecap="round" fill="none"/>
<path d="M256.1 323.4L257.2 320.4M257.2 320.4L258.2 318M244.8 327L245.5 323.1M245.5 323.1L246.1 319.9" stroke="#eeeeee" stroke-width="0.4" opacity="0.6" stroke-linecap="round" fill="none"/>
<path d="M216.9 320.4L216.1 317.2M216.1 317.2L215.5 314.6" stroke="#d8d8d8" stroke-width="0.5" opacity="0.8" stroke-linecap="round" fill="none"/>
<path d="M216.2 332.1L215.7 329.3M215.7 329.3L215.2 327" stroke="#b0b0b0" stroke-width="0.5" opacity="0.5" stroke-linecap="round" fill="none"/>
<path d="M239.3 326.4L239.4 325.4M239.4 325.4L239.6 324.5M237.5 329.2L237.6 327.8M237.6 327.8L237.7 326.7" stroke="#d8d8d8" stroke-width="0.3" opacity="0.8" stroke-linecap="round" fill="none"/>
<path d="M245.5 316.8L246.8 311.9M246.8 311.9L247.8 307.9" stroke="#eeeeee" stroke-width="0.5" opacity="0.6" stroke-linecap="round" fill="none"/>
<path d="M261.2 328.5L262.3 326M262.3 326L263.3 323.9" stroke="#b0b0b0" stroke-width="0.3" opacity="0.7" stroke-linecap="round" fill="none"/>
<path d="M214.4 327L213.6 323.9M213.6 323.9L212.9 321.4" stroke="#b0b0b0" stroke-width="0.4" opacity="0.7" stroke-linecap="round" fill="none"/>
<path d="M256.2 323.7L257.3 320.7M257.3 320.7L258.2 318.3" stroke="#d8d8d8" stroke-width="0.4" opacity="0.6" stroke-linecap="round" fill="none"/>
<path d="M222.3 332.2L221.9 329.5M221.9 329.5L221.6 327.2" stroke="#eeeeee" stroke-width="0.5" opacity="0.8" stroke-linecap="round" fill="none"/>
<path d="M249.9 314.9L250.7 311.8M250.7 311.8L251.3 309.2" stroke="#d8d8d8" stroke-width="0.4" opacity="0.8" stroke-linecap="round" fill="none"/>
<circle cx="231.4" cy="319" r="9.4" fill="#060606"/>
<circle cx="188.43" cy="337.38" r="0.84" fill="#e23ad6" opacity="0.84"/>
<circle cx="254.03" cy="308.59" r="0.91" fill="#e23ad6" opacity="0.85"/>
<circle cx="191.36" cy="332.85" r="0.55" fill="#e23ad6" opacity="0.81"/>
<circle cx="256.65" cy="310.01" r="0.91" fill="#e23ad6" opacity="0.77"/>
<circle cx="193.07" cy="328.83" r="1" fill="#e23ad6" opacity="0.92"/>
<circle cx="259.1" cy="313.98" r="0.57" fill="#e23ad6" opacity="0.8"/>
<circle cx="195.85" cy="325.36" r="0.98" fill="#e23ad6" opacity="0.81"/>
<circle cx="259.53" cy="317.26" r="0.61" fill="#e23ad6" opacity="0.98"/>
<circle cx="198.01" cy="322.6" r="0.7" fill="#e23ad6" opacity="0.85"/>
<circle cx="261.47" cy="318.57" r="0.94" fill="#e23ad6" opacity="0.77"/>
<circle cx="200.91" cy="318.29" r="0.99" fill="#e23ad6" opacity="0.97"/>
<circle cx="264.48" cy="322.9" r="0.81" fill="#e23ad6" opacity="0.92"/>
<circle cx="201.84" cy="315.2" r="0.92" fill="#e23ad6" opacity="0.76"/>
<circle cx="266.7" cy="326.03" r="0.73" fill="#e23ad6" opacity="0.81"/>
<circle cx="204.75" cy="311.4" r="1" fill="#e23ad6" opacity="0.82"/>
<circle cx="266.78" cy="327.31" r="0.87" fill="#e23ad6" opacity="1"/>
<circle cx="207.09" cy="307.98" r="0.8" fill="#e23ad6" opacity="0.92"/>
<circle cx="269.04" cy="331.22" r="0.8" fill="#e23ad6" opacity="0.89"/>
<circle cx="240.65" cy="321.55" r="0.71" fill="#e23ad6" opacity="0.98"/>
<circle cx="240" cy="324.57" r="0.69" fill="#e23ad6" opacity="0.73"/>
<circle cx="237.99" cy="326.88" r="0.9" fill="#e23ad6" opacity="0.81"/>
<circle cx="237.39" cy="328.1" r="0.95" fill="#e23ad6" opacity="0.99"/>
<circle cx="234.71" cy="329.77" r="0.98" fill="#e23ad6" opacity="0.88"/>
<circle cx="233.35" cy="329.31" r="0.72" fill="#e23ad6" opacity="0.77"/>
<circle cx="230.97" cy="328.66" r="0.58" fill="#e23ad6" opacity="0.94"/>
<circle cx="228.45" cy="328.76" r="0.93" fill="#e23ad6" opacity="0.72"/>
<circle cx="225.29" cy="327.33" r="0.74" fill="#e23ad6" opacity="0.75"/>
<circle cx="223.08" cy="325.92" r="0.95" fill="#e23ad6" opacity="1"/>
<circle cx="222.99" cy="324.33" r="0.66" fill="#e23ad6" opacity="0.99"/>
<circle cx="221.56" cy="322.67" r="0.56" fill="#e23ad6" opacity="0.76"/>
<circle cx="222.57" cy="316.81" r="0.95" fill="#e23ad6" opacity="0.88"/>
<circle cx="224.41" cy="312.6" r="0.93" fill="#e23ad6" opacity="0.79"/>
<circle cx="228.98" cy="309.83" r="0.9" fill="#e23ad6" opacity="0.7"/>
<circle cx="234.26" cy="311.19" r="0.56" fill="#e23ad6" opacity="0.88"/>
<circle cx="238.53" cy="313.14" r="0.81" fill="#e23ad6" opacity="0.78"/>
<circle cx="240.72" cy="317.14" r="0.96" fill="#e23ad6" opacity="0.74"/>
<circle cx="191.19" cy="346.19" r="0.56" fill="#e23ad6" opacity="0.83"/>
<circle cx="197.28" cy="347.73" r="0.84" fill="#e23ad6" opacity="0.74"/>
<circle cx="204.08" cy="346.65" r="0.77" fill="#e23ad6" opacity="0.77"/>
<circle cx="210.33" cy="346.37" r="0.72" fill="#e23ad6" opacity="0.91"/>
<circle cx="222.1" cy="346.09" r="0.87" fill="#e23ad6" opacity="0.96"/>
<circle cx="233.55" cy="347.58" r="0.55" fill="#e23ad6" opacity="0.84"/>
<circle cx="243.13" cy="347.53" r="0.63" fill="#e23ad6" opacity="0.91"/>
<circle cx="250.51" cy="347.39" r="0.69" fill="#e23ad6" opacity="0.71"/>
<circle cx="257.78" cy="346.62" r="0.96" fill="#e23ad6" opacity="0.79"/>
<circle cx="263.01" cy="347.1" r="0.98" fill="#e23ad6" opacity="0.73"/>
<circle cx="268.2" cy="347.02" r="0.88" fill="#e23ad6" opacity="0.99"/>
<circle cx="222.18" cy="314.02" r="0.58" fill="#e23ad6" opacity="0.94"/>
<circle cx="256.43" cy="312.47" r="0.6" fill="#e23ad6" opacity="0.72"/>
<circle cx="210.33" cy="314.6" r="0.83" fill="#e23ad6" opacity="0.71"/>
<circle cx="239.56" cy="311.88" r="0.73" fill="#e23ad6" opacity="0.77"/>
<circle cx="208.03" cy="312.45" r="0.92" fill="#e23ad6" opacity="0.92"/>
<circle cx="229.48" cy="310.63" r="0.83" fill="#e23ad6" opacity="0.99"/>
<circle cx="210.42" cy="312.79" r="0.95" fill="#e23ad6" opacity="0.93"/>
<circle cx="238.93" cy="315.03" r="0.86" fill="#e23ad6" opacity="0.9"/>
<circle cx="218.53" cy="315.65" r="0.92" fill="#e23ad6" opacity="0.99"/>
<circle cx="257.06" cy="308.67" r="0.73" fill="#e23ad6" opacity="0.74"/>
<path d="M206 350.6 H250" stroke="#ddd" stroke-width="0.35"/><path d="M206 349 V352 M218 349 V352 M230 349 V352 M242 349 V352 M250 349 V352" stroke="#ddd" stroke-width="0.3"/>
</g>
<text x="209.4" y="356" font-size="2.3" fill="#eee" font-weight="bold" text-anchor="middle" >3</text>
<text x="225.4" y="356" font-size="2.3" fill="#eee" font-weight="bold" text-anchor="middle" >2</text>
<text x="241.4" y="356" font-size="2.3" fill="#eee" font-weight="bold" text-anchor="middle" >1</text>
<text x="269.4" y="362.8" font-size="2.7" fill="#fff" font-weight="bold" text-anchor="end" >Amplitude</text>
<text x="278" y="196" font-size="9.4" fill="#222" font-weight="normal" text-anchor="start" >(d)</text>
<clipPath id="cpD1"><rect x="295" y="200.4" width="44.6" height="44.2"/></clipPath>
<rect x="295" y="200.4" width="44.6" height="44.2" fill="#2d2f9e" />
<g clip-path="url(#cpD1)">
<circle cx="290.4" cy="196" r="4.2" fill="#2854c4"/>
<circle cx="290.4" cy="204.8" r="4.2" fill="#2854c4"/>
<circle cx="290.4" cy="213.6" r="4.2" fill="#2854c4"/>
<circle cx="290.4" cy="222.4" r="4.2" fill="#2854c4"/>
<circle cx="290.4" cy="231.2" r="4.2" fill="#2854c4"/>
<circle cx="290.4" cy="240" r="4.2" fill="#2854c4"/>
<circle cx="290.4" cy="248.8" r="4.2" fill="#2854c4"/>
<circle cx="299.2" cy="196" r="4.2" fill="#2854c4"/>
<circle cx="299.2" cy="204.8" r="4.2" fill="#2560d4"/>
<path d="M302.24 203.46 A3.3 3.3 0 0 1 297.86 207.84" stroke="#46a8ee" stroke-width="1.0" fill="none" opacity="0.7"/>
<circle cx="299.2" cy="204.8" r="3.2" fill="none" stroke="#46a8ee" stroke-width="0.6" opacity="0.49" stroke-dasharray="2.4 1.8" transform="rotate(4.42 299.2 204.8)"/>
<circle cx="299.2" cy="213.6" r="4.2" fill="#2560d4"/>
<path d="M301.66 211.36 A3.3 3.3 0 0 1 298.89 216.91" stroke="#5ccaf4" stroke-width="1.4" fill="none" opacity="0.9"/>
<circle cx="299.2" cy="213.6" r="3.2" fill="none" stroke="#5ccaf4" stroke-width="0.84" opacity="0.63" stroke-dasharray="2.4 1.8" transform="rotate(40.46 299.2 213.6)"/>
<circle cx="299.2" cy="222.4" r="4.2" fill="#2560d4"/>
<path d="M300.4 219.3 A3.3 3.3 0 0 1 300.4 225.5" stroke="#5ccaf4" stroke-width="1.4" fill="none" opacity="0.9"/>
<circle cx="299.2" cy="222.4" r="3.2" fill="none" stroke="#5ccaf4" stroke-width="0.84" opacity="0.63" stroke-dasharray="2.4 1.8" transform="rotate(141.42 299.2 222.4)"/>
<circle cx="299.2" cy="231.2" r="4.2" fill="#2560d4"/>
<path d="M298.89 227.89 A3.3 3.3 0 0 1 301.66 233.44" stroke="#5ccaf4" stroke-width="1.4" fill="none" opacity="0.9"/>
<circle cx="299.2" cy="231.2" r="3.2" fill="none" stroke="#5ccaf4" stroke-width="0.84" opacity="0.63" stroke-dasharray="2.4 1.8" transform="rotate(246.19 299.2 231.2)"/>
<circle cx="299.2" cy="240" r="4.2" fill="#2560d4"/>
<path d="M297.86 236.96 A3.3 3.3 0 0 1 302.24 241.34" stroke="#46a8ee" stroke-width="1.0" fill="none" opacity="0.7"/>
<circle cx="299.2" cy="240" r="3.2" fill="none" stroke="#46a8ee" stroke-width="0.6" opacity="0.49" stroke-dasharray="2.4 1.8" transform="rotate(49.93 299.2 240)"/>
<circle cx="299.2" cy="248.8" r="4.2" fill="#2854c4"/>
<circle cx="308" cy="196" r="4.2" fill="#2854c4"/>
<circle cx="308" cy="204.8" r="4.2" fill="#2560d4"/>
<path d="M311.31 204.49 A3.3 3.3 0 0 1 305.76 207.26" stroke="#5ccaf4" stroke-width="1.4" fill="none" opacity="0.9"/>
<circle cx="308" cy="204.8" r="3.2" fill="none" stroke="#5ccaf4" stroke-width="0.84" opacity="0.63" stroke-dasharray="2.4 1.8" transform="rotate(40.48 308 204.8)"/>
<circle cx="308" cy="213.6" r="4.2" fill="#2a6ee2"/>
<path d="M311.04 212.26 A3.3 3.3 0 0 1 306.66 216.64" stroke="#8ae4f4" stroke-width="1.9" fill="none" opacity="0.97"/>
<circle cx="308" cy="213.6" r="3.2" fill="none" stroke="#8ae4f4" stroke-width="1.14" opacity="0.68" stroke-dasharray="2.4 1.8" transform="rotate(83.45 308 213.6)"/>
<circle cx="308" cy="222.4" r="4.2" fill="#2a6ee2"/>
<circle cx="308" cy="222.4" r="3.3" fill="none" stroke="#5cc8f4" stroke-width="1.1" opacity="0.9" stroke-dasharray="5 1.5 3 1"  transform="rotate(272.73 308 222.4)"/>
<path d="M309.8 219.4 A3.5 3.5 0 0 1 309.8 225.4" stroke="#e4fce4" stroke-width="2.1" fill="none" opacity="0.97"/>
<circle cx="307.2" cy="222.4" r="1.5" fill="#2a48c0" opacity="0.8"/>
<circle cx="308" cy="231.2" r="4.2" fill="#2a6ee2"/>
<path d="M306.66 228.16 A3.3 3.3 0 0 1 311.04 232.54" stroke="#8ae4f4" stroke-width="1.9" fill="none" opacity="0.97"/>
<circle cx="308" cy="231.2" r="3.2" fill="none" stroke="#8ae4f4" stroke-width="1.14" opacity="0.68" stroke-dasharray="2.4 1.8" transform="rotate(53.06 308 231.2)"/>
<circle cx="308" cy="240" r="4.2" fill="#2560d4"/>
<path d="M305.76 237.54 A3.3 3.3 0 0 1 311.31 240.31" stroke="#5ccaf4" stroke-width="1.4" fill="none" opacity="0.9"/>
<circle cx="308" cy="240" r="3.2" fill="none" stroke="#5ccaf4" stroke-width="0.84" opacity="0.63" stroke-dasharray="2.4 1.8" transform="rotate(266.64 308 240)"/>
<circle cx="308" cy="248.8" r="4.2" fill="#2854c4"/>
<circle cx="316.8" cy="196" r="4.2" fill="#2854c4"/>
<circle cx="316.8" cy="204.8" r="4.2" fill="#2560d4"/>
<path d="M319.9 206 A3.3 3.3 0 0 1 313.7 206" stroke="#5ccaf4" stroke-width="1.4" fill="none" opacity="0.9"/>
<circle cx="316.8" cy="204.8" r="3.2" fill="none" stroke="#5ccaf4" stroke-width="0.84" opacity="0.63" stroke-dasharray="2.4 1.8" transform="rotate(238.38 316.8 204.8)"/>
<circle cx="316.8" cy="213.6" r="4.2" fill="#2a6ee2"/>
<circle cx="316.8" cy="213.6" r="3.3" fill="none" stroke="#5cc8f4" stroke-width="1.1" opacity="0.9" stroke-dasharray="5 1.5 3 1"  transform="rotate(49.17 316.8 213.6)"/>
<path d="M319.8 215.4 A3.5 3.5 0 0 1 313.8 215.4" stroke="#e4fce4" stroke-width="2.1" fill="none" opacity="0.97"/>
<circle cx="316.8" cy="212.8" r="1.5" fill="#2a48c0" opacity="0.8"/>
<circle cx="316.8" cy="231.2" r="4.2" fill="#2a6ee2"/>
<circle cx="316.8" cy="231.2" r="3.3" fill="none" stroke="#5cc8f4" stroke-width="1.1" opacity="0.9" stroke-dasharray="5 1.5 3 1"  transform="rotate(192.84 316.8 231.2)"/>
<path d="M313.8 229.4 A3.5 3.5 0 0 1 319.8 229.4" stroke="#e4fce4" stroke-width="2.1" fill="none" opacity="0.97"/>
<circle cx="316.8" cy="232" r="1.5" fill="#2a48c0" opacity="0.8"/>
<circle cx="316.8" cy="240" r="4.2" fill="#2560d4"/>
<path d="M313.7 238.8 A3.3 3.3 0 0 1 319.9 238.8" stroke="#5ccaf4" stroke-width="1.4" fill="none" opacity="0.9"/>
<circle cx="316.8" cy="240" r="3.2" fill="none" stroke="#5ccaf4" stroke-width="0.84" opacity="0.63" stroke-dasharray="2.4 1.8" transform="rotate(161.19 316.8 240)"/>
<circle cx="316.8" cy="248.8" r="4.2" fill="#2854c4"/>
<circle cx="325.6" cy="196" r="4.2" fill="#2854c4"/>
<circle cx="325.6" cy="204.8" r="4.2" fill="#2560d4"/>
<path d="M327.84 207.26 A3.3 3.3 0 0 1 322.29 204.49" stroke="#5ccaf4" stroke-width="1.4" fill="none" opacity="0.9"/>
<circle cx="325.6" cy="204.8" r="3.2" fill="none" stroke="#5ccaf4" stroke-width="0.84" opacity="0.63" stroke-dasharray="2.4 1.8" transform="rotate(148.53 325.6 204.8)"/>
<circle cx="325.6" cy="213.6" r="4.2" fill="#2a6ee2"/>
<path d="M326.94 216.64 A3.3 3.3 0 0 1 322.56 212.26" stroke="#8ae4f4" stroke-width="1.9" fill="none" opacity="0.97"/>
<circle cx="325.6" cy="213.6" r="3.2" fill="none" stroke="#8ae4f4" stroke-width="1.14" opacity="0.68" stroke-dasharray="2.4 1.8" transform="rotate(358.68 325.6 213.6)"/>
<circle cx="325.6" cy="222.4" r="4.2" fill="#2a6ee2"/>
<circle cx="325.6" cy="222.4" r="3.3" fill="none" stroke="#5cc8f4" stroke-width="1.1" opacity="0.9" stroke-dasharray="5 1.5 3 1"  transform="rotate(33.52 325.6 222.4)"/>
<path d="M323.8 225.4 A3.5 3.5 0 0 1 323.8 219.4" stroke="#e4fce4" stroke-width="2.1" fill="none" opacity="0.97"/>
<circle cx="326.4" cy="222.4" r="1.5" fill="#2a48c0" opacity="0.8"/>
<circle cx="325.6" cy="231.2" r="4.2" fill="#2a6ee2"/>
<path d="M322.56 232.54 A3.3 3.3 0 0 1 326.94 228.16" stroke="#8ae4f4" stroke-width="1.9" fill="none" opacity="0.97"/>
<circle cx="325.6" cy="231.2" r="3.2" fill="none" stroke="#8ae4f4" stroke-width="1.14" opacity="0.68" stroke-dasharray="2.4 1.8" transform="rotate(7.33 325.6 231.2)"/>
<circle cx="325.6" cy="240" r="4.2" fill="#2560d4"/>
<path d="M322.29 240.31 A3.3 3.3 0 0 1 327.84 237.54" stroke="#5ccaf4" stroke-width="1.4" fill="none" opacity="0.9"/>
<circle cx="325.6" cy="240" r="3.2" fill="none" stroke="#5ccaf4" stroke-width="0.84" opacity="0.63" stroke-dasharray="2.4 1.8" transform="rotate(338.33 325.6 240)"/>
<circle cx="325.6" cy="248.8" r="4.2" fill="#2854c4"/>
<circle cx="334.4" cy="196" r="4.2" fill="#2854c4"/>
<circle cx="334.4" cy="204.8" r="4.2" fill="#2560d4"/>
<path d="M335.74 207.84 A3.3 3.3 0 0 1 331.36 203.46" stroke="#46a8ee" stroke-width="1.0" fill="none" opacity="0.7"/>
<circle cx="334.4" cy="204.8" r="3.2" fill="none" stroke="#46a8ee" stroke-width="0.6" opacity="0.49" stroke-dasharray="2.4 1.8" transform="rotate(145.06 334.4 204.8)"/>
<circle cx="334.4" cy="213.6" r="4.2" fill="#2560d4"/>
<path d="M334.71 216.91 A3.3 3.3 0 0 1 331.94 211.36" stroke="#5ccaf4" stroke-width="1.4" fill="none" opacity="0.9"/>
<circle cx="334.4" cy="213.6" r="3.2" fill="none" stroke="#5ccaf4" stroke-width="0.84" opacity="0.63" stroke-dasharray="2.4 1.8" transform="rotate(71.46 334.4 213.6)"/>
<circle cx="334.4" cy="222.4" r="4.2" fill="#2560d4"/>
<path d="M333.2 225.5 A3.3 3.3 0 0 1 333.2 219.3" stroke="#5ccaf4" stroke-width="1.4" fill="none" opacity="0.9"/>
<circle cx="334.4" cy="222.4" r="3.2" fill="none" stroke="#5ccaf4" stroke-width="0.84" opacity="0.63" stroke-dasharray="2.4 1.8" transform="rotate(118.91 334.4 222.4)"/>
<circle cx="334.4" cy="231.2" r="4.2" fill="#2560d4"/>
<path d="M331.94 233.44 A3.3 3.3 0 0 1 334.71 227.89" stroke="#5ccaf4" stroke-width="1.4" fill="none" opacity="0.9"/>
<circle cx="334.4" cy="231.2" r="3.2" fill="none" stroke="#5ccaf4" stroke-width="0.84" opacity="0.63" stroke-dasharray="2.4 1.8" transform="rotate(131.36 334.4 231.2)"/>
<circle cx="334.4" cy="240" r="4.2" fill="#2560d4"/>
<path d="M331.36 241.34 A3.3 3.3 0 0 1 335.74 236.96" stroke="#46a8ee" stroke-width="1.0" fill="none" opacity="0.7"/>
<circle cx="334.4" cy="240" r="3.2" fill="none" stroke="#46a8ee" stroke-width="0.6" opacity="0.49" stroke-dasharray="2.4 1.8" transform="rotate(343.84 334.4 240)"/>
<circle cx="334.4" cy="248.8" r="4.2" fill="#2854c4"/>
<circle cx="343.2" cy="196" r="4.2" fill="#2854c4"/>
<circle cx="343.2" cy="204.8" r="4.2" fill="#2854c4"/>
<circle cx="343.2" cy="213.6" r="4.2" fill="#2854c4"/>
<circle cx="343.2" cy="222.4" r="4.2" fill="#2854c4"/>
<circle cx="343.2" cy="231.2" r="4.2" fill="#2854c4"/>
<circle cx="343.2" cy="240" r="4.2" fill="#2854c4"/>
<circle cx="343.2" cy="248.8" r="4.2" fill="#2854c4"/>
<circle cx="316.8" cy="222.4" r="4.6" fill="url(#ctr)"/>
<circle cx="321.2" cy="218" r="0.65" fill="#f0a020" />
<circle cx="321.2" cy="226.8" r="0.65" fill="#f0a020" />
<circle cx="312.4" cy="226.8" r="0.65" fill="#f0a020" />
<circle cx="312.4" cy="218" r="0.65" fill="#f0a020" />
</g>
<clipPath id="cpD2"><rect x="294.6" y="258" width="45" height="44"/></clipPath>
<rect x="294.6" y="258" width="45" height="44" fill="#2d2f9e" />
<g clip-path="url(#cpD2)">
<circle cx="290.4" cy="253.6" r="4.2" fill="#2854c4"/>
<circle cx="290.4" cy="262.4" r="4.2" fill="#2854c4"/>
<circle cx="290.4" cy="271.2" r="4.2" fill="#2854c4"/>
<circle cx="290.4" cy="280" r="4.2" fill="#2854c4"/>
<circle cx="290.4" cy="288.8" r="4.2" fill="#2854c4"/>
<circle cx="290.4" cy="297.6" r="4.2" fill="#2854c4"/>
<circle cx="290.4" cy="306.4" r="4.2" fill="#2854c4"/>
<circle cx="299.2" cy="253.6" r="4.2" fill="#2854c4"/>
<circle cx="299.2" cy="262.4" r="4.2" fill="#2560d4"/>
<path d="M302.24 261.06 A3.3 3.3 0 0 1 297.86 265.44" stroke="#46a8ee" stroke-width="1.0" fill="none" opacity="0.7"/>
<circle cx="299.2" cy="262.4" r="3.2" fill="none" stroke="#46a8ee" stroke-width="0.6" opacity="0.49" stroke-dasharray="2.4 1.8" transform="rotate(27.87 299.2 262.4)"/>
<circle cx="299.2" cy="271.2" r="4.2" fill="#2560d4"/>
<path d="M301.66 268.96 A3.3 3.3 0 0 1 298.89 274.51" stroke="#5ccaf4" stroke-width="1.4" fill="none" opacity="0.9"/>
<circle cx="299.2" cy="271.2" r="3.2" fill="none" stroke="#5ccaf4" stroke-width="0.84" opacity="0.63" stroke-dasharray="2.4 1.8" transform="rotate(76.9 299.2 271.2)"/>
<circle cx="299.2" cy="280" r="4.2" fill="#2560d4"/>
<path d="M300.4 276.9 A3.3 3.3 0 0 1 300.4 283.1" stroke="#5ccaf4" stroke-width="1.4" fill="none" opacity="0.9"/>
<circle cx="299.2" cy="280" r="3.2" fill="none" stroke="#5ccaf4" stroke-width="0.84" opacity="0.63" stroke-dasharray="2.4 1.8" transform="rotate(109.13 299.2 280)"/>
<circle cx="299.2" cy="288.8" r="4.2" fill="#2560d4"/>
<path d="M298.89 285.49 A3.3 3.3 0 0 1 301.66 291.04" stroke="#5ccaf4" stroke-width="1.4" fill="none" opacity="0.9"/>
<circle cx="299.2" cy="288.8" r="3.2" fill="none" stroke="#5ccaf4" stroke-width="0.84" opacity="0.63" stroke-dasharray="2.4 1.8" transform="rotate(324.08 299.2 288.8)"/>
<circle cx="299.2" cy="297.6" r="4.2" fill="#2560d4"/>
<path d="M297.86 294.56 A3.3 3.3 0 0 1 302.24 298.94" stroke="#46a8ee" stroke-width="1.0" fill="none" opacity="0.7"/>
<circle cx="299.2" cy="297.6" r="3.2" fill="none" stroke="#46a8ee" stroke-width="0.6" opacity="0.49" stroke-dasharray="2.4 1.8" transform="rotate(178.65 299.2 297.6)"/>
<circle cx="299.2" cy="306.4" r="4.2" fill="#2854c4"/>
<circle cx="308" cy="253.6" r="4.2" fill="#2854c4"/>
<circle cx="308" cy="262.4" r="4.2" fill="#2560d4"/>
<path d="M311.31 262.09 A3.3 3.3 0 0 1 305.76 264.86" stroke="#5ccaf4" stroke-width="1.4" fill="none" opacity="0.9"/>
<circle cx="308" cy="262.4" r="3.2" fill="none" stroke="#5ccaf4" stroke-width="0.84" opacity="0.63" stroke-dasharray="2.4 1.8" transform="rotate(259.29 308 262.4)"/>
<circle cx="308" cy="271.2" r="4.2" fill="#2a6ee2"/>
<path d="M311.04 269.86 A3.3 3.3 0 0 1 306.66 274.24" stroke="#8ae4f4" stroke-width="1.9" fill="none" opacity="0.97"/>
<circle cx="308" cy="271.2" r="3.2" fill="none" stroke="#8ae4f4" stroke-width="1.14" opacity="0.68" stroke-dasharray="2.4 1.8" transform="rotate(36.08 308 271.2)"/>
<circle cx="308" cy="280" r="4.2" fill="#2a6ee2"/>
<circle cx="308" cy="280" r="3.3" fill="none" stroke="#5cc8f4" stroke-width="1.1" opacity="0.9" stroke-dasharray="5 1.5 3 1"  transform="rotate(183.21 308 280)"/>
<path d="M309.8 277 A3.5 3.5 0 0 1 309.8 283" stroke="#e4fce4" stroke-width="2.1" fill="none" opacity="0.97"/>
<circle cx="307.2" cy="280" r="1.5" fill="#2a48c0" opacity="0.8"/>
<circle cx="308" cy="288.8" r="4.2" fill="#2a6ee2"/>
<path d="M306.66 285.76 A3.3 3.3 0 0 1 311.04 290.14" stroke="#8ae4f4" stroke-width="1.9" fill="none" opacity="0.97"/>
<circle cx="308" cy="288.8" r="3.2" fill="none" stroke="#8ae4f4" stroke-width="1.14" opacity="0.68" stroke-dasharray="2.4 1.8" transform="rotate(303.51 308 288.8)"/>
<circle cx="308" cy="297.6" r="4.2" fill="#2560d4"/>
<path d="M305.76 295.14 A3.3 3.3 0 0 1 311.31 297.91" stroke="#5ccaf4" stroke-width="1.4" fill="none" opacity="0.9"/>
<circle cx="308" cy="297.6" r="3.2" fill="none" stroke="#5ccaf4" stroke-width="0.84" opacity="0.63" stroke-dasharray="2.4 1.8" transform="rotate(188.21 308 297.6)"/>
<circle cx="308" cy="306.4" r="4.2" fill="#2854c4"/>
<circle cx="316.8" cy="253.6" r="4.2" fill="#2854c4"/>
<circle cx="316.8" cy="262.4" r="4.2" fill="#2560d4"/>
<path d="M319.9 263.6 A3.3 3.3 0 0 1 313.7 263.6" stroke="#5ccaf4" stroke-width="1.4" fill="none" opacity="0.9"/>
<circle cx="316.8" cy="262.4" r="3.2" fill="none" stroke="#5ccaf4" stroke-width="0.84" opacity="0.63" stroke-dasharray="2.4 1.8" transform="rotate(340.09 316.8 262.4)"/>
<circle cx="316.8" cy="271.2" r="4.2" fill="#2a6ee2"/>
<circle cx="316.8" cy="271.2" r="3.3" fill="none" stroke="#5cc8f4" stroke-width="1.1" opacity="0.9" stroke-dasharray="5 1.5 3 1"  transform="rotate(317.45 316.8 271.2)"/>
<path d="M319.8 273 A3.5 3.5 0 0 1 313.8 273" stroke="#e4fce4" stroke-width="2.1" fill="none" opacity="0.97"/>
<circle cx="316.8" cy="270.4" r="1.5" fill="#2a48c0" opacity="0.8"/>
<circle cx="316.8" cy="288.8" r="4.2" fill="#2a6ee2"/>
<circle cx="316.8" cy="288.8" r="3.3" fill="none" stroke="#5cc8f4" stroke-width="1.1" opacity="0.9" stroke-dasharray="5 1.5 3 1"  transform="rotate(133.55 316.8 288.8)"/>
<path d="M313.8 287 A3.5 3.5 0 0 1 319.8 287" stroke="#e4fce4" stroke-width="2.1" fill="none" opacity="0.97"/>
<circle cx="316.8" cy="289.6" r="1.5" fill="#2a48c0" opacity="0.8"/>
<circle cx="316.8" cy="297.6" r="4.2" fill="#2560d4"/>
<path d="M313.7 296.4 A3.3 3.3 0 0 1 319.9 296.4" stroke="#5ccaf4" stroke-width="1.4" fill="none" opacity="0.9"/>
<circle cx="316.8" cy="297.6" r="3.2" fill="none" stroke="#5ccaf4" stroke-width="0.84" opacity="0.63" stroke-dasharray="2.4 1.8" transform="rotate(0.27 316.8 297.6)"/>
<circle cx="316.8" cy="306.4" r="4.2" fill="#2854c4"/>
<circle cx="325.6" cy="253.6" r="4.2" fill="#2854c4"/>
<circle cx="325.6" cy="262.4" r="4.2" fill="#2560d4"/>
<path d="M327.84 264.86 A3.3 3.3 0 0 1 322.29 262.09" stroke="#5ccaf4" stroke-width="1.4" fill="none" opacity="0.9"/>
<circle cx="325.6" cy="262.4" r="3.2" fill="none" stroke="#5ccaf4" stroke-width="0.84" opacity="0.63" stroke-dasharray="2.4 1.8" transform="rotate(271.9 325.6 262.4)"/>
<circle cx="325.6" cy="271.2" r="4.2" fill="#2a6ee2"/>
<path d="M326.94 274.24 A3.3 3.3 0 0 1 322.56 269.86" stroke="#8ae4f4" stroke-width="1.9" fill="none" opacity="0.97"/>
<circle cx="325.6" cy="271.2" r="3.2" fill="none" stroke="#8ae4f4" stroke-width="1.14" opacity="0.68" stroke-dasharray="2.4 1.8" transform="rotate(45.51 325.6 271.2)"/>
<circle cx="325.6" cy="280" r="4.2" fill="#2a6ee2"/>
<circle cx="325.6" cy="280" r="3.3" fill="none" stroke="#5cc8f4" stroke-width="1.1" opacity="0.9" stroke-dasharray="5 1.5 3 1"  transform="rotate(3.39 325.6 280)"/>
<path d="M323.8 283 A3.5 3.5 0 0 1 323.8 277" stroke="#e4fce4" stroke-width="2.1" fill="none" opacity="0.97"/>
<circle cx="326.4" cy="280" r="1.5" fill="#2a48c0" opacity="0.8"/>
<circle cx="325.6" cy="288.8" r="4.2" fill="#2a6ee2"/>
<path d="M322.56 290.14 A3.3 3.3 0 0 1 326.94 285.76" stroke="#8ae4f4" stroke-width="1.9" fill="none" opacity="0.97"/>
<circle cx="325.6" cy="288.8" r="3.2" fill="none" stroke="#8ae4f4" stroke-width="1.14" opacity="0.68" stroke-dasharray="2.4 1.8" transform="rotate(263.05 325.6 288.8)"/>
<circle cx="325.6" cy="297.6" r="4.2" fill="#2560d4"/>
<path d="M322.29 297.91 A3.3 3.3 0 0 1 327.84 295.14" stroke="#5ccaf4" stroke-width="1.4" fill="none" opacity="0.9"/>
<circle cx="325.6" cy="297.6" r="3.2" fill="none" stroke="#5ccaf4" stroke-width="0.84" opacity="0.63" stroke-dasharray="2.4 1.8" transform="rotate(303.42 325.6 297.6)"/>
<circle cx="325.6" cy="306.4" r="4.2" fill="#2854c4"/>
<circle cx="334.4" cy="253.6" r="4.2" fill="#2854c4"/>
<circle cx="334.4" cy="262.4" r="4.2" fill="#2560d4"/>
<path d="M335.74 265.44 A3.3 3.3 0 0 1 331.36 261.06" stroke="#46a8ee" stroke-width="1.0" fill="none" opacity="0.7"/>
<circle cx="334.4" cy="262.4" r="3.2" fill="none" stroke="#46a8ee" stroke-width="0.6" opacity="0.49" stroke-dasharray="2.4 1.8" transform="rotate(301.17 334.4 262.4)"/>
<circle cx="334.4" cy="271.2" r="4.2" fill="#2560d4"/>
<path d="M334.71 274.51 A3.3 3.3 0 0 1 331.94 268.96" stroke="#5ccaf4" stroke-width="1.4" fill="none" opacity="0.9"/>
<circle cx="334.4" cy="271.2" r="3.2" fill="none" stroke="#5ccaf4" stroke-width="0.84" opacity="0.63" stroke-dasharray="2.4 1.8" transform="rotate(343.24 334.4 271.2)"/>
<circle cx="334.4" cy="280" r="4.2" fill="#2560d4"/>
<path d="M333.2 283.1 A3.3 3.3 0 0 1 333.2 276.9" stroke="#5ccaf4" stroke-width="1.4" fill="none" opacity="0.9"/>
<circle cx="334.4" cy="280" r="3.2" fill="none" stroke="#5ccaf4" stroke-width="0.84" opacity="0.63" stroke-dasharray="2.4 1.8" transform="rotate(72.6 334.4 280)"/>
<circle cx="334.4" cy="288.8" r="4.2" fill="#2560d4"/>
<path d="M331.94 291.04 A3.3 3.3 0 0 1 334.71 285.49" stroke="#5ccaf4" stroke-width="1.4" fill="none" opacity="0.9"/>
<circle cx="334.4" cy="288.8" r="3.2" fill="none" stroke="#5ccaf4" stroke-width="0.84" opacity="0.63" stroke-dasharray="2.4 1.8" transform="rotate(29.34 334.4 288.8)"/>
<circle cx="334.4" cy="297.6" r="4.2" fill="#2560d4"/>
<path d="M331.36 298.94 A3.3 3.3 0 0 1 335.74 294.56" stroke="#46a8ee" stroke-width="1.0" fill="none" opacity="0.7"/>
<circle cx="334.4" cy="297.6" r="3.2" fill="none" stroke="#46a8ee" stroke-width="0.6" opacity="0.49" stroke-dasharray="2.4 1.8" transform="rotate(43.47 334.4 297.6)"/>
<circle cx="334.4" cy="306.4" r="4.2" fill="#2854c4"/>
<circle cx="343.2" cy="253.6" r="4.2" fill="#2854c4"/>
<circle cx="343.2" cy="262.4" r="4.2" fill="#2854c4"/>
<circle cx="343.2" cy="271.2" r="4.2" fill="#2854c4"/>
<circle cx="343.2" cy="280" r="4.2" fill="#2854c4"/>
<circle cx="343.2" cy="288.8" r="4.2" fill="#2854c4"/>
<circle cx="343.2" cy="297.6" r="4.2" fill="#2854c4"/>
<circle cx="343.2" cy="306.4" r="4.2" fill="#2854c4"/>
<circle cx="316.8" cy="280" r="4.6" fill="url(#ctrY)"/>
<circle cx="321.2" cy="284.4" r="0.65" fill="#f0a020" />
<circle cx="312.4" cy="284.4" r="0.65" fill="#f0a020" />
<circle cx="312.4" cy="275.6" r="0.65" fill="#f0a020" />
</g>
<clipPath id="cpD3"><rect x="294.6" y="314" width="45" height="44"/></clipPath>
<rect x="294.6" y="314" width="45" height="44" fill="#2d2f9e" />
<g clip-path="url(#cpD3)">
<circle cx="290.4" cy="309.8" r="4.2" fill="#2854c4"/>
<circle cx="290.4" cy="318.6" r="4.2" fill="#2854c4"/>
<circle cx="290.4" cy="327.4" r="4.2" fill="#2854c4"/>
<circle cx="290.4" cy="336.2" r="4.2" fill="#2854c4"/>
<circle cx="290.4" cy="345" r="4.2" fill="#2854c4"/>
<circle cx="290.4" cy="353.8" r="4.2" fill="#2854c4"/>
<circle cx="290.4" cy="362.6" r="4.2" fill="#2854c4"/>
<circle cx="299.2" cy="309.8" r="4.2" fill="#2854c4"/>
<circle cx="299.2" cy="318.6" r="4.2" fill="#2560d4"/>
<path d="M302.24 317.26 A3.3 3.3 0 0 1 297.86 321.64" stroke="#46a8ee" stroke-width="1.0" fill="none" opacity="0.7"/>
<circle cx="299.2" cy="318.6" r="3.2" fill="none" stroke="#46a8ee" stroke-width="0.6" opacity="0.49" stroke-dasharray="2.4 1.8" transform="rotate(205.32 299.2 318.6)"/>
<circle cx="299.2" cy="327.4" r="4.2" fill="#2560d4"/>
<path d="M301.66 325.16 A3.3 3.3 0 0 1 298.89 330.71" stroke="#5ccaf4" stroke-width="1.4" fill="none" opacity="0.9"/>
<circle cx="299.2" cy="327.4" r="3.2" fill="none" stroke="#5ccaf4" stroke-width="0.84" opacity="0.63" stroke-dasharray="2.4 1.8" transform="rotate(227.6 299.2 327.4)"/>
<circle cx="299.2" cy="336.2" r="4.2" fill="#2560d4"/>
<path d="M300.4 333.1 A3.3 3.3 0 0 1 300.4 339.3" stroke="#5ccaf4" stroke-width="1.4" fill="none" opacity="0.9"/>
<circle cx="299.2" cy="336.2" r="3.2" fill="none" stroke="#5ccaf4" stroke-width="0.84" opacity="0.63" stroke-dasharray="2.4 1.8" transform="rotate(294.12 299.2 336.2)"/>
<circle cx="299.2" cy="345" r="4.2" fill="#2560d4"/>
<path d="M298.89 341.69 A3.3 3.3 0 0 1 301.66 347.24" stroke="#5ccaf4" stroke-width="1.4" fill="none" opacity="0.9"/>
<circle cx="299.2" cy="345" r="3.2" fill="none" stroke="#5ccaf4" stroke-width="0.84" opacity="0.63" stroke-dasharray="2.4 1.8" transform="rotate(99.82 299.2 345)"/>
<circle cx="299.2" cy="353.8" r="4.2" fill="#2560d4"/>
<path d="M297.86 350.76 A3.3 3.3 0 0 1 302.24 355.14" stroke="#46a8ee" stroke-width="1.0" fill="none" opacity="0.7"/>
<circle cx="299.2" cy="353.8" r="3.2" fill="none" stroke="#46a8ee" stroke-width="0.6" opacity="0.49" stroke-dasharray="2.4 1.8" transform="rotate(234.67 299.2 353.8)"/>
<circle cx="299.2" cy="362.6" r="4.2" fill="#2854c4"/>
<circle cx="308" cy="309.8" r="4.2" fill="#2854c4"/>
<circle cx="308" cy="318.6" r="4.2" fill="#2560d4"/>
<path d="M311.31 318.29 A3.3 3.3 0 0 1 305.76 321.06" stroke="#5ccaf4" stroke-width="1.4" fill="none" opacity="0.9"/>
<circle cx="308" cy="318.6" r="3.2" fill="none" stroke="#5ccaf4" stroke-width="0.84" opacity="0.63" stroke-dasharray="2.4 1.8" transform="rotate(320.69 308 318.6)"/>
<circle cx="308" cy="327.4" r="4.2" fill="#2a6ee2"/>
<path d="M311.04 326.06 A3.3 3.3 0 0 1 306.66 330.44" stroke="#8ae4f4" stroke-width="1.9" fill="none" opacity="0.97"/>
<circle cx="308" cy="327.4" r="3.2" fill="none" stroke="#8ae4f4" stroke-width="1.14" opacity="0.68" stroke-dasharray="2.4 1.8" transform="rotate(327.18 308 327.4)"/>
<circle cx="308" cy="336.2" r="4.2" fill="#2a6ee2"/>
<circle cx="308" cy="336.2" r="3.3" fill="none" stroke="#5cc8f4" stroke-width="1.1" opacity="0.9" stroke-dasharray="5 1.5 3 1"  transform="rotate(67.14 308 336.2)"/>
<path d="M309.8 333.2 A3.5 3.5 0 0 1 309.8 339.2" stroke="#e4fce4" stroke-width="2.1" fill="none" opacity="0.97"/>
<circle cx="307.2" cy="336.2" r="1.5" fill="#2a48c0" opacity="0.8"/>
<circle cx="308" cy="345" r="4.2" fill="#2a6ee2"/>
<path d="M306.66 341.96 A3.3 3.3 0 0 1 311.04 346.34" stroke="#8ae4f4" stroke-width="1.9" fill="none" opacity="0.97"/>
<circle cx="308" cy="345" r="3.2" fill="none" stroke="#8ae4f4" stroke-width="1.14" opacity="0.68" stroke-dasharray="2.4 1.8" transform="rotate(234.62 308 345)"/>
<circle cx="308" cy="353.8" r="4.2" fill="#2560d4"/>
<path d="M305.76 351.34 A3.3 3.3 0 0 1 311.31 354.11" stroke="#5ccaf4" stroke-width="1.4" fill="none" opacity="0.9"/>
<circle cx="308" cy="353.8" r="3.2" fill="none" stroke="#5ccaf4" stroke-width="0.84" opacity="0.63" stroke-dasharray="2.4 1.8" transform="rotate(222.16 308 353.8)"/>
<circle cx="308" cy="362.6" r="4.2" fill="#2854c4"/>
<circle cx="316.8" cy="309.8" r="4.2" fill="#2854c4"/>
<circle cx="316.8" cy="318.6" r="4.2" fill="#2560d4"/>
<path d="M319.9 319.8 A3.3 3.3 0 0 1 313.7 319.8" stroke="#5ccaf4" stroke-width="1.4" fill="none" opacity="0.9"/>
<circle cx="316.8" cy="318.6" r="3.2" fill="none" stroke="#5ccaf4" stroke-width="0.84" opacity="0.63" stroke-dasharray="2.4 1.8" transform="rotate(181.22 316.8 318.6)"/>
<circle cx="316.8" cy="327.4" r="4.2" fill="#2a6ee2"/>
<circle cx="316.8" cy="327.4" r="3.3" fill="none" stroke="#5cc8f4" stroke-width="1.1" opacity="0.9" stroke-dasharray="5 1.5 3 1"  transform="rotate(347.83 316.8 327.4)"/>
<path d="M319.8 329.2 A3.5 3.5 0 0 1 313.8 329.2" stroke="#e4fce4" stroke-width="2.1" fill="none" opacity="0.97"/>
<circle cx="316.8" cy="326.6" r="1.5" fill="#2a48c0" opacity="0.8"/>
<circle cx="316.8" cy="345" r="4.2" fill="#2a6ee2"/>
<circle cx="316.8" cy="345" r="3.3" fill="none" stroke="#5cc8f4" stroke-width="1.1" opacity="0.9" stroke-dasharray="5 1.5 3 1"  transform="rotate(190.18 316.8 345)"/>
<path d="M313.8 343.2 A3.5 3.5 0 0 1 319.8 343.2" stroke="#e4fce4" stroke-width="2.1" fill="none" opacity="0.97"/>
<circle cx="316.8" cy="345.8" r="1.5" fill="#2a48c0" opacity="0.8"/>
<circle cx="316.8" cy="353.8" r="4.2" fill="#2560d4"/>
<path d="M313.7 352.6 A3.3 3.3 0 0 1 319.9 352.6" stroke="#5ccaf4" stroke-width="1.4" fill="none" opacity="0.9"/>
<circle cx="316.8" cy="353.8" r="3.2" fill="none" stroke="#5ccaf4" stroke-width="0.84" opacity="0.63" stroke-dasharray="2.4 1.8" transform="rotate(160.29 316.8 353.8)"/>
<circle cx="316.8" cy="362.6" r="4.2" fill="#2854c4"/>
<circle cx="325.6" cy="309.8" r="4.2" fill="#2854c4"/>
<circle cx="325.6" cy="318.6" r="4.2" fill="#2560d4"/>
<path d="M327.84 321.06 A3.3 3.3 0 0 1 322.29 318.29" stroke="#5ccaf4" stroke-width="1.4" fill="none" opacity="0.9"/>
<circle cx="325.6" cy="318.6" r="3.2" fill="none" stroke="#5ccaf4" stroke-width="0.84" opacity="0.63" stroke-dasharray="2.4 1.8" transform="rotate(339.68 325.6 318.6)"/>
<circle cx="325.6" cy="327.4" r="4.2" fill="#2a6ee2"/>
<path d="M326.94 330.44 A3.3 3.3 0 0 1 322.56 326.06" stroke="#8ae4f4" stroke-width="1.9" fill="none" opacity="0.97"/>
<circle cx="325.6" cy="327.4" r="3.2" fill="none" stroke="#8ae4f4" stroke-width="1.14" opacity="0.68" stroke-dasharray="2.4 1.8" transform="rotate(228.82 325.6 327.4)"/>
<circle cx="325.6" cy="336.2" r="4.2" fill="#2a6ee2"/>
<circle cx="325.6" cy="336.2" r="3.3" fill="none" stroke="#5cc8f4" stroke-width="1.1" opacity="0.9" stroke-dasharray="5 1.5 3 1"  transform="rotate(108.47 325.6 336.2)"/>
<path d="M323.8 339.2 A3.5 3.5 0 0 1 323.8 333.2" stroke="#e4fce4" stroke-width="2.1" fill="none" opacity="0.97"/>
<circle cx="326.4" cy="336.2" r="1.5" fill="#2a48c0" opacity="0.8"/>
<circle cx="325.6" cy="345" r="4.2" fill="#2a6ee2"/>
<path d="M322.56 346.34 A3.3 3.3 0 0 1 326.94 341.96" stroke="#8ae4f4" stroke-width="1.9" fill="none" opacity="0.97"/>
<circle cx="325.6" cy="345" r="3.2" fill="none" stroke="#8ae4f4" stroke-width="1.14" opacity="0.68" stroke-dasharray="2.4 1.8" transform="rotate(111.33 325.6 345)"/>
<circle cx="325.6" cy="353.8" r="4.2" fill="#2560d4"/>
<path d="M322.29 354.11 A3.3 3.3 0 0 1 327.84 351.34" stroke="#5ccaf4" stroke-width="1.4" fill="none" opacity="0.9"/>
<circle cx="325.6" cy="353.8" r="3.2" fill="none" stroke="#5ccaf4" stroke-width="0.84" opacity="0.63" stroke-dasharray="2.4 1.8" transform="rotate(178.6 325.6 353.8)"/>
<circle cx="325.6" cy="362.6" r="4.2" fill="#2854c4"/>
<circle cx="334.4" cy="309.8" r="4.2" fill="#2854c4"/>
<circle cx="334.4" cy="318.6" r="4.2" fill="#2560d4"/>
<path d="M335.74 321.64 A3.3 3.3 0 0 1 331.36 317.26" stroke="#46a8ee" stroke-width="1.0" fill="none" opacity="0.7"/>
<circle cx="334.4" cy="318.6" r="3.2" fill="none" stroke="#46a8ee" stroke-width="0.6" opacity="0.49" stroke-dasharray="2.4 1.8" transform="rotate(18.94 334.4 318.6)"/>
<circle cx="334.4" cy="327.4" r="4.2" fill="#2560d4"/>
<path d="M334.71 330.71 A3.3 3.3 0 0 1 331.94 325.16" stroke="#5ccaf4" stroke-width="1.4" fill="none" opacity="0.9"/>
<circle cx="334.4" cy="327.4" r="3.2" fill="none" stroke="#5ccaf4" stroke-width="0.84" opacity="0.63" stroke-dasharray="2.4 1.8" transform="rotate(218.73 334.4 327.4)"/>
<circle cx="334.4" cy="336.2" r="4.2" fill="#2560d4"/>
<path d="M333.2 339.3 A3.3 3.3 0 0 1 333.2 333.1" stroke="#5ccaf4" stroke-width="1.4" fill="none" opacity="0.9"/>
<circle cx="334.4" cy="336.2" r="3.2" fill="none" stroke="#5ccaf4" stroke-width="0.84" opacity="0.63" stroke-dasharray="2.4 1.8" transform="rotate(264.91 334.4 336.2)"/>
<circle cx="334.4" cy="345" r="4.2" fill="#2560d4"/>
<path d="M331.94 347.24 A3.3 3.3 0 0 1 334.71 341.69" stroke="#5ccaf4" stroke-width="1.4" fill="none" opacity="0.9"/>
<circle cx="334.4" cy="345" r="3.2" fill="none" stroke="#5ccaf4" stroke-width="0.84" opacity="0.63" stroke-dasharray="2.4 1.8" transform="rotate(153.41 334.4 345)"/>
<circle cx="334.4" cy="353.8" r="4.2" fill="#2560d4"/>
<path d="M331.36 355.14 A3.3 3.3 0 0 1 335.74 350.76" stroke="#46a8ee" stroke-width="1.0" fill="none" opacity="0.7"/>
<circle cx="334.4" cy="353.8" r="3.2" fill="none" stroke="#46a8ee" stroke-width="0.6" opacity="0.49" stroke-dasharray="2.4 1.8" transform="rotate(304.77 334.4 353.8)"/>
<circle cx="334.4" cy="362.6" r="4.2" fill="#2854c4"/>
<circle cx="343.2" cy="309.8" r="4.2" fill="#2854c4"/>
<circle cx="343.2" cy="318.6" r="4.2" fill="#2854c4"/>
<circle cx="343.2" cy="327.4" r="4.2" fill="#2854c4"/>
<circle cx="343.2" cy="336.2" r="4.2" fill="#2854c4"/>
<circle cx="343.2" cy="345" r="4.2" fill="#2854c4"/>
<circle cx="343.2" cy="353.8" r="4.2" fill="#2854c4"/>
<circle cx="343.2" cy="362.6" r="4.2" fill="#2854c4"/>
<circle cx="316.8" cy="336.2" r="4.6" fill="url(#ctr)"/>
<circle cx="321.2" cy="340.6" r="0.65" fill="#f0a020" />
<circle cx="312.4" cy="340.6" r="0.65" fill="#f0a020" />
<circle cx="312.4" cy="331.8" r="0.65" fill="#f0a020" />
</g>
<line x1="317" y1="198.6" x2="317" y2="205" stroke="#f07a30" stroke-width="0.5" />
<line x1="317" y1="240" x2="317" y2="246" stroke="#f07a30" stroke-width="0.5" />
<line x1="339.6" y1="258" x2="335" y2="262.4" stroke="#f07a30" stroke-width="0.5" />
<line x1="294.6" y1="302" x2="298.8" y2="297.6" stroke="#f07a30" stroke-width="0.5" />
<line x1="339.6" y1="314" x2="335" y2="318.4" stroke="#f07a30" stroke-width="0.5" />
<line x1="294.6" y1="358" x2="298.8" y2="353.6" stroke="#f07a30" stroke-width="0.5" />
<text x="317" y="198.4" font-size="2.9" fill="#222" font-weight="bold" text-anchor="middle" >T=293K</text>
<text x="317" y="249.4" font-size="3.1" fill="#222" font-weight="bold" text-anchor="middle" >m // [001]<tspan font-size="1.9" dy="0.4">c</tspan></text>
<text x="317" y="255.8" font-size="2.9" fill="#222" font-weight="bold" text-anchor="middle" >T=363K</text>
<text x="317" y="306.2" font-size="3.1" fill="#222" font-weight="bold" text-anchor="middle" >m // [010]<tspan font-size="1.9" dy="0.4">o</tspan></text>
<text x="317" y="312.4" font-size="2.9" fill="#222" font-weight="bold" text-anchor="middle" >T=95K</text>
<text x="317" y="362.4" font-size="3.1" fill="#222" font-weight="bold" text-anchor="middle" >m // [010]<tspan font-size="1.9" dy="0.4">R</tspan></text>
<rect x="346.4" y="366.3" width="2.2" height="0.4" fill="#999" />
<clipPath id="cpD4"><rect x="355.6" y="200" width="70.2" height="70.6"/></clipPath>
<rect x="355.6" y="200" width="70.2" height="70.6" fill="#1d40bc" />
<g clip-path="url(#cpD4)">
<circle cx="418.8" cy="235" r="5.6" fill="none" stroke="#3a78e0" stroke-width="0.5" opacity="0.3"/>
<circle cx="404.6" cy="259.6" r="5.6" fill="none" stroke="#3a78e0" stroke-width="0.5" opacity="0.3"/>
<circle cx="376.2" cy="259.6" r="5.6" fill="none" stroke="#3a78e0" stroke-width="0.5" opacity="0.3"/>
<circle cx="362" cy="235" r="5.6" fill="none" stroke="#3a78e0" stroke-width="0.5" opacity="0.3"/>
<circle cx="376.2" cy="210.4" r="5.6" fill="none" stroke="#3a78e0" stroke-width="0.5" opacity="0.3"/>
<circle cx="404.6" cy="210.4" r="5.6" fill="none" stroke="#3a78e0" stroke-width="0.5" opacity="0.3"/>
<circle cx="411.7" cy="247.3" r="5.6" fill="#2a5ad0" opacity="0.48"/>
<circle cx="411.7" cy="247.3" r="4.6" fill="none" stroke="#5cc8f2" stroke-width="0.7" opacity="0.6" stroke-dasharray="1.6 1" transform="rotate(82.23 411.7 247.3)"/>
<circle cx="411.7" cy="247.3" r="2.6" fill="none" stroke="#5cc8f2" stroke-width="0.6" opacity="0.51" stroke-dasharray="1.2 0.9"/>
<circle cx="390.4" cy="259.59" r="5.6" fill="#2a5ad0" opacity="0.48"/>
<circle cx="390.4" cy="259.59" r="4.6" fill="none" stroke="#5cc8f2" stroke-width="0.7" opacity="0.6" stroke-dasharray="1.6 1" transform="rotate(12.37 390.4 259.59)"/>
<circle cx="390.4" cy="259.59" r="2.6" fill="none" stroke="#5cc8f2" stroke-width="0.6" opacity="0.51" stroke-dasharray="1.2 0.9"/>
<circle cx="369.1" cy="247.3" r="5.6" fill="#2a5ad0" opacity="0.48"/>
<circle cx="369.1" cy="247.3" r="4.6" fill="none" stroke="#5cc8f2" stroke-width="0.7" opacity="0.6" stroke-dasharray="1.6 1" transform="rotate(50.05 369.1 247.3)"/>
<circle cx="369.1" cy="247.3" r="2.6" fill="none" stroke="#5cc8f2" stroke-width="0.6" opacity="0.51" stroke-dasharray="1.2 0.9"/>
<circle cx="369.1" cy="222.7" r="5.6" fill="#2a5ad0" opacity="0.48"/>
<circle cx="369.1" cy="222.7" r="4.6" fill="none" stroke="#5cc8f2" stroke-width="0.7" opacity="0.6" stroke-dasharray="1.6 1" transform="rotate(43.47 369.1 222.7)"/>
<circle cx="369.1" cy="222.7" r="2.6" fill="none" stroke="#5cc8f2" stroke-width="0.6" opacity="0.51" stroke-dasharray="1.2 0.9"/>
<circle cx="390.4" cy="210.41" r="5.6" fill="#2a5ad0" opacity="0.48"/>
<circle cx="390.4" cy="210.41" r="4.6" fill="none" stroke="#5cc8f2" stroke-width="0.7" opacity="0.6" stroke-dasharray="1.6 1" transform="rotate(86.31 390.4 210.41)"/>
<circle cx="390.4" cy="210.41" r="2.6" fill="none" stroke="#5cc8f2" stroke-width="0.6" opacity="0.51" stroke-dasharray="1.2 0.9"/>
<circle cx="411.7" cy="222.7" r="5.6" fill="#2a5ad0" opacity="0.48"/>
<circle cx="411.7" cy="222.7" r="4.6" fill="none" stroke="#5cc8f2" stroke-width="0.7" opacity="0.6" stroke-dasharray="1.6 1" transform="rotate(34.24 411.7 222.7)"/>
<circle cx="411.7" cy="222.7" r="2.6" fill="none" stroke="#5cc8f2" stroke-width="0.6" opacity="0.51" stroke-dasharray="1.2 0.9"/>
<circle cx="404.6" cy="235" r="7.3" fill="#2f86ee"/>
<circle cx="404.6" cy="235" r="6.199999999999999" fill="none" stroke="#7fe0f2" stroke-width="2" opacity="0.92" stroke-dasharray="11 2.5 5 2" transform="rotate(95 404.6 235)"/>
<circle cx="405.4" cy="235" r="3.4" fill="#3f9cf2" opacity="0.85"/>
<circle cx="402.6" cy="233.8" r="1.6" fill="#2a62d8" opacity="0.8"/>
<circle cx="396.98" cy="238.8" r="1.2" fill="#d0f060" opacity="0.9"/>
<circle cx="397.5" cy="247.3" r="7.3" fill="#2f86ee"/>
<circle cx="397.5" cy="247.3" r="6.199999999999999" fill="none" stroke="#7fe0f2" stroke-width="2" opacity="0.92" stroke-dasharray="11 2.5 5 2" transform="rotate(155 397.5 247.3)"/>
<circle cx="397.9" cy="247.99" r="3.4" fill="#3f9cf2" opacity="0.85"/>
<circle cx="397.54" cy="244.97" r="1.6" fill="#2a62d8" opacity="0.8"/>
<circle cx="390.4" cy="242.6" r="1.2" fill="#d0f060" opacity="0.9"/>
<circle cx="383.3" cy="247.3" r="7.3" fill="#2f86ee"/>
<circle cx="383.3" cy="247.3" r="6.199999999999999" fill="none" stroke="#7fe0f2" stroke-width="2" opacity="0.92" stroke-dasharray="11 2.5 5 2" transform="rotate(215 383.3 247.3)"/>
<circle cx="382.9" cy="247.99" r="3.4" fill="#3f9cf2" opacity="0.85"/>
<circle cx="385.34" cy="246.17" r="1.6" fill="#2a62d8" opacity="0.8"/>
<circle cx="383.82" cy="238.8" r="1.2" fill="#d0f060" opacity="0.9"/>
<circle cx="376.2" cy="235" r="7.3" fill="#2f86ee"/>
<circle cx="376.2" cy="235" r="6.199999999999999" fill="none" stroke="#7fe0f2" stroke-width="2" opacity="0.92" stroke-dasharray="11 2.5 5 2" transform="rotate(275 376.2 235)"/>
<circle cx="375.4" cy="235" r="3.4" fill="#3f9cf2" opacity="0.85"/>
<circle cx="378.2" cy="236.2" r="1.6" fill="#2a62d8" opacity="0.8"/>
<circle cx="383.82" cy="231.2" r="1.2" fill="#d0f060" opacity="0.9"/>
<circle cx="383.3" cy="222.7" r="7.3" fill="#2f86ee"/>
<circle cx="383.3" cy="222.7" r="6.199999999999999" fill="none" stroke="#7fe0f2" stroke-width="2" opacity="0.92" stroke-dasharray="11 2.5 5 2" transform="rotate(335 383.3 222.7)"/>
<circle cx="382.9" cy="222.01" r="3.4" fill="#3f9cf2" opacity="0.85"/>
<circle cx="383.26" cy="225.03" r="1.6" fill="#2a62d8" opacity="0.8"/>
<circle cx="390.4" cy="227.4" r="1.2" fill="#d0f060" opacity="0.9"/>
<circle cx="397.5" cy="222.7" r="7.3" fill="#2f86ee"/>
<circle cx="397.5" cy="222.7" r="6.199999999999999" fill="none" stroke="#7fe0f2" stroke-width="2" opacity="0.92" stroke-dasharray="11 2.5 5 2" transform="rotate(395 397.5 222.7)"/>
<circle cx="397.9" cy="222.01" r="3.4" fill="#3f9cf2" opacity="0.85"/>
<circle cx="395.46" cy="223.83" r="1.6" fill="#2a62d8" opacity="0.8"/>
<circle cx="396.98" cy="231.2" r="1.2" fill="#d0f060" opacity="0.9"/>
<circle cx="390.4" cy="235" r="7.8" fill="url(#ctr)"/>
</g>
<clipPath id="cpD5"><rect x="355.6" y="290" width="70.2" height="71"/></clipPath>
<rect x="355.6" y="290" width="70.2" height="71" fill="#1d40bc" />
<g clip-path="url(#cpD5)">
<circle cx="418.6" cy="325" r="5.6" fill="none" stroke="#3a78e0" stroke-width="0.5" opacity="0.5"/>
<circle cx="404.4" cy="349.6" r="5.6" fill="none" stroke="#3a78e0" stroke-width="0.5" opacity="0.5"/>
<circle cx="376" cy="349.6" r="5.6" fill="none" stroke="#3a78e0" stroke-width="0.5" opacity="0.5"/>
<circle cx="361.8" cy="325" r="5.6" fill="none" stroke="#3a78e0" stroke-width="0.5" opacity="0.5"/>
<circle cx="376" cy="300.4" r="5.6" fill="none" stroke="#3a78e0" stroke-width="0.5" opacity="0.5"/>
<circle cx="404.4" cy="300.4" r="5.6" fill="none" stroke="#3a78e0" stroke-width="0.5" opacity="0.5"/>
<circle cx="411.5" cy="337.3" r="5.6" fill="#2a5ad0" opacity="0.76"/>
<circle cx="411.5" cy="337.3" r="4.6" fill="none" stroke="#5cc8f2" stroke-width="1.3" opacity="0.95" stroke-dasharray="1.6 1" transform="rotate(8.13 411.5 337.3)"/>
<circle cx="411.5" cy="337.3" r="2.6" fill="none" stroke="#5cc8f2" stroke-width="1.2" opacity="0.81" stroke-dasharray="1.2 0.9"/>
<circle cx="411.5" cy="337.3" r="1" fill="#7ad8f4" opacity="0.8"/>
<circle cx="390.2" cy="349.59" r="5.6" fill="#2a5ad0" opacity="0.76"/>
<circle cx="390.2" cy="349.59" r="4.6" fill="none" stroke="#5cc8f2" stroke-width="1.3" opacity="0.95" stroke-dasharray="1.6 1" transform="rotate(85.56 390.2 349.59)"/>
<circle cx="390.2" cy="349.59" r="2.6" fill="none" stroke="#5cc8f2" stroke-width="1.2" opacity="0.81" stroke-dasharray="1.2 0.9"/>
<circle cx="390.2" cy="349.59" r="1" fill="#7ad8f4" opacity="0.8"/>
<circle cx="368.9" cy="337.3" r="5.6" fill="#2a5ad0" opacity="0.76"/>
<circle cx="368.9" cy="337.3" r="4.6" fill="none" stroke="#5cc8f2" stroke-width="1.3" opacity="0.95" stroke-dasharray="1.6 1" transform="rotate(13.5 368.9 337.3)"/>
<circle cx="368.9" cy="337.3" r="2.6" fill="none" stroke="#5cc8f2" stroke-width="1.2" opacity="0.81" stroke-dasharray="1.2 0.9"/>
<circle cx="368.9" cy="337.3" r="1" fill="#7ad8f4" opacity="0.8"/>
<circle cx="368.9" cy="312.7" r="5.6" fill="#2a5ad0" opacity="0.76"/>
<circle cx="368.9" cy="312.7" r="4.6" fill="none" stroke="#5cc8f2" stroke-width="1.3" opacity="0.95" stroke-dasharray="1.6 1" transform="rotate(66.54 368.9 312.7)"/>
<circle cx="368.9" cy="312.7" r="2.6" fill="none" stroke="#5cc8f2" stroke-width="1.2" opacity="0.81" stroke-dasharray="1.2 0.9"/>
<circle cx="368.9" cy="312.7" r="1" fill="#7ad8f4" opacity="0.8"/>
<circle cx="390.2" cy="300.41" r="5.6" fill="#2a5ad0" opacity="0.76"/>
<circle cx="390.2" cy="300.41" r="4.6" fill="none" stroke="#5cc8f2" stroke-width="1.3" opacity="0.95" stroke-dasharray="1.6 1" transform="rotate(75.71 390.2 300.41)"/>
<circle cx="390.2" cy="300.41" r="2.6" fill="none" stroke="#5cc8f2" stroke-width="1.2" opacity="0.81" stroke-dasharray="1.2 0.9"/>
<circle cx="390.2" cy="300.41" r="1" fill="#7ad8f4" opacity="0.8"/>
<circle cx="411.5" cy="312.7" r="5.6" fill="#2a5ad0" opacity="0.76"/>
<circle cx="411.5" cy="312.7" r="4.6" fill="none" stroke="#5cc8f2" stroke-width="1.3" opacity="0.95" stroke-dasharray="1.6 1" transform="rotate(67.24 411.5 312.7)"/>
<circle cx="411.5" cy="312.7" r="2.6" fill="none" stroke="#5cc8f2" stroke-width="1.2" opacity="0.81" stroke-dasharray="1.2 0.9"/>
<circle cx="411.5" cy="312.7" r="1" fill="#7ad8f4" opacity="0.8"/>
<circle cx="404.4" cy="325" r="7.3" fill="#4aa8f2"/>
<circle cx="404.4" cy="325" r="6.199999999999999" fill="none" stroke="#c0f6f6" stroke-width="2" opacity="0.92" stroke-dasharray="11 2.5 5 2" transform="rotate(95 404.4 325)"/>
<circle cx="405.2" cy="325" r="3.4" fill="#8adcf4" opacity="0.85"/>
<circle cx="402.4" cy="323.8" r="1.6" fill="#3a8cf0" opacity="0.8"/>
<circle cx="396.78" cy="328.8" r="1.2" fill="#d0f060" opacity="0.9"/>
<circle cx="397.3" cy="337.3" r="7.3" fill="#4aa8f2"/>
<circle cx="397.3" cy="337.3" r="6.199999999999999" fill="none" stroke="#c0f6f6" stroke-width="2" opacity="0.92" stroke-dasharray="11 2.5 5 2" transform="rotate(155 397.3 337.3)"/>
<circle cx="397.7" cy="337.99" r="3.4" fill="#8adcf4" opacity="0.85"/>
<circle cx="397.34" cy="334.97" r="1.6" fill="#3a8cf0" opacity="0.8"/>
<circle cx="390.2" cy="332.6" r="1.2" fill="#d0f060" opacity="0.9"/>
<circle cx="383.1" cy="337.3" r="7.3" fill="#4aa8f2"/>
<circle cx="383.1" cy="337.3" r="6.199999999999999" fill="none" stroke="#c0f6f6" stroke-width="2" opacity="0.92" stroke-dasharray="11 2.5 5 2" transform="rotate(215 383.1 337.3)"/>
<circle cx="382.7" cy="337.99" r="3.4" fill="#8adcf4" opacity="0.85"/>
<circle cx="385.14" cy="336.17" r="1.6" fill="#3a8cf0" opacity="0.8"/>
<circle cx="383.62" cy="328.8" r="1.2" fill="#d0f060" opacity="0.9"/>
<circle cx="376" cy="325" r="7.3" fill="#4aa8f2"/>
<circle cx="376" cy="325" r="6.199999999999999" fill="none" stroke="#c0f6f6" stroke-width="2" opacity="0.92" stroke-dasharray="11 2.5 5 2" transform="rotate(275 376 325)"/>
<circle cx="375.2" cy="325" r="3.4" fill="#8adcf4" opacity="0.85"/>
<circle cx="378" cy="326.2" r="1.6" fill="#3a8cf0" opacity="0.8"/>
<circle cx="383.62" cy="321.2" r="1.2" fill="#d0f060" opacity="0.9"/>
<circle cx="383.1" cy="312.7" r="7.3" fill="#4aa8f2"/>
<circle cx="383.1" cy="312.7" r="6.199999999999999" fill="none" stroke="#c0f6f6" stroke-width="2" opacity="0.92" stroke-dasharray="11 2.5 5 2" transform="rotate(335 383.1 312.7)"/>
<circle cx="382.7" cy="312.01" r="3.4" fill="#8adcf4" opacity="0.85"/>
<circle cx="383.06" cy="315.03" r="1.6" fill="#3a8cf0" opacity="0.8"/>
<circle cx="390.2" cy="317.4" r="1.2" fill="#d0f060" opacity="0.9"/>
<circle cx="397.3" cy="312.7" r="7.3" fill="#4aa8f2"/>
<circle cx="397.3" cy="312.7" r="6.199999999999999" fill="none" stroke="#c0f6f6" stroke-width="2" opacity="0.92" stroke-dasharray="11 2.5 5 2" transform="rotate(395 397.3 312.7)"/>
<circle cx="397.7" cy="312.01" r="3.4" fill="#8adcf4" opacity="0.85"/>
<circle cx="395.26" cy="313.83" r="1.6" fill="#3a8cf0" opacity="0.8"/>
<circle cx="396.78" cy="321.2" r="1.2" fill="#d0f060" opacity="0.9"/>
<circle cx="390.2" cy="325" r="7.8" fill="url(#ctr)"/>
</g>
<line x1="367" y1="196" x2="370.4" y2="202" stroke="#f07a30" stroke-width="0.8" />
<line x1="390.4" y1="196" x2="390.4" y2="203.4" stroke="#f07a30" stroke-width="0.8" />
<line x1="413.6" y1="196" x2="410.4" y2="202" stroke="#f07a30" stroke-width="0.8" />
<line x1="350.6" y1="211" x2="358.6" y2="216.6" stroke="#f07a30" stroke-width="0.8" />
<line x1="430" y1="211" x2="422" y2="216.6" stroke="#f07a30" stroke-width="0.8" />
<line x1="350.6" y1="261" x2="358.4" y2="255.4" stroke="#f07a30" stroke-width="0.8" />
<line x1="430.4" y1="259" x2="422.4" y2="254" stroke="#f07a30" stroke-width="0.8" />
<line x1="368.4" y1="272.6" x2="371.6" y2="266.6" stroke="#f07a30" stroke-width="0.8" />
<line x1="412" y1="272.6" x2="409" y2="266.6" stroke="#f07a30" stroke-width="0.8" />
<line x1="390.4" y1="266" x2="390.4" y2="276.6" stroke="#f07a30" stroke-width="0.8" />
<line x1="390.4" y1="284.6" x2="390.4" y2="295" stroke="#f07a30" stroke-width="0.8" />
<line x1="390.4" y1="355" x2="390.4" y2="365.6" stroke="#f07a30" stroke-width="0.8" />
<line x1="352.6" y1="235" x2="359.6" y2="235" stroke="#e02020" stroke-width="0.8" stroke-dasharray="0.9 0.8"/>
<line x1="423.6" y1="235" x2="430.4" y2="235" stroke="#e02020" stroke-width="0.8" stroke-dasharray="0.9 0.8"/>
<text x="364" y="194.8" font-size="4.3" fill="#222" font-weight="bold" text-anchor="middle" >m(0,1)</text>
<text x="390" y="194.8" font-size="4.3" fill="#222" font-weight="bold" text-anchor="middle" >m(1,1)</text>
<text x="415.6" y="194.8" font-size="4.3" fill="#222" font-weight="bold" text-anchor="middle" >m(1,0)</text>
<text x="431" y="210.6" font-size="4" fill="#222" font-weight="bold" text-anchor="start" >m(2, 1̄)</text>
<text x="431" y="234.6" font-size="4" fill="#222" font-weight="bold" text-anchor="start" >m(1, 1̄)</text>
<text x="431" y="257.8" font-size="4" fill="#222" font-weight="bold" text-anchor="start" >m(1, 2̄)</text>
<text x="364.4" y="276.6" font-size="3.9" fill="#222" font-weight="bold" text-anchor="start" >γ<tspan font-size="2" dy="0.5">m(1,1)</tspan><tspan dy="-0.5">=95.4%</tspan></text>
<text x="357" y="288.2" font-size="4" fill="#222" font-weight="bold" text-anchor="start" >m(1,1) // [11̄2]<tspan font-size="2.2" dy="0.5">c</tspan></text>
<text x="357.4" y="359.2" font-size="5.6" fill="#f08868" font-weight="normal" text-anchor="start" font-family="Liberation Serif, serif" >[11̄1]<tspan font-size="2.4" dy="0.6">c</tspan><tspan dy="-0.6"> 200kV; 135nm</tspan></text>
<text x="393" y="312.4" font-size="1.9" fill="#e060a0" font-weight="normal" text-anchor="start" >m(1,1)</text>
<text x="401" y="322.6" font-size="1.9" fill="#e060a0" font-weight="normal" text-anchor="start" >(1,0)</text>
<g shape-rendering="crispEdges">
<rect x="451.7" y="199.7" width="34.6" height="70.9" fill="#ffffff" />
<rect x="451.7" y="199.7" width="7.22" height="3.84" fill="#000000" />
<rect x="458.62" y="199.7" width="7.22" height="3.84" fill="#ffffff" />
<rect x="465.54" y="199.7" width="3.76" height="3.84" fill="#fbb82a" />
<rect x="469" y="199.7" width="14.14" height="3.84" fill="#f59a22" />
<rect x="482.84" y="199.7" width="3.46" height="3.84" fill="#000000" />
<rect x="451.7" y="203.24" width="3.76" height="3.85" fill="#ffffff" />
<rect x="455.16" y="203.24" width="3.76" height="3.85" fill="#ffdc32" />
<rect x="458.62" y="203.24" width="14.14" height="3.85" fill="#ffffff" />
<rect x="472.46" y="203.24" width="3.76" height="3.85" fill="#ffe868" />
<rect x="475.92" y="203.24" width="3.76" height="3.85" fill="#f07a20" />
<rect x="479.38" y="203.24" width="3.76" height="3.85" fill="#e2441c" />
<rect x="482.84" y="203.24" width="3.46" height="3.85" fill="#ffffff" />
<rect x="451.7" y="206.79" width="34.6" height="3.84" fill="#ffffff" />
<rect x="451.7" y="210.33" width="34.6" height="3.85" fill="#ffffff" />
<rect x="451.7" y="213.88" width="7.22" height="3.84" fill="#fdf0a0" />
<rect x="458.62" y="213.88" width="27.68" height="3.84" fill="#ffffff" />
<rect x="451.7" y="217.42" width="7.22" height="3.85" fill="#fdf0a0" />
<rect x="458.62" y="217.42" width="27.68" height="3.85" fill="#ffffff" />
<rect x="451.7" y="220.97" width="7.22" height="3.84" fill="#fdf0a0" />
<rect x="458.62" y="220.97" width="3.76" height="3.84" fill="#ffffff" />
<rect x="462.08" y="220.97" width="3.76" height="3.84" fill="#000000" />
<rect x="465.54" y="220.97" width="10.68" height="3.84" fill="#ffffff" />
<rect x="475.92" y="220.97" width="3.76" height="3.84" fill="#f59a22" />
<rect x="479.38" y="220.97" width="6.92" height="3.84" fill="#ffffff" />
<rect x="451.7" y="224.51" width="7.22" height="3.85" fill="#fdf0a0" />
<rect x="458.62" y="224.51" width="21.06" height="3.85" fill="#ffffff" />
<rect x="479.38" y="224.51" width="6.92" height="3.85" fill="#ffdc32" />
<rect x="451.7" y="228.06" width="3.76" height="3.84" fill="#ffffff" />
<rect x="455.16" y="228.06" width="3.76" height="3.84" fill="#e2441c" />
<rect x="458.62" y="228.06" width="3.76" height="3.84" fill="#000000" />
<rect x="462.08" y="228.06" width="17.6" height="3.84" fill="#ffffff" />
<rect x="479.38" y="228.06" width="6.92" height="3.84" fill="#ffdc32" />
<rect x="451.7" y="231.6" width="27.98" height="3.84" fill="#ffffff" />
<rect x="479.38" y="231.6" width="6.92" height="3.84" fill="#ffe868" />
<rect x="451.7" y="235.15" width="34.6" height="3.85" fill="#ffffff" />
<rect x="451.7" y="238.69" width="34.6" height="3.84" fill="#ffffff" />
<rect x="451.7" y="242.24" width="34.6" height="3.85" fill="#ffffff" />
<rect x="451.7" y="245.78" width="34.6" height="3.84" fill="#ffffff" />
<rect x="451.7" y="249.33" width="27.98" height="3.85" fill="#ffffff" />
<rect x="479.38" y="249.33" width="6.92" height="3.85" fill="#ffdc32" />
<rect x="451.7" y="252.88" width="3.76" height="3.84" fill="#8e1c0e" />
<rect x="455.16" y="252.88" width="10.68" height="3.84" fill="#ffffff" />
<rect x="465.54" y="252.88" width="3.76" height="3.84" fill="#ffe868" />
<rect x="469" y="252.88" width="7.22" height="3.84" fill="#ffffff" />
<rect x="475.92" y="252.88" width="3.76" height="3.84" fill="#ffdc32" />
<rect x="479.38" y="252.88" width="6.92" height="3.84" fill="#ffffff" />
<rect x="451.7" y="256.42" width="3.76" height="3.85" fill="#000000" />
<rect x="455.16" y="256.42" width="3.76" height="3.85" fill="#e2441c" />
<rect x="458.62" y="256.42" width="7.22" height="3.85" fill="#ffffff" />
<rect x="465.54" y="256.42" width="3.76" height="3.85" fill="#8e1c0e" />
<rect x="469" y="256.42" width="17.3" height="3.85" fill="#ffffff" />
<rect x="451.7" y="259.96" width="3.76" height="3.85" fill="#000000" />
<rect x="455.16" y="259.96" width="3.76" height="3.85" fill="#e2441c" />
<rect x="458.62" y="259.96" width="7.22" height="3.85" fill="#ffdc32" />
<rect x="465.54" y="259.96" width="3.76" height="3.85" fill="#f59a22" />
<rect x="469" y="259.96" width="3.76" height="3.85" fill="#ffdc32" />
<rect x="472.46" y="259.96" width="13.84" height="3.85" fill="#ffffff" />
<rect x="451.7" y="263.51" width="3.76" height="3.85" fill="#3a100a" />
<rect x="455.16" y="263.51" width="7.22" height="3.85" fill="#ffffff" />
<rect x="462.08" y="263.51" width="3.76" height="3.85" fill="#ffdc32" />
<rect x="465.54" y="263.51" width="20.76" height="3.85" fill="#ffffff" />
<rect x="451.7" y="267.06" width="14.14" height="3.55" fill="#ffffff" />
<rect x="465.54" y="267.06" width="7.22" height="3.55" fill="#f59a22" />
<rect x="472.46" y="267.06" width="13.84" height="3.55" fill="#ffffff" />
<rect x="492.6" y="199.7" width="34.6" height="70.9" fill="#000000" />
<rect x="492.6" y="199.7" width="31.44" height="3.84" fill="#000000" />
<rect x="523.74" y="199.7" width="3.46" height="3.84" fill="#f07a20" />
<rect x="492.6" y="203.24" width="21.06" height="3.85" fill="#000000" />
<rect x="513.36" y="203.24" width="7.22" height="3.85" fill="#e2441c" />
<rect x="520.28" y="203.24" width="3.76" height="3.85" fill="#f07a20" />
<rect x="523.74" y="203.24" width="3.46" height="3.85" fill="#e2441c" />
<rect x="492.6" y="206.79" width="3.76" height="3.84" fill="#000000" />
<rect x="496.06" y="206.79" width="3.76" height="3.84" fill="#3a100a" />
<rect x="499.52" y="206.79" width="14.14" height="3.84" fill="#5a140c" />
<rect x="513.36" y="206.79" width="3.76" height="3.84" fill="#e2441c" />
<rect x="516.82" y="206.79" width="7.22" height="3.84" fill="#f07a20" />
<rect x="523.74" y="206.79" width="3.46" height="3.84" fill="#e2441c" />
<rect x="492.6" y="210.33" width="17.6" height="3.85" fill="#5a140c" />
<rect x="509.9" y="210.33" width="3.76" height="3.85" fill="#e2441c" />
<rect x="513.36" y="210.33" width="13.84" height="3.85" fill="#f07a20" />
<rect x="492.6" y="213.88" width="14.14" height="3.84" fill="#8e1c0e" />
<rect x="506.44" y="213.88" width="7.22" height="3.84" fill="#e2441c" />
<rect x="513.36" y="213.88" width="3.76" height="3.84" fill="#f07a20" />
<rect x="516.82" y="213.88" width="10.38" height="3.84" fill="#e2441c" />
<rect x="492.6" y="217.42" width="7.22" height="3.85" fill="#3a100a" />
<rect x="499.52" y="217.42" width="3.76" height="3.85" fill="#5a140c" />
<rect x="502.98" y="217.42" width="7.22" height="3.85" fill="#000000" />
<rect x="509.9" y="217.42" width="10.68" height="3.85" fill="#f07a20" />
<rect x="520.28" y="217.42" width="3.76" height="3.85" fill="#c22c16" />
<rect x="523.74" y="217.42" width="3.46" height="3.85" fill="#e2441c" />
<rect x="492.6" y="220.97" width="14.14" height="3.84" fill="#000000" />
<rect x="506.44" y="220.97" width="3.76" height="3.84" fill="#f07a20" />
<rect x="509.9" y="220.97" width="7.22" height="3.84" fill="#f59a22" />
<rect x="516.82" y="220.97" width="3.76" height="3.84" fill="#f07a20" />
<rect x="520.28" y="220.97" width="6.92" height="3.84" fill="#000000" />
<rect x="492.6" y="224.51" width="14.14" height="3.85" fill="#000000" />
<rect x="506.44" y="224.51" width="10.68" height="3.85" fill="#f59a22" />
<rect x="516.82" y="224.51" width="3.76" height="3.85" fill="#e2441c" />
<rect x="520.28" y="224.51" width="6.92" height="3.85" fill="#000000" />
<rect x="492.6" y="228.06" width="14.14" height="3.84" fill="#000000" />
<rect x="506.44" y="228.06" width="7.22" height="3.84" fill="#f07a20" />
<rect x="513.36" y="228.06" width="3.76" height="3.84" fill="#e2441c" />
<rect x="516.82" y="228.06" width="10.38" height="3.84" fill="#000000" />
<rect x="492.6" y="231.6" width="7.22" height="3.84" fill="#000000" />
<rect x="499.52" y="231.6" width="21.06" height="3.84" fill="#e2441c" />
<rect x="520.28" y="231.6" width="3.76" height="3.84" fill="#5a140c" />
<rect x="523.74" y="231.6" width="3.46" height="3.84" fill="#000000" />
<rect x="492.6" y="235.15" width="7.22" height="3.85" fill="#000000" />
<rect x="499.52" y="235.15" width="3.76" height="3.85" fill="#e2441c" />
<rect x="502.98" y="235.15" width="3.76" height="3.85" fill="#000000" />
<rect x="506.44" y="235.15" width="17.6" height="3.85" fill="#e2441c" />
<rect x="523.74" y="235.15" width="3.46" height="3.85" fill="#5a140c" />
<rect x="492.6" y="238.69" width="7.22" height="3.84" fill="#5a140c" />
<rect x="499.52" y="238.69" width="3.76" height="3.84" fill="#c22c16" />
<rect x="502.98" y="238.69" width="21.06" height="3.84" fill="#e2441c" />
<rect x="523.74" y="238.69" width="3.46" height="3.84" fill="#3a100a" />
<rect x="492.6" y="242.24" width="7.22" height="3.85" fill="#000000" />
<rect x="499.52" y="242.24" width="3.76" height="3.85" fill="#8e1c0e" />
<rect x="502.98" y="242.24" width="7.22" height="3.85" fill="#c22c16" />
<rect x="509.9" y="242.24" width="7.22" height="3.85" fill="#e2441c" />
<rect x="516.82" y="242.24" width="3.76" height="3.85" fill="#c22c16" />
<rect x="520.28" y="242.24" width="3.76" height="3.85" fill="#8e1c0e" />
<rect x="523.74" y="242.24" width="3.46" height="3.85" fill="#000000" />
<rect x="492.6" y="245.78" width="10.68" height="3.84" fill="#000000" />
<rect x="502.98" y="245.78" width="7.22" height="3.84" fill="#e2441c" />
<rect x="509.9" y="245.78" width="3.76" height="3.84" fill="#c22c16" />
<rect x="513.36" y="245.78" width="3.76" height="3.84" fill="#e2441c" />
<rect x="516.82" y="245.78" width="10.38" height="3.84" fill="#000000" />
<rect x="492.6" y="249.33" width="7.22" height="3.85" fill="#000000" />
<rect x="499.52" y="249.33" width="3.76" height="3.85" fill="#c22c16" />
<rect x="502.98" y="249.33" width="14.14" height="3.85" fill="#e2441c" />
<rect x="516.82" y="249.33" width="10.38" height="3.85" fill="#000000" />
<rect x="492.6" y="252.88" width="3.76" height="3.84" fill="#000000" />
<rect x="496.06" y="252.88" width="7.22" height="3.84" fill="#e2441c" />
<rect x="502.98" y="252.88" width="3.76" height="3.84" fill="#c22c16" />
<rect x="506.44" y="252.88" width="7.22" height="3.84" fill="#e2441c" />
<rect x="513.36" y="252.88" width="13.84" height="3.84" fill="#000000" />
<rect x="492.6" y="256.42" width="10.68" height="3.85" fill="#000000" />
<rect x="502.98" y="256.42" width="7.22" height="3.85" fill="#8e1c0e" />
<rect x="509.9" y="256.42" width="3.76" height="3.85" fill="#c22c16" />
<rect x="513.36" y="256.42" width="13.84" height="3.85" fill="#000000" />
<rect x="492.6" y="259.96" width="10.68" height="3.85" fill="#000000" />
<rect x="502.98" y="259.96" width="3.76" height="3.85" fill="#5a140c" />
<rect x="506.44" y="259.96" width="3.76" height="3.85" fill="#8e1c0e" />
<rect x="509.9" y="259.96" width="17.3" height="3.85" fill="#000000" />
<rect x="492.6" y="263.51" width="34.6" height="3.85" fill="#000000" />
<rect x="492.6" y="267.06" width="34.6" height="3.55" fill="#000000" />
<rect x="451.7" y="289.7" width="34.6" height="70.9" fill="#ffdc32" />
<rect x="451.7" y="289.7" width="3.76" height="3.85" fill="#ffdc32" />
<rect x="455.16" y="289.7" width="3.76" height="3.85" fill="#fbb82a" />
<rect x="458.62" y="289.7" width="7.22" height="3.85" fill="#ffdc32" />
<rect x="465.54" y="289.7" width="14.14" height="3.85" fill="#f59a22" />
<rect x="479.38" y="289.7" width="3.76" height="3.85" fill="#fbb82a" />
<rect x="482.84" y="289.7" width="3.46" height="3.85" fill="#ffdc32" />
<rect x="451.7" y="293.25" width="7.22" height="3.84" fill="#ffdc32" />
<rect x="458.62" y="293.25" width="3.76" height="3.84" fill="#000000" />
<rect x="462.08" y="293.25" width="3.76" height="3.84" fill="#ffdc32" />
<rect x="465.54" y="293.25" width="7.22" height="3.84" fill="#f59a22" />
<rect x="472.46" y="293.25" width="3.76" height="3.84" fill="#fbb82a" />
<rect x="475.92" y="293.25" width="7.22" height="3.84" fill="#f59a22" />
<rect x="482.84" y="293.25" width="3.46" height="3.84" fill="#fbb82a" />
<rect x="451.7" y="296.79" width="7.22" height="3.85" fill="#ffdc32" />
<rect x="458.62" y="296.79" width="10.68" height="3.85" fill="#ffe868" />
<rect x="469" y="296.79" width="17.3" height="3.85" fill="#ffdc32" />
<rect x="451.7" y="300.33" width="3.76" height="3.85" fill="#ffdc32" />
<rect x="455.16" y="300.33" width="21.06" height="3.85" fill="#fff4b8" />
<rect x="475.92" y="300.33" width="10.38" height="3.85" fill="#ffdc32" />
<rect x="451.7" y="303.88" width="10.68" height="3.85" fill="#e2441c" />
<rect x="462.08" y="303.88" width="17.6" height="3.85" fill="#fff4b8" />
<rect x="479.38" y="303.88" width="6.92" height="3.85" fill="#ffdc32" />
<rect x="451.7" y="307.43" width="10.68" height="3.84" fill="#e2441c" />
<rect x="462.08" y="307.43" width="21.06" height="3.84" fill="#fff4b8" />
<rect x="482.84" y="307.43" width="3.46" height="3.84" fill="#ffdc32" />
<rect x="451.7" y="310.97" width="10.68" height="3.85" fill="#e2441c" />
<rect x="462.08" y="310.97" width="17.6" height="3.85" fill="#fff4b8" />
<rect x="479.38" y="310.97" width="6.92" height="3.85" fill="#ffdc32" />
<rect x="451.7" y="314.51" width="7.22" height="3.85" fill="#e2441c" />
<rect x="458.62" y="314.51" width="7.22" height="3.85" fill="#000000" />
<rect x="465.54" y="314.51" width="7.22" height="3.85" fill="#fff4b8" />
<rect x="472.46" y="314.51" width="7.22" height="3.85" fill="#ffdc32" />
<rect x="479.38" y="314.51" width="6.92" height="3.85" fill="#f59a22" />
<rect x="451.7" y="318.06" width="10.68" height="3.85" fill="#ffdc32" />
<rect x="462.08" y="318.06" width="3.76" height="3.85" fill="#ffe868" />
<rect x="465.54" y="318.06" width="3.76" height="3.85" fill="#fff4b8" />
<rect x="469" y="318.06" width="10.68" height="3.85" fill="#ffdc32" />
<rect x="479.38" y="318.06" width="6.92" height="3.85" fill="#f59a22" />
<rect x="451.7" y="321.61" width="14.14" height="3.84" fill="#ffdc32" />
<rect x="465.54" y="321.61" width="3.76" height="3.84" fill="#ffffff" />
<rect x="469" y="321.61" width="7.22" height="3.84" fill="#ffdc32" />
<rect x="475.92" y="321.61" width="3.76" height="3.84" fill="#ffffff" />
<rect x="479.38" y="321.61" width="6.92" height="3.84" fill="#ffdc32" />
<rect x="451.7" y="325.15" width="17.6" height="3.85" fill="#ffdc32" />
<rect x="469" y="325.15" width="3.76" height="3.85" fill="#ffffff" />
<rect x="472.46" y="325.15" width="13.84" height="3.85" fill="#ffdc32" />
<rect x="451.7" y="328.69" width="10.68" height="3.85" fill="#ffdc32" />
<rect x="462.08" y="328.69" width="21.06" height="3.85" fill="#fff4b8" />
<rect x="482.84" y="328.69" width="3.46" height="3.85" fill="#ffdc32" />
<rect x="451.7" y="332.24" width="7.22" height="3.84" fill="#ffdc32" />
<rect x="458.62" y="332.24" width="21.06" height="3.84" fill="#fff4b8" />
<rect x="479.38" y="332.24" width="6.92" height="3.84" fill="#ffdc32" />
<rect x="451.7" y="335.78" width="7.22" height="3.85" fill="#ffdc32" />
<rect x="458.62" y="335.78" width="17.6" height="3.85" fill="#fff4b8" />
<rect x="475.92" y="335.78" width="7.22" height="3.85" fill="#ffdc32" />
<rect x="482.84" y="335.78" width="3.46" height="3.85" fill="#fbb82a" />
<rect x="451.7" y="339.33" width="24.52" height="3.85" fill="#ffdc32" />
<rect x="475.92" y="339.33" width="10.38" height="3.85" fill="#f59a22" />
<rect x="451.7" y="342.88" width="3.76" height="3.84" fill="#000000" />
<rect x="455.16" y="342.88" width="10.68" height="3.84" fill="#ffdc32" />
<rect x="465.54" y="342.88" width="3.76" height="3.84" fill="#000000" />
<rect x="469" y="342.88" width="7.22" height="3.84" fill="#ffdc32" />
<rect x="475.92" y="342.88" width="3.76" height="3.84" fill="#f59a22" />
<rect x="479.38" y="342.88" width="3.76" height="3.84" fill="#f07a20" />
<rect x="482.84" y="342.88" width="3.46" height="3.84" fill="#ffdc32" />
<rect x="451.7" y="346.42" width="3.76" height="3.85" fill="#000000" />
<rect x="455.16" y="346.42" width="7.22" height="3.85" fill="#e2441c" />
<rect x="462.08" y="346.42" width="17.6" height="3.85" fill="#ffdc32" />
<rect x="479.38" y="346.42" width="3.76" height="3.85" fill="#e2441c" />
<rect x="482.84" y="346.42" width="3.46" height="3.85" fill="#ffdc32" />
<rect x="451.7" y="349.96" width="3.76" height="3.85" fill="#e2441c" />
<rect x="455.16" y="349.96" width="7.22" height="3.85" fill="#8e1c0e" />
<rect x="462.08" y="349.96" width="7.22" height="3.85" fill="#f59a22" />
<rect x="469" y="349.96" width="7.22" height="3.85" fill="#000000" />
<rect x="475.92" y="349.96" width="10.38" height="3.85" fill="#ffdc32" />
<rect x="451.7" y="353.51" width="3.76" height="3.85" fill="#ffdc32" />
<rect x="455.16" y="353.51" width="17.6" height="3.85" fill="#f59a22" />
<rect x="472.46" y="353.51" width="13.84" height="3.85" fill="#ffdc32" />
<rect x="451.7" y="357.06" width="7.22" height="3.55" fill="#ffdc32" />
<rect x="458.62" y="357.06" width="14.14" height="3.55" fill="#f59a22" />
<rect x="472.46" y="357.06" width="13.84" height="3.55" fill="#ffdc32" />
<rect x="492.6" y="289.7" width="34.6" height="70.9" fill="#ffdc32" />
<rect x="492.6" y="289.7" width="7.22" height="3.85" fill="#ffdc32" />
<rect x="499.52" y="289.7" width="7.22" height="3.85" fill="#000000" />
<rect x="506.44" y="289.7" width="7.22" height="3.85" fill="#f59a22" />
<rect x="513.36" y="289.7" width="7.22" height="3.85" fill="#f07a20" />
<rect x="520.28" y="289.7" width="6.92" height="3.85" fill="#f59a22" />
<rect x="492.6" y="293.25" width="3.76" height="3.84" fill="#fff4b8" />
<rect x="496.06" y="293.25" width="3.76" height="3.84" fill="#ffdc32" />
<rect x="499.52" y="293.25" width="3.76" height="3.84" fill="#000000" />
<rect x="502.98" y="293.25" width="17.6" height="3.84" fill="#ffe868" />
<rect x="520.28" y="293.25" width="6.92" height="3.84" fill="#ffdc32" />
<rect x="492.6" y="296.79" width="3.76" height="3.85" fill="#ffdc32" />
<rect x="496.06" y="296.79" width="21.06" height="3.85" fill="#fff4b8" />
<rect x="516.82" y="296.79" width="10.38" height="3.85" fill="#ffe868" />
<rect x="492.6" y="300.33" width="3.76" height="3.85" fill="#ffe868" />
<rect x="496.06" y="300.33" width="24.52" height="3.85" fill="#fff4b8" />
<rect x="520.28" y="300.33" width="6.92" height="3.85" fill="#ffe868" />
<rect x="492.6" y="303.88" width="7.22" height="3.85" fill="#ffe868" />
<rect x="499.52" y="303.88" width="24.52" height="3.85" fill="#fff4b8" />
<rect x="523.74" y="303.88" width="3.46" height="3.85" fill="#ffe868" />
<rect x="492.6" y="307.43" width="7.22" height="3.84" fill="#ffe868" />
<rect x="499.52" y="307.43" width="21.06" height="3.84" fill="#fff4b8" />
<rect x="520.28" y="307.43" width="6.92" height="3.84" fill="#ffe868" />
<rect x="492.6" y="310.97" width="7.22" height="3.85" fill="#ffe868" />
<rect x="499.52" y="310.97" width="3.76" height="3.85" fill="#f59a22" />
<rect x="502.98" y="310.97" width="3.76" height="3.85" fill="#000000" />
<rect x="506.44" y="310.97" width="10.68" height="3.85" fill="#fff4b8" />
<rect x="516.82" y="310.97" width="3.76" height="3.85" fill="#e2441c" />
<rect x="520.28" y="310.97" width="6.92" height="3.85" fill="#ffe868" />
<rect x="492.6" y="314.51" width="7.22" height="3.85" fill="#ffdc32" />
<rect x="499.52" y="314.51" width="3.76" height="3.85" fill="#f07a20" />
<rect x="502.98" y="314.51" width="3.76" height="3.85" fill="#000000" />
<rect x="506.44" y="314.51" width="14.14" height="3.85" fill="#ffe868" />
<rect x="520.28" y="314.51" width="3.76" height="3.85" fill="#e2441c" />
<rect x="523.74" y="314.51" width="3.46" height="3.85" fill="#ffdc32" />
<rect x="492.6" y="318.06" width="7.22" height="3.85" fill="#ffdc32" />
<rect x="499.52" y="318.06" width="3.76" height="3.85" fill="#8e1c0e" />
<rect x="502.98" y="318.06" width="7.22" height="3.85" fill="#ffdc32" />
<rect x="509.9" y="318.06" width="7.22" height="3.85" fill="#ffe868" />
<rect x="516.82" y="318.06" width="10.38" height="3.85" fill="#ffdc32" />
<rect x="492.6" y="321.61" width="14.14" height="3.84" fill="#ffdc32" />
<rect x="506.44" y="321.61" width="7.22" height="3.84" fill="#ffe868" />
<rect x="513.36" y="321.61" width="7.22" height="3.84" fill="#ffffff" />
<rect x="520.28" y="321.61" width="6.92" height="3.84" fill="#ffdc32" />
<rect x="492.6" y="325.15" width="17.6" height="3.85" fill="#ffdc32" />
<rect x="509.9" y="325.15" width="7.22" height="3.85" fill="#ffe868" />
<rect x="516.82" y="325.15" width="10.38" height="3.85" fill="#ffdc32" />
<rect x="492.6" y="328.69" width="7.22" height="3.85" fill="#ffe868" />
<rect x="499.52" y="328.69" width="24.52" height="3.85" fill="#fccc2a" />
<rect x="523.74" y="328.69" width="3.46" height="3.85" fill="#ffe868" />
<rect x="492.6" y="332.24" width="3.76" height="3.84" fill="#ffe868" />
<rect x="496.06" y="332.24" width="24.52" height="3.84" fill="#fccc2a" />
<rect x="520.28" y="332.24" width="6.92" height="3.84" fill="#ffe868" />
<rect x="492.6" y="335.78" width="7.22" height="3.85" fill="#ffe868" />
<rect x="499.52" y="335.78" width="17.6" height="3.85" fill="#fccc2a" />
<rect x="516.82" y="335.78" width="7.22" height="3.85" fill="#ffe868" />
<rect x="523.74" y="335.78" width="3.46" height="3.85" fill="#ffdc32" />
<rect x="492.6" y="339.33" width="7.22" height="3.85" fill="#ffdc32" />
<rect x="499.52" y="339.33" width="14.14" height="3.85" fill="#ffe868" />
<rect x="513.36" y="339.33" width="3.76" height="3.85" fill="#e2441c" />
<rect x="516.82" y="339.33" width="7.22" height="3.85" fill="#ffe868" />
<rect x="523.74" y="339.33" width="3.46" height="3.85" fill="#000000" />
<rect x="492.6" y="342.88" width="3.76" height="3.84" fill="#000000" />
<rect x="496.06" y="342.88" width="3.76" height="3.84" fill="#f59a22" />
<rect x="499.52" y="342.88" width="7.22" height="3.84" fill="#ffdc32" />
<rect x="506.44" y="342.88" width="3.76" height="3.84" fill="#000000" />
<rect x="509.9" y="342.88" width="7.22" height="3.84" fill="#ffdc32" />
<rect x="516.82" y="342.88" width="7.22" height="3.84" fill="#f59a22" />
<rect x="523.74" y="342.88" width="3.46" height="3.84" fill="#ffdc32" />
<rect x="492.6" y="346.42" width="7.22" height="3.85" fill="#f59a22" />
<rect x="499.52" y="346.42" width="7.22" height="3.85" fill="#ffdc32" />
<rect x="506.44" y="346.42" width="7.22" height="3.85" fill="#e2441c" />
<rect x="513.36" y="346.42" width="13.84" height="3.85" fill="#ffdc32" />
<rect x="492.6" y="349.96" width="3.76" height="3.85" fill="#ffdc32" />
<rect x="496.06" y="349.96" width="3.76" height="3.85" fill="#000000" />
<rect x="499.52" y="349.96" width="10.68" height="3.85" fill="#ffdc32" />
<rect x="509.9" y="349.96" width="3.76" height="3.85" fill="#000000" />
<rect x="513.36" y="349.96" width="13.84" height="3.85" fill="#ffdc32" />
<rect x="492.6" y="353.51" width="10.68" height="3.85" fill="#ffdc32" />
<rect x="502.98" y="353.51" width="7.22" height="3.85" fill="#ffe868" />
<rect x="509.9" y="353.51" width="17.3" height="3.85" fill="#ffdc32" />
<rect x="492.6" y="357.06" width="7.22" height="3.55" fill="#ffdc32" />
<rect x="499.52" y="357.06" width="10.68" height="3.55" fill="#ffe868" />
<rect x="509.9" y="357.06" width="17.3" height="3.55" fill="#ffdc32" />
</g>
<rect x="451.7" y="199.7" width="34.7" height="70.95" fill="none" stroke="#7a8aa0" stroke-width="0.4"/>
<rect x="492.6" y="199.7" width="34.7" height="70.95" fill="none" stroke="#7a8aa0" stroke-width="0.4"/>
<rect x="451.7" y="289.7" width="34.7" height="70.95" fill="none" stroke="#7a8aa0" stroke-width="0.4"/>
<rect x="492.6" y="289.7" width="34.7" height="70.95" fill="none" stroke="#7a8aa0" stroke-width="0.4"/>
<path d="M451.6 207L473 207L473 210L477 210L477 213.4L480 213.4L480 217L477 217L477 220.4L473 220.4L473 223.4L470 223.4L470 226.4L466 226.4L466 229.4L463 229.4L463 224L460 224L460 214L451.6 214Z" fill="none" stroke="#2f6f9f" stroke-width="0.8"/>
<path d="M459 239L459 236L470 236L470 239L477 239L477 236L487 236L487 242L480 242L480 245.4L473 245.4L473 251L460 251L460 246L457 246L457 239Z" fill="none" stroke="#2f6f9f" stroke-width="0.8"/>
<path d="M451.6 297L457 297L457 293.6L467 293.6L467 297L473 297L473 300L477 300L477 303.4L480 303.4L480 307L477 307L477 310.4L473 310.4L473 313.4L470 313.4L470 316.4L466 316.4L466 319.4L463 319.4L463 314L460 314L460 304L451.6 304Z" fill="none" stroke="#2f6a94" stroke-width="0.8"/>
<path d="M459 329L459 326L470 326L470 329L477 329L477 326L487 326L487 332L480 332L480 335.4L473 335.4L473 341L460 341L460 336L457 336L457 329Z" fill="none" stroke="#2f6a94" stroke-width="0.8"/>
<path d="M492.5 297L497.9 297L497.9 293.6L507.9 293.6L507.9 297L513.9 297L513.9 300L517.9 300L517.9 303.4L520.9 303.4L520.9 307L517.9 307L517.9 310.4L513.9 310.4L513.9 313.4L510.9 313.4L510.9 316.4L506.9 316.4L506.9 319.4L503.9 319.4L503.9 314L500.9 314L500.9 304L492.5 304Z" fill="none" stroke="#2f6a94" stroke-width="0.8"/>
<path d="M499.9 329L499.9 326L510.9 326L510.9 329L517.9 329L517.9 326L527.9 326L527.9 332L520.9 332L520.9 335.4L513.9 335.4L513.9 341L500.9 341L500.9 336L497.9 336L497.9 329Z" fill="none" stroke="#2f6a94" stroke-width="0.8"/>
<text x="468" y="217.6" font-size="4" fill="#222" font-weight="bold" text-anchor="middle" font-family="Liberation Serif, serif" >I</text>
<text x="466.4" y="246.6" font-size="4" fill="#222" font-weight="bold" text-anchor="middle" font-family="Liberation Serif, serif" >II</text>
<text x="465.8" y="197.6" font-size="5.4" fill="#222" font-weight="bold" text-anchor="middle" >m(1,1)</text>
<text x="506.4" y="197.6" font-size="5.4" fill="#222" font-weight="bold" text-anchor="middle" >m(1, 1̄)</text>
<text x="465.8" y="287.6" font-size="5.4" fill="#222" font-weight="bold" text-anchor="middle" >m(1,0)</text>
<text x="505.6" y="287.6" font-size="5.4" fill="#222" font-weight="bold" text-anchor="middle" >m(0,1)</text>
<line x1="528.4" y1="200" x2="528.4" y2="270.6" stroke="#3a86d0" stroke-width="0.6" />
<path d="M527.4 201.6 L528.4 199.6 L529.4 201.6Z M527.4 269 L528.4 271 L529.4 269Z" fill="#3a86d0"/>
<line x1="493" y1="271.4" x2="527.4" y2="271.4" stroke="#3a86d0" stroke-width="0.6" />
<path d="M494.6 270.4 L492.6 271.4 L494.6 272.4Z M526 270.4 L528 271.4 L526 272.4Z" fill="#3a86d0"/>
<text x="530" y="236.4" font-size="3.2" fill="#222" font-weight="bold" text-anchor="start" >50nm</text>
<text x="509.6" y="275.6" font-size="3.2" fill="#222" font-weight="bold" text-anchor="middle" >24nm</text>
<rect x="529.4" y="287" width="4" height="74.4" fill="url(#hot)" stroke="#555" stroke-width="0.3"/>
<text x="534.4" y="288.1" font-size="2.8" fill="#333" font-weight="normal" text-anchor="start" >90</text>
<text x="534.4" y="295.3" font-size="2.8" fill="#333" font-weight="normal" text-anchor="start" >87</text>
<text x="534.4" y="302.5" font-size="2.8" fill="#333" font-weight="normal" text-anchor="start" >84</text>
<text x="534.4" y="309.7" font-size="2.8" fill="#333" font-weight="normal" text-anchor="start" >81</text>
<text x="534.4" y="316.9" font-size="2.8" fill="#333" font-weight="normal" text-anchor="start" >78</text>
<text x="534.4" y="324.1" font-size="2.8" fill="#333" font-weight="normal" text-anchor="start" >75</text>
<text x="534.4" y="331.3" font-size="2.8" fill="#333" font-weight="normal" text-anchor="start" >72</text>
<text x="534.4" y="338.5" font-size="2.8" fill="#333" font-weight="normal" text-anchor="start" >69</text>
<text x="534.4" y="345.7" font-size="2.8" fill="#333" font-weight="normal" text-anchor="start" >66</text>
<text x="534.4" y="352.9" font-size="2.8" fill="#333" font-weight="normal" text-anchor="start" >63</text>
<text x="534.4" y="360.1" font-size="2.8" fill="#333" font-weight="normal" text-anchor="start" >60</text>
<text x="0" y="0" font-size="2.9" fill="#333" font-weight="normal" text-anchor="middle" transform="translate(543.4 324) rotate(-90)">cross-correlation coefficient γ (%)</text>
</svg></div></body></html>
